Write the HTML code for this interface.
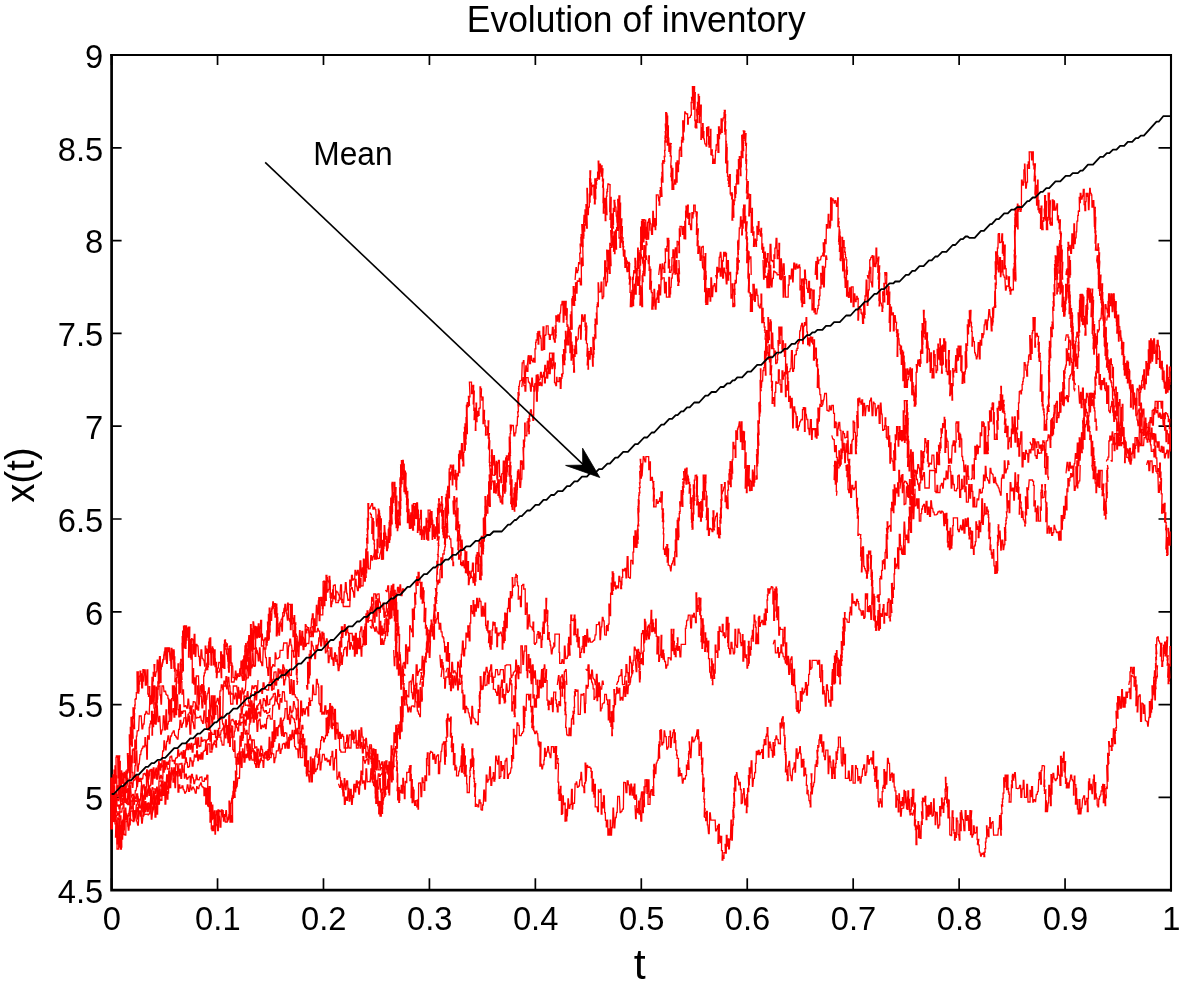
<!DOCTYPE html>
<html><head><meta charset="utf-8"><title>Evolution of inventory</title>
<style>
html,body{margin:0;padding:0;background:#fff;}
svg{display:block;}
text{font-family:"Liberation Sans",sans-serif;fill:#000;}
</style></head><body>
<svg width="1181" height="991" viewBox="0 0 1181 991">
<rect width="1181" height="991" fill="#fff"/>
<path d="M111.60 890.20V878.20M111.60 55.00V65.00M217.54 890.20V878.20M217.54 55.00V65.00M323.48 890.20V878.20M323.48 55.00V65.00M429.42 890.20V878.20M429.42 55.00V65.00M535.36 890.20V878.20M535.36 55.00V65.00M641.30 890.20V878.20M641.30 55.00V65.00M747.24 890.20V878.20M747.24 55.00V65.00M853.18 890.20V878.20M853.18 55.00V65.00M959.12 890.20V878.20M959.12 55.00V65.00M1065.06 890.20V878.20M1065.06 55.00V65.00M1171.00 890.20V878.20M1171.00 55.00V65.00M111.60 890.20H121.60M1171.00 890.20H1158.50M111.60 797.40H121.60M1171.00 797.40H1158.50M111.60 704.60H121.60M1171.00 704.60H1158.50M111.60 611.80H121.60M1171.00 611.80H1158.50M111.60 519.00H121.60M1171.00 519.00H1158.50M111.60 426.20H121.60M1171.00 426.20H1158.50M111.60 333.40H121.60M1171.00 333.40H1158.50M111.60 240.60H121.60M1171.00 240.60H1158.50M111.60 147.80H121.60M1171.00 147.80H1158.50M111.60 55.00H121.60M1171.00 55.00H1158.50" stroke="#000" stroke-width="1.7" fill="none"/>
<path d="M110.30 55.00H1172.00M1171.00 54.00V891.50" stroke="#000" stroke-width="2.1" fill="none"/>
<path d="M111.60 54.00V891.50M110.30 890.20H1172.00" stroke="#000" stroke-width="2.7" fill="none"/>
<g fill="none" stroke="#ff0000" stroke-width="1.3" stroke-linejoin="miter" stroke-miterlimit="2"><path d="M575.1 280.0L576.0 267.7L576.4 267.7L576.9 272.7L577.6 272.7L577.7 270.3L578.2 270.3L578.6 262.6L579.3 262.6L579.0 263.8L579.5 263.8L579.3 263.8L580.1 263.8L579.7 253.2L580.6 253.2L580.1 244.2L580.8 244.2L580.4 245.9L581.1 245.9L580.8 237.4L581.3 237.4L581.1 234.7L581.8 234.7L581.5 241.9L582.4 241.9L581.8 224.6L582.6 224.6L582.2 246.5L583.0 246.5L582.7 231.3L583.6 231.3L583.1 235.7L583.8 235.7L583.6 225.2L584.5 225.2L584.1 231.0L584.7 231.0L584.6 224.6L585.1 224.6L585.0 209.9L585.8 209.9L585.5 214.2L586.3 214.2L586.0 224.1L586.6 224.1L586.5 205.0L587.2 205.0L586.9 188.4L587.4 188.4L587.7 214.6L588.4 214.6L588.5 207.2L589.4 207.2L589.3 194.2L589.9 194.2L589.4 202.0L590.1 202.0L589.6 178.7L590.1 178.7L589.7 196.6L590.3 196.6L589.9 171.0L590.5 171.0L590.0 171.0L590.7 171.0L590.3 179.2L590.8 179.2L590.7 183.2L591.5 183.2L591.0 185.2L591.6 185.2L591.3 194.9L591.8 194.9L591.7 186.5L592.4 186.5L592.9 185.2L593.8 185.2L594.0 198.2L594.6 198.2L594.4 203.9L595.2 203.9L594.8 178.8L595.7 178.8L595.2 198.9L595.8 198.9L595.6 188.2L596.3 188.2L596.0 184.1L596.6 184.1L596.4 180.4L597.2 180.4L597.0 178.4L597.6 178.4L597.6 172.2L598.4 172.2L598.2 161.2L598.8 161.2L598.8 179.0L599.5 179.0L600.0 164.2L600.5 164.2L601.2 173.1L601.7 173.1L601.3 176.2L602.2 176.2L601.5 166.0L602.1 166.0L601.7 168.8L602.5 168.8L601.9 172.1L602.8 172.1L602.1 168.4L602.6 168.4L602.2 168.8L603.0 168.8L602.4 180.9L603.2 180.9L602.6 187.0L603.4 187.0L602.8 179.2L603.5 179.2L603.0 202.7L603.8 202.7L603.2 188.8L603.7 188.8L603.3 213.2L603.9 213.2L603.5 204.1L604.3 204.1L603.9 200.6L604.8 200.6L604.4 207.8L605.2 207.8L604.8 198.4L605.3 198.4L605.2 220.5L606.0 220.5L605.4 220.5L605.9 220.5L605.6 211.7L606.4 211.7L605.8 207.1L606.7 207.1L606.0 202.4L606.6 202.4L606.2 214.6L607.0 214.6L606.4 196.1L607.0 196.1L606.7 192.8L607.1 192.8L606.9 191.3L607.6 191.3L607.1 189.5L607.6 189.5L607.9 184.0L608.6 184.0L608.7 184.3L609.4 184.3L609.4 184.6L610.1 184.6L609.7 211.5L610.3 211.5L610.0 219.4L610.8 219.4L610.2 213.5L610.8 213.5L610.5 197.4L611.2 197.4L610.8 227.3L611.6 227.3L611.0 223.1L611.9 223.1L611.3 218.5L612.2 218.5L611.6 229.6L612.3 229.6L611.8 242.4L612.5 242.4L612.2 238.0L613.0 238.0L612.5 242.8L613.0 242.8L612.8 247.0L613.3 247.0L613.2 240.6L614.1 240.6L613.5 251.0L614.4 251.0L613.9 231.9L614.7 231.9L614.2 251.4L614.8 251.4L614.5 253.7L615.0 253.7L614.9 233.0L615.4 233.0L615.2 240.0L616.0 240.0L615.5 230.4L616.4 230.4L615.9 249.2L616.5 249.2L616.2 229.8L616.7 229.8L616.6 227.7L617.5 227.7L616.9 215.4L617.5 215.4L617.2 211.1L617.8 211.1L617.5 230.4L618.4 230.4L617.7 199.5L618.5 199.5L618.0 217.4L618.7 217.4L618.3 207.0L619.1 207.0L618.6 219.3L619.2 219.3L618.9 195.9L619.8 195.9L619.2 203.7L619.8 203.7L619.4 195.9L619.9 195.9L619.6 211.2L620.3 211.2L619.9 227.9L620.6 227.9L620.1 203.2L620.6 203.2L620.4 229.5L620.9 229.5L620.6 224.6L621.3 224.6L620.8 233.4L621.4 233.4L621.2 218.9L621.9 218.9L621.5 226.7L622.3 226.7L621.8 226.6L622.4 226.6L622.2 237.9L623.1 237.9L622.5 241.5L623.4 241.5L622.9 246.7L623.7 246.7L623.2 249.6L623.8 249.6L623.7 251.6L624.5 251.6L624.1 256.4L624.8 256.4L624.6 259.6L625.5 259.6L625.1 263.2L625.9 263.2L625.6 260.3L626.1 260.3L627.0 271.6L627.6 271.6L628.4 262.3L629.2 262.3L629.6 276.6L630.1 276.6L630.8 280.0"/><path d="M603.5 280.0L604.1 278.1L604.8 278.1L604.7 260.8L605.4 260.8L605.3 272.8L605.9 272.8L605.9 267.6L606.7 267.6L606.3 271.3L607.2 271.3L606.7 250.2L607.4 250.2L607.1 250.4L607.8 250.4L607.5 256.5L608.0 256.5L607.9 260.9L608.6 260.9L608.3 250.4L608.9 250.4L609.1 256.8L609.9 256.8L609.8 243.5L610.4 243.5L610.6 245.3L611.3 245.3L611.8 245.2L612.5 245.2L613.0 236.2L613.9 236.2L614.2 249.7"/><path d="M633.2 280.0L633.8 270.6L634.5 270.6L634.3 272.9L635.2 272.9L634.9 258.4L635.5 258.4L635.5 268.6L636.0 268.6L636.4 277.9L637.1 277.9L637.3 261.2L637.9 261.2L638.2 262.9L639.0 262.9L639.1 252.9L640.0 252.9L639.5 252.8L640.1 252.8L639.9 257.5L640.7 257.5L640.3 258.6L641.1 258.6L640.7 227.2L641.3 227.2L641.1 237.6L641.6 237.6L641.5 221.6L642.3 221.6L642.0 219.6L642.8 219.6L642.6 231.3L643.4 231.3L643.2 224.8L644.0 224.8L643.8 219.6L644.4 219.6L645.0 220.2L645.7 220.2L646.2 239.4L647.1 239.4L647.5 222.3L648.2 222.3L648.7 219.6L649.2 219.6L650.0 230.7"/><path d="M635.0 266.0L635.9 270.0L636.6 270.0L636.8 270.0L637.5 270.0L637.7 248.2L638.2 248.2L638.6 268.4L639.1 268.4L639.0 260.2L639.8 260.2L639.5 256.4L640.0 256.4L640.0 250.6L640.7 250.6L640.5 242.3L641.0 242.3L640.9 228.2L641.7 228.2L641.5 249.3L642.4 249.3L642.1 221.8L642.9 221.8L642.7 230.5L643.4 230.5L643.3 241.9L643.9 241.9L644.1 222.2L645.0 222.2L644.9 238.0L645.7 238.0L645.7 227.5L646.6 227.5L646.9 232.0L647.4 232.0L648.0 239.2L648.6 239.2L649.2 218.6L649.8 218.6L650.4 223.8L651.0 223.8L651.6 234.4L652.5 234.4L652.8 211.3L653.3 211.3L654.0 226.5L654.5 226.5L654.6 218.6L655.1 218.6L655.2 229.7L655.7 229.7L655.7 225.0L656.4 225.0L656.3 194.9L657.1 194.9L657.5 194.9L658.1 194.9L658.7 200.8L659.4 200.8L659.1 205.0L659.8 205.0L659.5 197.2L660.2 197.2L659.9 190.7L660.6 190.7L660.3 187.6L660.8 187.6L660.7 191.7L661.2 191.7L661.1 196.4L662.0 196.4L661.3 179.0L661.9 179.0L661.6 177.2L662.1 177.2L661.9 172.4L662.5 172.4L662.2 163.3L662.7 163.3L662.4 182.1L663.0 182.1L662.7 161.5L663.3 161.5L663.0 160.6L663.6 160.6L663.4 163.0L664.1 163.0L663.8 161.4L664.7 161.4L664.2 156.5L665.0 156.5L664.6 150.4L665.1 150.4L664.8 141.0L665.6 141.0L664.9 138.1L665.5 138.1L665.0 136.1L665.6 136.1L665.2 131.7L665.7 131.7L665.3 124.1L665.9 124.1L665.4 142.1L666.1 142.1L665.6 137.3L666.1 137.3L665.7 112.6L666.5 112.6L665.8 117.7L666.6 117.7L666.2 130.2L667.0 130.2L666.6 113.8L667.1 113.8L667.0 116.1L667.7 116.1L667.3 145.1L668.3 145.1L667.7 125.9L668.4 125.9L668.3 138.1L668.8 138.1L668.9 151.3L669.7 151.3L669.5 143.5L670.3 143.5L670.1 153.4L670.8 153.4L670.2 155.8L670.8 155.8L670.3 143.7L671.2 143.7L670.4 145.8L671.3 145.8L670.5 146.3L671.0 146.3L670.6 156.1L671.3 156.1L670.7 167.0L671.6 167.0L670.8 176.7L671.3 176.7L670.9 173.8L671.5 173.8L671.0 165.8L671.6 165.8L671.5 180.6L672.0 180.6L672.0 189.3L672.6 189.3L672.5 168.3L672.9 168.3L672.9 189.4L673.8 189.4L673.7 184.2L674.4 184.2L674.5 179.8L675.0 179.8L675.3 184.0L675.8 184.0L675.9 163.0L676.4 163.0L676.5 182.0L677.1 182.0L677.1 160.8L677.8 160.8L677.7 171.6L678.5 171.6L678.5 163.8L679.1 163.8L679.3 150.1L679.8 150.1L680.0 147.3L680.9 147.3L680.5 147.2L681.0 147.2L681.0 156.3L681.7 156.3L681.5 140.4L682.1 140.4L681.9 137.5L682.6 137.5L682.4 142.2L683.0 142.2L682.7 120.8L683.3 120.8L682.9 139.7L683.7 139.7L683.1 131.9L683.9 131.9L683.4 127.6L684.1 127.6L683.6 130.8L684.2 130.8L684.8 112.0L685.3 112.0L686.0 113.6L686.7 113.6L686.8 114.0L687.6 114.0L687.6 124.0L688.3 124.0L688.3 118.0L688.9 118.0L689.5 117.3L690.2 117.3L690.7 115.1L691.4 115.1L691.1 102.5L692.0 102.5L691.5 97.3L692.0 97.3L692.0 100.1L692.6 100.1L692.4 86.6L692.9 86.6L692.8 92.8L693.6 92.8L693.3 109.0L694.1 109.0L693.8 86.6L694.6 86.6L694.3 101.2L695.2 101.2L694.5 92.6L695.3 92.6L694.8 120.5L695.4 120.5L695.1 127.0L695.8 127.0L695.4 122.0L695.9 122.0L695.6 126.9L696.2 126.9L695.9 127.8L696.8 127.8L696.2 127.8L696.9 127.8L696.4 119.9L697.2 119.9L696.6 109.4L697.3 109.4L696.8 114.9L697.4 114.9L697.0 122.3L697.6 122.3L697.2 107.2L697.7 107.2L697.4 102.4L698.2 102.4L697.6 114.4L698.4 114.4L697.8 109.7L698.5 109.7L698.2 94.5L698.7 94.5L698.5 102.4L699.0 102.4L698.8 96.6L699.5 96.6L699.2 122.7L699.7 122.7L699.5 114.2L700.0 114.2L700.0 116.2L700.5 116.2L700.4 105.2L701.3 105.2L700.9 139.3L701.4 139.3L701.4 127.7L702.1 127.7L702.0 137.5L702.9 137.5L702.6 123.6L703.1 123.6L703.2 131.7L703.9 131.7L703.8 138.9L704.3 138.9L704.9 143.9L705.7 143.9L706.1 146.2L706.7 146.2L706.6 127.7L707.4 127.7L707.1 131.5L707.7 131.5L707.5 135.8L708.3 135.8L708.0 126.9L708.8 126.9L708.5 144.0L709.1 144.0L709.0 147.1L709.9 147.1L709.4 136.7L710.3 136.7L709.9 139.2L710.6 139.2L710.4 129.5L710.9 129.5L710.9 154.6L711.5 154.6L711.5 149.9L712.3 149.9L712.1 155.3L712.9 155.3L712.6 163.3L713.4 163.3L713.2 159.1L714.0 159.1L714.4 163.3L715.1 163.3L715.6 150.3L716.1 150.3L716.2 145.0L716.7 145.0L716.8 144.5L717.5 144.5L717.4 134.6L717.9 134.6L718.0 152.3L718.9 152.3L718.5 127.0L719.3 127.0L718.9 138.7L719.5 138.7L719.4 130.9L720.3 130.9L719.9 133.8L720.7 133.8L720.5 129.4L721.0 129.4L721.1 119.0L721.7 119.0L721.7 132.3L722.2 132.3L722.2 120.9L722.9 120.9L723.2 117.8L724.0 117.8L724.1 112.4L724.8 112.4L724.3 110.3L725.1 110.3L724.4 110.3L725.3 110.3L724.6 131.1L725.0 131.1L724.7 122.5L725.4 122.5L724.9 114.7L725.6 114.7L725.0 134.2L725.7 134.2L725.1 121.7L725.7 121.7L725.3 130.2L726.2 130.2L725.4 131.9L726.0 131.9L725.6 162.7L726.4 162.7L725.8 141.3L726.4 141.3L726.0 144.2L726.8 144.2L726.2 163.0L726.9 163.0L726.4 160.1L726.9 160.1L726.6 147.7L727.2 147.7L726.8 172.7L727.4 172.7L727.0 169.1L727.5 169.1L727.3 161.1L727.8 161.1L727.5 176.4L728.3 176.4L727.8 180.2L728.6 180.2L728.1 180.8L728.7 180.8L728.4 183.6L729.3 183.6L728.6 186.4L729.4 186.4L729.4 174.6L730.3 174.6L730.2 193.8L730.8 193.8L731.0 195.7L731.6 195.7L731.2 195.3L732.1 195.3L731.4 192.8L732.2 192.8L731.6 198.8L732.4 198.8L731.8 194.5L732.5 194.5L732.0 220.2L732.8 220.2L732.2 217.7L733.0 217.7L732.7 199.9L733.4 199.9L733.2 217.1L733.9 217.1L733.6 204.5L734.3 204.5L734.1 200.6L734.9 200.6L734.6 186.7L735.2 186.7L735.0 197.4L735.6 197.4L735.5 193.6L736.2 193.6L736.0 184.0L736.7 184.0L736.5 175.2L737.0 175.2L736.9 169.8L737.6 169.8L737.4 181.0L738.1 181.0L737.9 183.8L738.7 183.8L738.4 159.7L739.1 159.7L738.8 168.8L739.5 168.8L739.3 156.6L740.0 156.6L739.8 162.5L740.4 162.5L740.3 175.6L741.0 175.6L740.7 166.8L741.3 166.8L741.2 151.4L742.0 151.4L741.7 135.5L742.2 135.5L742.0 148.1L742.8 148.1L742.2 157.5L743.0 157.5L742.5 140.6L743.3 140.6L742.8 150.5L743.7 150.5L743.0 134.5L743.9 134.5L743.3 131.0L744.1 131.0L743.6 138.4L744.3 138.4L744.0 131.5L744.9 131.5L744.4 133.9L745.3 133.9L744.8 140.3L745.4 140.3L745.2 143.2L745.7 143.2L745.3 133.6L745.9 133.6L745.4 134.6L746.0 134.6L745.5 145.4L746.2 145.4L745.6 143.5L746.5 143.5L745.7 160.9L746.3 160.9L745.8 163.0L746.6 163.0L745.9 154.9L746.5 154.9L746.0 159.2L746.7 159.2L746.1 159.9L746.7 159.9L746.2 169.5L746.8 169.5L746.3 179.7L746.9 179.7L746.4 192.8L747.3 192.8L746.8 198.5L747.3 198.5L747.2 190.1L748.1 190.1L747.6 181.7L748.3 181.7L748.0 193.8L748.8 193.8L748.4 198.2L749.3 198.2L748.8 215.9L749.5 215.9L749.4 204.7L750.0 204.7L750.0 194.6L750.6 194.6L750.6 212.3L751.3 212.3L751.2 232.4L751.9 232.4L751.6 218.7L752.2 218.7L752.0 208.5L752.4 208.5L752.4 227.2L753.1 227.2L752.7 235.1L753.2 235.1L753.1 231.9L754.0 231.9L753.5 246.3L754.3 246.3L754.7 239.1L755.5 239.1L755.9 246.3L756.5 246.3L756.4 240.4L757.0 240.4L756.9 226.4L757.7 226.4L757.3 232.6L757.9 232.6L757.8 234.4L758.3 234.4L758.3 221.7L759.0 221.7L758.9 229.7L759.5 229.7L759.5 231.2L760.0 231.2L760.1 235.0L761.0 235.0L760.7 236.2L761.5 236.2L761.0 228.3L761.6 228.3L761.4 234.0L761.9 234.0L761.8 249.0L762.7 249.0L762.2 243.8L762.7 243.8L762.6 252.3L763.4 252.3L763.0 247.3L763.8 247.3L763.6 258.1L764.4 258.1L764.2 272.4L765.1 272.4L764.8 252.2L765.3 252.2L765.4 258.9L766.0 258.9L765.9 266.9L766.7 266.9L766.3 261.0L767.2 261.0L766.8 258.3L767.4 258.3L767.3 253.6L768.2 253.6L767.8 262.2L768.6 262.2L768.9 268.2L769.7 268.2L770.1 244.4L770.9 244.4L771.3 260.5L772.2 260.5L772.5 261.7L773.0 261.7L773.0 260.6L773.9 260.6L773.5 267.6L774.2 267.6L773.9 254.9L774.5 254.9L774.4 258.4L774.9 258.4L774.9 248.1L775.7 248.1L776.1 238.3L776.9 238.3L777.2 258.5L778.1 258.5L777.6 254.3L778.1 254.3L777.9 255.7L778.7 255.7L778.3 250.4L779.0 250.4L778.6 254.3L779.2 254.3L778.9 243.4L779.6 243.4L779.3 272.4L779.8 272.4L779.6 278.8L780.3 278.8L780.8 258.9L781.4 258.9L782.0 277.5L782.7 277.5L783.2 263.9L784.1 263.9L784.4 275.0"/><path d="M658.7 275.0L659.9 264.4L660.6 264.4L661.1 279.0L661.7 279.0L662.3 264.0L662.8 264.0L663.4 268.6L664.2 268.6L664.0 272.4L664.9 272.4L664.6 262.5L665.5 262.5L665.2 248.8L666.1 248.8L665.8 248.6L666.5 248.6L666.3 251.0L667.2 251.0L666.8 246.5L667.5 246.5L667.2 238.3L667.7 238.3L667.7 238.3L668.6 238.3L667.9 245.1L668.6 245.1L668.1 238.3L668.7 238.3L668.3 267.9L668.8 267.9L668.5 240.7L669.0 240.7L668.8 259.4L669.5 259.4L669.0 260.1L669.5 260.1L669.2 266.9L669.9 266.9L669.4 272.4L669.9 272.4L670.3 272.4L670.9 272.4L671.2 270.1L671.7 270.1L672.0 257.6L672.8 257.6L672.9 249.8L673.8 249.8L674.1 272.4L674.6 272.4L675.3 248.0L675.9 248.0L675.9 250.5L676.5 250.5L676.5 257.6L677.2 257.6L677.1 241.3L677.6 241.3L677.7 241.8L678.2 241.8L678.1 241.9L678.7 241.9L678.5 244.8L679.0 244.8L678.9 252.5L679.5 252.5L679.3 228.8L680.1 228.8L679.6 236.2L680.5 236.2L680.0 226.4L680.7 226.4L681.2 226.4L681.7 226.4L682.4 234.3L683.2 234.3L683.2 226.7L683.9 226.7L684.0 238.6L684.8 238.6L684.8 221.3L685.3 221.3L685.2 238.9L685.7 238.9L685.6 211.2L686.1 211.2L686.0 206.1L686.8 206.1L686.4 217.0L686.9 217.0L686.8 215.7L687.4 215.7L687.2 206.4L688.0 206.4L687.6 205.1L688.3 205.1L688.0 218.4L688.7 218.4L688.4 214.3L689.2 214.3L688.8 224.4L689.6 224.4L689.1 213.3L690.0 213.3L689.5 224.0L690.2 224.0L690.7 229.7L691.6 229.7L691.9 212.6L692.4 212.6L692.5 217.8L693.0 217.8L693.1 213.6L693.7 213.6L693.7 205.2L694.3 205.2L694.3 205.1L695.2 205.1L695.2 211.7L696.1 211.7L696.2 216.1L696.7 216.1L696.4 234.4L697.1 234.4L696.5 212.2L697.3 212.2L696.7 224.2L697.2 224.2L696.9 229.0L697.5 229.0L697.1 245.6L697.6 245.6L697.3 236.9L697.9 236.9L697.5 228.8L698.4 228.8L697.6 240.9L698.2 240.9L697.8 253.4L698.5 253.4L699.0 246.3L699.7 246.3L700.2 260.3L701.1 260.3L701.4 247.2L702.0 247.2L702.6 246.5L703.3 246.5L703.1 257.5L703.9 257.5L703.7 269.5L704.5 269.5L704.2 257.0L705.1 257.0L704.5 261.1L705.0 261.1L704.9 261.8L705.6 261.8L705.2 253.6L705.8 253.6L705.5 276.5L706.0 276.5L705.8 279.0L706.3 279.0L706.1 275.0"/><path d="M715.6 275.0L716.5 278.1L717.2 278.1L717.4 269.1L718.1 269.1L718.3 268.1L719.0 268.1L719.2 257.3L719.8 257.3L720.3 252.5L720.9 252.5L721.5 261.9L722.2 261.9L722.7 261.1L723.3 261.1L723.7 252.5L724.4 252.5L724.6 256.1L725.5 256.1L725.0 252.5L725.6 252.5L725.4 254.1L726.3 254.1L725.9 253.5L726.5 253.5L726.3 268.4L727.1 268.4L727.5 260.7L728.4 260.7L728.6 275.0"/><path d="M736.9 275.0L737.0 273.4L737.7 273.4L737.1 266.9L737.7 266.9L737.2 264.2L738.1 264.2L737.3 269.8L738.1 269.8L737.4 259.2L738.1 259.2L737.5 268.9L738.3 268.9L737.6 242.0L738.5 242.0L737.7 248.9L738.4 248.9L737.8 253.4L738.5 253.4L737.9 254.3L738.4 254.3L738.0 240.4L738.7 240.4L738.1 249.4L738.8 249.4L739.3 228.0L740.2 228.0L740.5 216.8L741.1 216.8L740.9 224.6L741.5 224.6L741.3 226.1L742.0 226.1L741.7 234.8L742.4 234.8L742.2 220.5L742.8 220.5L742.6 228.2L743.1 228.2L743.1 208.9L743.7 208.9L743.6 205.1L744.5 205.1L744.1 222.9L744.9 222.9L744.5 205.1L745.1 205.1L745.0 216.3L745.7 216.3L745.5 230.9L746.3 230.9L746.0 222.5L746.6 222.5L746.0 238.7L746.6 238.7L746.1 227.2L746.6 227.2L746.2 221.9L747.2 221.9L746.3 232.4L747.0 232.4L746.4 236.8L747.2 236.8L746.5 250.4L747.0 250.4L746.6 237.0L747.3 237.0L746.7 262.5L747.6 262.5L746.8 239.2L747.5 239.2L746.9 243.2L747.6 243.2L747.4 250.8L748.1 250.8L747.8 261.7L748.7 261.7L748.3 252.0L749.1 252.0L748.8 259.3L749.3 259.3L750.0 256.8L750.9 256.8L751.2 275.0"/><path d="M815.2 275.0L815.9 261.6L816.5 261.6L816.6 279.0L817.5 279.0L817.3 257.5L817.8 257.5L818.0 263.5L818.6 263.5L818.7 260.1L819.3 260.1L819.9 259.9L820.6 259.9L821.1 256.3L821.7 256.3L822.3 255.4L822.9 255.4L822.8 253.1L823.6 253.1L823.2 243.0L823.9 243.0L823.7 256.1L824.3 256.1L824.2 252.1L824.9 252.1L824.7 239.6L825.5 239.6L825.6 243.5L826.1 243.5L826.4 224.6L826.9 224.6L827.3 228.2L827.9 228.2L828.2 214.3L828.9 214.3L828.8 221.1L829.4 221.1L829.4 227.9L830.3 227.9L830.0 225.8L830.6 225.8L830.6 198.0L831.5 198.0L831.4 220.0L832.0 220.0L832.2 198.8L833.0 198.8L833.0 200.4L833.8 200.4L834.1 203.0L834.6 203.0L835.3 200.6L835.8 200.6L836.5 206.3L837.3 206.3L837.7 198.0L838.2 198.0L837.9 226.6L838.7 226.6L838.0 221.5L838.6 221.5L838.2 218.4L838.8 218.4L838.3 221.9L839.1 221.9L838.5 226.7L839.3 226.7L838.6 241.3L839.4 241.3L838.8 237.0L839.5 237.0L838.9 244.0L839.7 244.0L839.1 230.1L839.8 230.1L839.2 231.8L840.0 231.8L839.4 251.4L840.2 251.4L839.8 236.2L840.4 236.2L840.3 260.5L841.1 260.5L840.8 247.3L841.6 247.3L841.3 258.1L842.1 258.1L841.9 237.4L842.6 237.4L842.4 258.0L843.3 258.0L843.0 246.0L843.8 246.0L843.6 240.7L844.1 240.7L844.1 247.7L845.0 247.7L844.6 252.2L845.4 252.2L845.1 254.4L845.5 254.4L845.5 257.7L846.2 257.7L846.0 259.8L846.8 259.8L846.3 271.7L846.8 271.7L846.6 267.1L847.2 267.1L846.9 270.3L847.5 270.3L847.2 275.0"/><path d="M867.3 275.0L867.9 278.1L868.7 278.1L868.5 275.8L869.1 275.8L869.1 271.2L869.9 271.2L869.7 259.8L870.5 259.8L870.9 257.3L871.7 257.3L872.1 255.6L872.6 255.6L873.3 266.2L873.9 266.2L874.4 266.4L875.1 266.4L875.2 266.6L875.8 266.6L876.0 248.1L876.7 248.1L876.8 258.7L877.3 258.7L877.2 261.0L877.9 261.0L877.5 258.7L878.0 258.7L877.8 272.3L878.7 272.3L878.2 279.0L878.9 279.0L878.5 270.1L879.3 270.1L878.9 265.8L879.7 265.8L879.2 275.0"/><path d="M994.8 275.0L995.0 279.0L995.6 279.0L995.2 261.9L996.0 261.9L995.4 273.9L996.2 273.9L995.6 251.9L996.3 251.9L995.8 265.3L996.3 265.3L996.0 269.6L996.9 269.6L996.7 264.2L997.6 264.2L997.4 248.0L998.0 248.0L998.2 234.1L999.1 234.1L998.9 233.6L999.5 233.6L999.6 242.5L1000.4 242.5L1000.8 242.2L1001.4 242.2L1001.9 233.8L1002.6 233.8L1002.4 253.0L1003.3 253.0L1002.9 242.0L1003.4 242.0L1003.4 255.3L1004.1 255.3L1003.8 268.9L1004.5 268.9L1004.3 245.1L1005.2 245.1L1004.9 265.9L1005.4 265.9L1005.5 268.6L1006.1 268.6L1006.1 279.0L1006.9 279.0L1006.7 275.0"/><path d="M1013.8 275.0L1013.9 279.0L1014.6 279.0L1013.9 267.2L1014.7 267.2L1014.0 263.5L1014.7 263.5L1014.1 270.6L1014.7 270.6L1014.2 264.4L1014.7 264.4L1014.2 254.9L1014.8 254.9L1014.3 250.4L1014.8 250.4L1014.4 261.1L1015.0 261.1L1014.5 231.2L1015.3 231.2L1014.5 254.0L1015.4 254.0L1014.6 225.7L1015.5 225.7L1014.7 249.0L1015.3 249.0L1014.8 219.6L1015.6 219.6L1014.8 218.1L1015.3 218.1L1014.9 214.1L1015.4 214.1L1015.0 208.8L1015.8 208.8L1016.2 226.7L1017.0 226.7L1017.4 204.1L1017.9 204.1L1017.7 228.9L1018.1 228.9L1017.9 211.1L1018.7 211.1L1018.2 208.2L1019.1 208.2L1018.5 205.8L1019.1 205.8L1019.1 209.4L1019.6 209.4L1019.7 206.7L1020.4 206.7L1020.3 211.3L1021.0 211.3L1020.9 209.6L1021.4 209.6L1021.5 180.2L1022.2 180.2L1022.1 182.0L1022.8 182.0L1022.7 185.2L1023.5 185.2L1023.3 182.6L1023.9 182.6L1023.9 169.8L1024.6 169.8L1024.5 164.2L1024.9 164.2L1025.7 188.1L1026.3 188.1L1026.8 182.1L1027.5 182.1L1027.3 164.8L1028.0 164.8L1027.8 164.6L1028.3 164.6L1028.3 162.0L1028.8 162.0L1028.7 168.4L1029.5 168.4L1029.2 151.8L1029.7 151.8L1030.4 151.8L1031.2 151.8L1031.6 159.8L1032.2 159.8L1032.4 151.8L1033.3 151.8L1033.2 164.9L1034.0 164.9L1033.9 168.8L1034.7 168.8L1034.1 180.8L1034.9 180.8L1034.3 176.6L1035.1 176.6L1034.5 164.0L1035.4 164.0L1034.7 176.4L1035.5 176.4L1034.9 194.1L1035.7 194.1L1035.1 188.1L1035.6 188.1L1035.2 189.9L1036.0 189.9L1035.4 195.9L1035.9 195.9L1035.6 185.5L1036.2 185.5L1036.6 205.1L1037.4 205.1L1037.5 180.2L1038.1 180.2L1038.0 209.5L1038.8 209.5L1038.5 200.5L1038.9 200.5L1038.9 212.1L1039.7 212.1L1039.4 208.7L1040.0 208.7L1039.9 213.3L1040.6 213.3L1040.5 228.3L1040.9 228.3L1041.1 206.2L1041.9 206.2L1041.7 229.7L1042.1 229.7L1042.2 229.7L1043.1 229.7L1042.6 220.9L1043.4 220.9L1043.0 221.3L1043.7 221.3L1043.4 217.7L1043.9 217.7L1043.8 218.6L1044.6 218.6L1044.2 209.2L1044.7 209.2L1044.6 195.7L1045.5 195.7L1045.2 220.1L1045.9 220.1L1045.8 201.3L1046.5 201.3L1046.4 229.7L1047.1 229.7L1047.0 229.7L1047.7 229.7L1047.3 217.8L1047.9 217.8L1047.5 220.7L1048.0 220.7L1047.8 217.5L1048.6 217.5L1048.1 193.2L1048.8 193.2L1048.3 193.2L1048.9 193.2L1048.6 200.1L1049.1 200.1L1048.9 193.2L1049.5 193.2L1049.1 200.4L1050.0 200.4L1049.4 219.4L1050.0 219.4L1049.6 201.2L1050.4 201.2L1049.8 223.5L1050.5 223.5L1050.1 223.9L1051.0 223.9L1050.3 218.1L1050.9 218.1L1050.5 225.0L1051.1 225.0L1051.0 225.0L1051.7 225.0L1051.4 222.3L1052.1 222.3L1051.9 225.0L1052.4 225.0L1052.3 200.0L1053.0 200.0L1052.7 204.4L1053.5 204.4L1053.2 210.1L1053.7 210.1L1053.6 201.0L1054.4 201.0L1055.0 210.2L1055.9 210.2L1056.5 205.9L1056.9 205.9L1056.9 203.8L1057.5 203.8L1057.4 219.9L1058.0 219.9L1057.9 215.8L1058.5 215.8L1058.4 221.8L1059.2 221.8L1058.8 222.7L1059.4 222.7L1059.2 228.8L1059.7 228.8L1059.6 220.0L1060.4 220.0L1060.0 233.4L1060.9 233.4L1060.2 231.9L1060.9 231.9L1060.4 246.3L1060.9 246.3L1060.5 233.3L1061.4 233.3L1060.7 245.7L1061.6 245.7L1060.9 252.3L1061.4 252.3L1061.0 248.3L1061.6 248.3L1061.2 255.3L1061.7 255.3L1061.4 261.4L1062.0 261.4L1061.6 250.2L1062.3 250.2L1061.8 279.0L1062.7 279.0L1062.0 268.4L1062.6 268.4L1062.2 262.5L1062.8 262.5L1062.4 275.0"/><path d="M1056.5 275.0L1056.6 256.4L1057.4 256.4L1056.8 279.0L1057.6 279.0L1057.0 266.3L1057.7 266.3L1057.1 246.3L1057.6 246.3L1057.3 257.7L1058.1 257.7L1057.5 265.3L1058.2 265.3L1057.7 262.6L1058.4 262.6L1058.5 247.2L1059.2 247.2L1059.3 244.2L1060.1 244.2L1059.5 260.1L1060.3 260.1L1059.7 240.7L1060.5 240.7L1059.9 269.7L1060.5 269.7L1060.1 241.7L1060.6 241.7L1060.3 261.1L1060.9 261.1L1060.5 272.7L1061.1 272.7L1060.7 268.4"/><path d="M1066.0 275.0L1066.3 271.7L1067.0 271.7L1066.5 270.2L1067.4 270.2L1066.8 274.5L1067.7 274.5L1067.1 268.9L1067.7 268.9L1067.4 271.6L1068.1 271.6L1067.7 247.7L1068.3 247.7L1068.0 242.5L1068.7 242.5L1068.3 250.4L1068.9 250.4L1069.5 245.3L1070.2 245.3L1070.7 253.3L1071.5 253.3L1071.9 233.8L1072.5 233.8L1073.1 248.4L1073.7 248.4L1073.9 224.0L1074.5 224.0L1074.6 243.7L1075.2 243.7L1075.4 237.8L1076.1 237.8L1076.2 231.8L1076.7 231.8L1077.0 221.2L1077.7 221.2L1077.8 215.3L1078.4 215.3L1078.3 211.4L1079.0 211.4L1078.8 211.0L1079.5 211.0L1079.2 197.5L1079.7 197.5L1079.7 202.5L1080.4 202.5L1080.2 193.4L1080.9 193.4L1081.4 199.2L1082.0 199.2L1082.6 196.0L1083.0 196.0L1083.3 189.5L1084.2 189.5L1084.1 204.5L1084.8 204.5L1084.9 210.7L1085.7 210.7L1085.5 201.7L1086.1 201.7L1086.1 193.5L1086.6 193.5L1086.7 196.3L1087.2 196.3L1087.3 193.3L1088.0 193.3L1088.5 209.6L1089.0 209.6L1089.7 188.5L1090.2 188.5L1090.5 193.3L1091.2 193.3L1091.2 195.0L1091.8 195.0L1092.0 207.0L1092.7 207.0L1093.2 200.6L1093.8 200.6L1094.4 226.3L1095.0 226.3L1094.5 207.3L1095.3 207.3L1094.6 218.4L1095.4 218.4L1094.7 228.2L1095.6 228.2L1094.8 210.7L1095.3 210.7L1094.9 232.6L1095.5 232.6L1095.0 217.3L1095.8 217.3L1095.1 243.2L1095.9 243.2L1095.2 231.1L1095.9 231.1L1095.3 238.1L1096.2 238.1L1095.4 250.1L1096.3 250.1L1095.5 235.5L1096.3 235.5L1095.6 248.6L1096.1 248.6L1096.8 250.4L1097.7 250.4L1098.0 243.8L1098.5 243.8L1098.2 247.9L1098.9 247.9L1098.4 274.0L1098.9 274.0L1098.6 259.1L1099.4 259.1L1098.8 253.0L1099.6 253.0L1098.9 272.4L1099.6 272.4L1099.1 275.0"/><path d="M635.0 288.4L635.9 278.2L636.7 278.2L636.8 280.9L637.3 280.9L637.7 285.3L638.4 285.3L638.6 280.9L639.1 280.9L638.8 283.7L639.7 283.7L639.1 270.2L640.0 270.2L639.3 294.3L639.8 294.3L639.6 288.4L640.5 288.4L639.9 305.0L640.6 305.0L640.1 285.9L640.8 285.9L640.4 297.4L641.3 297.4L640.7 304.8L641.4 304.8L640.9 302.1L641.8 302.1L641.2 297.7L641.8 297.7L641.5 287.6L642.1 287.6L641.8 306.7L642.6 306.7L642.1 276.0L642.8 276.0L642.4 281.5L643.1 281.5L642.7 274.0L643.6 274.0L643.0 271.4L643.8 271.4L643.3 262.7L644.2 262.7L643.6 266.3L644.1 266.3L643.9 260.4L644.6 260.4L644.2 275.7L644.9 275.7L644.5 273.9L645.0 273.9L645.7 256.0L646.5 256.0L646.9 260.0"/><path d="M648.0 260.0L648.4 263.5L648.9 263.5L648.7 256.0L649.4 256.0L649.1 270.4L649.8 270.4L649.4 266.8L650.0 266.8L649.7 289.1L650.2 289.1L650.1 274.4L650.8 274.4L650.4 269.3L650.9 269.3L650.7 281.3L651.5 281.3L651.1 291.1L651.7 291.1L651.4 292.7L652.3 292.7L651.8 309.0L652.2 309.0L652.1 297.6L652.8 297.6L652.4 309.0L653.0 309.0L652.8 305.8L653.6 305.8L654.0 289.4L654.6 289.4L655.2 309.0L656.0 309.0L656.3 299.1L657.1 299.1L656.8 298.1L657.3 298.1L657.3 293.1L657.8 293.1L657.8 291.0L658.6 291.0L658.2 302.4L659.0 302.4L658.7 284.9L659.4 284.9L659.9 294.9L660.6 294.9L661.1 279.5L661.6 279.5L662.3 277.8L663.1 277.8L663.4 277.9L664.2 277.9L664.6 292.9L665.5 292.9L665.5 282.5L666.3 282.5L666.4 297.2L667.1 297.2L667.3 297.2L668.2 297.2L668.2 297.2L668.9 297.2L668.8 277.3L669.5 277.3L669.4 297.2L670.0 297.2L670.0 293.8L670.6 293.8L670.6 287.3L671.1 287.3L671.5 278.1L672.2 278.1L672.3 273.9L673.1 273.9L673.2 265.5L673.8 265.5L674.1 261.9L675.0 261.9L675.0 274.0L675.6 274.0L675.9 260.6L676.8 260.6L676.8 273.4L677.3 273.4L677.7 281.2L678.5 281.2L677.8 285.3L678.8 285.3L678.0 276.2L678.8 276.2L678.2 284.8L678.7 284.8L678.4 268.9L679.3 268.9L678.5 281.9L679.4 281.9L678.7 273.7L679.5 273.7L678.9 260.0"/><path d="M700.2 260.0L701.4 256.0L702.0 256.0L702.6 267.9L703.4 267.9L703.8 267.6L704.4 267.6L704.0 279.4L704.8 279.4L704.3 259.5L704.9 259.5L704.6 291.5L705.2 291.5L704.9 280.6L705.7 280.6L705.2 271.5L706.0 271.5L705.5 302.0L706.1 302.0L705.8 304.3L706.7 304.3L706.1 288.3L707.0 288.3L707.3 304.3L707.8 304.3L708.5 288.6L709.4 288.6L709.3 296.6L710.1 296.6L710.1 301.2L710.7 301.2L710.9 278.0L711.5 278.0L712.1 296.5L712.6 296.5L713.2 285.9L714.1 285.9L714.4 283.6L715.0 283.6L715.6 291.6L716.5 291.6L716.8 267.3L717.4 267.3L718.0 272.0L718.6 272.0L719.2 268.5L720.0 268.5L720.3 276.1L721.2 276.1L721.5 260.7L722.4 260.7L722.7 278.2L723.5 278.2L723.9 268.2L724.4 268.2L725.1 272.8L725.6 272.8L726.3 283.8L727.0 283.8L727.1 265.5L727.6 265.5L727.9 280.2L728.7 280.2L728.6 274.8L729.1 274.8L729.8 272.5L730.6 272.5L731.0 298.2L731.8 298.2L731.6 294.5L732.5 294.5L732.2 284.0L733.0 284.0L732.8 306.7L733.6 306.7L733.4 303.3L734.3 303.3L733.6 306.7L734.2 306.7L733.8 306.7L734.7 306.7L734.0 305.9L734.9 305.9L734.2 289.5L735.0 289.5L734.4 294.3L735.0 294.3L734.6 283.5L735.3 283.5L735.2 280.5L735.9 280.5L735.8 282.8L736.3 282.8L736.4 272.4L737.0 272.4L736.9 258.1L737.8 258.1L737.7 258.8L738.3 258.8L738.5 262.2L739.2 262.2L739.3 260.0"/><path d="M747.6 260.0L747.7 262.3L748.2 262.3L747.9 277.2L748.6 277.2L748.0 256.0L748.9 256.0L748.1 278.4L748.8 278.4L748.3 291.9L749.1 291.9L748.4 277.7L749.1 277.7L748.5 273.9L749.1 273.9L748.7 285.4L749.3 285.4L748.8 274.6L749.4 274.6L749.2 292.9L749.8 292.9L749.6 292.9L750.4 292.9L750.0 296.0L750.6 296.0L750.4 311.4L751.1 311.4L750.8 311.4L751.4 311.4L751.2 294.5L751.8 294.5L751.8 311.4L752.4 311.4L752.4 299.8L753.2 299.8L752.9 284.4L753.8 284.4L753.5 284.4L754.2 284.4L754.7 301.3L755.3 301.3L755.9 289.2L756.8 289.2L757.1 295.3L757.9 295.3L758.3 305.6L758.7 305.6L759.5 307.9L760.3 307.9L760.3 304.2L761.1 304.2L761.0 294.1L761.7 294.1L761.8 322.7L762.6 322.7L762.4 308.4L763.1 308.4L763.0 317.7L763.9 317.7L763.6 322.6L764.3 322.6L764.2 327.1L765.1 327.1L764.5 330.2L765.3 330.2L764.8 332.2L765.6 332.2L765.1 339.0L765.9 339.0L765.4 352.6L765.9 352.6L766.0 349.8L766.6 349.8L766.6 346.6L767.2 346.6L767.2 352.6L767.9 352.6L767.8 353.0L768.3 353.0L768.4 359.0L768.8 359.0L768.9 344.9L769.9 344.9L769.5 361.9L770.3 361.9L770.1 374.7L770.7 374.7L770.4 356.3L771.2 356.3L770.6 359.1L771.1 359.1L770.8 365.8L771.7 365.8L771.1 374.2L771.6 374.2L771.3 381.6L772.0 381.6L771.5 387.6L772.2 387.6L771.7 390.2L772.5 390.2L771.9 381.3L772.5 381.3L772.1 403.3L772.9 403.3L772.3 399.8L773.2 399.8L772.5 400.6L773.2 400.6L773.1 397.7L773.7 397.7L773.7 398.2L774.2 398.2L774.3 406.2L774.8 406.2L774.9 392.3L775.7 392.3L775.8 382.0L776.5 382.0L776.7 383.3L777.3 383.3L777.5 383.2L778.3 383.2L778.4 369.8L779.3 369.8L779.2 379.8L780.0 379.8L780.0 384.6L780.9 384.6L780.8 392.0L781.6 392.0L781.4 392.0L781.9 392.0L782.0 370.8L782.9 370.8L782.6 379.1L783.4 379.1L783.2 375.8L784.0 375.8L784.4 372.3L785.1 372.3L785.5 396.5L786.2 396.5L786.0 385.3L786.9 385.3L786.5 387.7L787.0 387.7L787.0 390.1L787.7 390.1L787.4 378.1L788.0 378.1L787.9 381.7L788.6 381.7L788.7 401.4L789.6 401.4L789.5 396.4L790.3 396.4L790.3 407.8L790.9 407.8L791.5 398.5L792.2 398.5L792.7 427.8L793.2 427.8L793.8 406.9L794.7 406.9L795.0 412.2L795.8 412.2L795.6 413.9L796.1 413.9L796.2 427.3L796.7 427.3L796.8 416.6L797.3 416.6L797.4 430.0L798.1 430.0L798.6 426.0L799.3 426.0L799.8 421.8L800.4 421.8L801.0 419.9L801.9 419.9L801.7 419.5L802.4 419.5L802.5 409.6L803.4 409.6L803.3 407.7L804.1 407.7L803.9 407.7L804.4 407.7L804.5 431.4L805.1 431.4L805.1 407.8L805.6 407.8L805.7 414.4L806.3 414.4L806.9 419.5L807.8 419.5L808.1 428.5L808.8 428.5L809.3 434.7L809.8 434.7L810.4 419.6L811.3 419.6L811.6 439.3L812.1 439.3L812.5 428.7L813.3 428.7L813.4 429.7L814.3 429.7L814.3 428.7L815.1 428.7L815.2 436.8L815.7 436.8L815.8 428.6L816.5 428.6L816.4 438.2L817.0 438.2L817.0 419.1L817.4 419.1L817.6 435.1L818.2 435.1L817.7 423.0L818.2 423.0L817.9 408.2L818.8 408.2L818.1 417.9L818.7 417.9L818.3 413.4L818.9 413.4L818.5 417.6L819.0 417.6L818.7 421.0L819.3 421.0L819.9 404.3L820.4 404.3L821.1 406.4L821.9 406.4L822.3 404.5L822.8 404.5L823.5 399.9L823.9 399.9L824.7 393.5L825.2 393.5L825.8 393.5L826.4 393.5L827.0 410.3L827.8 410.3L828.2 411.2L829.1 411.2L829.4 405.8L830.1 405.8L830.6 409.9L831.4 409.9L831.8 405.4L832.4 405.4L832.7 405.4L833.3 405.4L833.6 413.4L834.5 413.4L834.4 427.5L835.3 427.5L835.3 421.9L835.9 421.9L836.1 423.2L836.8 423.2L836.9 435.6L837.8 435.6L837.7 428.8L838.2 428.8L838.9 422.3L839.7 422.3L840.1 430.3L840.9 430.3L841.3 440.1L842.0 440.1L842.4 450.3L843.0 450.3L843.6 443.5L844.2 443.5L844.8 462.5L845.3 462.5L846.0 443.8L846.8 443.8L846.6 452.2L847.3 452.2L847.2 440.9L847.8 440.9L847.8 460.0L848.3 460.0L848.4 462.3L848.8 462.3L848.6 480.8L849.1 480.8L848.8 459.3L849.7 459.3L849.1 474.2L849.8 474.2L849.3 466.1L850.0 466.1L849.6 480.0"/><path d="M755.9 480.0L756.1 476.0L756.8 476.0L756.3 478.9L757.2 478.9L756.5 454.7L757.4 454.7L756.7 465.8L757.6 465.8L756.9 449.6L757.4 449.6L757.1 458.0L757.7 458.0L757.2 455.6L757.8 455.6L757.3 454.3L758.2 454.3L757.5 463.2L758.0 463.2L757.6 434.7L758.2 434.7L757.7 433.3L758.5 433.3L757.8 453.0L758.3 453.0L757.9 420.8L758.4 420.8L758.0 444.7L758.8 444.7L758.2 445.1L758.9 445.1L758.3 434.5L759.1 434.5L758.6 423.1L759.4 423.1L758.9 402.8L759.7 402.8L759.2 415.8L759.9 415.8L759.5 413.6L760.0 413.6L759.6 407.6L760.2 407.6L759.7 405.5L760.6 405.5L759.8 402.1L760.4 402.1L759.9 411.8L760.5 411.8L760.1 380.5L760.6 380.5L760.2 384.2L760.8 384.2L760.3 390.4L760.8 390.4L760.4 369.0L760.9 369.0L760.5 390.5L761.2 390.5L760.7 387.3L761.5 387.3L761.8 381.0L762.6 381.0L763.0 370.5L763.8 370.5L763.8 367.6L764.5 367.6L764.6 351.5L765.4 351.5L765.4 375.2L766.0 375.2L765.6 359.8L766.1 359.8L765.9 341.2L766.5 341.2L766.1 339.8L766.9 339.8L766.3 355.2L766.9 355.2L766.6 330.7L767.2 330.7L766.9 342.0L767.6 342.0L767.3 333.3L768.0 333.3L767.6 342.6L768.4 342.6L767.9 317.6L768.5 317.6L768.3 334.9L768.8 334.9L768.6 339.5L769.4 339.5L768.9 322.8L769.6 322.8L769.5 330.8L770.3 330.8L770.1 320.0L770.7 320.0L770.7 322.0L771.3 322.0L771.3 348.7L772.0 348.7L772.2 333.2L772.7 333.2L773.1 348.7L773.9 348.7L774.0 355.2L774.7 355.2L774.9 351.2L775.5 351.2L775.7 363.6L776.2 363.6L776.5 362.9L777.3 362.9L777.2 359.8L777.7 359.8L777.5 354.6L778.3 354.6L777.8 353.9L778.4 353.9L778.0 340.6L778.5 340.6L778.3 345.2L778.9 345.2L778.6 342.3L779.1 342.3L778.8 327.1L779.6 327.1L779.1 330.5L779.9 330.5L779.4 343.4L780.2 343.4L779.6 327.1L780.5 327.1L780.2 335.0L780.8 335.0L780.8 327.1L781.4 327.1L781.4 327.1L781.9 327.1L782.0 349.2L782.8 349.2L782.6 340.9L783.3 340.9L783.2 350.1L784.1 350.1L783.8 351.7L784.6 351.7L784.4 356.3L785.1 356.3L785.0 343.9L785.7 343.9L785.5 373.9L786.4 373.9L786.1 364.2L787.0 364.2L786.7 366.9L787.4 366.9L787.3 377.8L787.9 377.8L787.9 371.9L788.7 371.9L789.1 371.7L789.8 371.7L790.3 368.7L791.0 368.7L791.5 350.6L792.3 350.6L792.7 371.3L793.5 371.3L793.8 368.3L794.3 368.3L794.6 355.1L795.2 355.1L795.4 354.7L796.3 354.7L796.2 350.3L797.1 350.3L797.0 348.3L797.9 348.3L797.8 343.7L798.5 343.7L798.6 341.9L799.4 341.9L799.8 330.9L800.4 330.9L801.0 325.9L801.4 325.9L801.8 323.3L802.5 323.3L802.7 343.5L803.3 343.5L803.6 326.2L804.3 326.2L804.5 322.6L805.1 322.6L805.3 325.1L805.8 325.1L806.1 317.6L806.7 317.6L806.9 331.8L807.4 331.8L807.7 344.6L808.4 344.6L808.5 338.1L809.2 338.1L809.3 345.8L809.8 345.8L810.4 337.0L811.0 337.0L811.6 342.0L812.4 342.0L812.1 337.4L812.7 337.4L812.6 343.4L813.1 343.4L813.0 344.1L813.7 344.1L813.5 360.0L814.4 360.0L814.0 339.8L814.5 339.8L814.6 358.0L815.3 358.0L815.2 358.3L816.1 358.3L815.8 348.1L816.4 348.1L816.4 365.5L816.8 365.5L816.6 359.2L817.5 359.2L816.8 366.6L817.5 366.6L817.1 364.7L817.7 364.7L817.3 387.4L818.1 387.4L817.6 369.1L818.4 369.1L818.3 375.3L818.9 375.3L819.1 388.5L819.7 388.5L819.9 394.6L820.7 394.6L821.1 403.9L821.9 403.9L822.3 399.9"/><path d="M763.0 260.0L763.6 279.2L764.1 279.2L764.2 266.9L764.7 266.9L764.8 277.3L765.5 277.3L765.4 276.2L766.0 276.2L766.2 276.4L766.7 276.4L767.0 287.7L767.6 287.7L767.8 273.6L768.3 273.6L768.4 270.0L768.9 270.0L768.9 287.7L769.7 287.7L769.5 285.2L770.1 285.2L770.1 265.5L770.7 265.5L771.3 286.8L772.0 286.8L772.5 278.3L773.3 278.3L773.7 271.2L774.4 271.2L774.9 272.0L775.4 272.0L776.1 272.9L776.8 272.9L777.2 274.9L778.1 274.9L778.4 274.4L779.2 274.4L779.6 275.4L780.4 275.4L780.8 279.7L781.4 279.7L782.0 273.6L782.9 273.6L783.2 297.2L783.8 297.2L784.4 276.4L785.2 276.4L785.5 297.2L786.4 297.2L786.7 297.2L787.4 297.2L787.5 297.2L788.2 297.2L788.3 285.0L789.1 285.0L789.1 275.6L789.7 275.6L790.3 278.8L791.1 278.8L791.5 269.2L792.3 269.2L792.7 281.8L793.1 281.8L793.8 263.1L794.6 263.1L795.0 269.0L795.9 269.0L796.2 264.1L796.9 264.1L797.4 268.0L798.1 268.0L798.6 265.8L799.1 265.8L799.1 264.8L799.6 264.8L799.5 267.5L800.1 267.5L800.0 289.8L800.9 289.8L800.5 289.1L801.1 289.1L801.0 299.9L801.9 299.9L801.2 285.6L801.7 285.6L801.4 302.2L802.1 302.2L801.5 279.2L802.3 279.2L801.7 294.4L802.4 294.4L801.9 306.7L802.6 306.7L802.1 287.2L802.9 287.2L802.5 286.7L803.0 286.7L802.8 296.6L803.7 296.6L803.2 295.3L804.0 295.3L803.5 278.9L804.3 278.9L803.8 303.4L804.7 303.4L804.2 283.7L804.8 283.7L804.5 270.2L805.3 270.2L805.7 279.7L806.5 279.7L806.9 288.4L807.5 288.4L807.8 292.4L808.6 292.4L808.7 281.3L809.5 281.3L809.5 298.6L810.3 298.6L810.4 288.8L811.1 288.8L811.2 290.0L812.0 290.0L812.0 309.8L812.8 309.8L812.8 303.8L813.5 303.8L813.4 290.2L814.2 290.2L814.0 312.0L814.6 312.0L814.6 308.6L815.5 308.6L815.2 313.8L816.0 313.8L816.4 313.8L816.8 313.8L817.6 308.6L818.1 308.6L818.1 305.3L818.9 305.3L818.7 299.7L819.6 299.7L819.3 295.8L820.0 295.8L819.9 287.2L820.8 287.2L820.3 288.2L821.0 288.2L820.7 273.5L821.3 273.5L821.1 282.5L821.6 282.5L821.5 279.0L822.0 279.0L821.9 284.2L822.8 284.2L822.3 266.4L823.2 266.4L823.5 286.8L824.3 286.8L824.7 267.2L825.5 267.2L825.8 256.0L826.5 256.0L827.0 260.0"/><path d="M840.1 260.0L841.0 256.0L841.5 256.0L841.9 256.0L842.4 256.0L842.7 270.9L843.4 270.9L843.6 258.9L844.3 258.9L844.4 277.6L844.9 277.6L845.2 287.4L846.1 287.4L846.0 270.2L846.5 270.2L846.6 296.1L847.3 296.1L847.2 281.0L847.9 281.0L847.8 292.4L848.4 292.4L848.4 297.3L849.2 297.3L849.6 287.9L850.4 287.9L850.7 302.1L851.5 302.1L851.3 286.8L852.1 286.8L851.9 286.8L852.5 286.8L852.5 286.8L853.1 286.8L853.1 306.5L854.0 306.5L854.3 294.0L854.8 294.0L855.5 301.5L856.1 301.5L856.1 299.3L856.8 299.3L856.7 296.4L857.2 296.4L857.3 298.3L858.2 298.3L857.9 320.2L858.5 320.2L859.0 306.7L859.8 306.7L860.2 309.5L861.1 309.5L861.0 313.0L861.7 313.0L861.8 314.2L862.3 314.2L862.6 323.3L863.4 323.3L862.9 323.3L863.6 323.3L863.3 312.2L863.8 312.2L863.6 303.9L864.4 303.9L864.0 317.8L864.7 317.8L864.3 314.3L865.1 314.3L864.6 299.9L865.2 299.9L865.0 296.0L865.8 296.0L866.2 280.2L866.9 280.2L867.3 305.4L867.9 305.4L868.5 289.8L869.2 289.8L869.1 273.0L869.7 273.0L869.7 267.4L870.5 267.4L870.3 267.9L870.9 267.9L870.9 282.0L871.4 282.0L872.1 286.8L872.6 286.8L873.3 256.2L874.0 256.2L874.4 265.7L875.3 265.7L875.6 263.5L876.2 263.5L876.8 260.0"/><path d="M878.0 260.0L878.1 257.1L878.9 257.1L878.2 266.6L878.7 266.6L878.3 269.6L879.0 269.6L878.4 278.1L878.9 278.1L878.5 266.8L879.2 266.8L878.6 288.5L879.1 288.5L878.6 281.9L879.3 281.9L878.7 286.0L879.3 286.0L878.8 273.2L879.7 273.2L878.9 300.7L879.4 300.7L879.0 296.4L879.7 296.4L879.1 305.8L879.6 305.8L879.2 289.7L879.9 289.7L880.4 303.2L881.2 303.2L881.6 305.9L882.2 305.9L882.0 311.4L882.7 311.4L882.4 307.9L883.0 307.9L882.7 291.9L883.5 291.9L883.1 295.3L883.7 295.3L883.5 292.5L884.1 292.5L883.9 283.5L884.4 283.5L884.2 301.9L884.8 301.9L884.5 283.7L885.4 283.7L884.8 272.6L885.4 272.6L885.1 275.1L885.7 275.1L885.6 272.6L886.4 272.6L886.1 273.4L886.8 273.4L886.5 294.7L887.4 294.7L887.0 291.0L887.7 291.0L887.5 304.4L888.1 304.4L887.8 294.7L888.4 294.7L888.2 286.6L889.0 286.6L888.5 303.2L889.0 303.2L888.8 292.2L889.8 292.2L889.2 322.4L890.0 322.4L889.5 304.6L890.2 304.6L889.9 331.1L890.4 331.1L890.7 307.2L891.5 307.2L891.6 314.8L892.2 314.8L892.5 312.9L893.4 312.9L893.4 330.9L894.1 330.9L894.6 315.6L895.2 315.6L895.8 322.4L896.6 322.4L896.1 329.5L896.7 329.5L896.5 332.7L897.0 332.7L896.8 336.3L897.4 336.3L897.1 356.3L897.8 356.3L897.5 329.9L898.0 329.9L897.8 333.9L898.6 333.9L898.2 338.4L898.9 338.4L899.3 345.2L900.2 345.2L900.5 353.8L901.3 353.8L901.3 364.3L902.0 364.3L902.1 350.3L902.6 350.3L902.9 380.7L903.8 380.7L903.3 361.2L904.2 361.2L903.7 378.4L904.4 378.4L904.1 362.8L904.8 362.8L904.5 387.3L905.2 387.3L904.9 378.4L905.5 378.4L905.3 369.3L906.1 369.3L906.5 387.3L907.4 387.3L907.6 379.6L908.4 379.6L908.4 376.9L909.0 376.9L909.2 373.0L909.7 373.0L910.0 367.8L910.5 367.8L910.6 380.9L911.4 380.9L911.2 370.1L911.9 370.1L911.8 394.6L912.3 394.6L912.4 382.7L913.0 382.7L913.3 386.7L913.8 386.7L914.1 396.8L914.7 396.8L915.0 392.8"/><path d="M831.8 435.4L832.7 438.8L833.2 438.8L833.7 439.6L834.2 439.6L834.6 451.5L835.1 451.5L835.6 445.6L836.3 445.6L836.5 457.3L837.3 457.3L837.1 467.6L837.6 467.6L837.7 467.9L838.5 467.9L838.3 467.9L839.0 467.9L838.9 450.9L839.5 450.9L839.3 459.3L840.0 459.3L839.7 465.9L840.4 465.9L840.1 455.3L840.6 455.3L840.5 464.0L841.2 464.0L840.9 449.2L841.6 449.2L841.3 458.5L841.9 458.5L842.0 452.4L842.8 452.4L842.8 431.4L843.3 431.4L843.6 433.6L844.5 433.6L844.8 437.9L845.4 437.9L846.0 437.3L846.8 437.3L847.2 431.4L847.8 431.4L848.4 453.7L849.2 453.7L849.6 453.7L850.1 453.7L850.7 444.5L851.5 444.5L851.3 453.7L851.9 453.7L851.9 440.9L852.5 440.9L852.5 439.4L853.4 439.4L853.1 421.1L853.9 421.1L853.9 422.7L854.7 422.7L854.7 432.4L855.4 432.4L855.5 453.7L856.4 453.7L855.7 453.7L856.5 453.7L855.9 448.1L856.4 448.1L856.1 445.7L856.7 445.7L856.3 441.9L856.8 441.9L856.5 435.9L857.3 435.9L856.7 415.6L857.4 415.6L856.9 421.6L857.7 421.6L857.1 411.6L857.7 411.6L857.3 425.8L858.0 425.8L857.5 427.6L858.3 427.6L857.7 398.8L858.4 398.8L857.9 405.5L858.7 405.5L859.0 398.2L859.8 398.2L860.2 402.0L861.0 402.0L861.0 404.2L861.5 404.2L861.8 399.9L862.6 399.9L862.6 415.7L863.1 415.7L863.8 403.3L864.5 403.3L865.0 415.7L865.4 415.7L866.2 405.8L866.6 405.8L867.3 405.7L868.0 405.7L868.5 411.0L869.3 411.0L869.7 400.9L870.3 400.9L870.9 398.2L871.4 398.2L872.1 415.7L872.9 415.7L873.3 402.1L873.8 402.1L874.4 403.7L875.0 403.7L875.6 415.7L876.2 415.7L876.8 408.2L877.6 408.2L878.0 405.5L878.8 405.5L879.2 423.3L880.1 423.3L880.4 403.2L881.0 403.2L881.6 414.2L882.1 414.2L882.7 430.4L883.5 430.4L883.9 429.3L884.8 429.3L884.5 426.0L885.1 426.0L885.1 418.0L885.8 418.0L885.7 426.0L886.3 426.0L886.3 437.3L886.8 437.3L887.1 439.1L887.9 439.1L887.9 426.7L888.5 426.7L888.7 446.6L889.2 446.6L889.3 435.9L889.7 435.9L889.9 463.0L890.4 463.0L890.5 442.9L891.0 442.9L891.0 458.4L891.8 458.4L892.2 461.2L893.0 461.2L893.4 470.3L894.2 470.3L893.7 450.9L894.5 450.9L894.0 461.3L894.5 461.3L894.3 470.3L894.9 470.3L894.6 443.9L895.2 443.9L894.9 459.5L895.7 459.5L895.2 435.0L896.0 435.0L895.5 436.7L896.1 436.7L895.8 439.6L896.5 439.6L896.6 426.7L897.5 426.7L897.4 426.7L897.8 426.7L898.2 446.2L898.8 446.2L898.8 432.7L899.6 432.7L899.3 426.7L900.0 426.7L899.9 439.7L900.4 439.7L900.5 430.6L901.2 430.6L901.7 440.9L902.3 440.9L902.9 439.9L903.6 439.9L903.7 425.6L904.6 425.6L904.5 442.3L905.0 442.3L905.3 436.4L906.0 436.4L905.4 440.1L906.0 440.1L905.6 415.7L906.3 415.7L905.8 432.9L906.5 432.9L905.9 426.0L906.6 426.0L906.1 427.0L906.7 427.0L906.3 422.2L907.0 422.2L906.5 422.8L907.0 422.8L906.5 410.8L907.1 410.8L906.6 414.3L907.5 414.3L906.7 409.2L907.5 409.2L906.8 411.0L907.3 411.0L906.9 423.1L907.7 423.1L907.0 432.8L907.5 432.8L907.0 430.3L907.7 430.3L907.1 443.7L907.9 443.7L907.2 428.0L907.7 428.0L907.3 457.3L908.0 457.3L907.4 443.2L908.2 443.2L907.5 449.4L908.3 449.4L907.6 450.1L908.4 450.1L907.6 466.3L908.6 466.3L908.8 456.7L909.5 456.7L910.0 454.8L910.7 454.8L911.2 477.4L911.9 477.4L912.4 452.4L913.2 452.4L913.7 470.2L914.2 470.2L915.0 473.4"/><path d="M834.1 480.0L834.7 461.3L835.3 461.3L835.3 484.0L836.0 484.0L835.9 461.9L836.5 461.9L836.5 481.8L837.2 481.8L837.7 459.9L838.3 459.9L838.9 463.9"/><path d="M729.8 480.0L730.1 461.6L730.6 461.6L730.4 471.7L731.2 471.7L730.7 471.2L731.4 471.2L731.0 465.8L731.7 465.8L731.3 470.8L731.8 470.8L731.6 461.9L732.4 461.9L731.9 473.2L732.7 473.2L732.2 459.9L732.9 459.9L733.0 442.4L733.8 442.4L733.8 448.7L734.5 448.7L734.6 446.0L735.2 446.0L735.2 457.3L735.9 457.3L735.8 430.8L736.5 430.8L736.4 434.0L736.9 434.0L736.9 439.4L737.6 439.4L737.5 429.0L738.0 429.0L738.1 427.2L738.6 427.2L739.3 422.0L739.8 422.0L740.5 441.5L741.0 441.5L741.3 422.0L742.0 422.0L742.1 449.3L742.7 449.3L742.9 431.5L743.6 431.5L743.3 442.2L743.9 442.2L743.7 431.8L744.5 431.8L744.1 449.6L744.7 449.6L744.5 441.1L745.2 441.1L744.8 468.2L745.5 468.2L745.2 459.1L745.9 459.1L745.6 453.0L746.1 453.0L746.0 467.3L746.8 467.3L746.4 484.0L747.3 484.0L746.8 471.3L747.7 471.3L747.2 475.6L748.1 475.6L747.6 480.0"/><path d="M682.4 480.0L683.2 478.6L683.8 478.6L684.0 480.1L684.7 480.1L684.8 469.2L685.4 469.2L686.0 484.0L686.7 484.0L687.2 475.1L687.8 475.1L688.3 480.0"/><path d="M900.0 350.1L900.8 346.1L901.5 346.1L901.6 356.5L902.4 356.5L902.4 357.6L903.0 357.6L902.7 361.2L903.5 361.2L903.0 352.2L903.6 352.2L903.4 356.2L904.2 356.2L903.7 374.2L904.5 374.2L904.1 368.7L904.8 368.7L904.4 386.6L905.1 386.6L904.7 385.1L905.3 385.1L905.9 387.3L906.4 387.3L907.1 369.0L907.8 369.0L908.3 374.4L908.9 374.4L909.5 369.8L910.2 369.8L910.3 369.8L910.9 369.8L911.1 380.1L911.9 380.1L911.9 369.0L912.4 369.0L912.2 392.5L913.1 392.5L912.6 390.1L913.5 390.1L913.0 392.1L913.9 392.1L913.4 395.2L914.2 395.2L913.8 400.5L914.6 400.5L914.2 406.2L914.8 406.2L914.5 398.3L915.0 398.3L914.8 393.5L915.6 393.5L915.0 405.8L915.6 405.8L915.3 404.1L916.1 404.1L915.5 385.3L916.2 385.3L915.8 396.8L916.3 396.8L916.1 372.3L916.8 372.3L916.3 364.7L916.8 364.7L916.6 371.9L917.1 371.9L917.8 360.1L918.6 360.1L919.0 365.4L919.7 365.4L919.4 359.7L920.0 359.7L919.8 366.3L920.3 366.3L920.2 363.0L921.0 363.0L920.5 351.6L921.2 351.6L920.9 350.2L921.6 350.2L921.3 353.3L921.9 353.3L921.6 331.1L922.1 331.1L921.9 353.1L922.8 353.1L922.1 323.7L922.9 323.7L922.4 344.2L923.0 344.2L922.7 336.9L923.5 336.9L922.9 336.8L923.7 336.8L923.2 333.7L924.0 333.7L923.4 310.5L924.2 310.5L923.7 310.5L924.2 310.5L924.0 318.5L924.8 318.5L924.4 319.0L925.1 319.0L924.7 322.9L925.3 322.9L925.1 339.0L925.7 339.0L925.4 321.3L925.9 321.3L925.7 333.8L926.6 333.8L926.1 336.1L926.8 336.1L926.3 347.8L926.9 347.8L926.5 343.1L927.0 343.1L926.7 332.8L927.5 332.8L926.9 362.5L927.7 362.5L927.1 361.7L927.8 361.7L927.3 341.4L927.8 341.4L928.4 349.0L929.3 349.0L929.6 361.2L930.1 361.2L930.2 372.4L930.7 372.4L930.8 353.0L931.5 353.0L931.4 370.3L932.3 370.3L932.0 377.8L932.8 377.8L932.4 377.8L932.9 377.8L932.8 368.7L933.6 368.7L933.2 377.8L934.0 377.8L933.6 350.8L934.2 350.8L934.0 357.3L934.4 357.3L934.4 354.6L935.1 354.6L935.2 365.6L936.0 365.6L936.0 372.6L936.6 372.6L936.7 370.2L937.6 370.2L937.1 349.4L937.9 349.4L937.5 358.6L938.2 358.6L937.9 344.2L938.4 344.2L938.3 350.6L939.0 350.6L938.7 356.8L939.5 356.8L939.1 359.6L939.9 359.6L939.5 347.9L940.1 347.9L939.8 339.0L940.4 339.0L940.1 364.5L940.9 364.5L940.5 349.2L941.1 349.2L940.8 346.2L941.4 346.2L941.2 365.3L941.9 365.3L941.5 373.1L942.3 373.1L941.8 365.2L942.5 365.2L942.1 363.4L942.6 363.4L942.4 345.1L943.0 345.1L942.7 364.2L943.4 364.2L943.0 351.3L943.6 351.3L943.3 348.9L944.0 348.9L943.6 339.0L944.2 339.0L943.9 339.0L944.7 339.0L944.2 346.3L944.9 346.3L944.5 341.3L945.1 341.3L944.9 351.1L945.4 351.1L945.2 342.1L945.8 342.1L945.6 367.2L946.2 367.2L945.9 360.0L946.6 360.0L946.2 371.4L947.0 371.4L947.4 374.5L948.1 374.5L948.6 350.7L949.4 350.7L948.9 360.3L949.4 360.3L949.1 383.9L950.0 383.9L949.4 384.3L950.2 384.3L949.7 395.6L950.2 395.6L949.9 370.9L950.6 370.9L950.2 386.1L951.0 386.1L950.4 384.5L951.3 384.5L950.7 393.4L951.5 393.4L951.0 389.1L951.7 389.1L951.3 394.0L951.9 394.0L951.6 383.6L952.2 383.6L952.0 400.1L952.6 400.1L952.3 385.7L953.2 385.7L952.7 368.6L953.1 368.6L953.0 376.9L953.7 376.9L953.3 372.9L953.8 372.9L954.5 370.5L955.0 370.5L955.7 355.6L956.3 355.6L956.1 372.4L956.8 372.4L956.5 360.8L957.2 360.8L956.9 348.9L957.6 348.9L957.3 357.9L957.9 357.9L957.7 360.2L958.5 360.2L958.1 346.1L959.0 346.1L958.9 346.1L959.5 346.1L959.7 356.7L960.5 356.7L960.5 346.1L961.0 346.1L960.8 370.6L961.4 370.6L961.1 361.0L962.0 361.0L961.5 356.0L962.1 356.0L961.8 372.0L962.5 372.0L962.1 383.4L962.8 383.4L962.5 381.1L963.4 381.1L962.8 373.2L963.3 373.2L963.2 379.6L963.9 379.6L963.5 377.5L964.0 377.5L963.8 372.3L964.4 372.3L964.2 382.7L964.7 382.7L964.5 373.8L965.1 373.8L964.9 371.6L965.4 371.6L965.2 351.9L965.8 351.9L965.5 368.8L966.2 368.8L965.8 343.9L966.3 343.9L966.1 367.2L966.9 367.2L966.4 350.5L967.0 350.5L966.7 345.4L967.5 345.4L967.0 344.0L967.6 344.0L967.3 325.0L968.1 325.0L967.6 334.3L968.3 334.3L967.9 333.7L968.6 333.7L968.2 319.9L968.8 319.9L968.6 326.5L969.3 326.5L968.9 325.4L969.7 325.4L969.3 310.8L969.8 310.8L969.6 318.5L970.1 318.5L969.9 322.0L970.8 322.0L970.3 310.5L971.0 310.5L970.6 322.2L971.1 322.2L971.0 322.8L971.5 322.8L971.3 326.8L972.0 326.8L971.6 331.3L972.2 331.3L972.0 346.0L972.5 346.0L972.3 337.3L973.2 337.3L973.5 341.6L974.3 341.6L974.7 352.8L975.4 352.8L975.5 355.0L976.0 355.0L976.3 358.8L976.9 358.8L977.1 356.7L977.6 356.7L978.2 342.6L979.1 342.6L979.4 358.8L980.1 358.8L980.2 340.5L981.1 340.5L981.0 345.0L981.7 345.0L981.8 333.6L982.4 333.6L982.6 337.6L983.0 337.6L983.4 334.0L983.9 334.0L984.2 324.9L984.8 324.9L985.3 320.0L986.2 320.0L986.5 329.5L987.3 329.5L987.7 320.0L988.2 320.0L988.9 309.6L989.6 309.6L990.1 317.0L990.8 317.0L991.3 330.9L992.1 330.9L991.5 318.5L992.3 318.5L991.7 325.2L992.5 325.2L992.0 323.8L992.8 323.8L992.2 319.8L992.8 319.8L992.5 308.2L993.3 308.2L992.7 321.8L993.2 321.8L992.9 317.6L993.5 317.6L993.9 306.9L994.6 306.9L994.8 291.3L995.3 291.3L994.9 305.9L995.8 305.9L995.0 303.0L995.6 303.0L995.1 307.4L995.6 307.4L995.2 283.1L995.8 283.1L995.3 287.0L995.8 287.0L995.4 284.1L996.0 284.1L995.5 288.3L996.0 288.3L995.6 283.4L996.2 283.4L995.7 284.5L996.3 284.5L995.7 268.2L996.4 268.2L995.8 268.0L996.7 268.0L995.9 263.4L996.7 263.4L996.0 260.0"/><path d="M996.0 260.0L997.2 256.0L997.9 256.0L998.4 271.8L999.0 271.8L999.6 257.7L1000.5 257.7L1000.4 276.5L1000.9 276.5L1001.2 271.8L1001.8 271.8L1001.9 260.7L1002.6 260.7L1003.1 274.8L1003.7 274.8L1004.3 277.4L1004.9 277.4L1005.5 290.2L1006.1 290.2L1006.7 285.9L1007.2 285.9L1007.9 286.4L1008.7 286.4L1008.2 277.0L1008.7 277.0L1008.5 279.5L1009.4 279.5L1008.9 276.9L1009.5 276.9L1009.2 288.2L1009.9 288.2L1009.6 290.8L1010.0 290.8L1009.9 287.4L1010.5 287.4L1010.2 294.2L1010.9 294.2L1010.8 290.6L1011.5 290.6L1011.4 289.4L1012.1 289.4L1012.0 289.9L1012.9 289.9L1012.6 289.8L1013.4 289.8L1013.2 269.2L1014.1 269.2L1013.8 275.2L1014.5 275.2L1014.4 272.6L1015.3 272.6L1015.0 280.8L1015.7 280.8L1015.1 279.5L1016.0 279.5L1015.3 256.0L1015.8 256.0L1015.5 260.0"/><path d="M1013.8 426.0L1014.6 416.8L1015.2 416.8L1015.4 430.0L1016.0 430.0L1016.2 428.1L1016.9 428.1L1016.8 429.1L1017.7 429.1L1017.4 410.7L1017.8 410.7L1017.9 419.0L1018.7 419.0L1018.5 402.9L1019.1 402.9L1019.3 391.6L1019.8 391.6L1020.1 390.8L1020.8 390.8L1020.9 393.9L1021.5 393.9L1021.5 390.2L1022.2 390.2L1022.1 384.3L1022.8 384.3L1022.7 381.7L1023.2 381.7L1023.3 377.8L1024.0 377.8L1024.2 362.7L1025.0 362.7L1025.1 365.0L1025.7 365.0L1025.9 370.1L1026.6 370.1L1026.8 376.1L1027.6 376.1L1027.4 365.2L1028.0 365.2L1028.0 362.0L1028.5 362.0L1028.6 355.9L1029.5 355.9L1029.2 354.7L1030.1 354.7L1029.7 335.7L1030.2 335.7L1030.2 359.3L1031.1 359.3L1030.6 339.1L1031.3 339.1L1031.1 342.1L1031.6 342.1L1031.6 353.3L1032.2 353.3L1032.1 333.0L1032.7 333.0L1032.5 330.6L1033.2 330.6L1033.0 317.6L1033.7 317.6L1033.5 330.7L1034.3 330.7L1033.9 317.6L1034.8 317.6L1034.2 326.6L1034.9 326.6L1034.5 317.6L1035.2 317.6L1034.8 347.0L1035.6 347.0L1035.1 337.2L1035.8 337.2L1036.3 333.5L1037.2 333.5L1037.5 336.3L1038.4 336.3L1037.8 336.5L1038.6 336.5L1038.0 344.3L1038.5 344.3L1038.3 351.0L1038.9 351.0L1038.6 357.1L1039.4 357.1L1038.8 342.5L1039.3 342.5L1039.1 361.2L1039.6 361.2L1039.3 353.4L1040.3 353.4L1039.6 355.9L1040.2 355.9L1039.9 361.4L1040.8 361.4L1040.2 391.1L1041.1 391.1L1040.5 377.8L1041.0 377.8L1040.8 388.3L1041.3 388.3L1041.1 384.3L1041.9 384.3L1041.4 375.0L1042.0 375.0L1041.7 401.4L1042.3 401.4L1042.0 394.7L1042.6 394.7L1042.2 405.8L1042.8 405.8L1042.5 391.9L1043.1 391.9L1042.8 404.8L1043.3 404.8L1043.0 409.0L1043.7 409.0L1043.3 409.9L1044.1 409.9L1043.6 412.1L1044.2 412.1L1043.8 414.8L1044.4 414.8L1044.1 430.0L1045.0 430.0L1044.4 420.8L1044.8 420.8L1044.6 430.0L1045.5 430.0L1045.8 424.5L1046.6 424.5L1046.1 430.0L1046.8 430.0L1046.5 419.3L1047.1 419.3L1046.8 413.8L1047.4 413.8L1047.2 407.0L1047.8 407.0L1047.5 410.2L1048.0 410.2L1047.8 405.2L1048.5 405.2L1048.2 411.3L1049.0 411.3L1048.2 405.6L1048.7 405.6L1048.3 396.4L1049.1 396.4L1048.4 406.3L1049.3 406.3L1048.5 398.1L1049.1 398.1L1048.5 370.6L1049.4 370.6L1048.6 397.5L1049.4 397.5L1048.7 365.3L1049.2 365.3L1048.8 361.1L1049.5 361.1L1048.8 374.7L1049.5 374.7L1048.9 381.6L1049.7 381.6L1049.0 350.0L1049.8 350.0L1049.1 365.0L1049.6 365.0L1049.1 358.8L1049.7 358.8L1049.2 347.7L1050.0 347.7L1049.3 360.6L1049.9 360.6L1049.4 341.3L1050.0 341.3L1049.7 347.8L1050.6 347.8L1050.0 357.5L1050.8 357.5L1050.4 346.8L1050.9 346.8L1050.7 327.3L1051.6 327.3L1051.1 327.5L1051.8 327.5L1051.4 332.3L1052.0 332.3L1051.7 336.5L1052.3 336.5L1051.9 325.0L1052.6 325.0L1052.1 322.2L1053.0 322.2L1052.3 326.7L1052.9 326.7L1052.5 328.6L1053.3 328.6L1052.7 307.1L1053.6 307.1L1052.9 310.3L1053.8 310.3L1053.1 301.6L1053.7 301.6L1053.3 292.9L1054.1 292.9L1053.5 301.7L1054.0 301.7L1053.7 305.8L1054.2 305.8L1053.9 294.9L1054.6 294.9L1054.1 284.9L1054.8 284.9L1054.2 288.7L1054.9 288.7L1054.4 295.4L1054.9 295.4L1054.5 268.3L1055.2 268.3L1054.6 264.6L1055.2 264.6L1054.8 279.5L1055.6 279.5L1054.9 276.6L1055.6 276.6L1055.0 268.6L1055.9 268.6L1055.2 256.0L1055.9 256.0L1055.3 260.0"/><path d="M1056.5 260.0L1057.1 262.5L1057.7 262.5L1057.7 260.3L1058.5 260.3L1058.3 259.7L1059.1 259.7L1058.8 273.1L1059.5 273.1L1059.4 270.7L1060.1 270.7L1060.0 293.9L1060.5 293.9L1060.6 279.6L1061.1 279.6L1061.2 282.3L1061.8 282.3L1061.6 291.5L1062.5 291.5L1061.9 306.7L1062.6 306.7L1062.2 299.4L1062.8 299.4L1062.6 303.6L1063.4 303.6L1062.9 303.6L1063.5 303.6L1063.2 297.3L1063.9 297.3L1063.6 316.2L1064.4 316.2L1063.9 316.2L1064.5 316.2L1064.3 316.2L1064.8 316.2L1064.6 302.0L1065.5 302.0L1064.9 309.3L1065.7 309.3L1065.3 303.6L1066.0 303.6L1065.6 284.4L1066.5 284.4L1066.0 299.5L1066.6 299.5L1066.7 284.4L1067.2 284.4L1067.5 285.8L1068.1 285.8L1068.3 297.9L1069.2 297.9L1068.7 285.0L1069.6 285.0L1069.1 313.7L1070.0 313.7L1069.5 295.1L1070.2 295.1L1069.9 309.9L1070.4 309.9L1070.3 313.9L1071.0 313.9L1070.7 326.2L1071.5 326.2L1071.0 327.3L1071.7 327.3L1071.2 331.3L1071.9 331.3L1071.5 324.9L1072.0 324.9L1071.8 327.9L1072.4 327.9L1072.0 333.5L1072.8 333.5L1072.3 326.8L1073.1 326.8L1072.5 348.2L1073.4 348.2L1072.8 340.7L1073.6 340.7L1073.1 344.2L1073.8 344.2L1073.5 347.4L1074.0 347.4L1073.9 359.7L1074.7 359.7L1074.3 354.9L1075.0 354.9L1074.6 359.8L1075.4 359.8L1075.0 345.7L1075.8 345.7L1075.4 366.0L1076.3 366.0L1076.0 354.2L1076.8 354.2L1076.6 365.4L1077.5 365.4L1077.2 368.3L1077.7 368.3L1077.8 356.8L1078.6 356.8L1078.0 345.3L1078.6 345.3L1078.2 342.4L1079.0 342.4L1078.4 350.5L1079.1 350.5L1078.5 335.7L1079.1 335.7L1078.7 331.7L1079.5 331.7L1078.9 320.6L1079.8 320.6L1079.1 319.5L1079.6 319.5L1079.3 310.0L1080.2 310.0L1079.5 307.3L1079.9 307.3L1079.6 306.8L1080.4 306.8L1079.8 312.4L1080.4 312.4L1080.0 316.9L1080.5 316.9L1080.2 298.7L1081.0 298.7L1081.4 321.0L1081.9 321.0L1082.6 295.2L1083.1 295.2L1082.8 306.3L1083.7 306.3L1083.1 303.2L1083.6 303.2L1083.3 297.2L1083.9 297.2L1083.6 316.9L1084.3 316.9L1083.9 316.5L1084.6 316.5L1084.1 322.7L1084.8 322.7L1084.4 317.8L1084.9 317.8L1084.7 327.1L1085.5 327.1L1084.9 335.1L1085.8 335.1L1085.2 322.0L1085.8 322.0L1085.4 334.8L1086.0 334.8L1085.6 320.9L1086.1 320.9L1085.9 318.2L1086.3 318.2L1086.1 323.1L1086.8 323.1L1086.3 311.1L1087.1 311.1L1086.6 314.4L1087.1 314.4L1086.8 304.1L1087.7 304.1L1087.1 309.1L1087.9 309.1L1087.3 299.7L1087.9 299.7L1088.5 290.3L1089.3 290.3L1089.7 301.2L1090.3 301.2L1090.0 289.2L1090.8 289.2L1090.3 293.0L1091.0 293.0L1090.7 301.6L1091.4 301.6L1091.0 316.7L1091.9 316.7L1091.4 316.6L1092.0 316.6L1091.7 311.4L1092.2 311.4L1092.0 308.6L1092.5 308.6L1092.2 333.3L1093.0 333.3L1092.3 311.6L1092.9 311.6L1092.4 318.6L1093.1 318.6L1092.6 327.6L1093.0 327.6L1092.7 319.1L1093.2 319.1L1092.8 335.2L1093.7 335.2L1093.0 337.9L1093.5 337.9L1093.1 348.7L1093.6 348.7L1093.2 343.8L1093.7 343.8L1093.8 354.1L1094.3 354.1L1094.4 350.1"/><path d="M1096.8 260.0L1097.2 256.0L1098.1 256.0L1097.6 267.2L1098.4 267.2L1098.0 268.4L1098.5 268.4L1098.4 288.4L1099.0 288.4L1098.8 261.8L1099.6 261.8L1099.1 277.6L1099.9 277.6L1099.6 295.4L1100.3 295.4L1100.1 294.1L1100.8 294.1L1100.6 299.5L1101.3 299.5L1101.0 302.7L1101.5 302.7L1101.5 296.1L1102.0 296.1L1101.7 283.8L1102.6 283.8L1101.9 312.5L1102.7 312.5L1102.2 299.5L1102.8 299.5L1102.4 307.7L1102.9 307.7L1102.6 313.1L1103.3 313.1L1102.8 302.2L1103.4 302.2L1103.0 305.7L1103.6 305.7L1103.2 320.6L1104.1 320.6L1103.5 325.1L1104.3 325.1L1103.7 320.0L1104.3 320.0L1103.9 317.4L1104.6 317.4L1104.3 345.5L1105.1 345.5L1104.7 343.2L1105.2 343.2L1105.1 355.3L1105.9 355.3L1105.5 328.0L1106.3 328.0L1105.9 346.0L1106.6 346.0L1106.3 358.4L1107.0 358.4L1106.5 367.0L1107.1 367.0L1106.8 343.1L1107.5 343.1L1107.0 350.1L1107.7 350.1L1107.3 362.8L1108.2 362.8L1107.6 365.2L1108.0 365.2L1107.8 369.6L1108.6 369.6L1108.1 365.1L1108.9 365.1L1108.4 368.2L1109.1 368.2L1108.6 372.1L1109.5 372.1L1109.2 366.2L1110.0 366.2L1109.8 370.7L1110.3 370.7L1110.4 380.9L1111.3 380.9L1111.0 382.5L1111.8 382.5L1111.8 386.8L1112.4 386.8L1112.6 399.2L1113.3 399.2L1113.4 415.7L1114.1 415.7L1114.2 406.2L1115.1 406.2L1115.0 394.4L1115.6 394.4L1115.7 396.9L1116.5 396.9L1116.6 415.5L1117.5 415.5L1117.5 405.2L1118.2 405.2L1118.4 430.0L1119.3 430.0L1119.3 426.0"/><path d="M1094.4 350.1L1094.8 333.9L1095.6 333.9L1095.2 342.6L1095.8 342.6L1095.6 347.7L1096.5 347.7L1096.0 336.3L1096.7 336.3L1096.4 344.0L1097.2 344.0L1096.8 342.8L1097.4 342.8L1097.4 330.0L1098.0 330.0L1098.0 331.8L1098.5 331.8L1098.6 329.9L1099.4 329.9L1099.1 320.6L1099.8 320.6L1100.3 318.5L1101.1 318.5L1101.5 308.2L1102.2 308.2L1102.7 314.6L1103.4 314.6L1103.9 322.6L1104.8 322.6L1105.1 304.6L1105.9 304.6L1106.3 308.5L1106.9 308.5L1107.4 312.6L1108.3 312.6L1108.6 293.9L1109.5 293.9L1109.8 302.9L1110.7 302.9L1111.0 293.9L1111.6 293.9L1112.2 311.6L1112.8 311.6L1113.4 293.9L1114.1 293.9L1114.6 317.7L1115.3 317.7L1115.0 305.0L1115.7 305.0L1115.3 301.6L1116.1 301.6L1115.7 317.8L1116.3 317.8L1116.1 316.3L1116.9 316.3L1116.5 325.7L1117.0 325.7L1116.9 316.3L1117.4 316.3L1117.7 324.8L1118.2 324.8L1118.5 341.0L1119.0 341.0L1119.3 331.3L1119.9 331.3L1120.1 335.8L1120.6 335.8L1120.9 338.5L1121.6 338.5L1121.7 342.3L1122.2 342.3L1122.1 343.9L1122.6 343.9L1122.5 348.9L1123.2 348.9L1122.9 342.6L1123.8 342.6L1123.3 364.4L1123.8 364.4L1123.8 356.7L1124.7 356.7L1124.3 366.0L1124.8 366.0L1124.8 363.7L1125.4 363.7L1125.2 373.6L1126.0 373.6L1125.8 370.5L1126.7 370.5L1126.4 363.1L1127.3 363.1L1127.0 376.6L1127.7 376.6L1127.6 362.4L1128.5 362.4L1128.5 369.3L1129.3 369.3L1129.4 385.5L1130.0 385.5L1130.3 389.8L1131.0 389.8L1131.2 390.9L1131.6 390.9L1132.3 384.9L1132.9 384.9L1133.5 393.1L1134.2 393.1L1134.7 403.9L1135.5 403.9L1135.9 415.7L1136.6 415.7L1137.1 414.1L1137.6 414.1L1138.3 410.5L1138.9 410.5L1139.4 410.1L1140.1 410.1L1140.6 403.1L1141.4 403.1L1141.8 416.9L1142.4 416.9L1143.0 409.1L1143.9 409.1L1144.2 434.8L1145.1 434.8L1145.4 434.4L1146.2 434.4L1146.3 439.1L1147.1 439.1L1147.2 442.2L1147.9 442.2L1148.0 429.2L1148.7 429.2L1148.9 439.3L1149.5 439.3L1149.7 441.7L1150.3 441.7L1150.5 444.9L1151.0 444.9L1151.3 451.3L1151.9 451.3L1152.2 451.4L1153.1 451.4L1153.1 449.3L1153.8 449.3L1154.0 456.9L1154.7 456.9L1154.9 446.1L1155.6 446.1L1156.0 458.0L1156.8 458.0L1157.2 471.6L1158.1 471.6L1158.4 468.7L1159.3 468.7L1159.0 477.2L1159.8 477.2L1159.6 463.2L1160.4 463.2L1160.2 472.1L1161.0 472.1L1160.8 480.0"/><path d="M1137.1 388.0L1138.3 390.9L1139.1 390.9L1139.4 385.5L1139.9 385.5L1140.6 389.1L1141.4 389.1L1141.8 380.6L1142.4 380.6L1142.6 375.9L1143.4 375.9L1143.4 374.8L1144.3 374.8L1144.2 378.8L1144.9 378.8L1145.4 381.8L1146.2 381.8L1146.6 363.5L1147.4 363.5L1147.7 375.0L1148.6 375.0L1148.3 349.9L1149.2 349.9L1148.9 368.5L1149.5 368.5L1149.5 356.5L1150.3 356.5L1150.1 346.1L1150.8 346.1L1150.7 339.0L1151.2 339.0L1151.3 349.7L1152.0 349.7L1151.9 361.2L1152.5 361.2L1152.5 343.9L1153.1 343.9L1153.7 339.0L1154.5 339.0L1154.9 350.9L1155.8 350.9L1156.0 363.3L1156.8 363.3L1157.2 340.4L1158.1 340.4L1158.4 346.1L1159.3 346.1L1159.6 367.4L1160.4 367.4L1160.8 362.6L1161.7 362.6L1162.0 367.9L1162.9 367.9L1163.2 381.1L1163.9 381.1L1164.3 382.9L1164.9 382.9L1165.5 388.3L1166.2 388.3L1166.7 365.1L1167.3 365.1L1167.5 392.0L1168.0 392.0L1168.3 379.5L1169.1 379.5L1169.1 389.5L1169.7 389.5L1169.3 384.2L1170.0 384.2L1169.6 381.6L1170.2 381.6L1169.8 367.4L1170.2 367.4L1170.0 367.4L1170.2 367.4L1170.2 371.4"/><path d="M1106.3 461.5L1107.1 459.6L1107.9 459.6L1108.0 457.2L1108.8 457.2L1108.9 441.0L1109.7 441.0L1109.8 436.2L1110.6 436.2L1111.0 440.0L1111.6 440.0L1112.2 432.0L1112.7 432.0L1113.4 439.3L1114.2 439.3L1114.2 450.7L1114.9 450.7L1115.0 444.2L1115.7 444.2L1115.7 443.2L1116.6 443.2L1116.9 430.7L1117.7 430.7L1118.1 422.0L1118.7 422.0L1119.3 425.4L1120.1 425.4L1120.5 440.7L1121.4 440.7L1121.7 422.0L1122.4 422.0L1122.9 434.6L1123.4 434.6L1123.4 427.8L1123.9 427.8L1124.0 447.7L1124.9 447.7L1124.6 462.5L1125.2 462.5L1125.2 442.2L1126.1 442.2L1126.0 454.2L1126.7 454.2L1126.8 457.3L1127.5 457.3L1127.6 457.7L1128.4 457.7L1128.8 459.1L1129.5 459.1L1130.0 463.1L1130.7 463.1L1131.2 460.3L1131.6 460.3L1132.3 451.7L1133.2 451.7L1133.5 449.4L1134.0 449.4L1134.7 448.3L1135.5 448.3L1135.5 445.4L1136.2 445.4L1136.3 437.7L1137.2 437.7L1137.1 440.2L1137.8 440.2L1138.3 446.0L1139.0 446.0L1139.4 426.7L1140.2 426.7L1140.6 432.5L1141.3 432.5L1141.8 433.1L1142.3 433.1L1143.0 432.5L1143.7 432.5L1144.2 422.0L1145.0 422.0L1145.4 434.7L1146.0 434.7L1146.6 434.7L1147.1 434.7L1147.7 431.2L1148.5 431.2L1148.9 422.3L1149.8 422.3L1150.1 420.5L1150.6 420.5L1151.3 418.5L1151.9 418.5L1152.5 425.2L1153.4 425.2L1153.7 412.8L1154.3 412.8L1154.9 407.7L1155.7 407.7L1156.0 412.5L1156.8 412.5L1157.2 410.6L1157.8 410.6L1158.4 417.0L1159.3 417.0L1159.6 413.2L1160.2 413.2L1160.8 418.4L1161.7 418.4L1162.0 414.3L1162.5 414.3L1163.2 425.2L1164.0 425.2L1164.3 418.6L1165.2 418.6L1165.5 412.6L1166.1 412.6L1166.7 413.8L1167.6 413.8L1167.5 416.1L1168.4 416.1L1168.3 421.6L1169.0 421.6L1169.1 419.5L1169.9 419.5L1169.3 428.5L1170.0 428.5L1169.5 427.7L1170.2 427.7L1169.7 441.0L1170.2 441.0L1169.9 431.6L1170.2 431.6L1170.1 439.3L1170.2 439.3L1170.2 449.7"/><path d="M900.0 435.4L900.8 433.0L901.3 433.0L901.6 430.7L902.2 430.7L902.4 439.4L903.1 439.4L902.8 438.9L903.3 438.9L903.2 410.8L903.8 410.8L903.6 430.6L904.1 430.6L904.0 412.2L904.6 412.2L904.3 400.6L905.2 400.6L904.7 400.6L905.5 400.6L905.7 400.6L906.2 400.6L906.6 419.3L907.2 419.3L906.7 400.6L907.3 400.6L906.9 404.1L907.4 404.1L907.0 415.5L907.7 415.5L907.1 434.4L907.7 434.4L907.2 412.8L907.7 412.8L907.3 423.8L908.2 423.8L907.4 412.9L907.9 412.9L907.5 418.9L908.3 418.9L907.6 420.2L908.2 420.2L907.7 436.4L908.4 436.4L907.9 439.9L908.5 439.9L908.0 445.6L908.5 445.6L908.1 441.3L908.9 441.3L908.2 462.7L908.8 462.7L908.3 447.2L908.8 447.2L909.1 470.8L909.9 470.8L909.9 461.1L910.4 461.1L910.7 450.0L911.2 450.0L911.9 477.4L912.4 477.4L913.0 476.5L913.7 476.5L914.2 475.8L914.9 475.8L915.4 470.3L915.9 470.3L916.6 473.7L917.2 473.7L917.8 464.6L918.6 464.6L919.0 468.2L919.5 468.2L920.2 477.4L920.7 477.4L920.5 471.9L921.0 471.9L920.9 450.9L921.5 450.9L921.2 461.6L922.0 461.6L921.6 461.2L922.1 461.2L921.9 468.7L922.7 468.7L922.3 469.6L922.9 469.6L922.6 452.0L923.4 452.0L923.0 462.7L923.7 462.7L923.4 457.5L924.2 457.5L923.7 451.6L924.6 451.6L924.9 438.6L925.6 438.6L926.1 442.8L926.9 442.8L926.4 446.8L927.2 446.8L926.8 452.0L927.5 452.0L927.1 452.8L927.9 452.8L927.4 461.1L928.2 461.1L927.8 440.6L928.5 440.6L928.1 463.1L929.0 463.1L928.4 466.7L929.0 466.7L929.6 463.2L930.1 463.2L930.8 464.2L931.5 464.2L932.0 455.1L932.7 455.1L933.2 455.1L933.8 455.1L934.4 468.7L935.2 468.7L935.6 472.6L936.4 472.6L936.7 452.3L937.3 452.3L937.9 464.3L938.7 464.3L938.2 454.4L939.0 454.4L938.5 445.3L939.4 445.3L938.8 464.5L939.7 464.5L939.0 464.7L939.6 464.7L939.3 452.6L939.9 452.6L939.6 450.3L940.3 450.3L939.8 442.8L940.7 442.8L940.1 447.4L940.7 447.4L940.4 447.8L941.1 447.8L940.7 437.6L941.5 437.6L940.9 429.0L941.4 429.0L941.2 431.8L941.8 431.8L941.5 433.0L942.2 433.0L942.7 423.7L943.3 423.7L943.9 427.7L944.3 427.7L944.2 417.3L944.7 417.3L944.5 420.0L945.4 420.0L944.9 452.3L945.7 452.3L945.2 431.4L945.8 431.4L945.6 430.3L946.4 430.3L945.9 447.3L946.6 447.3L946.2 438.2L946.8 438.2L947.4 441.4L948.0 441.4L948.6 463.1L949.4 463.1L949.8 458.9L950.5 458.9L951.0 463.1L951.5 463.1L952.2 445.5L952.7 445.5L953.3 440.9L954.3 440.9L953.9 445.6L954.7 445.6L954.4 441.5L955.2 441.5L954.9 452.0L955.6 452.0L955.4 442.2L956.2 442.2L955.9 423.2L956.7 423.2L956.4 422.0L957.0 422.0L956.9 422.0L957.6 422.0L957.3 422.0L958.0 422.0L957.7 431.9L958.4 431.9L958.1 422.0L958.8 422.0L958.5 439.3L959.4 439.3L958.9 433.1L959.8 433.1L959.3 446.8L960.1 446.8L960.2 434.5L960.6 434.5L961.0 438.8L961.7 438.8L961.9 456.5L962.6 456.5L962.8 460.7L963.5 460.7L964.0 471.7L964.8 471.7L965.2 465.1L965.9 465.1L966.4 484.0L967.1 484.0L967.0 471.1L967.4 471.1L967.6 466.0L968.1 466.0L968.2 476.4L968.7 476.4L968.8 480.0"/><path d="M971.1 480.0L971.7 478.4L972.2 478.4L972.2 465.2L972.9 465.2L972.7 470.0L973.5 470.0L973.2 464.9L974.0 464.9L973.8 478.9L974.4 478.9L974.3 458.7L975.0 458.7L974.8 446.3L975.5 446.3L975.3 459.3L976.0 459.3L975.9 455.2L976.4 455.2L976.8 445.2L977.3 445.2L977.6 453.7L978.2 453.7L978.5 446.5L979.1 446.5L979.4 447.1L980.1 447.1L980.2 433.0L980.7 433.0L981.0 435.6L981.7 435.6L981.8 422.0L982.5 422.0L982.4 422.0L983.3 422.0L983.0 426.4L983.9 426.4L983.6 423.1L984.2 423.1L984.2 453.7L984.8 453.7L985.0 426.9L985.7 426.9L985.7 453.7L986.6 453.7L986.5 442.4L987.3 442.4L986.8 453.7L987.6 453.7L987.1 443.2L987.9 443.2L987.3 453.4L988.2 453.4L987.6 450.1L988.4 450.1L987.9 435.7L988.6 435.7L988.1 421.8L988.7 421.8L988.4 426.2L988.9 426.2L988.6 429.5L989.3 429.5L988.9 421.9L989.7 421.9L989.5 410.9L990.2 410.9L990.1 415.1L990.6 415.1L990.7 421.0L991.4 421.0L991.3 407.9L991.9 407.9L991.7 409.7L992.4 409.7L992.1 404.0L992.7 404.0L992.5 403.0L993.1 403.0L992.9 403.2L993.6 403.2L993.3 423.8L993.9 423.8L993.6 412.7L994.2 412.7L994.4 439.4L995.3 439.4L995.2 439.4L996.1 439.4L996.0 434.2L996.8 434.2L996.3 439.4L997.1 439.4L996.5 439.4L997.3 439.4L996.8 421.0L997.7 421.0L997.1 408.3L997.9 408.3L997.3 429.1L998.1 429.1L997.6 415.9L998.3 415.9L997.9 420.0L998.4 420.0L998.1 408.9L998.6 408.9L998.4 407.0L999.1 407.0L998.9 402.2L999.7 402.2L999.3 401.5L1000.1 401.5L999.8 410.4L1000.6 410.4L1000.3 394.7L1001.1 394.7L1000.8 386.4L1001.4 386.4L1001.4 409.2L1001.9 409.2L1001.9 395.1L1002.7 395.1L1002.5 412.2L1003.2 412.2L1003.1 400.3L1004.0 400.3L1003.4 405.0L1004.3 405.0L1003.7 409.0L1004.1 409.0L1003.9 411.4L1004.6 411.4L1004.2 413.4L1005.0 413.4L1004.4 424.2L1005.3 424.2L1004.7 432.3L1005.6 432.3L1005.0 430.1L1005.5 430.1L1005.2 419.2L1005.9 419.2L1005.5 424.2L1006.0 424.2L1006.1 432.5L1007.0 432.5L1006.7 436.5L1007.3 436.5L1007.3 426.4L1008.1 426.4L1007.9 448.9L1008.6 448.9L1008.7 441.7L1009.3 441.7L1009.5 437.8L1010.1 437.8L1010.2 437.3L1010.9 437.3L1010.8 447.2L1011.3 447.2L1011.4 429.2L1012.2 429.2L1012.0 417.2L1012.8 417.2L1012.6 433.6L1013.2 433.6L1013.8 424.9L1014.5 424.9L1015.0 442.0L1015.8 442.0L1015.8 428.2L1016.7 428.2L1016.6 433.2L1017.3 433.2L1017.4 446.5L1018.2 446.5L1018.1 438.7L1018.9 438.7L1018.9 456.0L1019.7 456.0L1019.7 444.0L1020.3 444.0L1020.9 431.9L1021.8 431.9L1022.1 466.8L1023.0 466.8L1023.3 452.7L1024.0 452.7L1024.5 459.4L1025.3 459.4L1025.7 450.4L1026.3 450.4L1026.8 453.7L1027.7 453.7L1028.0 462.0L1028.6 462.0L1029.2 450.0L1029.8 450.0L1030.4 452.8L1030.9 452.8L1031.0 449.3L1031.5 449.3L1031.6 447.7L1032.1 447.7L1032.2 444.5L1032.8 444.5L1032.8 438.6L1033.6 438.6L1033.9 442.6L1034.6 442.6L1035.1 455.7L1036.0 455.7L1036.3 458.4L1037.2 458.4L1037.5 449.7L1038.2 449.7L1038.7 453.3L1039.6 453.3L1039.9 453.0L1040.7 453.0L1040.7 453.1L1041.6 453.1L1041.5 448.3L1042.0 448.3L1042.2 450.3L1042.9 450.3L1042.8 440.9L1043.3 440.9L1043.4 440.9L1044.0 440.9L1044.0 442.7L1044.7 442.7L1044.6 467.4L1045.4 467.4L1045.4 474.1L1046.2 474.1L1046.2 453.6L1046.8 453.6L1047.0 468.3L1047.9 468.3L1047.4 456.7L1048.0 456.7L1047.8 477.1L1048.5 477.1L1048.2 480.0"/><path d="M1049.4 435.4L1050.2 439.4L1050.7 439.4L1050.9 420.6L1051.8 420.6L1051.7 435.7L1052.6 435.7L1052.3 422.1L1052.9 422.1L1052.9 434.1L1053.5 434.1L1053.5 428.2L1054.3 428.2L1054.1 413.0L1054.8 413.0L1054.9 407.1L1055.8 407.1L1055.7 403.8L1056.2 403.8L1056.5 401.5L1057.4 401.5L1057.3 415.7L1057.9 415.7L1058.1 415.7L1058.9 415.7L1058.8 412.7L1059.6 412.7L1059.6 403.2L1060.3 403.2L1060.4 412.2L1060.9 412.2L1061.2 392.1L1061.9 392.1L1062.0 400.8L1062.7 400.8L1062.8 388.8L1063.6 388.8L1063.6 405.6L1064.1 405.6L1064.8 397.1L1065.5 397.1L1066.0 398.7L1066.6 398.7L1066.5 395.7L1067.3 395.7L1067.1 400.1L1067.7 400.1L1067.7 401.5L1068.4 401.5L1068.3 396.6L1068.9 396.6L1069.1 378.6L1069.9 378.6L1069.9 375.8L1070.7 375.8L1070.7 373.8"/><path d="M1066.0 473.4L1067.1 462.3L1067.8 462.3L1068.3 470.5L1069.2 470.5L1069.5 462.3L1070.2 462.3L1070.7 468.2L1071.6 468.2L1071.9 466.2L1072.7 466.2L1073.1 469.4L1073.6 469.4L1074.3 463.7L1074.8 463.7L1075.4 453.6L1076.1 453.6L1076.4 458.3L1076.9 458.3L1077.3 443.1L1078.1 443.1L1078.3 465.5L1078.8 465.5L1079.2 457.9L1079.9 457.9L1080.2 439.8L1080.7 439.8L1081.4 448.9L1082.1 448.9L1082.6 448.9L1083.1 448.9L1083.1 427.4L1083.9 427.4L1083.7 418.0L1084.4 418.0L1084.3 439.3L1084.9 439.3L1084.9 426.8L1085.6 426.8L1085.7 424.6L1086.3 424.6L1086.5 420.8L1087.1 420.8L1087.3 415.7L1088.2 415.7L1087.9 420.9L1088.5 420.9L1088.5 415.8L1089.0 415.8L1089.1 393.5L1089.6 393.5L1089.7 411.8L1090.5 411.8L1090.8 393.5L1091.7 393.5L1092.0 397.7L1092.7 397.7L1092.6 393.5L1093.4 393.5L1093.2 405.9L1094.1 405.9L1093.8 407.8L1094.7 407.8L1094.4 410.9L1095.0 410.9L1095.0 421.4L1095.9 421.4L1095.6 419.2L1096.2 419.2L1096.2 430.0L1096.8 430.0L1096.8 426.0"/><path d="M1089.7 440.2L1090.2 436.2L1090.8 436.2L1090.7 436.2L1091.3 436.2L1091.2 441.7L1091.7 441.7L1091.7 451.0L1092.4 451.0L1092.2 465.8L1092.7 465.8L1092.7 450.2L1093.3 450.2L1093.2 447.8L1093.8 447.8L1093.6 463.3L1094.2 463.3L1094.0 465.9L1094.9 465.9L1094.4 461.6L1094.9 461.6L1094.8 472.1L1095.7 472.1L1095.2 467.2L1095.9 467.2L1095.6 480.0"/><path d="M900.0 550.3L901.2 548.1L901.7 548.1L902.4 554.3L903.0 554.3L903.6 545.9L904.4 545.9L904.3 554.3L905.1 554.3L905.1 539.3L905.8 539.3L905.9 537.1L906.6 537.1L907.1 539.7L907.7 539.7L908.3 529.9L909.2 529.9L908.9 517.1L909.4 517.1L909.5 522.8L910.1 522.8L910.1 521.9L910.5 521.9L910.7 532.3L911.5 532.3L911.5 505.5L912.2 505.5L912.2 498.9L912.8 498.9L913.0 518.6L913.8 518.6L914.2 505.9L914.9 505.9L915.4 505.6L915.9 505.6L916.6 498.9L917.1 498.9L917.5 508.1L918.1 508.1L918.4 498.9L919.0 498.9L919.3 521.2L920.1 521.2L920.2 521.2L920.8 521.2L920.9 513.7L921.6 513.7L921.7 509.0L922.5 509.0L922.5 506.1L923.2 506.1L923.7 504.4L924.4 504.4L924.9 512.4L925.5 512.4L926.1 501.3L927.0 501.3L927.3 514.3L928.0 514.3L928.4 507.2L929.2 507.2L929.6 516.4L930.5 516.4L930.8 500.9L931.4 500.9L932.0 508.4L932.7 508.4L933.2 512.2L934.0 512.2L934.4 514.8L935.0 514.8L935.6 514.9L936.2 514.9L936.7 514.1L937.5 514.1L937.9 512.0L938.6 512.0L939.1 511.1L939.9 511.1L940.3 513.2L941.2 513.2L941.5 511.2L942.2 511.2L942.7 512.1L943.3 512.1L943.9 525.5L944.6 525.5L944.6 514.0L945.1 514.0L945.4 523.4L946.1 523.4L946.2 513.4L946.9 513.4L946.6 529.8L947.4 529.8L947.0 519.4L947.6 519.4L947.4 542.2L948.0 542.2L947.8 546.9L948.7 546.9L948.2 541.6L949.1 541.6L948.6 531.5L949.1 531.5L949.4 549.6L950.1 549.6L950.2 528.2L950.8 528.2L951.0 548.0L951.8 548.0L951.6 545.1L952.0 545.1L952.2 535.5L952.8 535.5L952.8 525.6L953.4 525.6L953.3 517.9L954.1 517.9L954.5 517.9L955.0 517.9L955.7 517.9L956.4 517.9L956.9 517.9L957.5 517.9L957.7 529.6L958.4 529.6L958.5 531.6L959.4 531.6L959.3 529.5L959.8 529.5L960.5 525.4L961.0 525.4L961.6 529.8L962.5 529.8L962.8 520.0L963.6 520.0L964.0 533.2L964.9 533.2L965.2 519.0L966.0 519.0L966.4 526.3L967.1 526.3L967.6 518.2L968.3 518.2L968.8 535.1L969.4 535.1L969.1 538.9L969.8 538.9L969.4 532.6L970.3 532.6L969.8 527.8L970.4 527.8L970.1 530.6L970.8 530.6L970.4 534.0L971.3 534.0L970.8 548.2L971.4 548.2L971.1 542.6L972.0 542.6L971.9 531.4L972.6 531.4L972.7 548.4L973.4 548.4L973.5 554.3L974.1 554.3L974.1 546.4L974.7 546.4L974.7 545.2L975.4 545.2L975.3 541.6L976.0 541.6L975.9 521.8L976.5 521.8L976.5 524.8L977.1 524.8L977.1 529.4L977.8 529.4L977.6 526.6L978.4 526.6L978.2 537.6L979.0 537.6L979.1 520.9L979.7 520.9L980.0 531.5L980.7 531.5L980.9 522.6L981.4 522.6L981.8 499.0L982.5 499.0L982.7 524.3L983.3 524.3L983.6 515.6L984.1 515.6L984.5 503.6L984.9 503.6L985.3 514.1L986.0 514.1L985.9 513.7L986.8 513.7L986.5 507.1L987.2 507.1L987.1 510.2L988.0 510.2L987.7 511.4L988.5 511.4L988.0 514.9L988.7 514.9L988.2 517.2L988.8 517.2L988.4 530.9L989.1 530.9L988.7 524.4L989.2 524.4L988.9 538.6L989.7 538.6L989.1 531.8L989.9 531.8L989.4 523.2L989.9 523.2L989.6 537.5L990.5 537.5L989.9 549.7L990.6 549.7L990.1 545.1L990.9 545.1L990.7 549.9L991.2 549.9L991.3 554.3L991.9 554.3L991.9 558.2L992.5 558.2L992.5 552.8L993.1 552.8L993.3 549.6L993.7 549.6L994.0 565.8L994.8 565.8L994.8 573.3L995.4 573.3L995.4 573.3L996.0 573.3L996.0 561.7L996.7 561.7L996.6 572.9L997.4 572.9L997.2 570.6L997.8 570.6L997.4 542.3L998.2 542.3L997.5 535.4L998.1 535.4L997.6 545.0L998.2 545.0L997.8 540.8L998.6 540.8L997.9 538.5L998.6 538.5L998.1 526.9L998.8 526.9L998.2 525.0L998.8 525.0L998.4 539.0L998.9 539.0L999.6 531.2L1000.1 531.2L1000.8 550.1L1001.2 550.1L1001.9 540.1L1002.8 540.1L1003.1 549.6L1003.7 549.6L1004.3 544.5L1004.9 544.5L1004.5 527.6L1005.0 527.6L1004.7 538.6L1005.3 538.6L1004.8 529.1L1005.4 529.1L1005.0 532.1L1005.8 532.1L1005.2 530.0L1005.7 530.0L1005.3 540.3L1005.8 540.3L1005.5 523.9L1006.2 523.9L1005.8 520.4L1006.3 520.4L1006.1 517.8L1007.0 517.8L1006.4 511.8L1007.2 511.8L1006.7 493.7L1007.3 493.7L1007.3 507.9L1008.0 507.9L1007.9 503.3L1008.5 503.3L1008.5 500.8L1009.0 500.8L1009.1 512.7L1009.8 512.7L1010.2 482.7L1010.8 482.7L1011.4 490.8L1012.2 490.8L1012.6 488.1L1013.4 488.1L1013.8 500.2L1014.4 500.2L1015.0 472.9L1015.5 472.9L1016.2 491.4L1017.0 491.4L1017.4 482.5L1017.9 482.5L1017.6 492.2L1018.5 492.2L1017.9 474.8L1018.7 474.8L1018.1 487.5L1019.0 487.5L1018.4 498.8L1019.3 498.8L1018.7 499.3L1019.3 499.3L1018.9 495.5L1019.7 495.5L1019.2 514.2L1019.7 514.2L1019.5 502.7L1020.1 502.7L1019.7 494.5L1020.5 494.5L1020.3 502.1L1021.2 502.1L1020.9 508.0L1021.6 508.0L1021.5 517.4L1022.4 517.4L1022.1 511.4L1022.9 511.4L1023.3 519.6L1023.9 519.6L1024.5 522.2L1025.3 522.2L1024.7 525.9L1025.3 525.9L1024.9 523.2L1025.8 523.2L1025.2 512.2L1025.8 512.2L1025.4 496.8L1026.1 496.8L1025.7 497.1L1026.5 497.1L1026.0 514.9L1026.6 514.9L1026.4 498.2L1027.2 498.2L1026.8 487.8L1027.4 487.8L1027.2 508.4L1028.1 508.4L1027.6 489.7L1028.5 489.7L1028.0 487.9L1028.6 487.9L1029.2 480.0L1030.0 480.0L1030.4 480.0L1031.1 480.0L1031.6 480.0L1032.5 480.0L1032.8 481.3L1033.6 481.3L1033.4 485.4L1034.2 485.4L1033.9 505.8L1034.9 505.8L1034.5 500.8L1035.4 500.8L1035.1 511.7L1035.9 511.7L1035.7 508.4L1036.4 508.4L1036.3 521.2L1037.1 521.2L1036.9 513.1L1037.7 513.1L1037.5 506.2L1038.0 506.2L1038.7 521.2L1039.3 521.2L1039.9 521.2L1040.6 521.2L1040.2 507.2L1040.7 507.2L1040.6 510.0L1041.3 510.0L1040.9 492.7L1041.4 492.7L1041.2 490.1L1041.9 490.1L1041.6 484.9L1042.4 484.9L1041.9 490.3L1042.6 490.3L1042.2 497.9L1042.8 497.9L1043.4 497.4L1044.0 497.4L1044.6 491.7L1045.3 491.7L1044.9 484.7L1045.5 484.7L1045.2 491.2L1045.9 491.2L1045.5 501.8L1046.0 501.8L1045.8 521.7L1046.5 521.7L1046.1 502.9L1046.9 502.9L1046.4 513.4L1047.2 513.4L1046.7 508.0L1047.2 508.0L1047.0 533.0L1047.8 533.0L1047.8 528.7L1048.4 528.7L1048.6 526.1L1049.1 526.1L1049.4 533.0L1050.0 533.0L1050.5 527.8L1051.5 527.8L1051.7 535.4L1052.6 535.4L1052.9 532.6L1053.7 532.6L1054.1 525.3L1054.6 525.3L1055.3 529.3L1055.8 529.3L1056.5 532.5L1057.3 532.5L1057.7 532.0L1058.2 532.0L1058.8 540.1L1059.3 540.1L1059.6 531.5L1060.5 531.5L1060.4 540.1L1061.1 540.1L1061.2 515.6L1062.0 515.6L1061.8 529.0L1062.4 529.0L1062.4 520.6L1063.0 520.6L1063.0 515.5L1063.5 515.5L1063.6 506.5L1064.2 506.5L1064.2 518.4L1064.7 518.4L1064.8 514.5L1065.2 514.5L1065.4 496.5L1065.9 496.5L1066.0 501.0L1066.6 501.0L1066.4 509.9L1067.0 509.9L1066.9 488.9L1067.4 488.9L1067.4 491.7L1067.9 491.7L1067.9 478.6L1068.5 478.6L1068.3 485.8L1069.2 485.8L1069.1 480.8L1069.9 480.8L1069.9 477.4L1070.8 477.4L1070.7 473.6L1071.3 473.6L1071.9 476.7L1072.5 476.7L1073.1 469.1L1073.7 469.1L1074.3 490.3L1075.1 490.3L1075.4 486.1L1076.1 486.1L1075.9 466.9L1076.4 466.9L1076.4 478.9L1076.9 478.9L1076.9 461.0L1077.7 461.0L1077.3 487.9L1077.8 487.9L1077.8 483.1L1078.7 483.1L1079.0 480.9L1079.8 480.9L1080.2 465.0"/><path d="M900.0 488.7L901.2 475.3L901.8 475.3L902.4 492.7L903.0 492.7L903.6 482.9L904.3 482.9L904.7 481.1L905.2 481.1L905.7 481.9L906.5 481.9L906.6 483.3L907.4 483.3L907.6 496.6L908.2 496.6L908.5 497.4L909.3 497.4L909.5 479.7L910.2 479.7L910.3 491.1L910.9 491.1L911.1 493.7L911.9 493.7L911.9 470.5L912.6 470.5L912.6 494.8L913.5 494.8L913.4 470.5L914.1 470.5L914.2 470.5L914.8 470.5L915.4 471.9L916.1 471.9L916.6 479.5L917.4 479.5L917.8 484.0L918.5 484.0L919.0 490.3L919.8 490.3L919.9 482.9L920.7 482.9L920.9 468.1L921.7 468.1L921.8 479.8L922.6 479.8L922.8 476.0L923.4 476.0L923.7 472.7L924.4 472.7L924.9 488.0L925.5 488.0L926.1 488.0L926.7 488.0L927.3 488.0L927.9 488.0L928.4 488.0L929.2 488.0L929.6 470.5L930.1 470.5L930.8 470.5L931.5 470.5L932.0 470.5L932.7 470.5L933.2 470.5L934.1 470.5L934.1 470.5L934.8 470.5L935.1 491.3L935.9 491.3L936.0 492.7L936.7 492.7L937.0 485.5L937.6 485.5L937.9 492.7L938.5 492.7L939.1 492.7L939.9 492.7L940.3 485.8L940.9 485.8L941.5 483.4L942.2 483.4L942.7 488.1L943.2 488.1L943.9 478.3L944.4 478.3L945.0 479.5L945.8 479.5L946.2 471.2L946.8 471.2L947.4 478.7L948.0 478.7L948.4 465.7L949.0 465.7L949.3 465.7L950.0 465.7L950.3 471.7L950.8 471.7L951.2 488.0L951.8 488.0L952.2 475.5L952.8 475.5L953.3 484.5L954.2 484.5L954.5 490.5L955.2 490.5L955.7 490.9L956.5 490.9L956.9 488.4L957.7 488.4L957.8 476.0L958.8 476.0L958.8 475.2L959.3 475.2L959.7 497.4L960.7 497.4L960.7 489.6L961.3 489.6L961.6 479.3L962.1 479.3L962.4 488.9L963.0 488.9L963.2 486.2L963.9 486.2L964.0 476.1L964.9 476.1L964.8 491.5L965.7 491.5L965.6 486.8L966.1 486.8L966.4 502.2L967.0 502.2L967.6 502.2L968.3 502.2L968.8 484.7L969.6 484.7L969.9 498.2L970.6 498.2L971.1 484.7L972.0 484.7L972.1 491.4L972.8 491.4L973.0 506.9L973.7 506.9L974.0 497.3L974.6 497.3L974.9 506.9L975.7 506.9L975.9 506.9L976.6 506.9L977.1 498.9L977.6 498.9L978.2 499.9L978.7 499.9L979.4 489.4L980.3 489.4L980.6 493.2L981.1 493.2L981.6 492.5L982.2 492.5L982.5 488.1L983.3 488.1L983.5 475.2L983.9 475.2L984.4 480.5L985.1 480.5L985.3 466.5L985.9 466.5L986.5 477.6L987.3 477.6L987.7 480.2L988.4 480.2L988.9 483.2L989.7 483.2L990.1 468.4L990.8 468.4L991.3 473.1L991.8 473.1L992.5 474.4L993.0 474.4L993.6 482.7L994.5 482.7L994.8 477.3L995.4 477.3L996.0 483.5L996.6 483.5L997.2 485.5L997.8 485.5L998.4 487.8L998.9 487.8L999.6 491.9L1000.1 491.9L1000.5 495.1L1001.1 495.1L1001.5 478.4L1002.0 478.4L1002.4 474.8L1002.9 474.8L1003.4 478.1L1004.1 478.1L1004.3 461.0L1004.9 461.0L1005.5 472.9L1006.0 472.9L1006.7 468.8L1007.6 468.8L1007.9 461.0L1008.6 461.0L1009.1 465.0"/><path d="M1092.0 465.0L1092.6 470.1L1093.3 470.1L1093.2 478.6L1094.0 478.6L1093.8 466.8L1094.5 466.8L1094.4 478.3L1095.0 478.3L1095.2 483.0L1095.9 483.0L1096.0 492.7L1096.6 492.7L1096.8 474.0L1097.6 474.0L1097.6 486.2L1098.1 486.2L1098.4 470.5L1099.1 470.5L1099.1 487.4L1099.9 487.4L1100.3 470.5L1100.9 470.5L1101.5 470.5L1102.2 470.5L1101.8 489.4L1102.4 489.4L1102.1 495.7L1102.8 495.7L1102.4 490.2L1102.9 490.2L1102.7 494.5L1103.3 494.5L1103.0 484.2L1103.8 484.2L1103.3 493.8L1104.0 493.8L1103.6 510.2L1104.1 510.2L1103.9 499.1L1104.6 499.1L1104.2 515.1L1104.9 515.1L1104.5 506.1L1105.0 506.1L1104.8 510.4L1105.7 510.4L1105.1 502.5L1106.0 502.5L1105.2 512.7L1106.1 512.7L1105.4 518.8L1106.3 518.8L1105.6 518.8L1106.0 518.8L1105.8 513.4L1106.6 513.4L1105.9 501.4L1106.4 501.4L1106.1 483.4L1107.0 483.4L1106.3 494.0L1107.1 494.0L1106.4 490.8L1106.9 490.8L1106.5 492.6L1107.4 492.6L1106.7 497.6L1107.2 497.6L1106.8 470.7L1107.5 470.7L1106.9 476.1L1107.5 476.1L1107.0 481.0L1107.9 481.0L1107.2 477.6L1107.8 477.6L1107.3 468.5L1108.1 468.5L1107.4 465.0"/><path d="M1146.6 465.0L1147.7 461.0L1148.6 461.0L1148.9 470.6L1149.7 470.6L1150.1 461.0L1151.0 461.0L1151.3 461.0L1152.0 461.0L1152.5 472.5L1153.1 472.5L1153.7 465.7L1154.3 465.7L1154.9 465.7L1155.6 465.7L1156.0 471.3L1156.8 471.3L1157.2 473.4L1157.9 473.4L1158.4 492.3L1159.3 492.3L1159.6 484.9L1160.4 484.9L1159.9 482.2L1160.6 482.2L1160.3 486.4L1160.9 486.4L1160.6 489.9L1161.2 489.9L1161.0 478.6L1161.5 478.6L1161.3 493.8L1162.1 493.8L1161.6 513.0L1162.4 513.0L1162.0 509.9L1162.5 509.9L1162.8 504.4L1163.4 504.4L1163.6 512.5L1164.1 512.5L1164.3 503.5L1165.1 503.5L1164.6 521.8L1165.5 521.8L1164.9 517.7L1165.7 517.7L1165.2 512.8L1165.8 512.8L1165.5 522.4L1166.2 522.4L1165.7 529.6L1166.5 529.6L1165.8 530.5L1166.5 530.5L1165.9 548.8L1166.7 548.8L1166.1 525.6L1166.5 525.6L1166.2 542.2L1166.7 542.2L1166.3 545.2L1167.1 545.2L1166.5 538.6L1167.1 538.6L1166.6 552.3L1167.1 552.3L1166.7 555.3L1167.5 555.3L1166.9 544.8L1167.5 544.8L1167.1 548.1L1168.0 548.1L1167.3 537.7L1168.1 537.7L1167.5 554.4L1168.0 554.4L1167.7 540.1L1168.6 540.1L1167.9 528.5L1168.6 528.5L1169.1 545.2L1170.0 545.2L1170.2 531.4"/><path d="M1128.8 685.0L1129.4 681.5L1130.0 681.5L1130.0 671.8L1130.7 671.8L1130.6 667.3L1131.1 667.3L1131.2 667.3L1132.0 667.3L1132.3 673.5L1133.2 673.5L1133.5 667.3L1134.3 667.3L1134.1 686.2L1135.0 686.2L1134.7 686.2L1135.6 686.2L1135.3 680.4L1136.0 680.4L1135.9 685.0"/><path d="M900.0 812.2L900.8 801.7L901.6 801.7L901.6 805.9L902.3 805.9L902.4 797.6L902.8 797.6L903.2 804.9L903.7 804.9L904.0 790.4L904.5 790.4L904.7 794.7L905.2 794.7L905.9 802.9L906.6 802.9L907.1 809.4L907.9 809.4L907.9 790.9L908.6 790.9L908.7 805.2L909.2 805.2L909.5 811.5L910.2 811.5L910.1 811.5L910.8 811.5L910.7 809.7L911.3 809.7L911.3 797.6L912.0 797.6L911.9 806.2L912.5 806.2L912.4 789.3L913.0 789.3L913.0 789.3L913.9 789.3L913.6 803.9L914.3 803.9L914.2 807.2L914.8 807.2L914.4 825.2L914.9 825.2L914.6 803.2L915.2 803.2L914.7 805.0L915.5 805.0L914.9 819.9L915.6 819.9L915.1 825.5L915.8 825.5L915.2 826.6L915.7 826.6L915.4 829.5L916.0 829.5L916.0 844.7L916.9 844.7L916.5 826.5L917.2 826.5L917.1 826.1L917.8 826.1L917.5 828.8L918.1 828.8L918.0 821.6L918.6 821.6L918.5 837.5L919.2 837.5L919.0 825.5L919.5 825.5L920.2 838.3L921.0 838.3L921.3 821.9L922.2 821.9L921.5 812.0L922.4 812.0L921.7 824.4L922.3 824.4L921.9 812.5L922.6 812.5L922.1 801.7L922.7 801.7L922.3 818.4L923.0 818.4L922.5 798.2L923.3 798.2L923.7 801.7L924.5 801.7L924.9 796.4L925.8 796.4L925.5 805.0L926.1 805.0L926.1 819.6L926.9 819.6L926.7 816.2L927.5 816.2L927.3 805.9L927.9 805.9L928.1 816.2L928.9 816.2L928.8 805.3L929.4 805.3L929.6 814.1L930.5 814.1L930.8 802.7L931.3 802.7L932.0 816.1L932.6 816.1L932.8 815.3L933.3 815.3L933.6 798.8L934.1 798.8L934.4 811.6L935.0 811.6L935.2 824.5L935.7 824.5L936.0 812.6L936.7 812.6L936.7 812.5L937.2 812.5L937.9 828.1L938.6 828.1L939.1 824.8L939.8 824.8L939.7 806.7L940.4 806.7L940.3 815.9L940.9 815.9L940.9 806.3L941.8 806.3L941.5 798.1L942.2 798.1L942.1 808.6L942.8 808.6L942.7 803.0L943.5 803.0L943.3 812.4L943.8 812.4L943.9 804.8L944.5 804.8L944.2 799.3L945.0 799.3L944.6 798.0L945.4 798.0L945.0 789.1L945.7 789.1L945.4 777.4L945.9 777.4L945.8 789.4L946.3 789.4L946.0 783.6L946.7 783.6L946.2 787.9L947.0 787.9L946.4 791.0L946.9 791.0L946.6 802.8L947.2 802.8L946.8 786.9L947.4 786.9L947.0 787.6L947.6 787.6L947.2 799.4L948.0 799.4L947.4 806.7L947.9 806.7L948.0 817.9L948.5 817.9L948.6 800.1L949.2 800.1L949.2 817.4L949.7 817.4L949.8 834.9L950.4 834.9L951.0 835.7L951.6 835.7L952.2 810.8L953.0 810.8L952.8 817.7L953.5 817.7L953.3 830.0L954.0 830.0L953.9 833.1L954.6 833.1L954.5 840.0L955.2 840.0L955.1 832.6L956.0 832.6L955.7 837.3L956.3 837.3L956.3 818.1L957.1 818.1L956.9 820.9L957.8 820.9L958.1 834.7L958.8 834.7L959.3 840.0L959.9 840.0L959.7 824.2L960.4 824.2L960.2 812.9L961.1 812.9L960.7 830.5L961.2 830.5L961.2 810.6L961.6 810.6L962.6 819.7L963.3 819.7L964.0 830.5L964.9 830.5L965.2 810.6L966.0 810.6L966.4 820.4L967.0 820.4L967.6 815.6L968.2 815.6L968.8 830.3L969.5 830.3L969.9 810.6L970.4 810.6L970.2 817.9L971.1 817.9L970.5 834.6L971.2 834.6L970.8 810.8L971.7 810.8L971.1 819.8L971.6 819.8L971.9 837.2L972.5 837.2L972.7 834.5L973.5 834.5L973.5 826.0L974.1 826.0L974.7 833.0L975.6 833.0L975.9 832.6L976.6 832.6L976.3 827.2L976.7 827.2L976.7 827.2L977.2 827.2L977.1 839.5L977.9 839.5L977.4 844.1L978.0 844.1L977.8 839.4L978.8 839.4L978.2 844.8L979.1 844.8L979.4 852.2L980.0 852.2L980.6 856.1L981.3 856.1L981.8 853.4L982.4 853.4L983.0 854.4L983.8 854.4L983.5 852.8L984.1 852.8L983.9 856.6L984.7 856.6L984.4 852.1L985.2 852.1L984.9 848.7L985.7 848.7L985.4 842.1L986.0 842.1L986.0 838.2L986.8 838.2L986.5 825.8L987.0 825.8L987.1 829.4L987.6 829.4L987.7 835.2L988.3 835.2L988.3 836.5L989.0 836.5L988.9 827.3L989.8 827.3L989.7 817.6L990.2 817.6L990.5 828.0L991.2 828.0L991.3 823.0L991.9 823.0L992.5 821.7L993.0 821.7L993.6 835.2L994.4 835.2L994.8 835.2L995.6 835.2L996.0 835.2L996.6 835.2L997.2 835.0L997.9 835.0L998.4 828.5L999.2 828.5L999.6 815.6L1000.3 815.6L1000.8 835.2L1001.3 835.2L1001.0 829.7L1001.5 829.7L1001.2 813.5L1002.1 813.5L1001.5 804.8L1002.2 804.8L1001.7 806.4L1002.4 806.4L1001.9 806.2L1002.7 806.2L1002.2 802.0L1002.7 802.0L1002.4 798.9L1003.1 798.9L1003.1 793.2L1003.9 793.2L1003.7 777.9L1004.2 777.9L1004.3 787.1L1005.0 787.1L1005.1 775.1L1006.0 775.1L1005.9 781.4L1006.6 781.4L1006.7 789.6L1007.4 789.6L1007.1 775.1L1007.6 775.1L1007.5 775.1L1008.0 775.1L1007.9 788.4L1008.6 788.4L1008.3 792.1L1009.1 792.1L1008.7 794.2L1009.5 794.2L1009.1 802.0L1009.8 802.0L1010.2 802.0L1011.0 802.0L1011.4 785.0L1012.1 785.0L1011.7 780.9L1012.2 780.9L1012.0 787.5L1012.5 787.5L1012.2 775.9L1012.8 775.9L1012.5 774.3L1013.1 774.3L1012.8 778.0L1013.4 778.0L1013.1 780.1L1013.7 780.1L1013.3 778.2L1014.0 778.2L1014.7 772.6L1015.3 772.6L1016.2 788.4L1016.8 788.4L1017.4 788.6L1018.1 788.6L1018.5 788.3L1019.1 788.3L1019.7 785.3L1020.6 785.3L1020.9 797.3L1021.7 797.3L1022.1 788.9L1023.0 788.9L1023.3 780.4L1023.9 780.4L1024.5 797.3L1025.3 797.3L1025.7 797.3L1026.4 797.3L1026.8 784.5L1027.5 784.5L1028.0 802.0L1028.6 802.0L1029.2 802.0L1030.1 802.0L1030.0 790.3L1030.6 790.3L1030.8 796.6L1031.5 796.6L1031.6 786.7L1032.5 786.7L1032.8 802.0L1033.3 802.0L1033.9 799.6L1034.6 799.6L1035.1 801.6L1035.6 801.6L1036.3 794.4L1037.2 794.4L1037.5 791.6L1038.2 791.6L1038.7 779.6L1039.3 779.6L1039.1 773.4L1039.9 773.4L1039.5 772.4L1040.1 772.4L1039.9 778.8L1040.4 778.8L1040.3 775.1L1040.9 775.1L1040.7 784.1L1041.4 784.1L1041.1 770.6L1041.8 770.6L1042.2 765.6L1043.0 765.6L1043.4 765.6L1044.1 765.6L1043.6 766.1L1044.5 766.1L1043.9 786.3L1044.8 786.3L1044.1 780.2L1044.7 780.2L1044.3 790.7L1044.9 790.7L1044.5 793.3L1045.4 793.3L1044.7 790.5L1045.6 790.5L1044.9 789.8L1045.8 789.8L1045.2 790.9L1045.8 790.9L1045.4 811.5L1046.2 811.5L1045.6 811.5L1046.3 811.5L1045.8 801.0L1046.5 801.0L1047.0 811.5L1047.5 811.5L1048.2 802.8L1048.7 802.8L1048.8 785.5L1049.6 785.5L1049.4 796.1L1050.1 796.1L1050.0 789.0L1050.5 789.0L1050.5 805.7L1051.2 805.7L1051.0 774.6L1051.5 774.6L1051.5 794.2L1052.0 794.2L1052.0 782.0L1052.7 782.0L1052.4 777.3L1053.0 777.3L1052.9 773.3L1053.7 773.3L1054.1 778.8L1054.9 778.8L1055.3 780.6L1056.0 780.6L1056.5 778.5L1057.3 778.5L1057.7 765.8L1058.2 765.8L1058.8 775.1L1059.7 775.1L1060.0 785.4L1060.9 785.4L1060.5 756.5L1061.3 756.5L1061.0 765.9L1061.6 765.9L1061.5 776.1L1062.2 776.1L1061.9 758.6L1062.6 758.6L1062.4 762.4L1063.1 762.4L1063.6 752.2L1064.2 752.2L1064.0 770.4L1064.5 770.4L1064.3 771.9L1065.0 771.9L1064.7 761.7L1065.6 761.7L1065.1 777.2L1065.6 777.2L1065.5 783.4L1066.2 783.4L1065.9 778.9L1066.7 778.9L1066.3 787.8L1066.8 787.8L1066.7 787.8L1067.3 787.8L1067.1 782.8L1068.0 782.8L1068.3 787.8L1069.1 787.8L1069.5 781.1L1070.0 781.1L1070.7 775.1L1071.6 775.1L1071.9 779.6L1072.5 779.6L1072.7 780.9L1073.5 780.9L1073.5 795.1L1074.0 795.1L1074.3 776.1L1074.9 776.1L1074.8 784.6L1075.8 784.6L1075.4 804.1L1076.3 804.1L1076.0 788.4L1076.6 788.4L1076.6 799.3L1077.3 799.3L1077.4 809.1L1078.3 809.1L1078.2 813.9L1078.9 813.9L1079.0 799.7L1079.9 799.7L1080.2 813.9L1080.9 813.9L1081.4 808.2L1081.9 808.2L1082.6 798.8L1083.0 798.8L1083.7 795.8L1084.6 795.8L1084.9 804.5L1085.7 804.5L1086.1 801.2L1087.0 801.2L1086.7 798.3L1087.6 798.3L1087.3 811.5L1088.2 811.5L1087.9 798.7L1088.4 798.7L1088.5 782.0L1089.1 782.0L1089.1 779.0L1089.7 779.0L1089.7 789.7L1090.3 789.7L1090.3 787.1L1090.9 787.1L1090.8 784.4L1091.3 784.4L1092.0 793.6L1092.5 793.6L1093.2 779.5L1094.0 779.5L1093.8 775.1L1094.4 775.1L1094.4 799.2L1095.0 799.2L1095.0 782.7L1095.8 782.7L1095.6 793.9L1096.2 793.9L1096.4 798.2L1097.1 798.2L1097.2 805.1L1097.9 805.1L1098.0 806.8L1098.6 806.8L1098.8 799.0L1099.5 799.0L1099.5 796.6L1100.0 796.6L1100.3 794.9L1100.9 794.9L1101.1 791.0L1102.0 791.0L1101.9 786.7L1102.5 786.7L1102.7 784.3L1103.2 784.3L1103.0 794.6L1103.5 794.6L1103.3 802.7L1103.9 802.7L1103.5 793.5L1104.3 793.5L1103.8 795.8L1104.4 795.8L1104.1 784.7L1104.6 784.7L1104.4 802.9L1105.0 802.9L1104.7 794.9L1105.3 794.9L1105.1 805.7L1105.7 805.7L1105.5 797.9L1106.4 797.9L1105.9 788.6L1106.7 788.6L1106.3 787.1L1106.9 787.1L1106.5 788.0L1107.3 788.0L1106.7 765.3L1107.5 765.3L1107.0 766.9L1107.6 766.9L1107.2 781.1L1107.9 781.1L1107.4 779.8L1108.1 779.8L1107.6 753.5L1108.5 753.5L1107.8 764.7L1108.4 764.7L1108.0 759.5L1108.6 759.5L1108.2 763.4L1108.9 763.4L1108.4 755.3L1109.3 755.3L1108.6 741.6L1109.2 741.6L1109.8 746.6L1110.3 746.6L1111.0 745.9L1111.6 745.9L1111.3 750.4L1112.1 750.4L1111.6 738.7L1112.1 738.7L1111.9 744.4L1112.6 744.4L1112.2 746.2L1112.9 746.2L1113.4 729.0L1114.2 729.0L1114.6 743.5L1115.5 743.5L1115.0 733.1L1115.5 733.1L1115.3 730.3L1116.3 730.3L1115.7 727.8L1116.5 727.8L1116.0 711.3L1116.5 711.3L1116.3 711.5L1117.0 711.5L1116.6 715.7L1117.3 715.7L1116.9 703.1L1117.5 703.1L1117.2 709.7L1117.7 709.7L1117.4 718.0L1118.0 718.0L1117.6 696.6L1118.5 696.6L1117.9 700.4L1118.4 700.4L1118.1 709.1L1118.9 709.1L1119.3 697.0L1119.9 697.0L1120.5 708.1L1121.3 708.1L1121.7 689.7L1122.4 689.7L1122.9 707.2L1123.6 707.2L1123.6 697.4L1124.6 697.4L1124.4 707.2L1125.1 707.2L1125.2 703.2L1125.8 703.2L1126.0 692.1L1126.6 692.1L1126.8 697.3L1127.4 697.3L1127.6 692.2L1128.1 692.2L1128.4 692.1L1129.3 692.1L1129.2 688.3L1129.9 688.3L1130.0 698.6L1130.9 698.6L1131.2 675.3L1131.9 675.3L1132.3 676.2L1132.8 676.2L1133.5 677.2L1134.1 677.2L1134.7 678.6L1135.5 678.6L1135.0 676.9L1135.9 676.9L1135.3 686.6L1135.8 686.6L1135.6 689.8L1136.2 689.8L1135.9 705.7L1136.4 705.7L1136.2 705.7L1137.0 705.7L1136.5 685.1L1137.0 685.1L1136.8 704.1L1137.5 704.1L1137.1 711.9L1137.8 711.9L1138.3 696.5L1138.8 696.5L1139.4 694.8L1140.2 694.8L1140.6 721.4L1141.5 721.4L1141.8 703.2L1142.3 703.2L1142.6 703.9L1143.3 703.9L1143.4 713.3L1144.1 713.3L1144.2 705.2L1144.7 705.2L1145.4 720.6L1145.9 720.6L1146.6 721.4L1147.2 721.4L1147.7 726.2L1148.2 726.2L1148.9 717.5L1149.4 717.5L1149.4 701.7L1150.0 701.7L1149.9 717.0L1150.5 717.0L1150.4 707.9L1150.9 707.9L1150.8 703.2L1151.3 703.2L1151.3 699.4L1151.8 699.4L1152.1 699.3L1152.6 699.3L1152.9 693.2L1153.4 693.2L1153.7 680.7L1154.4 680.7L1154.3 694.5L1154.7 694.5L1154.9 699.9L1155.4 699.9L1155.5 680.8L1156.1 680.8L1156.0 677.9L1156.9 677.9L1156.4 676.5L1157.4 676.5L1156.8 666.0L1157.5 666.0L1157.2 670.0"/><path d="M635.0 805.1L635.6 818.7L636.2 818.7L636.2 809.5L636.9 809.5L636.8 809.3L637.5 809.3L637.4 811.8L638.3 811.8L638.6 801.1L639.3 801.1L639.7 810.7L640.3 810.7L640.9 821.0L641.7 821.0L642.1 792.2L642.7 792.2L642.5 811.6L643.0 811.6L642.9 812.6L643.4 812.6L643.3 799.8L644.0 799.8L643.6 806.5L644.5 806.5L644.0 786.8L644.8 786.8L645.2 786.4L645.9 786.4L646.4 779.8L647.3 779.8L646.9 793.4L647.6 793.4L647.5 782.5L648.1 782.5L648.0 804.4L648.6 804.4L649.2 804.4L650.0 804.4L650.4 791.2L650.9 791.2L651.2 789.6L651.8 789.6L652.0 794.8L652.6 794.8L652.8 789.3L653.3 789.3L652.9 787.0L653.6 787.0L653.1 795.4L654.0 795.4L653.2 793.2L653.8 793.2L653.4 770.2L654.0 770.2L653.5 774.1L654.4 774.1L653.7 765.5L654.2 765.5L653.8 777.7L654.5 777.7L654.0 764.4L654.6 764.4L655.2 773.7L655.9 773.7L656.3 763.1L656.8 763.1L657.5 760.2L658.2 760.2L658.7 744.6L659.6 744.6L659.0 758.0L659.7 758.0L659.2 742.0L659.9 742.0L659.5 746.1L660.1 746.1L659.8 730.7L660.7 730.7L660.1 739.0L660.8 739.0L660.3 737.2L661.1 737.2L660.6 730.0L661.5 730.0L661.8 744.9L662.6 744.9L663.0 742.5L663.7 742.5L664.2 730.8L664.6 730.8L665.3 736.6L666.2 736.6L666.8 749.1L667.5 749.1L668.2 746.8L668.7 746.8L668.8 736.7L669.7 736.7L669.4 736.5L670.2 736.5L670.0 731.1L670.5 731.1L670.6 747.3L671.1 747.3L671.7 737.6L672.3 737.6L672.9 732.6L673.5 732.6L673.5 730.0L674.4 730.0L674.1 742.6L674.7 742.6L674.7 733.0L675.3 733.0L675.3 740.6L675.8 740.6L675.9 750.1L676.8 750.1L676.5 755.2L677.3 755.2L677.1 758.3L677.7 758.3L677.7 758.3L678.5 758.3L678.3 776.1L678.7 776.1L678.9 768.1L679.7 768.1L679.5 770.7L680.1 770.7L680.0 775.7L680.5 775.7L681.2 773.7L681.7 773.7L682.4 783.1L683.0 783.1L683.6 778.3L684.2 778.3L684.8 779.2L685.3 779.2L685.6 775.7L686.5 775.7L686.4 765.2L686.8 765.2L687.2 769.1L688.0 769.1L687.4 766.3L688.2 766.3L687.7 762.9L688.2 762.9L688.0 760.7L688.5 760.7L688.2 769.4L689.1 769.4L688.5 753.8L689.0 753.8L688.8 751.5L689.7 751.5L689.1 741.9L689.6 741.9L690.5 757.6L691.0 757.6L691.9 737.1L692.7 737.1L693.1 741.8L693.9 741.8L694.3 740.3L694.7 740.3L695.7 736.3L696.3 736.3L697.1 730.0L698.0 730.0L697.6 738.8L698.3 738.8L698.1 730.0L698.5 730.0L698.5 736.8L699.0 736.8L699.0 755.3L699.7 755.3L699.6 749.5L700.4 749.5L700.2 744.6L700.7 744.6L700.8 742.5L701.5 742.5L701.4 759.1L701.9 759.1L701.6 764.0L702.1 764.0L701.8 771.5L702.4 771.5L702.0 758.6L702.9 758.6L702.2 758.2L702.9 758.2L702.4 774.3L703.0 774.3L702.6 791.3L703.4 791.3L702.9 780.5L703.5 780.5L703.1 780.6L703.7 780.6L703.3 789.4L703.9 789.4L703.5 778.1L704.0 778.1L703.6 788.2L704.5 788.2L703.8 799.1L704.7 799.1L704.0 801.8L704.6 801.8L704.2 816.6L704.7 816.6L704.4 808.9L705.2 808.9L704.6 812.4L705.3 812.4L704.8 812.7L705.3 812.7L704.9 817.4L705.7 817.4L705.7 820.7L706.6 820.7L706.5 811.4L707.3 811.4L707.3 824.8L707.8 824.8L708.5 833.5L709.2 833.5L709.7 813.0L710.3 813.0L710.9 820.1L711.8 820.1L712.1 820.1L712.7 820.1L713.2 820.1L713.8 820.1L714.4 820.1L715.2 820.1L715.6 830.9L716.2 830.9L716.8 828.8L717.5 828.8L717.4 826.0L718.2 826.0L718.0 843.3L718.7 843.3L718.6 824.5L719.4 824.5L719.2 835.8L719.7 835.8L719.8 841.1L720.3 841.1L720.3 842.6L721.0 842.6L720.9 836.5L721.7 836.5L721.5 850.6L722.4 850.6L722.1 860.0L722.9 860.0L722.7 855.9L723.3 855.9L723.3 858.4L724.0 858.4L723.9 852.6L724.6 852.6L724.5 852.9L725.4 852.9L725.1 844.4L725.6 844.4L725.7 853.2L726.3 853.2L726.3 835.4L727.1 835.4L726.9 846.2L727.6 846.2L727.5 844.1L728.3 844.1L728.1 838.9L728.9 838.9L728.6 848.8L729.4 848.8L729.8 839.6L730.4 839.6L731.0 820.1L731.6 820.1L731.8 840.0L732.3 840.0L732.7 825.0L733.3 825.0L732.8 810.2L733.7 810.2L732.9 816.3L733.6 816.3L733.1 819.2L733.6 819.2L733.2 817.7L734.1 817.7L733.3 807.5L734.2 807.5L733.5 805.5L734.1 805.5L733.6 802.4L734.2 802.4L733.7 793.7L734.4 793.7L733.8 806.0L734.4 806.0L734.0 805.9L734.7 805.9L734.1 788.1L734.9 788.1L734.7 776.4L735.4 776.4L735.3 790.9L735.8 790.9L735.9 774.8L736.6 774.8L736.5 772.7L736.9 772.7L737.7 779.2L738.5 779.2L738.8 784.8L739.6 784.8L739.6 782.4L740.3 782.4L740.4 789.5L741.2 789.5L741.2 803.5L741.7 803.5L742.0 802.8L742.5 802.8L742.8 793.9L743.5 793.9L743.6 788.7L744.1 788.7L744.8 804.8L745.4 804.8L746.0 798.9L746.8 798.9L746.3 812.5L747.0 812.5L746.6 797.3L747.2 797.3L746.9 794.8L747.5 794.8L747.3 806.6L747.8 806.6L747.6 788.3L748.1 788.3L748.0 791.5L748.8 791.5L748.4 775.7L749.0 775.7L748.8 784.8L749.4 784.8L749.2 767.9L750.1 767.9L749.6 777.9L750.2 777.9L750.0 773.0L750.7 773.0L751.2 760.8L751.9 760.8L752.4 786.4L752.9 786.4L753.5 778.3L754.4 778.3L754.7 772.5L755.6 772.5L755.5 763.3L756.1 763.3L756.3 751.3L757.2 751.3L757.1 754.5L758.0 754.5L758.3 750.4L759.1 750.4L759.5 754.6L760.1 754.6L760.7 752.3L761.5 752.3L761.8 749.6L762.5 749.6L762.6 758.4L763.4 758.4L763.4 745.2L764.1 745.2L764.2 739.6L765.0 739.6L764.8 739.7L765.2 739.7L765.3 744.5L766.0 744.5L765.9 736.4L766.5 736.4L766.5 734.1L767.2 734.1L767.1 727.6L767.9 727.6L767.8 736.2L768.2 736.2L768.4 757.0L768.9 757.0L768.9 747.6L769.8 747.6L769.5 742.1L770.2 742.1L770.1 744.4L770.6 744.4L771.3 750.3L772.2 750.3L772.5 757.0L773.1 757.0L773.0 742.6L773.6 742.6L773.5 752.0L774.3 752.0L773.9 755.1L774.6 755.1L774.4 745.7L775.2 745.7L774.9 739.6L775.6 739.6L776.1 736.0L776.6 736.0L777.2 739.6L778.1 739.6L778.4 743.5L779.3 743.5L779.6 743.1L780.3 743.1L779.8 743.8L780.5 743.8L780.0 723.5L780.6 723.5L780.2 725.7L780.7 725.7L780.4 723.1L781.1 723.1L780.6 727.8L781.1 727.8L780.8 726.9L781.6 726.9L781.6 719.1L782.2 719.1L782.5 716.9L783.3 716.9L782.8 725.8L783.5 725.8L783.2 728.2L783.7 728.2L783.6 722.8L784.2 722.8L784.0 735.5L784.9 735.5L784.4 749.6L784.8 749.6L784.5 746.6L785.1 746.6L784.7 737.9L785.2 737.9L784.9 748.6L785.4 748.6L785.0 752.3L785.9 752.3L785.2 754.2L786.0 754.2L785.4 771.8L786.2 771.8L785.5 755.5L786.2 755.5L786.1 769.9L787.0 769.9L786.7 774.5L787.6 774.5L787.3 780.7L788.2 780.7L787.9 766.4L788.4 766.4L789.1 761.3L789.6 761.3L790.3 775.3L790.8 775.3L791.5 780.7L792.1 780.7L792.7 769.2L793.4 769.2L793.4 767.9L794.0 767.9L794.2 762.8L795.1 762.8L795.0 772.1L795.5 772.1L796.2 748.8L797.0 748.8L797.4 758.3L797.9 758.3L798.6 752.9L799.3 752.9L799.8 746.6L800.3 746.6L800.6 753.8L801.1 753.8L801.4 767.1L802.0 767.1L802.1 759.7L802.9 759.7L802.5 762.4L803.2 762.4L802.8 766.6L803.5 766.6L803.1 759.3L803.9 759.3L803.5 761.7L804.0 761.7L803.8 775.9L804.4 775.9L804.7 768.1L805.6 768.1L805.7 774.8L806.6 774.8L806.3 785.3L807.2 785.3L806.9 793.5L807.7 793.5L807.5 790.4L808.1 790.4L808.1 794.8L808.7 794.8L809.0 800.7L809.7 800.7L810.0 803.8L810.6 803.8L810.2 806.8L811.0 806.8L810.4 806.8L810.9 806.8L810.7 792.1L811.5 792.1L810.9 783.7L811.8 783.7L811.1 773.9L811.9 773.9L811.4 783.5L811.9 783.5L811.6 793.8L812.3 793.8L812.8 786.6L813.4 786.6L814.0 782.4L814.5 782.4L815.2 764.9L816.1 764.9L816.4 760.3L817.2 760.3L816.5 766.3L817.2 766.3L816.7 763.8L817.7 763.8L816.9 750.5L817.8 750.5L817.1 757.2L818.0 757.2L817.3 762.6L817.8 762.6L817.5 750.9L818.1 750.9L817.7 747.3L818.4 747.3L817.8 745.7L818.5 745.7L818.0 746.6L818.9 746.6L819.0 739.9L819.5 739.9L819.9 734.8L820.6 734.8L820.5 743.0L821.0 743.0L821.1 734.8L821.7 734.8L821.7 746.0L822.5 746.0L822.3 751.8L823.0 751.8L823.1 742.0L823.8 742.0L823.9 756.0L824.8 756.0L824.7 759.7L825.4 759.7L825.8 750.1L826.5 750.1L827.0 750.1L827.9 750.1L828.2 773.6L828.7 773.6L829.4 756.1L830.1 756.1L830.2 761.8L830.8 761.8L831.0 767.5L831.5 767.5L831.8 778.3L832.7 778.3L833.0 760.1L833.6 760.1L834.1 773.5L834.8 773.5L834.6 778.3L835.2 778.3L835.1 767.5L835.8 767.5L835.6 763.4L836.2 763.4L836.0 751.8L836.7 751.8L836.5 759.4L837.3 759.4L837.0 752.9L837.7 752.9L837.5 750.0L838.0 750.0L837.9 747.3L838.5 747.3L838.4 737.1L839.0 737.1L838.9 737.1L839.5 737.1L839.7 737.1L840.3 737.1L840.5 747.4L841.0 747.4L841.3 763.0L841.8 763.0L842.0 765.8L842.7 765.8L842.8 748.0L843.6 748.0L843.6 759.0L844.1 759.0L844.2 763.8L844.9 763.8L844.8 754.3L845.5 754.3L845.4 778.3L846.3 778.3L846.0 778.3L846.6 778.3L847.2 778.3L848.1 778.3L848.4 771.1L849.2 771.1L849.6 780.7L850.3 780.7L850.7 780.4L851.3 780.4L851.9 765.6L852.8 765.6L853.1 783.1L853.7 783.1L854.3 783.1L855.2 783.1L855.5 765.6L856.1 765.6L856.7 768.6L857.5 768.6L857.9 780.7L858.3 780.7L859.0 776.7L859.6 776.7L860.2 783.1L860.9 783.1L861.4 776.4L862.1 776.4L862.6 769.0L863.4 769.0L863.8 764.8L864.7 764.8L865.0 775.4L865.8 775.4L866.2 772.2L866.7 772.2L867.3 755.6L868.1 755.6L868.5 764.1L869.3 764.1L869.7 759.6L870.6 759.6L870.9 757.8L871.6 757.8L872.1 763.9L872.9 763.9L872.9 751.3L873.6 751.3L873.7 768.6L874.6 768.6L874.4 775.0L875.0 775.0L874.8 781.4L875.3 781.4L875.1 770.9L876.0 770.9L875.5 766.9L876.1 766.9L875.8 777.7L876.3 777.7L876.1 767.0L877.0 767.0L876.5 786.1L877.0 786.1L876.8 788.1L877.5 788.1L877.4 780.4L878.2 780.4L878.0 801.6L878.6 801.6L878.6 806.8L879.2 806.8L879.2 803.0L880.1 803.0L880.0 799.0L880.6 799.0L880.8 801.9L881.5 801.9L881.6 806.8L882.2 806.8L882.2 791.7L883.0 791.7L882.7 787.3L883.3 787.3L883.3 785.5L884.1 785.5L883.9 769.7L884.5 769.7L884.5 788.3L885.1 788.3L885.1 784.8L885.6 784.8L885.7 772.2L886.3 772.2L886.3 784.0L886.8 784.0L887.5 758.5L888.2 758.5L888.7 763.3L889.5 763.3L889.9 780.3L890.6 780.3L891.0 774.3L891.9 774.3L891.6 773.1L892.4 773.1L892.2 777.2L892.9 777.2L892.8 781.9L893.3 781.9L893.4 774.1L894.0 774.1L894.2 787.1L895.0 787.1L895.0 790.8L895.9 790.8L895.8 807.1L896.5 807.1L896.6 795.6L897.1 795.6L897.4 799.8L898.3 799.8L898.2 811.8L898.8 811.8L898.9 793.8L899.4 793.8L899.7 803.2L900.4 803.2L900.5 816.2L901.2 816.2L901.7 808.4L902.3 808.4L902.9 808.2L903.7 808.2L904.1 802.2L904.9 802.2L905.3 791.7L905.8 791.7L906.5 808.3L907.2 808.3L907.6 797.1L908.1 797.1L908.8 799.4L909.5 799.4L910.0 814.8L910.6 814.8L911.2 813.1L911.8 813.1L912.4 815.0L913.0 815.0L913.7 810.2L914.2 810.2L915.0 812.2"/><path d="M631.9 559.8L632.5 563.8L633.1 563.8L633.0 552.2L633.7 552.2L633.6 536.3L634.2 536.3L634.3 547.0L635.0 547.0L635.0 530.8L635.9 530.8L636.2 547.4L637.0 547.4L637.4 529.3L638.2 529.3L637.5 543.0L638.0 543.0L637.6 539.2L638.3 539.2L637.7 525.4L638.5 525.4L637.8 508.6L638.3 508.6L637.9 512.6L638.5 512.6L638.0 506.4L638.8 506.4L638.1 525.9L638.8 525.9L638.2 521.1L638.7 521.1L638.3 499.6L638.8 499.6L638.4 502.8L639.1 502.8L638.5 500.9L639.2 500.9L638.6 511.8L639.0 511.8L638.8 495.2L639.4 495.2L639.0 492.8L639.9 492.8L639.3 487.7L640.2 487.7L639.5 483.0L640.1 483.0L639.7 471.5L640.7 471.5L640.0 466.2L640.8 466.2L640.2 459.4L640.7 459.4L640.6 469.4L641.3 469.4L640.9 478.0L641.4 478.0L641.3 463.9L642.2 463.9L641.6 475.9L642.1 475.9L643.3 456.7L643.9 456.7L645.0 461.8L645.7 461.8L645.9 456.7L646.5 456.7L646.9 456.7L647.8 456.7L647.8 456.7L648.7 456.7L648.8 469.6L649.3 469.6L649.3 468.6L649.8 468.6L649.9 461.9L650.4 461.9L650.4 480.3L651.2 480.3L651.6 477.3L652.4 477.3L652.8 482.7L653.3 482.7L652.9 488.7L653.5 488.7L653.0 481.7L653.8 481.7L653.2 484.0L653.8 484.0L653.3 500.9L653.8 500.9L653.4 488.4L654.3 488.4L653.6 506.9L654.1 506.9L653.7 495.1L654.4 495.1L653.8 506.9L654.7 506.9L654.0 506.9L654.8 506.9L655.2 506.9L656.0 506.9L656.3 499.6L656.9 499.6L657.5 503.4L658.1 503.4L658.7 501.3L659.3 501.3L659.7 497.8L660.5 497.8L660.6 502.2L661.3 502.2L660.9 492.5L661.6 492.5L661.3 491.8L662.0 491.8L661.6 491.9L662.4 491.9L661.9 509.1L662.4 509.1L662.3 517.8L663.0 517.8L662.4 521.0L663.2 521.0L662.6 508.8L663.3 508.8L662.8 521.7L663.7 521.7L662.9 513.4L663.6 513.4L663.1 528.2L663.7 528.2L663.3 533.9L663.8 533.9L663.4 549.0L664.3 549.0L664.6 554.3L665.2 554.3L665.8 547.2L666.5 547.2L666.2 556.2L666.9 556.2L666.5 547.0L667.3 547.0L666.8 544.7L667.7 544.7L667.2 562.1L668.0 562.1L667.5 557.4L668.3 557.4L667.9 549.0L668.6 549.0L668.2 565.2L668.9 565.2L669.4 565.6L669.9 565.6L670.6 570.9L671.0 570.9L671.7 563.8L672.3 563.8L672.9 561.0L673.5 561.0L673.5 557.9L674.4 557.9L674.1 565.2L674.9 565.2L674.7 551.8L675.3 551.8L675.3 540.2L675.9 540.2L675.8 529.0L676.6 529.0L676.3 556.5L676.9 556.5L676.7 539.0L677.5 539.0L677.2 520.4L677.7 520.4L677.7 539.6L678.5 539.6L678.0 518.2L678.5 518.2L678.3 536.8L679.0 536.8L678.6 520.6L679.2 520.6L678.9 519.1L679.4 519.1L679.2 513.3L679.9 513.3L679.5 511.6L680.2 511.6L679.7 501.8L680.2 501.8L680.0 506.2L680.9 506.2L681.2 490.7L681.7 490.7L682.4 506.4L682.9 506.4L682.5 486.6L683.3 486.6L682.7 494.2L683.2 494.2L682.8 492.0L683.5 492.0L682.9 482.5L683.7 482.5L683.1 483.7L683.8 483.7L683.2 481.8L683.8 481.8L683.3 487.2L684.0 487.2L683.5 482.9L684.2 482.9L683.6 471.7L684.5 471.7L684.8 471.1L685.7 471.1L686.0 473.8L686.6 473.8L686.4 468.1L687.1 468.1L686.9 480.2L687.6 480.2L687.4 476.6L688.2 476.6L687.9 483.5L688.5 483.5L688.3 479.2L688.8 479.2L688.7 482.4L689.6 482.4L689.1 493.1L689.8 493.1L689.5 484.9L690.3 484.9L689.9 488.8L690.6 488.8L690.3 503.4L690.8 503.4L690.7 508.4L691.6 508.4L690.9 501.4L691.6 501.4L691.1 497.9L691.6 497.9L691.3 519.1L691.8 519.1L691.5 522.0L692.0 522.0L691.7 514.3L692.2 514.3L691.9 527.2L692.7 527.2L692.1 529.0L692.9 529.0L692.2 520.2L692.9 520.2L692.4 528.0L693.0 528.0L692.6 513.2L693.1 513.2L692.7 520.4L693.4 520.4L692.9 495.6L693.6 495.6L693.1 513.9L693.9 513.9L693.3 484.9L693.8 484.9L693.4 485.4L694.1 485.4L693.6 504.8L694.2 504.8L693.8 489.4L694.2 489.4L693.9 500.3L694.8 500.3L694.1 488.0L694.6 488.0L694.3 480.1L695.0 480.1L695.2 475.5L695.9 475.5L696.2 475.2L696.7 475.2L696.4 496.4L697.1 496.4L696.7 504.8L697.5 504.8L697.0 477.0L697.5 477.0L697.3 496.1L697.9 496.1L697.5 499.4L698.1 499.4L697.8 501.7L698.3 501.7L698.4 516.5L699.3 516.5L699.0 502.6L699.8 502.6L699.6 513.0L700.2 513.0L700.2 517.6L700.8 517.6L700.5 521.2L701.4 521.2L700.8 501.7L701.3 501.7L701.1 508.1L701.8 508.1L701.4 503.6L702.1 503.6L701.7 517.2L702.4 517.2L702.0 499.3L702.8 499.3L702.3 510.7L702.9 510.7L702.6 491.8L703.3 491.8L703.2 475.2L704.0 475.2L703.8 499.6L704.6 499.6L704.3 483.7L705.0 483.7L704.9 477.6L705.5 477.6L705.1 482.7L706.0 482.7L705.3 475.2L706.0 475.2L705.5 491.0L706.1 491.0L705.7 491.3L706.3 491.3L705.9 506.2L706.5 506.2L706.0 506.0L706.9 506.0L706.2 517.3L706.9 517.3L706.4 519.6L707.1 519.6L706.6 496.2L707.1 496.2L706.8 512.3L707.5 512.3L706.9 515.5L707.7 515.5L707.1 529.5L707.9 529.5L707.3 508.3L708.2 508.3L708.5 535.4L709.3 535.4L709.7 528.5L710.5 528.5L710.9 529.1L711.6 529.1L712.1 531.6L712.9 531.6L712.5 517.9L713.2 517.9L713.0 510.8L713.9 510.8L713.5 529.9L714.4 529.9L713.9 526.8L714.7 526.8L714.4 521.0L714.9 521.0L715.6 516.4L716.3 516.4L716.8 513.2L717.3 513.2L717.4 533.8L718.0 533.8L718.0 527.7L718.5 527.7L718.6 537.5L719.4 537.5L719.2 537.8L719.9 537.8L719.3 529.8L720.0 529.8L719.5 528.0L720.1 528.0L719.7 534.4L720.5 534.4L719.8 520.3L720.4 520.3L720.0 517.4L720.6 517.4L720.2 514.3L721.1 514.3L720.3 523.0L720.9 523.0L720.5 508.1L721.4 508.1L720.7 517.9L721.4 517.9L720.9 499.7L721.6 499.7L721.0 507.7L721.6 507.7L721.2 484.7L722.0 484.7L721.4 500.0L722.1 500.0L721.5 493.8L722.2 493.8L722.7 490.9L723.3 490.9L723.9 487.2L724.7 487.2L724.5 482.6L725.2 482.6L725.1 501.7L725.9 501.7L725.7 495.9L726.3 495.9L726.3 507.5L727.1 507.5L726.6 504.2L727.2 504.2L726.8 499.7L727.5 499.7L727.1 497.5L727.7 497.5L727.4 508.7L728.2 508.7L727.7 490.2L728.5 490.2L727.9 481.2L728.8 481.2L728.4 484.2L729.3 484.2L728.9 474.0L729.5 474.0L729.4 469.6L730.1 469.6L729.8 474.0L730.7 474.0L730.5 486.5L731.2 486.5L731.1 478.9L732.0 478.9L731.7 465.0"/><path d="M745.2 488.7L745.6 469.5L746.1 469.5L746.0 480.7L746.7 480.7L746.4 492.7L747.1 492.7L746.8 465.7L747.3 465.7L747.2 474.7L747.9 474.7L747.6 465.7L748.5 465.7L748.1 485.9L748.9 485.9L748.6 465.7L749.4 465.7L749.0 479.2L749.8 479.2L749.5 490.6L750.3 490.6L750.0 480.6L750.5 480.6L750.8 481.4L751.5 481.4L751.6 490.3L752.1 490.3L752.4 470.1L753.0 470.1L752.9 472.1L753.6 472.1L753.5 486.2L754.1 486.2L754.1 482.1L754.7 482.1L754.7 465.0"/><path d="M635.0 654.7L636.2 671.5L636.8 671.5L637.4 650.7L637.9 650.7L637.8 660.8L638.4 660.8L638.3 654.2L638.8 654.2L638.8 667.3L639.7 667.3L639.3 669.7L640.1 669.7L639.7 661.4L640.6 661.4L640.1 659.2L640.9 659.2L640.5 661.3L641.3 661.3L640.9 663.7L641.6 663.7L641.3 661.2L642.2 661.2L641.7 658.6L642.3 658.6L642.1 662.2L642.9 662.2L642.5 652.9L643.0 652.9L642.9 664.5L643.4 664.5L643.3 651.1L644.1 651.1L643.7 642.8L644.3 642.8L644.1 638.3L644.6 638.3L644.5 619.4L645.1 619.4L645.7 631.5L646.5 631.5L646.9 630.7L647.5 630.7L647.6 627.0L648.2 627.0L648.4 625.2L649.1 625.2L649.2 635.0L649.8 635.0L650.2 623.3L650.7 623.3L651.1 610.4L651.7 610.4L651.7 631.5L652.4 631.5L652.3 619.8L653.0 619.8L652.9 623.1L653.6 623.1L653.5 631.2L654.4 631.2L654.2 628.0L654.9 628.0L654.9 633.2L655.7 633.2L655.6 619.1L656.2 619.1L656.3 636.4L657.2 636.4L656.9 653.9L657.7 653.9L657.5 642.6L658.2 642.6L658.1 637.0L659.0 637.0L658.7 661.3L659.4 661.3L659.9 655.1L660.7 655.1L661.1 635.4L661.8 635.4L661.5 657.3L662.1 657.3L661.9 652.4L662.6 652.4L662.3 654.5L663.0 654.5L662.7 650.1L663.6 650.1L663.1 659.2L663.6 659.2L663.4 653.7L664.0 653.7L664.6 661.5L665.5 661.5L665.8 668.1L666.5 668.1L667.0 665.0L667.9 665.0L668.2 657.7L668.9 657.7L669.4 657.8L670.0 657.8L670.6 659.9L671.2 659.9L671.2 629.3L671.7 629.3L671.7 640.3L672.6 640.3L672.3 650.7L673.1 650.7L672.9 634.3L673.6 634.3L673.3 629.3L673.9 629.3L673.6 641.3L674.4 641.3L673.9 653.0L674.8 653.0L674.3 654.4L674.8 654.4L674.6 649.0L675.2 649.0L675.0 648.5L675.5 648.5L675.3 656.5L676.1 656.5L675.6 655.4L676.1 655.4L676.0 645.9L676.7 645.9L676.3 649.3L677.2 649.3L676.7 646.4L677.2 646.4L677.0 643.7L677.8 643.7L677.3 637.8L678.0 637.8L677.7 650.4L678.2 650.4L678.9 646.7L679.4 646.7L680.0 656.8L680.8 656.8L681.2 644.4L681.9 644.4L682.4 644.4L683.0 644.4L683.6 644.4L684.2 644.4L684.8 644.4L685.5 644.4L685.4 628.4L686.0 628.4L686.0 625.9L686.5 625.9L686.6 620.8L687.0 620.8L687.2 620.2L687.9 620.2L688.3 615.1L688.9 615.1L689.5 615.1L690.1 615.1L690.7 627.8L691.5 627.8L691.9 615.2L692.6 615.2L692.8 617.0L693.6 617.0L693.7 613.3L694.3 613.3L694.6 617.2L695.3 617.2L695.5 622.5L696.3 622.5L696.0 593.0L696.7 593.0L696.6 598.3L697.2 598.3L697.2 611.4L698.0 611.4L697.8 606.9L698.4 606.9L698.3 605.7L699.1 605.7L698.8 597.9L699.5 597.9L699.2 608.9L699.7 608.9L699.7 614.7L700.5 614.7L700.2 610.2L701.0 610.2L700.3 598.5L700.9 598.5L700.5 615.9L701.4 615.9L700.6 618.6L701.4 618.6L700.7 635.0L701.3 635.0L700.9 616.1L701.3 616.1L701.0 628.6L701.9 628.6L701.1 641.5L701.9 641.5L701.3 638.0L702.1 638.0L701.4 638.9L701.9 638.9L702.0 648.3L702.6 648.3L702.6 619.0L703.1 619.0L703.2 625.4L703.8 625.4L703.8 642.8L704.3 642.8L704.2 641.3L705.0 641.3L704.7 651.4L705.6 651.4L705.2 632.9L705.7 632.9L705.6 643.8L706.4 643.8L706.1 638.3L706.7 638.3L706.7 646.8L707.4 646.8L707.3 651.9L708.1 651.9L707.9 641.2L708.8 641.2L708.5 658.6L709.4 658.6L709.7 672.1L710.4 672.1L710.9 678.2L711.5 678.2L711.1 667.0L711.9 667.0L711.3 659.0L711.9 659.0L711.6 661.2L712.3 661.2L711.8 678.1L712.6 678.1L712.1 680.0L712.7 680.0L712.4 684.7L712.9 684.7L712.7 675.8L713.6 675.8L713.1 664.2L713.6 664.2L713.4 669.9L714.3 669.9L713.7 671.5L714.6 671.5L714.1 678.3L714.6 678.3L714.4 673.2L715.2 673.2L715.2 645.2L715.9 645.2L716.0 652.3L716.7 652.3L716.8 651.0L717.6 651.0L717.4 657.4L717.9 657.4L718.0 631.7L718.7 631.7L718.6 649.9L719.3 649.9L719.2 627.0L720.0 627.0L720.3 631.3L721.2 631.3L721.5 631.8L722.2 631.8L722.3 624.5L723.1 624.5L723.1 635.5L723.8 635.5L723.9 632.8L724.5 632.8L724.7 637.6L725.4 637.6L725.5 636.4L726.0 636.4L726.3 617.5L726.8 617.5L726.6 629.7L727.4 629.7L727.0 626.3L727.5 626.3L727.3 617.5L728.1 617.5L727.6 642.7L728.4 642.7L728.0 646.1L728.8 646.1L728.3 623.3L729.1 623.3L728.6 648.4L729.4 648.4L729.8 653.9L730.7 653.9L731.0 642.4L731.9 642.4L732.2 648.4L732.9 648.4L733.4 653.9L734.2 653.9L734.2 652.5L734.7 652.5L735.0 629.3L735.7 629.3L735.8 645.1L736.3 645.1L736.9 647.3L737.5 647.3L738.1 629.2L739.0 629.2L739.3 633.1L740.2 633.1L740.5 642.7L741.0 642.7L741.1 645.7L741.6 645.7L741.7 644.1L742.2 644.1L742.3 634.7L743.0 634.7L742.9 661.1L743.7 661.1L744.1 640.8L744.9 640.8L745.2 657.4L746.1 657.4L745.8 654.8L746.7 654.8L746.4 658.3L746.9 658.3L747.0 668.1L747.6 668.1L747.6 665.3L748.5 665.3L748.0 646.4L748.7 646.4L748.4 641.5L749.1 641.5L748.8 663.2L749.3 663.2L749.2 651.3L750.1 651.3L749.6 647.0L750.1 647.0L750.0 655.2L750.7 655.2L750.6 649.3L751.3 649.3L751.2 638.3L751.9 638.3L751.8 636.1L752.4 636.1L752.4 630.3L753.2 630.3L752.9 641.2L753.5 641.2L753.5 625.0L754.0 625.0L754.1 615.1L754.7 615.1L754.7 620.3L755.2 620.3L755.1 621.8L756.0 621.8L755.4 627.1L756.2 627.1L755.7 643.6L756.7 643.6L756.1 633.1L756.9 633.1L756.4 634.8L757.1 634.8L756.8 638.7L757.5 638.7L757.1 634.3L757.7 634.3L757.7 643.7L758.6 643.7L758.3 618.0L758.8 618.0L758.9 616.4L759.8 616.4L759.5 626.3L760.2 626.3L760.7 622.6L761.3 622.6L761.8 620.3L762.6 620.3L763.0 624.7L763.9 624.7L764.2 614.0L765.1 614.0L764.7 624.6L765.6 624.6L765.2 609.2L766.0 609.2L765.6 620.1L766.4 620.1L766.1 609.9L766.8 609.9L766.6 612.3L767.4 612.3L767.0 600.0L767.6 600.0L767.4 595.0L768.1 595.0L767.8 589.0L768.5 589.0L768.2 589.4L768.8 589.4L768.6 589.0L769.3 589.0L768.9 593.1L769.7 593.1L770.1 589.0L770.8 589.0L771.3 586.7L772.0 586.7L772.1 587.5L772.9 587.5L772.9 603.9L773.8 603.9L773.7 620.3L774.5 620.3L774.0 592.2L774.6 592.2L774.4 591.5L775.0 591.5L774.7 589.1L775.2 589.1L775.0 599.5L775.8 599.5L775.4 590.1L776.2 590.1L775.6 593.3L776.3 593.3L775.8 610.8L776.2 610.8L776.0 587.2L776.5 587.2L776.2 588.8L777.0 588.8L776.4 617.2L777.0 617.2L776.6 594.2L777.3 594.2L776.8 611.4L777.6 611.4L777.0 615.1L777.8 615.1L777.2 619.5L778.1 619.5L778.0 607.0L778.6 607.0L778.8 635.0L779.5 635.0L779.6 627.3L780.2 627.3L780.8 629.4L781.4 629.4L782.0 629.4L782.9 629.4L782.8 645.9L783.6 645.9L783.6 637.9L784.4 637.9L784.4 627.5L785.1 627.5L785.0 643.2L785.5 643.2L785.5 658.2L786.0 658.2L786.1 642.9L786.7 642.9L786.7 664.5L787.3 664.5L787.9 656.5L788.5 656.5L789.1 672.2L789.9 672.2L790.3 659.5L790.8 659.5L791.5 656.8L792.0 656.8L792.7 677.6L793.3 677.6L793.8 673.6"/><path d="M831.8 685.0L832.4 669.7L832.9 669.7L833.0 678.7L833.4 678.7L833.6 663.7L834.5 663.7L834.1 672.5L834.7 672.5L834.7 682.9L835.5 682.9L835.3 660.2L836.0 660.2L835.9 662.7L836.4 662.7L836.5 650.7L837.0 650.7L837.3 675.3L838.1 675.3L838.1 665.0L838.7 665.0L838.9 675.3L839.4 675.3L839.5 660.1L840.3 660.1L840.1 660.8L840.7 660.8L840.7 658.6L841.4 658.6L841.3 641.7L842.1 641.7L841.6 644.9L842.5 644.9L841.9 641.8L842.8 641.8L842.3 643.2L843.1 643.2L842.6 641.2L843.4 641.2L843.0 638.0L843.8 638.0L843.3 618.3L844.0 618.3L843.6 644.8L844.4 644.8L843.9 628.3L844.5 628.3L844.2 630.8L845.0 630.8L844.5 612.7L845.1 612.7L844.8 618.2L845.5 618.2L846.0 619.2L846.9 619.2L847.2 622.2L848.0 622.2L848.4 622.4L849.2 622.4L849.6 612.4L850.2 612.4L850.3 607.1L851.1 607.1L851.1 614.8L851.7 614.8L851.9 593.8L852.6 593.8L853.1 603.0L853.9 603.0L854.3 601.6L854.8 601.6L855.5 605.5L856.1 605.5L856.7 599.5L857.5 599.5L857.5 601.7L858.4 601.7L858.2 603.7L858.8 603.7L859.0 609.1L859.9 609.1L860.2 610.6L861.0 610.6L861.4 615.2L862.3 615.2L862.6 611.0L863.5 611.0L863.8 618.4L864.5 618.4L864.6 617.0L865.1 617.0L865.4 593.8L865.9 593.8L866.2 598.8L866.7 598.8L866.7 593.8L867.6 593.8L867.3 611.3L867.8 611.3L867.9 606.7L868.6 606.7L868.5 611.5L869.3 611.5L869.7 605.6L870.3 605.6L870.9 619.4L871.6 619.4L872.1 602.3L872.8 602.3L873.3 596.1L874.0 596.1L873.7 619.6L874.6 619.6L874.2 596.6L874.8 596.6L874.7 616.2L875.5 616.2L875.2 627.0L876.1 627.0L875.6 630.2L876.4 630.2L876.4 621.5L877.0 621.5L877.2 621.9L877.8 621.9L878.0 610.7L878.6 610.7L878.6 630.2L879.4 630.2L879.2 604.5L879.9 604.5L879.8 628.3L880.4 628.3L880.4 613.6L881.0 613.6L881.6 616.3L882.3 616.3L882.7 608.9L883.3 608.9L883.3 604.6L884.0 604.6L883.9 623.1L884.6 623.1L884.5 614.8L885.3 614.8L885.1 613.2L885.9 613.2L886.3 615.4L887.2 615.4L887.5 602.4L888.3 602.4L888.3 598.9L889.2 598.9L889.1 617.6L890.0 617.6L889.9 620.9L890.5 620.9L890.1 616.3L891.0 616.3L890.3 615.8L890.8 615.8L890.6 600.5L891.4 600.5L890.8 610.1L891.4 610.1L891.0 612.3L891.9 612.3L891.3 603.4L891.9 603.4L891.5 583.6L892.1 583.6L891.8 583.3L892.5 583.3L892.0 603.3L892.6 603.3L892.2 588.1L892.7 588.1L892.7 597.4L893.4 597.4L893.2 587.7L894.0 587.7L893.7 589.2L894.3 589.2L894.1 574.0L894.6 574.0L894.6 558.3L895.3 558.3L895.2 568.4L895.9 568.4L895.8 566.9L896.7 566.9L896.4 564.1L896.9 564.1L897.0 565.5L897.6 565.5L897.6 547.8L898.4 547.8L898.2 568.7L898.8 568.7L898.8 549.6L899.3 549.6L899.3 534.5L900.2 534.5L900.5 545.6L901.0 545.6L901.7 553.5L902.2 553.5L902.9 549.6L903.4 549.6L904.1 522.1L904.6 522.1L905.3 537.6L906.1 537.6L906.5 535.1L907.1 535.1L907.2 536.0L907.8 536.0L908.0 542.5L908.9 542.5L908.8 517.3L909.6 517.3L909.3 507.5L910.0 507.5L909.8 507.1L910.3 507.1L910.2 508.3L910.7 508.3L910.7 520.1L911.5 520.1L911.2 496.6L912.1 496.6L911.8 512.7L912.3 512.7L912.4 511.7L913.0 511.7L913.0 497.0L913.7 497.0L913.6 494.3L914.1 494.3L914.3 505.5L915.1 505.5L915.0 488.7"/><path d="M834.1 465.0L834.4 466.7L835.2 466.7L834.7 474.0L835.6 474.0L835.0 476.2L835.8 476.2L835.3 480.4L836.0 480.4L835.6 474.8L836.5 474.8L835.8 470.9L836.6 470.9L836.0 473.6L836.5 473.6L836.3 491.3L836.9 491.3L836.5 495.8"/><path d="M846.0 465.0L846.3 470.4L846.8 470.4L846.6 466.8L847.3 466.8L846.9 476.6L847.5 476.6L847.2 464.8L847.8 464.8L848.0 489.5L848.6 489.5L848.8 492.7L849.6 492.7L849.6 475.0L850.2 475.0L850.7 497.4L851.5 497.4L851.9 485.4L852.8 485.4L852.7 488.4L853.3 488.4L853.5 489.7L854.3 489.7L854.3 487.9L855.2 487.9L855.5 481.5L856.1 481.5L856.7 506.5L857.6 506.5L856.8 498.5L857.5 498.5L856.9 508.0L857.7 508.0L857.1 510.7L857.7 510.7L857.2 512.8L857.7 512.8L857.3 518.1L858.0 518.1L857.5 508.3L858.1 508.3L857.6 508.1L858.5 508.1L857.7 516.1L858.4 516.1L857.9 535.4L858.5 535.4L859.0 534.2L859.5 534.2L860.2 534.7L860.8 534.7L860.4 538.3L861.0 538.3L860.6 556.2L861.3 556.2L860.7 547.8L861.3 547.8L860.9 551.5L861.7 551.5L861.1 560.0L861.6 560.0L861.2 550.7L862.1 550.7L861.4 571.9L862.0 571.9L862.6 547.0L863.5 547.0L863.8 566.4L864.4 566.4L864.6 568.7L865.2 568.7L865.4 570.9L866.2 570.9L866.2 573.0L866.8 573.0L866.5 578.1L867.4 578.1L866.9 554.9L867.5 554.9L867.3 573.0L867.9 573.0L867.7 570.9L868.6 570.9L868.1 557.8L868.7 557.8L868.5 551.1L869.0 551.1L869.0 551.1L869.6 551.1L869.5 554.0L870.2 554.0L869.9 551.1L870.7 551.1L870.4 568.5L870.9 568.5L870.9 555.6L871.5 555.6L871.0 576.6L871.6 576.6L871.2 579.3L872.0 579.3L871.3 570.2L872.0 570.2L871.5 585.5L872.0 585.5L871.6 572.4L872.4 572.4L871.8 604.0L872.7 604.0L871.9 580.6L872.7 580.6L872.1 602.8L872.8 602.8L872.5 587.6L872.9 587.6L872.9 595.0L873.7 595.0L873.3 594.5L874.1 594.5L873.7 609.3L874.5 609.3L874.1 620.2L874.6 620.2L874.4 618.4L874.9 618.4L875.2 621.4L875.9 621.4L876.0 630.2L876.7 630.2L876.8 625.2L877.4 625.2L878.0 616.6L878.6 616.6L879.2 619.1"/><path d="M876.8 597.8L877.4 595.2L878.2 595.2L878.0 601.2L878.5 601.2L878.6 601.8L879.3 601.8L879.2 594.7L880.1 594.7L879.8 578.6L880.6 578.6L880.4 576.5L881.1 576.5L881.0 578.8L881.7 578.8L881.6 570.4L882.4 570.4L882.4 561.0L882.9 561.0L883.1 563.6L883.8 563.6L883.9 559.6L884.5 559.6L884.5 568.8L885.1 568.8L885.1 552.5L885.8 552.5L885.7 550.0L886.2 550.0L886.3 534.6L887.1 534.6L886.5 528.5L887.1 528.5L886.7 558.1L887.4 558.1L886.9 538.9L887.7 538.9L887.1 522.0L887.9 522.0L887.3 532.0L887.9 532.0L887.5 529.0L888.1 529.0L888.7 526.4L889.5 526.4L889.9 525.4L890.4 525.4L890.5 531.1L891.1 531.1L891.0 508.5L891.8 508.5L891.6 502.5L892.4 502.5L892.2 510.7L892.8 510.7L892.6 508.8L893.2 508.8L893.0 490.0L893.7 490.0L893.4 512.5L893.9 512.5L893.8 501.5L894.7 501.5L894.2 485.0L894.8 485.0L894.6 504.9L895.2 504.9L895.8 488.2L896.3 488.2L897.0 492.9L897.8 492.9L897.6 483.0L898.3 483.0L898.2 496.2L898.9 496.2L898.8 470.5L899.5 470.5L899.3 482.2L900.1 482.2L900.5 478.2L901.2 478.2L901.7 481.5L902.4 481.5L902.3 474.6L902.9 474.6L902.9 487.3L903.5 487.3L903.5 485.1L904.1 485.1L904.1 504.6L904.6 504.6L905.3 503.9L905.8 503.9L906.5 487.0L907.1 487.0L907.0 492.3L907.6 492.3L907.6 485.3L908.5 485.3L908.2 496.2L909.0 496.2L908.8 485.5L909.4 485.5L910.0 504.6L910.7 504.6L911.2 479.7L912.1 479.7L911.8 483.9L912.6 483.9L912.4 492.1L912.9 492.1L913.0 474.0L913.7 474.0L913.6 478.7L914.1 478.7L914.3 485.5L915.1 485.5L915.0 474.5"/><path d="M370.0 512.4L370.6 514.3L371.4 514.3L371.2 517.4L372.0 517.4L371.8 533.4L372.7 533.4L372.4 533.4L372.9 533.4L372.6 518.7L373.3 518.7L372.9 539.1L373.7 539.1L373.2 532.8L373.7 532.8L373.4 521.9L373.9 521.9L373.7 540.1L374.5 540.1L374.0 543.9L374.5 543.9L374.2 557.9L375.0 557.9L374.5 559.1L375.1 559.1L374.7 554.5L375.6 554.5L375.3 553.1L376.2 553.1L375.9 559.1L376.5 559.1L376.5 558.4L377.1 558.4L377.1 539.3L377.8 539.3L377.4 552.7L378.0 552.7L377.7 546.9L378.2 546.9L378.0 515.6L378.5 515.6L378.3 517.1L378.9 517.1L378.6 523.1L379.3 523.1L378.9 510.8L379.5 510.8L379.2 516.7L379.9 516.7L379.5 523.0L380.0 523.0L379.7 516.3L380.3 516.3L379.9 521.9L380.7 521.9L380.1 529.9L380.8 529.9L380.3 528.2L381.1 528.2L380.5 524.2L381.0 524.2L380.7 518.8L381.4 518.8L380.9 546.2L381.7 546.2L381.1 550.2L381.8 550.2L381.3 544.1L381.9 544.1L381.5 558.8L382.3 558.8L381.7 559.1L382.3 559.1L381.9 554.3L382.4 554.3L382.4 540.4L383.2 540.4L383.0 548.3L383.8 548.3L383.6 533.2L384.2 533.2L384.2 525.7L384.7 525.7L385.4 539.1L386.2 539.1L386.6 550.6L387.4 550.6L387.8 540.5L388.6 540.5L389.0 528.0L389.7 528.0L389.6 539.7L390.1 539.7L390.2 535.6L390.9 535.6L390.7 519.0L391.6 519.0L391.3 503.1L392.0 503.1L391.5 523.9L392.2 523.9L391.6 509.6L392.5 509.6L391.7 513.5L392.4 513.5L391.9 503.4L392.5 503.4L392.0 511.3L392.6 511.3L392.1 482.3L392.7 482.3L392.3 493.2L392.8 493.2L392.4 495.6L393.2 495.6L392.5 497.0L393.1 497.0L393.3 499.5L393.9 499.5L394.1 482.3L394.9 482.3L394.9 497.1L395.5 497.1L395.2 487.7L395.7 487.7L395.4 519.1L396.1 519.1L395.7 520.1L396.3 520.1L395.9 501.1L396.8 501.1L396.2 519.6L396.8 519.6L396.5 515.8L397.1 515.8L396.7 518.4L397.3 518.4L397.0 522.2L397.7 522.2L397.3 530.6L397.7 530.6L397.9 524.8L398.5 524.8L398.4 518.8L399.3 518.8L399.0 516.8L399.7 516.8L399.6 504.8L400.3 504.8L399.7 524.8L400.3 524.8L399.8 515.1L400.6 515.1L399.9 490.3L400.5 490.3L400.0 483.1L400.8 483.1L400.1 508.4L400.8 508.4L400.1 477.8L400.6 477.8L400.2 490.1L400.7 490.1L400.3 479.7L401.0 479.7L400.4 482.2L401.0 482.2L400.5 481.9L401.1 481.9L400.6 465.0L401.2 465.0L400.7 472.6L401.2 472.6L400.7 469.5L401.4 469.5L400.8 477.5L401.7 477.5L402.0 479.3L402.7 479.3L403.2 469.5L404.1 469.5L403.6 464.1L404.1 464.1L404.0 491.6L404.8 491.6L404.4 480.8L405.3 480.8L404.8 471.2L405.4 471.2L405.2 493.5L405.8 493.5L405.6 487.2L406.1 487.2L405.9 492.8L406.6 492.8L406.2 496.9L406.8 496.9L406.5 504.3L407.1 504.3L406.8 511.6L407.6 511.6L407.1 504.0L407.7 504.0L407.5 499.2L408.2 499.2L407.9 518.0L408.4 518.0L408.4 515.7L409.2 515.7L408.9 522.7L409.4 522.7L409.4 528.3L410.1 528.3L409.8 523.2L410.5 523.2L410.4 528.3L411.0 528.3L411.0 523.3L411.7 523.3L411.6 515.5L412.2 515.5L412.2 527.4L413.0 527.4L413.4 503.7L414.1 503.7L414.6 503.7L415.2 503.7L415.2 512.0L415.7 512.0L415.8 514.1L416.5 514.1L416.3 503.7L416.9 503.7L416.9 518.7L417.8 518.7L417.4 532.4L417.9 532.4L417.9 510.1L418.4 510.1L418.4 530.0L419.0 530.0L418.8 521.7L419.4 521.7L419.3 526.1L420.1 526.1L420.0 534.7L420.5 534.7L420.7 529.7L421.3 529.7L421.4 533.5L422.1 533.5L422.2 531.3L422.7 531.3L423.6 526.9L424.2 526.9L425.0 530.4L425.5 530.4L426.2 533.8L426.8 533.8L427.4 528.6L427.9 528.6L427.8 540.1L428.3 540.1L428.2 540.1L428.7 540.1L428.6 520.1L429.4 520.1L429.0 531.2L429.7 531.2L429.3 513.2L430.1 513.2L429.7 527.6L430.3 527.6L430.9 518.3L431.8 518.3L432.1 520.4L432.7 520.4L432.9 536.4L433.8 536.4L433.7 529.9L434.3 529.9L434.5 538.4L435.2 538.4L435.7 527.0L436.3 527.0L436.9 536.5L437.7 536.5L437.2 540.1L438.0 540.1L437.5 528.4L438.2 528.4L437.9 532.8L438.5 532.8L438.2 524.0L438.7 524.0L438.5 533.1L439.3 533.1L438.9 507.1L439.6 507.1L439.2 510.8L439.9 510.8L439.7 508.8L440.2 508.8L440.2 505.5L440.9 505.5L440.6 504.3L441.3 504.3L441.1 502.1L441.6 502.1L441.3 505.0L442.2 505.0L441.6 496.6L442.1 496.6L441.8 515.7L442.3 515.7L442.0 504.4L442.6 504.4L442.2 528.3L443.0 528.3L442.4 527.7L442.9 527.7L442.6 531.7L443.4 531.7L442.8 527.2L443.4 527.2L443.1 529.8L443.7 529.8L443.3 534.6L444.0 534.6L443.5 534.8L444.2 534.8L444.7 539.3L445.2 539.3L445.9 533.2L446.6 533.2L446.0 530.1L446.7 530.1L446.1 523.6L446.8 523.6L446.3 532.9L446.9 532.9L446.4 531.9L447.1 531.9L446.6 537.8L447.3 537.8L446.7 524.7L447.6 524.7L446.8 507.4L447.6 507.4L447.0 532.3L447.8 532.3L447.1 515.1L447.9 515.1L447.3 494.9L447.8 494.9L447.4 509.8L447.9 509.8L447.5 504.7L448.3 504.7L447.7 487.7L448.2 487.7L447.8 513.1L448.6 513.1L448.0 495.9L448.6 495.9L448.1 492.0L448.8 492.0L448.2 488.9L448.9 488.9L448.8 497.9L449.5 497.9L449.4 472.3L450.3 472.3L450.0 479.5L450.6 479.5L450.6 475.0L451.2 475.0L451.4 471.9L451.9 471.9L452.2 469.6L452.8 469.6L453.0 465.0"/><path d="M453.0 500.6L453.5 513.8L454.1 513.8L453.9 496.6L454.5 496.6L454.4 500.4L455.2 500.4L454.9 510.8L455.5 510.8L455.3 516.1L456.1 516.1L455.7 529.7L456.3 529.7L456.1 514.5L456.8 514.5L456.5 522.7L457.4 522.7L456.8 527.2L457.3 527.2L457.1 530.8L458.0 530.8L457.3 540.8L457.8 540.8L457.6 530.1L458.5 530.1L457.9 549.6L458.3 549.6L458.1 544.4L459.0 544.4L458.4 533.4L459.0 533.4L458.6 559.1L459.1 559.1L458.9 559.1L459.4 559.1L460.1 555.0L460.9 555.0L461.3 540.1L462.1 540.1L462.5 548.7L462.9 548.7L463.6 548.7L464.5 548.7L464.2 550.4L465.0 550.4L464.8 567.8L465.6 567.8L465.4 572.7L466.2 572.7L466.0 552.0L466.8 552.0L466.6 569.7L467.5 569.7L467.2 573.0L467.7 573.0L467.8 561.7L468.5 561.7L468.4 584.7L469.0 584.7L469.6 578.0L470.5 578.0L470.8 575.9L471.4 575.9L471.9 577.3L472.7 577.3L473.1 582.7L473.8 582.7L473.6 576.0L474.5 576.0L474.1 573.9L475.0 573.9L474.6 585.2L475.3 585.2L475.0 581.0L475.9 581.0L475.5 563.3L476.4 563.3L476.3 555.2L477.1 555.2L477.1 552.6L477.9 552.6L477.9 571.3L478.4 571.3L479.1 540.7L479.6 540.7L480.2 543.3L480.8 543.3L480.8 546.5L481.3 546.5L481.4 536.4L482.1 536.4L482.0 553.1L482.7 553.1L482.6 545.6L483.5 545.6L483.0 540.9L483.5 540.9L483.3 518.4L484.0 518.4L483.6 524.3L484.5 524.3L484.0 521.6L484.5 521.6L484.3 517.5L485.1 517.5L484.6 522.3L485.3 522.3L485.0 496.6L485.8 496.6L486.2 510.5L486.9 510.5L487.4 513.1L487.9 513.1L487.6 495.2L488.4 495.2L487.8 496.8L488.7 496.8L488.1 496.2L489.0 496.2L488.3 505.6L489.2 505.6L488.5 500.5L489.4 500.5L488.7 483.4L489.5 483.4L488.9 481.8L489.5 481.8L489.0 486.3L489.7 486.3L489.2 475.1L489.7 475.1L489.4 478.9L490.0 478.9L489.6 475.4L490.4 475.4L489.7 465.0"/><path d="M489.7 474.5L490.9 485.3L491.5 485.3L492.1 480.8L492.9 480.8L492.9 481.6L493.7 481.6L493.7 492.7L494.5 492.7L494.5 480.8L495.0 480.8L495.7 493.1L496.2 493.1L496.8 483.6L497.4 483.6L497.4 487.3L498.0 487.3L498.0 495.4L498.7 495.4L498.6 480.0L499.3 480.0L499.2 497.1L499.8 497.1L500.4 502.2L501.1 502.2L501.6 502.2L502.1 502.2L502.2 496.6L503.1 496.6L502.8 490.3L503.7 490.3L503.4 472.0L504.2 472.0L503.9 483.8L504.7 483.8L504.7 479.5L505.2 479.5L505.5 475.9L506.4 475.9L506.3 476.4L506.8 476.4L507.5 466.1L508.0 466.1L508.7 465.7L509.2 465.7L509.0 474.8L509.8 474.8L509.4 476.2L509.9 476.2L509.7 465.7L510.3 465.7L510.0 484.2L510.9 484.2L510.4 495.0L511.1 495.0L510.7 503.5L511.5 503.5L511.1 479.8L512.0 479.8L511.9 506.5L512.3 506.5L512.6 501.1L513.3 501.1L513.4 504.6L514.2 504.6L513.8 500.6L514.6 500.6L514.1 488.0L514.8 488.0L514.4 506.9L515.1 506.9L514.8 489.3L515.3 489.3L515.1 484.5L516.0 484.5L515.5 482.9L516.2 482.9L515.8 492.7L516.7 492.7L516.6 489.7L517.4 489.7L517.4 478.6L517.9 478.6L518.2 470.0L518.8 470.0L519.4 479.5L520.3 479.5L520.5 461.0L521.3 461.0L521.7 465.0"/><path d="M438.8 540.9L438.6 536.9L439.4 536.9L438.4 536.9L439.2 536.9L438.2 545.2L438.9 545.2L438.1 543.3L438.7 543.3L437.9 556.0L438.4 556.0L437.7 554.7L438.2 554.7L437.6 565.7L438.4 565.7L437.4 567.4L437.9 567.4L437.2 561.5L438.0 561.5L437.0 574.1L437.5 574.1L436.8 561.5L437.3 561.5L436.6 580.9L437.3 580.9L436.4 592.7L437.1 592.7L436.2 600.7L436.7 600.7L436.0 603.1L436.7 603.1L435.8 601.3L436.3 601.3L435.6 596.0L436.5 596.0L435.4 588.7L436.1 588.7L435.2 610.9L435.9 610.9L434.8 597.6L435.4 597.6L434.4 617.9L435.3 617.9L434.0 604.9L434.5 604.9L433.5 618.1L434.4 618.1L433.1 619.7L433.5 619.7L432.6 624.5L433.2 624.5L432.1 629.3L432.6 629.3L431.6 631.6L432.2 631.6L431.0 620.1L431.6 620.1L430.5 628.3L431.1 628.3L429.9 633.2L430.5 633.2L429.3 641.4L430.2 641.4L428.7 630.1L429.2 630.1L428.1 638.5L428.9 638.5L427.5 652.0L428.2 652.0L426.9 641.4L427.5 641.4L426.3 649.4L427.1 649.4L425.7 661.8L426.3 661.8L425.1 656.7L425.7 656.7L424.5 657.8L425.0 657.8L423.7 677.1L424.2 677.1L422.9 675.9L423.8 675.9L422.2 679.3L422.9 679.3L421.0 672.6L421.7 672.6L419.8 685.0"/><path d="M370.0 612.0L370.9 607.8L371.8 607.8L371.9 612.0L372.8 612.0L372.8 604.1L373.7 604.1L373.8 593.8L374.5 593.8L374.7 593.8L375.5 593.8L375.9 598.3L376.4 598.3L377.1 594.1L377.9 594.1L378.3 593.8L379.1 593.8L379.5 602.1L380.3 602.1L380.7 606.7L381.4 606.7L381.9 605.6L382.6 605.6L383.0 609.0L383.9 609.0L384.2 616.0L385.1 616.0L385.4 612.1L386.2 612.1L386.6 603.2L387.4 603.2L387.8 603.2L388.5 603.2L389.0 607.9L389.7 607.9L389.8 604.4L390.4 604.4L390.5 591.4L391.2 591.4L391.3 588.5L392.2 588.5L392.1 595.9L392.7 595.9L392.9 589.9L393.7 589.9L393.7 601.9L394.5 601.9L394.0 604.7L394.7 604.7L394.2 595.3L395.1 595.3L394.5 603.3L395.2 603.3L394.8 599.2L395.5 599.2L395.0 604.8L395.7 604.8L395.3 608.9L395.9 608.9L395.6 596.7L396.2 596.7L395.8 615.5L396.5 615.5L396.1 602.5L396.7 602.5L396.7 621.3L397.4 621.3L397.3 610.3L397.9 610.3L397.9 635.0L398.7 635.0L398.4 631.0"/><path d="M370.0 626.2L371.2 628.1L371.8 628.1L372.4 622.2L373.0 622.2L373.6 627.8L374.3 627.8L374.7 631.0L375.5 631.0L375.9 627.0L376.5 627.0L377.1 631.9L377.8 631.9L378.3 633.6L379.1 633.6L379.5 627.4L380.2 627.4L380.7 644.4L381.6 644.4L381.9 639.0L382.5 639.0L383.0 644.4L383.9 644.4L384.2 640.6L384.7 640.6L384.8 638.3L385.3 638.3L385.4 631.7L386.0 631.7L386.0 617.8L386.7 617.8L386.6 628.0L387.1 628.0L387.0 635.5L387.6 635.5L387.4 619.4L388.2 619.4L387.8 631.7L388.3 631.7L388.2 624.2L389.0 624.2L388.6 611.1L389.1 611.1L389.0 606.2L389.5 606.2L389.8 618.6L390.3 618.6L390.5 601.4L391.0 601.4L391.3 585.8L392.1 585.8L392.1 588.7L392.7 588.7L392.9 584.3L393.8 584.3L393.7 597.1L394.6 597.1L394.0 592.1L394.9 592.1L394.3 590.4L395.2 590.4L394.6 614.5L395.3 614.5L394.9 614.0L395.6 614.0L395.2 605.8L396.0 605.8L395.6 593.4L396.3 593.4L395.9 623.4L396.8 623.4L396.2 626.2L396.8 626.2L396.6 630.6L397.4 630.6L396.9 623.5L397.5 623.5L397.3 634.7L398.2 634.7L397.5 623.5L398.0 623.5L397.8 631.3L398.7 631.3L398.1 635.0L398.9 635.0L398.3 627.0L398.9 627.0L398.6 634.7L399.5 634.7L398.8 660.1L399.6 660.1L399.1 634.6L399.6 634.6L399.4 652.9L400.0 652.9L399.6 655.0L400.3 655.0L400.8 668.1L401.4 668.1L402.0 668.1L402.8 668.1L403.2 663.3L403.7 663.3L404.0 662.5L404.6 662.5L404.8 668.1L405.5 668.1L405.6 645.0L406.4 645.0L406.4 649.7L406.9 649.7L407.1 663.6L407.7 663.6L407.9 647.1L408.7 647.1L408.8 651.0L409.7 651.0L409.7 625.9L410.4 625.9L410.6 629.0L411.2 629.0L411.5 631.8L412.2 631.8L411.9 629.3L412.6 629.3L412.3 609.1L413.2 609.1L412.7 636.7L413.3 636.7L413.1 618.7L414.0 618.7L413.5 613.8L414.2 613.8L413.9 619.3L414.5 619.3L414.3 607.6L415.0 607.6L414.6 593.1L415.3 593.1L415.0 604.0L415.8 604.0L415.4 593.5L416.3 593.5L415.8 581.4L416.5 581.4L416.2 583.4L416.8 583.4L416.7 577.0L417.5 577.0L417.2 585.4L418.0 585.4L417.7 584.4L418.2 584.4L418.1 572.4L418.7 572.4L418.6 572.4L419.1 572.4L419.2 578.9L420.0 578.9L419.8 582.6L420.6 582.6L420.4 596.8L421.0 596.8L421.0 598.8L421.6 598.8L421.4 582.4L422.0 582.4L421.8 594.4L422.6 594.4L422.2 603.1L422.7 603.1L422.6 594.2L423.1 594.2L422.9 587.8L423.4 587.8L423.3 590.9L424.1 590.9L423.7 602.4L424.4 602.4L424.0 621.7L424.9 621.7L424.4 617.9L425.1 617.9L424.7 618.9L425.6 618.9L425.0 608.3L425.9 608.3L425.4 628.0L426.2 628.0L425.7 625.3L426.4 625.3L426.3 634.8L427.0 634.8L426.9 627.8L427.4 627.8L427.5 639.9L428.4 639.9L428.1 642.8L429.0 642.8L429.3 639.8L430.2 639.8L430.5 625.9L431.4 625.9L431.2 631.4L432.1 631.4L432.0 635.8L432.7 635.8L432.8 626.3L433.3 626.3L433.6 639.1L434.5 639.1L434.4 619.1L434.9 619.1L435.2 623.1L435.8 623.1L436.4 618.8L437.2 618.8L437.6 612.7L438.4 612.7L438.4 623.1L439.2 623.1L439.1 629.1L439.9 629.1L439.9 623.4L440.7 623.4L441.1 631.9L442.0 631.9L442.3 636.6L443.1 636.6L443.1 637.9L443.8 637.9L443.9 642.0L444.4 642.0L444.7 651.9L445.2 651.9L445.5 646.7L446.2 646.7L446.3 660.9L446.9 660.9L447.1 653.0L447.7 653.0L447.6 642.6L448.4 642.6L448.2 661.3L448.9 661.3L448.8 653.6L449.6 653.6L449.4 672.8L450.3 672.8L450.6 677.6L451.2 677.6L451.8 662.5L452.5 662.5L453.0 672.9L453.5 672.9L454.2 670.9L455.0 670.9L455.3 672.8L456.0 672.8L456.5 677.6L457.3 677.6L457.7 662.1L458.3 662.1L458.9 667.1L459.5 667.1L459.5 677.2L460.4 677.2L460.1 660.3L460.9 660.3L460.7 666.9L461.4 666.9L461.3 654.5L461.9 654.5L462.5 641.2L463.2 641.2L463.6 655.8L464.6 655.8L464.8 648.5L465.7 648.5L466.0 633.2L466.6 633.2L466.6 634.5L467.2 634.5L467.2 637.0L468.0 637.0L467.8 625.9L468.7 625.9L468.4 631.4L469.1 631.4L469.2 640.8L470.0 640.8L470.0 623.2L470.7 623.2L470.8 605.6L471.5 605.6L471.5 611.2L472.1 611.2L472.3 613.6L473.1 613.6L473.1 600.7L473.7 600.7L473.9 616.2L474.7 616.2L474.7 604.9L475.2 604.9L475.5 611.0L476.3 611.0L476.7 598.5L477.3 598.5L477.9 607.5L478.5 607.5L479.1 598.5L479.6 598.5L480.2 601.4L481.0 601.4L481.4 616.0L482.3 616.0L482.6 606.3L483.2 606.3L483.8 616.0L484.4 616.0L485.0 603.2L485.6 603.2L485.6 625.4L486.2 625.4L486.2 628.0L486.9 628.0L486.8 630.0L487.3 630.0L487.4 621.2L488.3 621.2L487.7 631.0L488.7 631.0L488.1 632.5L489.0 632.5L488.5 642.6L489.4 642.6L488.9 639.6L489.8 639.6L489.3 630.9L490.2 630.9L489.7 646.5L490.4 646.5L490.3 649.2L491.2 649.2L490.9 636.6L491.8 636.6L491.5 644.0L492.0 644.0L492.1 630.0L492.6 630.0L492.9 622.2L493.6 622.2L493.7 625.2L494.4 625.2L494.5 622.6L495.1 622.6L495.3 632.9L495.9 632.9L496.0 628.0L496.9 628.0L496.8 646.7L497.5 646.7L497.6 633.1L498.5 633.1L498.4 635.7L498.9 635.7L499.2 633.3L499.9 633.3L500.4 632.2L501.1 632.2L501.6 635.8L502.2 635.8L502.2 649.2L502.9 649.2L502.8 627.7L503.3 627.7L503.4 642.7L504.2 642.7L503.9 621.5L504.4 621.5L504.3 640.4L505.2 640.4L504.7 613.1L505.2 613.1L505.1 630.8L505.7 630.8L505.5 627.2L506.4 627.2L505.9 613.5L506.6 613.5L506.3 627.6L507.2 627.6L507.5 608.3L508.4 608.3L508.7 598.5L509.6 598.5L509.5 611.6L510.2 611.6L510.3 591.7L511.0 591.7L511.1 597.9L511.8 597.9L511.7 595.7L512.5 595.7L512.2 577.7L512.7 577.7L512.8 587.1L513.4 587.1L513.4 585.4L514.2 585.4L514.2 585.6L515.0 585.6L515.0 577.3L515.9 577.3L515.8 574.4L516.3 574.4L516.4 575.7L517.3 575.7L517.0 581.9L517.5 581.9L517.6 585.9L518.5 585.9L518.2 599.0L518.8 599.0L519.0 598.8L519.7 598.8L519.8 596.5L520.3 596.5L520.5 606.5L521.3 606.5L521.7 585.6L522.3 585.6L522.9 584.3L523.8 584.3L523.7 589.0L524.5 589.0L524.5 589.0L525.2 589.0L525.3 614.3L525.8 614.3L525.8 612.5L526.4 612.5L526.2 608.1L526.9 608.1L526.7 603.1L527.3 603.1L527.2 628.8L528.0 628.8L527.7 627.1L528.2 627.1L528.8 615.0L529.5 615.0L530.0 626.1L530.6 626.1L531.2 627.1L532.1 627.1L532.4 629.8L532.9 629.8L533.0 622.2L533.7 622.2L533.6 631.3L534.1 631.3L534.2 643.4L535.1 643.4L534.8 644.3L535.3 644.3L536.0 642.6L536.6 642.6L537.1 634.3L537.9 634.3L537.9 631.6L538.8 631.6L538.7 638.2L539.6 638.2L539.5 632.9L540.4 632.9L540.3 636.1L541.0 636.1L541.1 647.3L541.8 647.3L541.9 639.6L542.5 639.6L542.5 627.8L543.0 627.8L543.1 622.2L543.8 622.2L543.7 633.4L544.3 633.4L544.3 610.0L545.2 610.0L544.7 622.6L545.2 622.6L545.1 615.4L545.8 615.4L545.5 621.2L546.2 621.2L545.9 598.5L546.7 598.5L546.1 598.5L546.7 598.5L546.3 610.4L547.0 610.4L546.5 610.1L547.2 610.1L546.8 613.3L547.6 613.3L547.0 612.9L547.6 612.9L547.2 611.0L547.9 611.0L547.4 625.7L547.9 625.7L547.6 639.0L548.3 639.0L547.8 639.3L548.5 639.3L548.4 632.7L549.3 632.7L549.0 638.3L549.5 638.3L549.6 641.1L550.2 641.1L550.2 645.1L550.7 645.1L551.4 653.9L552.0 653.9L552.6 648.2L553.2 648.2L553.1 647.1L554.0 647.1L553.7 643.2L554.6 643.2L554.3 646.1L554.8 646.1L554.9 634.1L555.8 634.1L556.1 634.1L556.7 634.1L557.3 634.1L558.2 634.1L557.9 634.1L558.8 634.1L558.5 634.1L559.4 634.1L559.1 652.4L559.6 652.4L559.7 663.4L560.2 663.4L560.8 663.4L561.5 663.4L562.0 659.6L562.7 659.6L563.2 663.4L564.1 663.4L564.4 646.2L565.0 646.2L565.6 658.5L566.5 658.5L566.8 658.4L567.2 658.4L567.4 656.2L568.0 656.2L568.0 643.9L568.5 643.9L568.6 637.3L569.1 637.3L569.1 655.1L570.1 655.1L569.5 642.6L570.3 642.6L569.8 638.0L570.3 638.0L570.2 624.7L570.9 624.7L570.5 644.6L571.0 644.6L570.8 615.1L571.8 615.1L571.2 618.1L571.7 618.1L571.5 620.4L572.1 620.4L572.5 620.5L573.4 620.5L573.4 618.9L574.3 618.9L573.8 634.8L574.4 634.8L574.2 615.1L575.0 615.1L574.7 627.1L575.2 627.1L575.1 619.4L575.5 619.4L575.7 634.6L576.5 634.6L576.3 636.6L577.0 636.6L576.9 641.7L577.5 641.7L577.4 629.1L578.0 629.1L578.0 646.8L578.8 646.8L578.6 637.4L579.3 637.4L579.2 647.3L579.8 647.3L579.8 657.4L580.7 657.4L580.4 652.6L580.9 652.6L581.0 652.4L581.6 652.4L581.6 648.9L582.2 648.9L582.2 646.3L582.9 646.3L583.0 636.7L583.6 636.7L583.8 652.7L584.4 652.7L584.6 635.7L585.4 635.7L585.7 646.0L586.5 646.0L586.9 629.3L587.5 629.3L588.1 642.1L588.8 642.1L589.3 638.2L589.9 638.2L590.5 642.1L591.4 642.1L591.7 642.1L592.2 642.1L592.9 641.1L593.4 641.1L594.0 640.0L594.6 640.0L595.2 634.9L596.0 634.9L596.4 624.6L596.9 624.6L597.6 624.6L598.5 624.6L598.8 622.2L599.6 622.2L600.0 639.7L600.5 639.7L601.2 626.9L601.8 626.9L602.3 617.5L603.0 617.5L603.5 620.9L604.1 620.9L604.7 634.8L605.2 634.8L605.9 635.0L606.4 635.0L606.3 626.7L606.9 626.7L606.7 625.7L607.4 625.7L607.1 628.5L607.6 628.5L607.7 630.6L608.2 630.6L608.3 624.2L609.1 624.2L608.9 604.1L609.7 604.1L609.4 609.0L610.0 609.0L610.0 615.7L610.6 615.7L610.6 593.2L611.4 593.2L611.2 583.2L611.9 583.2L611.8 594.3L612.6 594.3L612.0 577.8L612.5 577.8L612.2 572.0L613.1 572.0L612.4 581.7L613.1 581.7L612.6 590.4L613.3 590.4L612.8 576.0L613.4 576.0L613.0 573.7L613.7 573.7L613.8 586.1L614.7 586.1L614.6 582.2L615.2 582.2L615.4 588.9L616.2 588.9L616.6 585.8L617.3 585.8L617.7 587.9L618.5 587.9L618.9 576.5L619.7 576.5L620.1 581.5L620.9 581.5L620.7 588.7L621.6 588.7L621.3 584.8L621.9 584.8L621.9 577.3L622.7 577.3L622.5 569.3L623.2 569.3L623.7 570.9L624.2 570.9L624.9 568.4L625.6 568.4L626.0 577.9L626.6 577.9L627.2 556.7L628.0 556.7L628.4 577.3L629.2 577.3L629.6 578.1L630.4 578.1L630.8 560.3L631.6 560.3L632.0 559.8"/><path d="M393.7 649.9L394.3 665.5L394.8 665.5L394.9 656.8L395.8 656.8L395.5 646.6L396.2 646.6L396.1 655.2L396.8 655.2L396.9 668.8L397.4 668.8L397.7 659.7L398.4 659.7L398.4 675.0L399.1 675.0L399.6 664.2L400.3 664.2L400.8 689.0L401.5 689.0L402.0 669.6L402.9 669.6L402.6 669.6L403.5 669.6L403.2 685.0"/><path d="M411.5 685.0L412.7 674.7L413.2 674.7L413.9 689.0L414.3 689.0L415.0 685.5L415.7 685.5L416.2 664.9L417.1 664.9L417.4 675.3L417.9 675.3L418.6 671.5L419.2 671.5L419.8 669.5L420.4 669.5L421.0 670.2L421.7 670.2L422.2 656.3L422.8 656.3L423.3 672.9L424.2 672.9L424.1 660.3L425.0 660.3L424.9 658.7L425.6 658.7L425.7 653.1L426.4 653.1L426.5 642.8L427.2 642.8L427.3 636.4L427.9 636.4L428.1 636.4L428.5 636.4L429.3 657.3L429.9 657.3L430.5 640.4"/><path d="M439.9 654.7L440.7 667.2L441.6 667.2L441.5 659.6L442.1 659.6L442.3 662.6L442.9 662.6L443.1 668.6L443.7 668.6L443.9 678.3L444.7 678.3L444.7 688.1L445.3 688.1L445.9 676.9L446.7 676.9L447.1 677.1L447.9 677.1L448.2 669.6L448.9 669.6L449.4 685.0"/><path d="M481.4 685.0L482.6 689.0L483.1 689.0L483.8 679.6L484.5 679.6L485.0 674.4L485.5 674.4L486.2 667.4L487.0 667.4L487.4 672.1L488.0 672.1L488.5 676.9L489.2 676.9L489.7 670.9L490.2 670.9L490.9 664.9L491.6 664.9L492.1 682.4L492.9 682.4L493.3 677.6L493.9 677.6L494.5 677.2L495.1 677.2L495.7 669.6L496.6 669.6L496.8 669.6L497.4 669.6L498.0 674.9L498.7 674.9L499.2 674.5L499.7 674.5L500.4 669.6L501.1 669.6L501.6 669.6L502.2 669.6L502.8 669.6L503.3 669.6L503.9 682.4L504.7 682.4L505.1 665.6L505.9 665.6L506.3 664.9L506.8 664.9L507.5 664.9L508.0 664.9L508.7 664.9L509.3 664.9L509.9 664.9L510.5 664.9L511.1 677.6L511.8 677.6L512.2 675.1L513.1 675.1L513.4 672.4L513.9 672.4L514.6 671.1L515.4 671.1L515.8 660.1L516.3 660.1L517.0 668.2L517.7 668.2L518.2 665.7L518.7 665.7L519.4 672.9L520.1 672.9L520.2 672.9L521.0 672.9L520.9 645.9L521.4 645.9L521.7 645.9L522.3 645.9L522.9 664.4L523.5 664.4L524.1 651.2L524.9 651.2L524.9 645.9L525.4 645.9L525.7 645.9L526.5 645.9L526.5 670.3L527.1 670.3L527.3 677.6L527.7 677.6L528.1 654.6L529.0 654.6L528.8 668.1L529.6 668.1L530.0 658.9L530.5 658.9L531.2 683.7L532.1 683.7L532.4 664.9L533.1 664.9L533.6 677.9L534.3 677.9L534.8 670.8L535.3 670.8L536.0 685.0"/><path d="M540.7 685.0L541.6 669.6L542.2 669.6L542.5 686.7L543.3 686.7L543.4 668.6L544.2 668.6L544.3 664.9L544.8 664.9L545.4 678.1L546.3 678.1L546.6 668.9"/><path d="M557.3 685.0L558.5 675.7L559.0 675.7L559.7 689.0L560.4 689.0L560.8 676.9L561.6 676.9L562.0 674.9L562.6 674.9L563.2 685.4L563.9 685.4L564.4 671.3L565.1 671.3L565.6 669.6L566.2 669.6L566.8 685.0"/><path d="M585.7 668.9L586.9 670.4L587.7 670.4L588.1 664.9L589.0 664.9L589.3 675.0L590.0 675.0L590.5 678.3L591.2 678.3L591.7 670.2L592.4 670.2L592.9 678.1L593.4 678.1L594.0 679.6L594.6 679.6L595.2 684.7L596.0 684.7L596.4 674.4L597.1 674.4L597.6 687.1L598.2 687.1L598.8 682.8L599.4 682.8L600.0 689.0L600.5 689.0L601.2 689.0L601.7 689.0L602.3 681.1L603.0 681.1L603.5 685.0"/><path d="M616.6 685.0L617.7 681.7L618.3 681.7L618.9 676.3L619.4 676.3L620.1 675.5L620.9 675.5L621.3 669.6L621.8 669.6L622.5 684.7L623.3 684.7L623.7 684.7L624.5 684.7L624.9 676.4L625.8 676.4L626.0 664.7L626.8 664.7L627.2 672.6L628.0 672.6L628.4 682.4L629.2 682.4L629.6 656.4L630.2 656.4L630.8 662.9L631.5 662.9L631.6 672.9L632.4 672.9L632.4 665.2L633.0 665.2L633.2 660.4L633.9 660.4L634.3 647.1L635.0 647.1L635.5 650.0L636.3 650.0L636.7 658.7L637.3 658.7L637.9 649.3L638.6 649.3L638.7 652.3L639.5 652.3L639.5 658.7L640.0 658.7L640.3 653.7L641.1 653.7L641.5 633.7L642.3 633.7L642.6 630.7L643.3 630.7L643.8 642.0L644.7 642.0L645.0 622.2L645.8 622.2L646.2 639.7L646.8 639.7L647.5 631.2L648.1 631.2L648.7 638.9L649.3 638.9L650.0 626.2"/><path d="M370.0 745.9L370.4 748.5L371.2 748.5L370.8 753.8L371.5 753.8L371.2 761.6L371.7 761.6L371.6 763.4L372.5 763.4L372.0 774.8L372.7 774.8L372.4 765.3L372.9 765.3L372.8 762.0L373.3 762.0L373.2 770.9L373.8 770.9L373.6 775.5L374.1 775.5L374.0 776.0L374.7 776.0L374.3 775.3L375.1 775.3L374.7 785.2L375.6 785.2L375.3 797.8L376.1 797.8L375.9 783.3L376.5 783.3L376.5 795.9L377.0 795.9L377.1 797.5L377.8 797.5L377.7 803.1L378.6 803.1L378.3 805.5L379.0 805.5L378.9 813.8L379.8 813.8L379.5 807.1L380.3 807.1L380.7 803.4L381.3 803.4L381.9 813.3L382.5 813.3L382.4 804.0L383.1 804.0L383.0 800.2L383.5 800.2L383.6 797.7L384.2 797.7L384.2 787.7L384.7 787.7L384.5 791.8L385.3 791.8L384.8 772.4L385.3 772.4L385.0 794.5L385.9 794.5L385.3 789.1L385.8 789.1L385.5 772.8L386.2 772.8L385.8 760.8L386.6 760.8L386.1 764.8L386.8 764.8L386.3 760.8L387.0 760.8L386.6 765.4L387.5 765.4L387.1 768.5L387.8 768.5L387.5 766.1L388.3 766.1L388.0 765.3L388.7 765.3L388.5 792.7L389.2 792.7L389.0 794.8L389.6 794.8L390.2 772.5L390.8 772.5L391.3 761.4L391.8 761.4L391.7 771.6L392.3 771.6L392.1 775.6L392.7 775.6L392.5 779.7L393.3 779.7L392.9 767.9L393.4 767.9L393.3 764.8L393.9 764.8L393.7 755.1L394.4 755.1L394.9 749.0L395.6 749.0L396.1 751.3L396.9 751.3L396.2 756.3L396.8 756.3L396.3 760.9L397.2 760.9L396.5 770.6L397.0 770.6L396.6 768.1L397.4 768.1L396.7 763.0L397.4 763.0L396.9 768.2L397.4 768.2L397.0 781.9L397.6 781.9L397.1 790.5L397.6 790.5L397.3 773.8L397.7 773.8L397.7 799.9L398.4 799.9L398.1 791.2L398.6 791.2L398.4 787.6L399.2 787.6L398.8 802.4L399.5 802.4L399.2 800.1L399.8 800.1L399.6 790.3L400.3 790.3L400.4 792.6L401.1 792.6L401.2 785.3L401.7 785.3L402.0 793.1L402.9 793.1L402.8 778.3L403.4 778.3L403.6 786.3L404.2 786.3L404.4 798.6L405.0 798.6L405.2 781.5L405.8 781.5L406.0 782.6L406.8 782.6L406.7 772.5L407.5 772.5L407.9 772.4L408.8 772.4L409.1 768.7L410.0 768.7L409.5 766.2L410.2 766.2L409.9 780.6L410.8 780.6L410.3 765.6L411.1 765.6L410.7 774.5L411.3 774.5L411.1 797.7L411.9 797.7L411.5 779.6L412.3 779.6L412.1 802.5L412.9 802.5L412.7 787.5L413.2 787.5L413.3 790.2L414.1 790.2L413.9 801.2L414.4 801.2L414.6 805.4L415.5 805.4L415.4 800.8L416.3 800.8L416.2 800.6L417.1 800.6L416.8 806.9L417.6 806.9L417.4 800.0L418.1 800.0L418.0 809.0L418.5 809.0L418.6 783.2L419.4 783.2L419.8 783.0L420.5 783.0L421.0 796.5L421.7 796.5L422.2 777.9L422.8 777.9L423.3 782.7L424.2 782.7L424.1 790.4L424.8 790.4L424.9 776.0L425.5 776.0L425.7 780.7L426.6 780.7L426.5 758.7L427.2 758.7L427.3 753.0L428.1 753.0L428.1 765.6L428.9 765.6L428.9 774.9L429.6 774.9L429.7 753.4L430.3 753.4L430.5 751.3L431.0 751.3L431.6 752.3L432.6 752.3L432.8 759.1L433.5 759.1L434.0 754.4L434.6 754.4L435.2 763.4L435.9 763.4L436.4 756.1L437.0 756.1L437.6 754.8L438.5 754.8L438.4 773.6L439.0 773.6L439.1 773.6L439.6 773.6L439.9 761.5L440.6 761.5L441.1 751.3L441.7 751.3L442.3 744.1L443.1 744.1L443.5 741.8L444.2 741.8L444.7 764.1L445.4 764.1L444.9 761.7L445.4 761.7L445.2 750.7L446.0 750.7L445.4 741.6L446.0 741.6L445.6 756.1L446.3 756.1L445.9 741.3L446.7 741.3L446.1 737.4L447.0 737.4L446.3 720.3L446.9 720.3L446.7 719.0L447.4 719.0L447.1 736.1L447.7 736.1L447.5 714.2L448.2 714.2L447.9 719.5L448.3 719.5L448.2 718.5L449.0 718.5L449.2 721.1L449.7 721.1L450.1 718.6L450.9 718.6L450.3 736.0L450.9 736.0L450.5 717.2L451.2 717.2L450.8 733.4L451.5 733.4L451.0 737.3L451.8 737.3L451.2 747.0L452.0 747.0L451.4 742.4L452.0 742.4L451.6 736.3L452.4 736.3L451.8 751.6L452.5 751.6L452.6 743.8L453.5 743.8L453.4 764.5L454.0 764.5L454.2 753.6L455.0 753.6L454.8 769.8L455.5 769.8L455.3 765.3L455.8 765.3L455.9 767.5L456.7 767.5L456.5 775.9L457.2 775.9L457.7 775.9L458.4 775.9L458.9 771.2L459.5 771.2L460.1 766.4L460.8 766.4L461.3 755.8L462.2 755.8L461.5 772.1L462.4 772.1L461.7 746.9L462.5 746.9L462.0 768.9L462.5 768.9L462.2 744.2L463.0 744.2L462.5 744.2L463.1 744.2L462.8 765.9L463.7 765.9L463.1 765.3L463.8 765.3L463.3 748.6L464.1 748.6L463.6 749.8L464.5 749.8L463.9 773.6L464.4 773.6L464.2 757.8L464.7 757.8L464.5 756.2L465.4 756.2L464.8 776.1L465.4 776.1L465.4 765.4L466.3 765.4L466.0 775.4L466.7 775.4L466.6 783.9L467.1 783.9L467.2 792.5L468.0 792.5L468.4 792.5L469.3 792.5L469.6 776.7L470.3 776.7L469.8 770.2L470.6 770.2L470.1 768.2L470.6 768.2L470.4 759.9L471.0 759.9L470.6 767.5L471.3 767.5L470.9 765.0L471.6 765.0L471.2 759.1L471.9 759.1L471.4 758.9L471.9 758.9L471.7 766.4L472.4 766.4L471.9 749.0L472.8 749.0L472.2 765.0L472.8 765.0L472.4 756.2L473.1 756.2L472.6 760.3L473.4 760.3L472.8 757.9L473.4 757.9L473.0 764.8L473.8 764.8L473.2 759.0L473.9 759.0L473.4 773.5L474.1 773.5L473.6 770.7L474.1 770.7L473.8 778.5L474.5 778.5L474.1 781.5L474.7 781.5L474.3 786.5L475.1 786.5L474.6 796.0L475.3 796.0L474.8 783.7L475.7 783.7L475.0 796.4L475.5 796.4L475.3 806.3L476.2 806.3L475.5 804.1L476.3 804.1L476.7 804.9L477.6 804.9L477.9 806.8L478.7 806.8L479.1 800.0L480.0 800.0L480.2 803.0L481.0 803.0L481.0 809.5L481.6 809.5L481.8 810.2L482.5 810.2L482.6 805.0L483.3 805.0L483.8 790.2L484.5 790.2L485.0 801.2L485.8 801.2L486.2 775.1L486.9 775.1L487.4 782.1L487.8 782.1L488.5 779.6L489.1 779.6L489.7 766.9L490.4 766.9L490.9 785.4L491.7 785.4L492.1 778.4L492.8 778.4L492.7 777.2L493.3 777.2L493.3 772.6L493.8 772.6L493.9 781.2L494.8 781.2L494.5 779.1L495.1 779.1L495.7 756.1L496.2 756.1L496.8 760.7L497.3 760.7L497.6 764.2L498.4 764.2L498.4 756.1L499.0 756.1L499.2 778.3L499.8 778.3L500.0 776.7L500.9 776.7L500.8 761.7L501.4 761.7L501.6 770.5L502.4 770.5L502.2 768.5L502.6 768.5L502.8 765.7L503.5 765.7L503.4 769.1L504.2 769.1L503.9 778.3L504.6 778.3L505.1 761.0L505.6 761.0L506.3 758.3L506.9 758.3L507.5 778.3L508.3 778.3L508.7 774.2L509.3 774.2L509.9 773.0L510.4 773.0L511.1 767.9L511.8 767.9L511.5 755.6L512.4 755.6L511.9 758.8L512.6 758.8L512.2 761.1L512.7 761.1L512.6 747.3L513.1 747.3L513.0 758.4L513.6 758.4L513.4 729.3L514.0 729.3L514.2 736.8L515.1 736.8L515.0 735.5L515.5 735.5L515.8 744.0L516.6 744.0L517.0 722.9L517.8 722.9L518.2 725.3L519.1 725.3L519.4 735.6L520.1 735.6L520.5 735.6L521.2 735.6L521.7 733.3L522.5 733.3L522.9 731.6L523.6 731.6L523.3 706.5L524.1 706.5L523.7 727.7L524.6 727.7L524.1 724.4L524.7 724.4L524.5 716.3L525.0 716.3L524.9 708.0L525.7 708.0L525.3 710.3L526.1 710.3L526.5 694.4L527.3 694.4L527.7 694.4L528.5 694.4L528.8 699.8L529.4 699.8L530.0 694.4L530.8 694.4L530.6 706.7L531.3 706.7L531.2 711.9L532.1 711.9L531.5 722.2L532.2 722.2L531.8 727.7L532.3 727.7L532.1 706.4L533.0 706.4L532.4 724.5L533.1 724.5L532.7 715.3L533.4 715.3L533.0 729.3L533.7 729.3L533.3 726.3L533.8 726.3L533.6 730.6L534.1 730.6L534.8 733.5L535.3 733.5L536.0 731.2L536.8 731.2L537.1 733.7L537.7 733.7L538.3 744.9L539.0 744.9L538.7 742.0L539.4 742.0L539.1 746.1L539.6 746.1L539.5 746.5L540.1 746.5L539.9 766.1L540.6 766.1L540.3 742.3L541.0 742.3L540.7 764.1L541.3 764.1L541.9 768.8L542.5 768.8L543.1 764.5L543.9 764.5L543.9 760.1L544.4 760.1L544.6 748.4L545.2 748.4L545.4 756.4L546.1 756.4L546.6 752.1L547.2 752.1L547.8 746.6L548.4 746.6L549.0 752.8L549.5 752.8L550.2 757.6L550.9 757.6L551.4 746.6L552.1 746.6L552.6 746.6L553.3 746.6L553.7 752.4L554.4 752.4L554.9 746.6L555.4 746.6L555.4 768.5L556.2 768.5L555.9 746.6L556.6 746.6L556.3 755.6L557.1 755.6L556.8 759.0L557.3 759.0L557.3 758.7L558.2 758.7L557.6 763.3L558.5 763.3L558.0 782.1L558.7 782.1L558.3 793.7L558.8 793.7L558.6 791.3L559.2 791.3L559.0 800.0L559.7 800.0L559.3 789.5L560.2 789.5L559.7 800.4L560.3 800.4L560.3 786.5L561.0 786.5L560.8 794.2L561.4 794.2L561.4 814.3L562.0 814.3L562.0 813.3L562.7 813.3L562.8 795.9L563.3 795.9L563.6 804.6L564.1 804.6L564.4 803.2L565.2 803.2L565.0 821.0L565.5 821.0L565.6 809.5L566.4 809.5L566.2 820.9L566.8 820.9L566.8 815.8L567.4 815.8L568.0 798.8L568.4 798.8L569.1 808.4L569.8 808.4L570.3 804.3L571.1 804.3L571.5 789.4L572.3 789.4L572.3 809.0L572.8 809.0L573.1 803.1L573.8 803.1L573.9 803.3L574.5 803.3L575.1 784.0L575.9 784.0L576.3 781.9L576.7 781.9L577.4 787.3L578.0 787.3L578.6 786.1L579.3 786.1L579.8 779.8L580.6 779.8L581.0 772.5L581.5 772.5L582.2 785.6L582.9 785.6L583.4 787.1L583.9 787.1L584.0 792.5L584.7 792.5L584.6 783.0L585.5 783.0L585.1 763.2L585.8 763.2L585.7 780.9L586.2 780.9L586.9 765.3L587.6 765.3L588.1 767.4L589.0 767.4L589.3 766.9L589.9 766.9L590.5 768.4L591.2 768.4L590.9 771.2L591.5 771.2L591.3 777.7L592.0 777.7L591.7 771.7L592.2 771.7L592.1 791.0L592.8 791.0L592.5 784.6L593.2 784.6L592.9 779.5L593.5 779.5L593.4 793.9L594.3 793.9L594.0 797.2L594.9 797.2L594.6 784.4L595.4 784.4L595.2 806.8L595.9 806.8L596.4 806.8L597.1 806.8L597.6 811.5L598.4 811.5L598.4 789.9L598.9 789.9L599.2 791.9L599.9 791.9L600.0 792.3L600.7 792.3L600.6 789.3L601.1 789.3L601.2 814.2L602.0 814.2L601.7 802.7L602.4 802.7L602.3 807.8L603.2 807.8L603.5 795.8L604.3 795.8L604.7 812.7L605.3 812.7L605.5 820.4L606.3 820.4L606.3 826.8L606.9 826.8L607.1 820.2L607.7 820.2L607.9 835.2L608.6 835.2L608.7 828.8L609.5 828.8L609.4 835.2L610.2 835.2L610.2 820.1L610.7 820.1L611.0 835.2L611.5 835.2L611.8 827.5L612.6 827.5L613.0 808.2L613.5 808.2L614.2 827.8L614.8 827.8L615.4 817.5L616.2 817.5L616.6 812.4L617.2 812.4L617.7 796.4L618.4 796.4L618.9 796.4L619.4 796.4L620.1 812.6L620.8 812.6L621.3 811.4L621.9 811.4L622.5 809.1L623.4 809.1L623.7 782.5L624.6 782.5L624.9 782.7L625.5 782.7L626.0 792.5L626.9 792.5L627.2 780.8L628.1 780.8L628.4 784.8L629.2 784.8L629.6 794.9L630.3 794.9L630.8 784.1L631.5 784.1L632.0 795.1L632.6 795.1L633.2 787.1L633.7 787.1L633.8 797.8L634.3 797.8L634.3 784.1L634.9 784.1L634.9 799.4L635.7 799.4L635.5 795.2L636.4 795.2L636.1 797.0L636.6 797.0L636.7 808.7L637.4 808.7L637.3 812.7L637.9 812.7L637.9 810.4L638.7 810.4L639.1 814.0L639.8 814.0L640.3 799.0L640.8 799.0L641.5 792.2L642.1 792.2L642.6 798.1L643.1 798.1L643.2 792.2L644.0 792.2L643.8 794.0L644.4 794.0L644.4 792.8L645.0 792.8L645.0 779.8L645.8 779.8L646.2 779.8L646.7 779.8L647.4 791.4L648.2 791.4L648.3 779.8L649.0 779.8L649.1 797.3L649.7 797.3L650.0 793.3"/><path d="M370.0 781.4L371.2 777.0L372.0 777.0L372.4 782.0L373.1 782.0L373.6 785.4L374.2 785.4L374.7 775.1L375.4 775.1L375.9 783.5L376.5 783.5L377.1 780.5L377.8 780.5L378.3 773.9L379.2 773.9L379.5 776.3L380.2 776.3L380.7 774.7L381.2 774.7L381.9 773.3L382.5 773.3L383.0 767.9L383.9 767.9L384.2 767.9L384.7 767.9L385.4 766.8L386.3 766.8L386.6 769.3L387.4 769.3L387.8 774.2L388.5 774.2L389.0 766.8L389.9 766.8L390.2 766.5L390.7 766.5L391.3 756.5L392.0 756.5L392.1 768.8L393.0 768.8L392.9 766.5L393.4 766.5L393.7 756.8L394.2 756.8L394.3 752.9L395.1 752.9L394.9 748.6L395.5 748.6L395.5 746.7L396.2 746.7L396.1 748.6L396.6 748.6L396.7 728.6L397.1 728.6L397.3 734.6L398.0 734.6L397.9 724.8L398.8 724.8L398.4 728.8L399.2 728.8L399.0 727.9L399.5 727.9L399.6 738.6L400.4 738.6L400.0 722.1L400.7 722.1L400.4 707.0L401.0 707.0L400.8 721.8L401.4 721.8L401.2 710.8L402.1 710.8L401.6 697.0L402.2 697.0L402.0 716.5L402.9 716.5L402.6 700.5L403.4 700.5L403.2 687.3L404.0 687.3L403.8 696.0L404.4 696.0L404.4 693.0L404.9 693.0L405.6 693.2L406.0 693.2L406.7 695.3L407.3 695.3L407.9 696.8L408.8 696.8L409.1 682.1L409.6 682.1L410.3 681.2L411.1 681.2L411.5 692.4L412.1 692.4L412.7 698.9L413.4 698.9L413.9 688.3L414.7 688.3L415.0 700.4L415.6 700.4L416.2 683.5L416.9 683.5L416.8 693.1L417.6 693.1L417.4 707.2L418.0 707.2L418.0 690.1L418.6 690.1L418.6 707.2L419.3 707.2L419.4 701.7L420.0 701.7L420.2 687.6L420.6 687.6L421.0 693.0L421.6 693.0L421.3 700.0L422.0 700.0L421.6 699.4L422.3 699.4L422.0 682.1L422.7 682.1L422.3 681.8L423.1 681.8L422.6 686.2L423.3 686.2L423.6 674.2L424.3 674.2L424.5 670.0"/><path d="M402.0 670.0L402.3 666.1L403.0 666.1L402.6 676.3L403.3 676.3L402.9 681.2L403.6 681.2L403.2 683.6L404.1 683.6L403.6 688.6L404.4 688.6L404.0 698.5L404.9 698.5L404.4 705.2L405.1 705.2L404.8 696.9L405.3 696.9L405.2 699.2L405.9 699.2L405.6 690.6L406.5 690.6L406.7 704.8L407.3 704.8L407.9 711.9L408.4 711.9L409.1 707.2L409.8 707.2L410.3 711.9L411.0 711.9L411.5 706.1L412.3 706.1L412.7 705.8L413.4 705.8L413.9 706.9L414.8 706.9L415.0 701.6L415.8 701.6L416.2 701.9L416.9 701.9L417.4 711.0L418.1 711.0L418.6 714.1L419.5 714.1L419.8 716.7L420.4 716.7L420.6 694.4L421.2 694.4L421.4 701.2L422.1 701.2L422.2 698.4"/><path d="M441.1 677.1L442.3 666.0L443.2 666.0L443.5 670.0"/><path d="M445.9 672.4L447.1 668.4L447.6 668.4L448.2 668.4L448.8 668.4L449.4 679.1L450.2 679.1L450.6 690.6L451.4 690.6L451.8 675.5L452.6 675.5L453.0 687.9L453.5 687.9L454.2 676.2L454.8 676.2L455.3 684.9L455.8 684.9L456.5 675.7L457.2 675.7L457.7 689.8L458.3 689.8L458.9 679.0L459.4 679.0L459.7 684.3L460.3 684.3L460.5 683.4L461.2 683.4L461.3 675.5L462.0 675.5L461.6 681.3L462.1 681.3L461.9 692.5L462.6 692.5L462.2 690.3L462.8 690.3L462.5 692.9L463.0 692.9L463.1 709.2L463.9 709.2L463.6 700.4L464.5 700.4L464.2 695.2L464.8 695.2L464.8 712.6L465.6 712.6L466.0 706.4L466.5 706.4L467.2 708.6L467.9 708.6L468.4 712.9L469.0 712.9L469.6 717.1L470.1 717.1L470.8 723.8L471.5 723.8L471.9 706.3L472.5 706.3L473.1 717.9L473.7 717.9L474.3 718.8L474.9 718.8L475.5 722.6L476.0 722.6L476.7 722.1L477.4 722.1L477.5 724.6L478.3 724.6L478.3 709.7L479.0 709.7L479.1 712.4L479.9 712.4L479.2 695.5L480.0 695.5L479.4 706.0L480.1 706.0L479.6 692.0L480.2 692.0L479.7 693.2L480.3 693.2L479.9 698.9L480.4 698.9L480.1 693.3L480.5 693.3L480.2 676.7L480.9 676.7L481.4 689.6L482.0 689.6L482.6 686.3L483.1 686.3L483.8 672.1L484.4 672.1L485.0 685.7L485.5 685.7L486.2 685.1L486.9 685.1L487.4 675.4L488.2 675.4L488.5 683.5L489.0 683.5L489.7 670.0"/><path d="M490.9 677.1L491.5 673.1L492.1 673.1L492.1 676.5L492.9 676.5L492.7 679.5L493.6 679.5L493.3 689.2L493.8 689.2L494.5 689.3L495.3 689.3L495.7 692.2L496.5 692.2L496.8 695.3L497.6 695.3L498.0 685.4L498.8 685.4L499.2 703.7L500.1 703.7L500.4 687.3L501.0 687.3L501.6 680.2L502.4 680.2L502.1 697.1L502.8 697.1L502.5 689.3L503.3 689.3L503.0 694.4L503.7 694.4L503.5 698.0L504.1 698.0L503.9 699.9L504.5 699.9L504.2 702.8L505.0 702.8L504.5 695.2L505.4 695.2L504.8 701.6L505.6 701.6L505.1 694.6L505.8 694.6L506.3 684.0L506.8 684.0L507.5 692.3L508.3 692.3L508.7 690.8L509.3 690.8L509.9 678.4L510.4 678.4L510.4 680.4L511.3 680.4L510.8 683.9L511.6 683.9L511.3 684.7L511.9 684.7L511.8 710.8L512.5 710.8L512.2 701.9L513.1 701.9L512.7 703.5L513.4 703.5L513.2 702.2L513.7 702.2L513.7 696.0L514.3 696.0L514.1 714.2L515.0 714.2L514.3 716.7L515.2 716.7L514.5 705.6L515.1 705.6L514.7 705.0L515.5 705.0L514.9 700.8L515.6 700.8L515.1 686.6L515.7 686.6L515.3 708.2L515.7 708.2L515.4 675.6L516.2 675.6L515.6 688.6L516.4 688.6L515.8 674.8L516.3 674.8L517.0 668.0L517.5 668.0L518.2 678.6L518.8 678.6L518.8 667.3L519.3 667.3L519.4 670.0"/><path d="M528.8 670.0L529.6 672.7L530.5 672.7L530.4 666.0L531.2 666.0L531.2 680.2L531.9 680.2L531.8 678.5L532.5 678.5L532.4 676.0L533.0 676.0L533.0 697.9L533.6 697.9L533.6 694.9L534.2 694.9L534.4 707.2L535.2 707.2L535.2 698.8L535.7 698.8L536.0 707.2L536.5 707.2L536.4 695.4L537.0 695.4L536.7 698.0L537.5 698.0L537.1 680.1L537.8 680.1L537.5 690.7L538.0 690.7L537.9 686.4L538.4 686.4L538.3 697.5L539.1 697.5L539.5 680.4L540.4 680.4L540.7 687.9L541.6 687.9L541.9 677.3L542.7 677.3L543.1 673.5L543.7 673.5L543.9 678.2L544.6 678.2L544.6 682.4L545.5 682.4L545.4 679.1L546.1 679.1L546.2 680.6L547.1 680.6L547.0 700.1L547.9 700.1L547.8 705.2L548.5 705.2L548.4 709.6L549.1 709.6L549.0 701.1L549.5 701.1L549.6 704.3L550.1 704.3L550.2 704.3L550.9 704.3L551.4 697.9L552.0 697.9L552.6 711.7L553.1 711.7L553.7 692.2L554.6 692.2L554.9 692.1L555.8 692.1L555.5 699.9L556.4 699.9L556.1 703.1L556.6 703.1L556.7 706.5L557.3 706.5L557.3 711.9L558.1 711.9L558.1 704.4L559.0 704.4L558.9 701.6L559.6 701.6L559.7 705.7L560.6 705.7L560.3 682.2L560.9 682.2L560.8 686.3L561.3 686.3L561.4 688.2L562.3 688.2L562.0 696.0L562.6 696.0L562.4 682.8L562.9 682.8L562.8 688.2L563.7 688.2L563.2 687.2L564.1 687.2L563.5 679.9L564.3 679.9L563.8 681.6L564.6 681.6L564.1 685.1L565.0 685.1L564.4 698.0L564.9 698.0L564.5 681.4L565.1 681.4L564.7 702.7L565.4 702.7L564.8 710.5L565.6 710.5L564.9 702.4L565.8 702.4L565.1 714.6L565.9 714.6L565.2 708.0L565.7 708.0L565.3 712.2L565.8 712.2L565.5 714.6L566.2 714.6L565.6 727.4L566.3 727.4L566.8 734.8L567.5 734.8L568.0 735.6L568.9 735.6L569.1 728.1L570.0 728.1L570.3 735.6L571.0 735.6L571.5 718.9L572.2 718.9L572.7 715.4L573.4 715.4L573.0 711.5L573.8 711.5L573.2 724.1L573.8 724.1L573.5 713.1L574.3 713.1L573.8 711.6L574.4 711.6L574.0 707.3L574.6 707.3L574.3 696.1L574.9 696.1L574.5 692.0L575.3 692.0L574.8 695.3L575.5 695.3L575.1 689.7L576.0 689.7L576.3 691.3L577.1 691.3L577.4 690.1L578.0 690.1L578.2 714.3L578.8 714.3L579.0 714.3L579.8 714.3L579.8 714.3L580.3 714.3L581.0 694.4L581.9 694.4L582.2 695.2L583.1 695.2L583.4 693.6L584.0 693.6L584.6 712.7L585.4 712.7L585.3 703.3L585.8 703.3L586.1 685.4L587.0 685.4L586.9 688.0L587.8 688.0L587.5 686.0L588.4 686.0L588.1 670.7L588.7 670.7L588.7 678.8L589.6 678.8L589.3 674.3L589.9 674.3L590.5 678.8L591.4 678.8L591.7 682.1L592.2 682.1L592.5 684.1L592.9 684.1L593.2 688.8L594.1 688.8L594.0 699.4L594.5 699.4L595.2 697.2L596.0 697.2L596.4 685.2L597.1 685.2L597.0 700.6L597.6 700.6L597.6 693.4L598.3 693.4L598.2 686.8L598.8 686.8L598.8 696.7L599.5 696.7L599.6 686.8L600.3 686.8L600.4 710.8L601.0 710.8L601.2 708.1L602.0 708.1L602.3 703.8L602.9 703.8L603.5 702.8L604.4 702.8L604.7 694.4L605.5 694.4L605.9 694.4L606.4 694.4L606.7 699.8L607.6 699.8L607.5 704.4L608.1 704.4L608.3 719.9L608.9 719.9L609.1 700.0L609.9 700.0L609.8 722.2L610.3 722.2L610.6 717.3L611.1 717.3L610.9 726.4L611.7 726.4L611.2 712.0L611.7 712.0L611.5 716.6L612.1 716.6L611.8 735.6L612.4 735.6L612.1 728.5L612.9 728.5L612.3 711.3L613.0 711.3L612.6 721.4L613.5 721.4L612.9 718.1L613.6 718.1L613.1 705.7L614.0 705.7L613.4 721.7L613.9 721.7L613.7 706.8L614.4 706.8L613.9 689.7L614.5 689.7L614.2 699.7L614.7 699.7L615.0 704.6L615.5 704.6L615.8 693.8L616.5 693.8L616.6 687.3L617.1 687.3L617.7 693.0L618.5 693.0L618.9 688.4L619.8 688.4L620.1 700.1L620.7 700.1L621.3 697.3L622.0 697.3L622.5 700.1L623.0 700.1L623.7 686.6L624.5 686.6L624.9 696.4L625.7 696.4L626.0 681.1L626.8 681.1L627.2 693.5L627.9 693.5L628.4 685.1L629.2 685.1L629.2 684.2L630.1 684.2L630.0 682.0L630.5 682.0L630.8 677.1L631.3 677.1L632.0 673.7L632.6 673.7L633.2 670.0"/><path d="M639.1 670.0L639.5 681.9L640.0 681.9L639.9 671.4L640.4 671.4L640.3 679.5"/><path d="M380.0 554.4L381.2 550.1L381.8 550.1L382.4 541.1L383.0 541.1L383.6 541.8L384.2 541.8L384.7 533.1L385.6 533.1L385.9 536.7L386.7 536.7L387.1 547.9L388.0 547.9L388.3 529.4L389.1 529.4L388.7 542.3L389.6 542.3L389.1 522.5L389.7 522.5L389.5 520.7L390.0 520.7L389.9 506.6L390.5 506.6L390.3 525.9L390.9 525.9L390.7 498.1L391.4 498.1L390.9 507.0L391.7 507.0L391.1 511.0L392.0 511.0L391.4 508.4L391.9 508.4L391.6 505.9L392.3 505.9L391.9 496.3L392.7 496.3L392.1 484.0L392.9 484.0L392.3 498.4L392.8 498.4L393.1 502.6L393.7 502.6L393.9 492.7L394.5 492.7L394.7 490.9L395.4 490.9L395.0 487.6L395.9 487.6L395.3 505.4L395.8 505.4L395.6 523.6L396.5 523.6L395.9 496.2L396.8 496.2L396.2 527.6L397.0 527.6L396.5 515.7L397.0 515.7L396.8 520.6L397.6 520.6L397.1 512.2L397.7 512.2L397.4 527.6L398.2 527.6L397.7 510.3L398.2 510.3L398.1 516.0L398.9 516.0L398.4 510.1L399.3 510.1L398.8 501.9L399.2 501.9L399.1 504.7L399.7 504.7L399.4 503.7L400.2 503.7L399.6 487.8L400.5 487.8L399.8 505.9L400.4 505.9L400.0 500.3L400.9 500.3L400.2 479.3L401.1 479.3L400.4 486.9L401.0 486.9L400.6 467.2L401.4 467.2L400.8 467.1L401.7 467.1L401.0 478.7L401.9 478.7L401.2 481.1L401.8 481.1L401.4 460.6L402.2 460.6L401.6 483.5L402.1 483.5L401.8 474.5L402.5 474.5L402.6 460.3L403.3 460.3L403.4 464.7L403.9 464.7L404.2 473.3L404.8 473.3L404.5 486.6L405.1 486.6L404.8 480.7L405.5 480.7L405.1 477.0L405.8 477.0L405.4 473.2L406.1 473.2L405.8 488.3L406.7 488.3L406.1 493.4L406.7 493.4L406.3 494.2L406.9 494.2L406.6 500.9L407.2 500.9L406.9 504.7L407.7 504.7L407.1 491.4L407.8 491.4L407.4 522.6L408.0 522.6L407.7 513.1L408.4 513.1L407.9 522.0L408.8 522.0L408.2 514.6L408.8 514.6L408.4 509.3L409.0 509.3L409.6 526.7L410.1 526.7L410.8 512.9L411.7 512.9L411.4 523.5L412.1 523.5L412.0 505.1L412.7 505.1L412.6 530.0L413.5 530.0L413.2 515.0L413.8 515.0L413.8 525.2L414.6 525.2L414.4 506.5L415.0 506.5L415.6 518.3L416.3 518.3L416.7 503.0L417.5 503.0L417.9 514.6L418.6 514.6L418.8 523.8L419.6 523.8L419.7 518.9L420.5 518.9L420.6 510.5L421.4 510.5L421.5 539.4L422.0 539.4L422.7 530.1L423.5 530.1L423.9 539.4L424.6 539.4L425.0 526.3L425.7 526.3L425.6 530.7L426.1 530.7L426.1 518.5L426.6 518.5L426.6 539.2L427.4 539.2L427.1 522.1L428.0 522.1L427.6 521.0L428.2 521.0L428.1 510.1L428.6 510.1L428.6 510.1L429.3 510.1L429.3 510.1L430.1 510.1L430.0 520.2L430.5 520.2L430.7 524.4L431.4 524.4L431.4 511.6L432.0 511.6L432.2 539.4L432.6 539.4L433.3 525.0L434.2 525.0L434.5 535.0L435.3 535.0L435.7 528.1L436.4 528.1L436.1 530.4L436.9 530.4L436.4 517.7L437.2 517.7L436.8 517.4L437.4 517.4L437.1 532.2L438.0 532.2L437.5 508.4L438.1 508.4L437.8 514.0L438.6 514.0L438.2 504.2L439.0 504.2L438.6 498.8L439.4 498.8L438.9 503.7L439.4 503.7L439.3 512.3L440.0 512.3L440.7 509.9L441.4 509.9L442.1 516.0L442.7 516.0L442.3 511.6L443.1 511.6L442.5 520.2L443.4 520.2L442.7 524.7L443.6 524.7L442.9 510.6L443.4 510.6L443.1 534.2L443.7 534.2L443.3 526.4L443.8 526.4L443.4 537.5L444.3 537.5L443.6 528.3L444.5 528.3L443.8 528.3L444.7 528.3L444.0 527.4L444.7 527.4L444.2 535.7L444.7 535.7L444.4 532.7L444.9 532.7L444.5 544.2L445.4 544.2L444.7 542.7L445.3 542.7L444.9 508.7L445.6 508.7L445.0 521.6L445.9 521.6L445.2 527.3L445.9 527.3L445.4 507.3L446.0 507.3L445.5 497.9L446.3 497.9L445.7 507.0L446.5 507.0L445.9 517.9L446.7 517.9L446.0 505.1L446.5 505.1L446.2 494.3L446.9 494.3L446.4 507.6L446.9 507.6L447.1 491.0L447.7 491.0L447.8 486.4L448.6 486.4L448.5 491.3L449.2 491.3L449.2 469.0L450.0 469.0L450.3 465.1L451.2 465.1L451.3 467.2L452.0 467.2L452.3 484.9L452.8 484.9L453.0 465.1L453.6 465.1L453.7 475.0L454.2 475.0L454.4 479.1L455.2 479.1L455.2 470.3L455.7 470.3L455.9 486.7L456.5 486.7L456.3 489.7L456.7 489.7L456.7 479.6L457.1 479.6L457.1 473.6L457.6 473.6L457.4 473.6L458.0 473.6L457.8 475.8L458.5 475.8L458.2 472.1L458.7 472.1L458.6 454.3L459.1 454.3L459.0 472.6L459.8 472.6L459.4 450.8L460.3 450.8L460.4 458.7L461.0 458.7L461.5 443.7L462.3 443.7L462.5 460.9L463.2 460.9L462.8 465.9L463.6 465.9L463.1 465.9L463.9 465.9L463.5 452.4L464.1 452.4L463.8 432.5L464.6 432.5L464.1 432.8L464.8 432.8L464.4 427.4L464.9 427.4L464.7 450.2L465.4 450.2L465.0 423.9L465.7 423.9L465.3 444.1L466.1 444.1L465.7 438.5L466.2 438.5L466.0 417.7L466.5 417.7L466.4 405.3L467.2 405.3L466.7 433.5L467.4 433.5L467.0 403.9L467.9 403.9L467.4 402.7L468.0 402.7L467.7 406.5L468.5 406.5L468.1 405.0L468.7 405.0L468.4 396.3L469.1 396.3L468.7 405.4L469.5 405.4L469.1 396.8L470.0 396.8L469.4 382.1L470.1 382.1L469.8 382.1L470.6 382.1L470.1 382.1L470.7 382.1L470.8 382.1L471.5 382.1L471.5 393.7L472.2 393.7L472.2 386.6L472.8 386.6L472.9 385.3L473.7 385.3L473.2 403.8L474.0 403.8L473.5 391.1L474.3 391.1L473.8 410.4L474.4 410.4L474.1 419.7L474.9 419.7L474.4 416.2L475.3 416.2L474.7 419.2L475.6 419.2L475.0 408.1L475.9 408.1L475.3 430.4L475.9 430.4L475.6 413.9L476.3 413.9L476.0 403.2L476.6 403.2L476.3 421.5L477.1 421.5L476.7 412.0L477.4 412.0L477.0 416.4L477.9 416.4L477.3 411.4L478.2 411.4L477.7 413.2L478.3 413.2L478.3 415.4L479.1 415.4L478.9 408.6L479.7 408.6L479.5 407.8L480.2 407.8L480.0 386.8L480.6 386.8L480.6 389.0L481.5 389.0L481.2 396.9L481.9 396.9L481.8 400.0L482.5 400.0L482.4 397.2L483.1 397.2L483.0 423.7L483.6 423.7L483.7 410.3L484.5 410.3L484.3 420.5L485.1 420.5L484.9 426.0L485.7 426.0L485.5 435.1L486.1 435.1L486.3 434.8L487.1 434.8L487.1 426.9L487.6 426.9L487.9 429.5L488.4 429.5L488.1 420.8L488.8 420.8L488.2 438.0L489.1 438.0L488.4 448.1L489.3 448.1L488.6 433.7L489.4 433.7L488.8 437.8L489.4 437.8L489.0 449.5L489.4 449.5L489.2 441.0L489.8 441.0L489.3 462.3L489.9 462.3L489.5 465.6L490.4 465.6L490.6 465.9L491.4 465.9L491.6 449.9L492.2 449.9L492.6 475.1L493.4 475.1L493.8 475.4L494.7 475.4L495.0 470.2L495.9 470.2L496.2 470.9L496.7 470.9L496.5 462.8L497.3 462.8L496.8 464.5L497.7 464.5L497.2 479.9L498.0 479.9L497.5 483.6L498.1 483.6L497.9 485.8L498.5 485.8L498.2 490.5L499.0 490.5L498.5 491.3L499.3 491.3L500.0 495.8L500.7 495.8L501.4 500.8L501.8 500.8L502.0 503.9L502.8 503.9L502.6 484.9L503.2 484.9L503.2 490.8L503.7 490.8L503.9 485.0L504.6 485.0L504.5 493.2L505.1 493.2L504.9 467.1L505.7 467.1L505.3 491.0L505.8 491.0L505.7 481.8L506.5 481.8L506.0 461.0L506.7 461.0L506.4 456.0L507.3 456.0L506.8 462.4L507.6 462.4L507.4 458.9L507.9 458.9L508.0 458.8L508.6 458.8L508.6 453.2L509.4 453.2L509.2 437.2L509.7 437.2L509.4 448.6L510.2 448.6L509.5 442.8L510.4 442.8L509.7 455.4L510.5 455.4L509.9 453.2L510.5 453.2L510.1 433.6L510.6 433.6L510.2 425.2L511.0 425.2L510.4 430.7L511.0 430.7L511.6 425.5L512.1 425.5L512.8 425.4L513.3 425.4L513.9 435.9L514.9 435.9L515.1 432.8L515.8 432.8L516.3 425.5L517.2 425.5L517.5 416.7L518.3 416.7L517.6 411.8L518.4 411.8L517.8 398.1L518.6 398.1L517.9 404.8L518.4 404.8L518.0 392.6L518.9 392.6L518.2 406.2L518.9 406.2L518.3 395.4L518.9 395.4L518.4 394.4L519.2 394.4L518.6 388.9L519.1 388.9L518.7 386.6L519.2 386.6L519.9 380.9L520.7 380.9L521.1 380.4L521.7 380.4L522.2 362.9L523.1 362.9L523.4 360.7L523.9 360.7L524.6 383.0L525.2 383.0L525.8 366.0L526.4 366.0L527.0 371.4L527.9 371.4L528.2 356.0L528.8 356.0L529.4 360.0"/><path d="M479.6 580.0L480.0 564.5L480.6 564.5L480.4 579.6L481.2 579.6L480.8 572.1L481.5 572.1L481.2 575.2L482.0 575.2L481.5 551.4L482.1 551.4L481.9 548.1L482.4 548.1L482.2 549.2L482.9 549.2L482.5 553.9L483.4 553.9L482.8 550.9L483.5 550.9L483.1 548.6L483.6 548.6L483.4 540.2L484.1 540.2L483.7 541.0L484.3 541.0L484.0 525.2L484.6 525.2L484.3 527.6L485.0 527.6L484.5 517.8L485.0 517.8L484.7 528.6L485.5 528.6L484.8 514.6L485.5 514.6L485.0 534.3L485.7 534.3L485.2 506.3L486.1 506.3L485.3 512.1L486.0 512.1L485.5 515.6L486.3 515.6L486.3 512.5L486.9 512.5L487.1 500.4L487.9 500.4L487.9 504.2L488.6 504.2L488.3 502.2L488.8 502.2L488.7 482.3L489.6 482.3L489.1 495.6L490.0 495.6L489.5 506.3L490.3 506.3L489.8 479.8L490.4 479.8L490.0 485.0L490.8 485.0L490.2 484.3L490.7 484.3L490.5 469.1L491.1 469.1L490.7 489.1L491.3 489.1L491.0 479.0L491.8 479.0L491.2 471.6L492.0 471.6L491.4 455.6L492.2 455.6L492.6 465.1L493.2 465.1L493.8 455.6L494.4 455.6L495.0 474.3L495.5 474.3L496.2 461.5L496.8 461.5L497.0 478.0L497.7 478.0L497.7 463.2L498.6 463.2L498.5 460.5L499.3 460.5L499.7 476.3L500.4 476.3L500.9 482.5L501.8 482.5L501.7 473.8L502.2 473.8L502.5 473.6L503.0 473.6L503.3 461.2L504.1 461.2L504.1 475.2L504.7 475.2L504.9 462.8L505.3 462.8L505.7 457.8L506.3 457.8L506.5 471.7L507.2 471.7L507.4 459.1L508.2 459.1L508.3 460.0L508.9 460.0L509.2 456.2L510.1 456.2L509.5 474.5L510.4 474.5L509.9 462.3L510.7 462.3L510.2 466.0L511.0 466.0L510.6 475.9L511.4 475.9L510.9 480.7L511.4 480.7L511.2 489.2L511.9 489.2L511.6 506.4L512.1 506.4L512.2 509.4L512.9 509.4L512.8 498.1L513.6 498.1L513.4 503.2L513.9 503.2L513.9 493.5L514.6 493.5L514.3 511.0L514.8 511.0L514.6 506.3L515.4 506.3L515.0 506.3L515.8 506.3L515.3 493.7L516.0 493.7L515.6 505.9L516.4 505.9L516.0 492.9L516.8 492.9L516.3 499.8L516.8 499.8L517.5 471.3L518.0 471.3L518.7 478.6L519.4 478.6L519.9 487.3L520.6 487.3L521.1 479.0L521.8 479.0L522.2 461.2L522.9 461.2L522.4 464.5L523.0 464.5L522.6 464.0L523.4 464.0L522.8 464.7L523.7 464.7L523.0 447.6L523.7 447.6L523.2 469.2L523.9 469.2L523.4 440.2L524.1 440.2L523.8 446.9L524.5 446.9L524.3 441.2L524.8 441.2L524.7 423.2L525.2 423.2L525.1 435.6L525.9 435.6L526.1 435.9L526.8 435.9L527.1 421.9L528.0 421.9L528.2 418.7L528.7 418.7L528.4 431.0L529.3 431.0L528.6 425.4L529.5 425.4L528.8 433.7L529.3 433.7L529.0 421.1L529.9 421.1L529.2 416.2L529.9 416.2L529.4 414.4L529.9 414.4L530.5 409.8L531.4 409.8L531.7 414.9L532.5 414.9L532.9 420.3L533.6 420.3L534.1 389.9L534.8 389.9L534.9 383.8L535.6 383.8L535.7 383.3L536.4 383.3L536.5 401.0L537.3 401.0L537.3 375.0L538.1 375.0L538.1 377.0L538.5 377.0L538.8 385.3L539.7 385.3L540.0 382.3L540.7 382.3L541.2 385.7L542.1 385.7L542.4 375.8L543.0 375.8L543.6 374.1L544.4 374.1L544.8 365.5L545.6 365.5L546.0 371.3L546.6 371.3L547.1 378.2L547.7 378.2L548.3 367.3L549.2 367.3L549.5 373.5L550.2 373.5L550.7 358.4L551.2 358.4L551.9 368.7L552.4 368.7L553.1 361.8L553.8 361.8L554.3 368.7L555.0 368.7L555.4 362.4"/><path d="M436.9 580.0L437.7 584.0L438.2 584.0L438.5 580.1L439.0 580.1L439.3 582.7L439.8 582.7L440.1 569.3L440.7 569.3L440.9 557.8L441.7 557.8L441.6 577.7L442.3 577.7L442.2 560.4L442.9 560.4L442.8 553.9L443.5 553.9L443.4 554.0L444.2 554.0L444.0 550.3L444.6 550.3L444.8 546.8L445.3 546.8L445.6 536.2L446.3 536.2L446.4 536.2L447.0 536.2L447.6 536.2L448.2 536.2L448.8 536.2L449.3 536.2L449.9 539.0L450.8 539.0L451.1 547.7L451.8 547.7L451.7 559.5L452.5 559.5L452.3 548.2L452.8 548.2L452.9 565.5L453.6 565.5L453.5 561.5"/><path d="M455.9 502.2L456.2 498.2L457.1 498.2L456.5 518.5L457.2 518.5L456.9 527.6L457.5 527.6L457.2 517.0L457.9 517.0L457.6 508.5L458.1 508.5L457.9 522.0L458.6 522.0L458.2 526.9L458.9 526.9L458.6 528.0L459.0 528.0L458.9 525.0L459.8 525.0L459.3 535.0L460.1 535.0L459.6 540.5L460.3 540.5L459.9 536.5L460.7 536.5L460.3 546.6L461.1 546.6L460.6 564.7L461.1 564.7L461.2 562.3L461.9 562.3L461.8 565.5L462.7 565.5L462.4 565.5L463.0 565.5L463.0 560.8L463.6 560.8L464.2 567.5L464.7 567.5L465.3 564.2L466.2 564.2L466.5 568.8L467.1 568.8L467.7 575.2L468.3 575.2L468.9 571.3L469.7 571.3L470.1 577.4L470.9 577.4L471.3 571.1L472.2 571.1L472.5 563.1L473.3 563.1L473.6 577.4L474.4 577.4L474.8 577.4L475.7 577.4L476.0 557.5L476.7 557.5L477.2 563.9L477.9 563.9L478.4 552.9L478.9 552.9L479.6 556.3L480.3 556.3L480.2 565.5L480.9 565.5L480.8 565.5L481.6 565.5L481.4 545.7L481.9 545.7L481.9 549.7"/><path d="M138.2 685.0L138.8 684.1L139.6 684.1L139.4 681.1L140.2 681.1L140.0 671.2L140.8 671.2L140.6 673.9L141.4 673.9L141.7 687.8L142.6 687.8L142.9 669.6L143.7 669.6L144.1 672.5L144.8 672.5L144.7 674.8L145.2 674.8L145.3 685.2L146.2 685.2L145.9 681.6L146.6 681.6L146.5 685.0"/><path d="M152.4 685.0L152.8 680.8L153.4 680.8L153.2 672.3L154.0 672.3L153.6 674.3L154.4 674.3L154.0 664.7L154.8 664.7L154.4 676.1L155.0 676.1L154.8 676.4L155.5 676.4L156.0 671.9L156.8 671.9L157.2 660.1L157.9 660.1L158.3 670.7L159.0 670.7L159.5 656.6L160.3 656.6L160.4 669.1L161.2 669.1L161.3 666.4L162.1 666.4L162.2 662.4L162.7 662.4L163.1 659.4L163.6 659.4L164.3 651.8L164.9 651.8L165.5 654.7L166.0 654.7L166.6 663.4L167.3 663.4L167.8 648.3L168.7 648.3L169.0 651.7L169.5 651.7L170.2 660.3L170.9 660.3L171.1 648.3L171.9 648.3L172.0 659.0L172.5 659.0L172.9 651.7L173.8 651.7L173.8 668.1L174.6 668.1L174.1 657.0L174.8 657.0L174.5 671.0L175.2 671.0L174.9 681.7L175.4 681.7L175.3 678.7L176.2 678.7L175.7 681.3L176.6 681.3L176.1 685.0"/><path d="M179.7 685.0L179.8 683.5L180.5 683.5L179.9 689.0L180.6 689.0L180.1 676.6L180.6 676.6L180.2 669.6L180.7 669.6L180.3 662.5L181.1 662.5L180.5 666.3L181.2 666.3L180.6 674.4L181.4 674.4L180.7 659.5L181.4 659.5L180.9 664.8L181.7 664.8L181.3 664.1L182.0 664.1L181.8 664.1L182.6 664.1L182.2 636.6L182.8 636.6L182.6 631.1L183.5 631.1L183.1 646.7L184.0 646.7L183.5 626.1L184.1 626.1L184.0 631.4L184.9 631.4L184.4 629.3L184.9 629.3L184.9 633.3L185.7 633.3L185.4 648.4L186.0 648.4L185.8 628.4L186.6 628.4L186.3 640.1L187.0 640.1L186.8 634.6L187.4 634.6L188.0 627.4L188.5 627.4L189.2 643.0L190.0 643.0L190.3 653.9L190.9 653.9L191.5 638.6L192.0 638.6L192.4 639.5L192.9 639.5L193.3 653.9L193.8 653.9L194.2 634.4L194.9 634.4L195.1 656.3L195.8 656.3L196.3 644.4L196.9 644.4L197.5 645.9L198.0 645.9L198.6 656.3L199.3 656.3L199.8 665.5L200.4 665.5L201.0 649.8L201.7 649.8L202.2 658.4L202.8 658.4L203.4 660.2L204.0 660.2L204.6 666.1L205.1 666.1L205.2 646.1L205.8 646.1L205.8 649.0L206.6 649.0L206.4 653.3L207.0 653.3L206.9 649.4L207.6 649.4L207.5 663.3L208.4 663.3L208.1 650.6L208.8 650.6L208.7 642.2L209.2 642.2L209.3 638.9L210.0 638.9L210.2 648.8L210.9 648.8L211.1 653.9L211.6 653.9L212.0 646.9L212.7 646.9L212.9 648.8L213.4 648.8L213.6 664.8L214.4 664.8L214.3 649.8L215.1 649.8L215.0 666.7L215.7 666.7L215.7 662.4L216.6 662.4L216.4 677.6L217.0 677.6L217.6 668.2L218.3 668.2L218.8 662.5L219.5 662.5L220.0 662.5L220.5 662.5L221.2 677.6L221.7 677.6L221.6 655.2L222.4 655.2L222.1 667.4L223.0 667.4L222.6 665.6L223.2 665.6L223.1 660.3L223.8 660.3L223.5 656.9L224.2 656.9L224.0 668.4L224.9 668.4L224.5 640.6L225.2 640.6L225.0 639.8L225.5 639.8L225.4 642.6L226.0 642.6L225.9 646.5L226.6 646.5L226.5 644.0L227.4 644.0L227.1 649.0L228.0 649.0L227.7 658.7L228.5 658.7L228.3 667.5L229.0 667.5L229.2 646.5L229.8 646.5L230.2 645.8L230.9 645.8L231.1 663.2L232.0 663.2L232.1 666.2L232.7 666.2L233.0 677.6L233.8 677.6L234.2 677.6L234.9 677.6L235.4 671.2L235.9 671.2L236.6 677.6L237.4 677.6L237.8 674.9L238.3 674.9L238.9 676.4L239.8 676.4L240.1 669.6L240.7 669.6L241.3 675.7L241.9 675.7L242.5 680.3L243.4 680.3L243.0 659.8L243.6 659.8L243.6 673.1L244.3 673.1L244.1 655.8L244.9 655.8L244.6 680.1L245.1 680.1L245.1 668.5L245.8 668.5L245.7 643.6L246.2 643.6L246.2 668.8L246.7 668.8L246.7 649.2L247.6 649.2L247.2 661.0L247.7 661.0L248.4 648.7L249.3 648.7L249.6 641.2L250.2 641.2L250.8 641.2L251.4 641.2L252.0 651.6L252.9 651.6L252.9 630.2L253.6 630.2L253.9 649.2L254.8 649.2L254.8 648.4L255.6 648.4L255.8 627.0L256.5 627.0L256.7 637.8L257.4 637.8L257.9 628.1L258.5 628.1L259.1 627.0L259.8 627.0L260.3 636.4L261.1 636.4L261.5 634.2L262.3 634.2L262.7 640.1L263.5 640.1L263.8 649.2L264.4 649.2L265.0 649.2L265.8 649.2L266.2 645.0L267.0 645.0L266.6 642.1L267.4 642.1L267.1 640.1L267.9 640.1L267.5 622.2L268.2 622.2L267.9 624.6L268.4 624.6L268.4 614.4L269.0 614.4L268.8 638.8L269.3 638.8L269.2 608.2L270.0 608.2L269.7 624.8L270.2 624.8L270.1 617.0L270.8 617.0L270.5 613.9L271.4 613.9L271.0 620.3L271.6 620.3L272.1 606.8L272.6 606.8L273.3 606.4L274.2 606.4L274.5 603.6L275.4 603.6L275.0 617.0L275.6 617.0L275.4 611.2L276.1 611.2L275.8 612.8L276.5 612.8L276.3 604.2L276.8 604.2L276.7 634.0L277.3 634.0L277.2 625.2L277.7 625.2L277.6 627.8L278.4 627.8L278.1 630.7L278.7 630.7L279.0 635.0L279.5 635.0L280.0 626.2L280.5 626.2L280.9 623.2L281.5 623.2L281.9 631.0L282.4 631.0L282.8 612.7L283.6 612.7L284.0 608.4L284.5 608.4L285.2 611.1L285.8 611.1L286.4 610.1L287.0 610.1L287.6 603.2L288.2 603.2L288.7 618.6L289.3 618.6L289.9 621.7L290.8 621.7L291.1 607.7L291.8 607.7L292.3 618.2L293.1 618.2L292.9 618.7L293.7 618.7L293.5 623.3L294.0 623.3L294.1 615.7L294.7 615.7L294.7 646.9L295.5 646.9L294.9 623.9L295.7 623.9L295.1 622.8L295.8 622.8L295.3 627.2L295.7 627.2L295.5 641.8L296.2 641.8L295.7 638.5L296.2 638.5L295.8 664.2L296.4 664.2L296.0 641.8L296.8 641.8L296.1 661.5L296.6 661.5L296.2 643.4L296.9 643.4L296.3 674.6L297.0 674.6L296.4 674.1L297.1 674.1L296.5 660.5L297.0 660.5L296.6 671.8L297.2 671.8L296.7 669.6L297.3 669.6L296.8 678.5L297.4 678.5L296.9 681.6L297.6 681.6L297.0 685.0"/><path d="M271.0 685.0L272.1 689.0L272.9 689.0L273.3 689.0L274.0 689.0L274.5 679.4L275.1 679.4L275.7 685.0L276.6 685.0L276.9 677.9L277.7 677.9L278.1 668.8L278.9 668.8L279.3 672.5L280.1 672.5L280.4 672.0L281.2 672.0L281.6 674.5L282.5 674.5L282.8 664.9L283.5 664.9L284.0 668.2L284.5 668.2L285.2 675.3L286.0 675.3L286.4 669.9L286.9 669.9L287.6 675.3L288.3 675.3L288.7 671.4L289.3 671.4L289.9 675.3L290.7 675.3L290.9 675.3L291.4 675.3L291.8 650.7L292.3 650.7L292.8 650.7L293.5 650.7L293.7 657.2L294.4 657.2L294.7 656.5L295.3 656.5L295.8 641.2L296.4 641.2L297.0 650.0L297.7 650.0L298.2 656.4L298.9 656.4L299.4 641.2L300.3 641.2L300.6 644.3L301.1 644.3L301.8 639.2L302.3 639.2L303.0 637.4L303.4 637.4L304.1 641.5L305.0 641.5L305.3 624.6L305.9 624.6L306.5 626.9L307.2 626.9L307.7 627.7L308.6 627.7L308.9 632.6L309.5 632.6L310.1 632.6L310.7 632.6L311.3 631.7L311.8 631.7L312.4 626.7L313.3 626.7L313.6 620.2L314.3 620.2L314.8 625.5L315.5 625.5L316.0 625.5L316.8 625.5L317.2 612.7L317.9 612.7L318.4 600.8L319.2 600.8L319.2 620.7L319.9 620.7L320.0 600.4L320.7 600.4L320.7 597.3L321.7 597.3L321.5 605.7L322.4 605.7L322.3 608.5L323.0 608.5L323.1 581.6L323.6 581.6L323.7 581.1L324.6 581.1L324.3 590.5L325.1 590.5L324.9 594.0L325.7 594.0L325.5 586.5L326.1 586.5L326.1 583.1L326.8 583.1L326.7 577.7L327.4 577.7L327.9 581.2L328.7 581.2L329.0 582.5L329.8 582.5L329.6 587.3L330.2 587.3L330.2 597.4L330.7 597.4L330.8 606.5L331.5 606.5L331.4 603.8L332.0 603.8L332.0 601.1L332.8 601.1L332.6 589.8L333.3 589.8L333.5 598.6L334.3 598.6L334.4 596.2L334.8 596.2L335.3 599.6L335.8 599.6L336.2 591.1L336.7 591.1L337.3 592.2L337.8 592.2L338.5 594.8L339.3 594.8L339.7 597.8L340.3 597.8L340.9 599.6L341.5 599.6L342.1 599.5L342.7 599.5L343.3 606.5L344.1 606.5L344.4 606.5L345.3 606.5L345.6 606.5L346.5 606.5L346.8 606.5L347.7 606.5L348.0 606.5L348.8 606.5L349.2 606.5L349.8 606.5L350.4 589.1L350.9 589.1L351.6 587.6L352.2 587.6L352.7 591.2L353.3 591.2L353.9 597.0L354.6 597.0L355.1 579.5L356.0 579.5L356.3 586.2L356.8 586.2L357.5 590.5L358.3 590.5L358.7 577.5L359.6 577.5L359.5 587.5L360.2 587.5L360.3 578.7L361.0 578.7L361.0 586.0L362.0 586.0L362.2 585.8L363.1 585.8L363.4 559.1L364.0 559.1L364.6 578.1L365.2 578.1L365.8 549.3L366.6 549.3L365.9 559.4L366.6 559.4L366.1 550.8L366.7 550.8L366.2 552.4L366.8 552.4L366.3 567.3L367.1 567.3L366.4 549.0L367.2 549.0L366.6 538.5L367.1 538.5L366.7 542.3L367.2 542.3L366.8 538.1L367.7 538.1L367.0 534.7L367.7 534.7L367.1 528.8L367.8 528.8L367.3 543.0L367.9 543.0L367.4 518.4L368.1 518.4L367.6 529.6L368.3 529.6L367.7 528.6L368.3 528.6L367.9 503.7L368.7 503.7L368.0 520.1L368.6 520.1L368.2 507.1L368.7 507.1L369.3 508.6L370.0 508.6L370.5 506.1L371.1 506.1L371.7 503.7L372.6 503.7L372.9 509.1L373.7 509.1L374.1 507.3L374.8 507.3L375.3 509.6L375.8 509.6L376.5 526.2L377.0 526.2L377.6 518.6L378.2 518.6L378.0 514.5L378.5 514.5L378.3 509.2L378.8 509.2L378.7 536.4L379.3 536.4L379.0 513.3L379.7 513.3L379.3 529.5L379.9 529.5L379.7 547.6L380.2 547.6L380.0 545.3L380.6 545.3L380.4 539.6L380.9 539.6L380.8 533.1L381.4 533.1L381.2 545.4L381.8 545.4L381.6 559.1L382.4 559.1L382.0 544.0L382.6 544.0L382.4 556.8L383.0 556.8L383.0 559.1L383.5 559.1L383.7 536.8L384.3 536.8L384.3 545.9L385.0 545.9L385.0 540.9"/><path d="M306.5 685.0L307.0 689.0L307.7 689.0L307.6 662.5L308.4 662.5L308.1 683.2L309.0 683.2L308.6 677.9L309.5 677.9L309.2 654.4L309.7 654.4L309.7 674.9L310.2 674.9L310.2 650.7L310.7 650.7L310.7 658.5L311.3 658.5L311.3 641.3L311.8 641.3L312.4 645.9L313.0 645.9L313.6 650.2L314.4 650.2L314.8 658.7L315.5 658.7L316.0 645.4L316.9 645.4L316.9 648.7L317.7 648.7L317.9 644.9L318.4 644.9L318.8 638.0L319.6 638.0L319.8 634.0L320.3 634.0L320.7 645.8L321.6 645.8L321.9 632.2L322.8 632.2L323.1 638.1L323.7 638.1L324.3 646.8L325.1 646.8L325.5 641.5L326.2 641.5L326.4 638.8L327.1 638.8L327.4 650.9L328.0 650.9L328.3 662.7L329.0 662.7L329.3 656.0L330.0 656.0L330.2 649.2L330.9 649.2L331.4 658.9L332.3 658.9L332.6 659.5L333.2 659.5L333.8 658.2L334.4 658.2L335.0 655.4L335.8 655.4L336.2 655.4L336.9 655.4L337.3 664.2L338.0 664.2L338.5 665.2L339.3 665.2L338.8 647.5L339.4 647.5L339.2 665.2L339.7 665.2L339.5 642.0L340.3 642.0L339.8 654.9L340.3 654.9L340.1 642.1L340.6 642.1L340.5 641.2L341.2 641.2L340.8 637.3L341.5 637.3L341.1 646.8L341.8 646.8L341.4 627.0L342.3 627.0L341.8 627.0L342.6 627.0L342.1 637.4L342.8 637.4L343.3 630.4L344.0 630.4L344.4 624.6L345.1 624.6L345.6 635.0L346.1 635.0L346.8 627.3L347.6 627.3L347.8 632.7L348.4 632.7L348.7 635.3L349.5 635.3L349.7 649.2L350.3 649.2L350.6 642.6L351.2 642.6L351.6 645.5L352.1 645.5L352.7 649.2L353.6 649.2L353.9 642.0L354.5 642.0L355.1 639.5L355.6 639.5L356.3 647.8L356.9 647.8L357.5 644.4L358.2 644.4L358.7 643.5L359.3 643.5L359.9 631.7L360.3 631.7L361.0 627.0L361.8 627.0L362.2 636.9L363.1 636.9L363.4 644.4L363.9 644.4L364.6 627.0L365.5 627.0L365.8 644.4L366.4 644.4L366.5 615.0L367.0 615.0L367.1 611.0L368.0 611.0L367.8 622.0L368.4 622.0L368.5 618.2L369.1 618.2L369.2 613.0L370.0 613.0L369.9 609.2L370.7 609.2L370.5 607.1L371.4 607.1L371.7 597.4L372.3 597.4L372.9 601.1L373.7 601.1L374.1 610.4L374.9 610.4L375.3 610.6L375.8 610.6L375.9 600.1L376.7 600.1L376.5 616.0L377.0 616.0L377.0 608.8L377.5 608.8L377.6 599.0L378.3 599.0L378.4 609.8L379.2 609.8L379.2 633.8L379.9 633.8L380.0 621.5L380.8 621.5L380.8 635.0L381.3 635.0L381.6 626.2L382.1 626.2L382.4 635.0L382.9 635.0L383.0 628.8L383.8 628.8L383.7 633.3L384.3 633.3L384.3 624.0L384.9 624.0L385.0 619.1"/><path d="M112.4 798.0L112.6 801.4L113.5 801.4L113.1 816.5L114.0 816.5L113.6 799.7L114.4 799.7L114.1 821.1L114.8 821.1L114.7 813.8L115.5 813.8L115.2 819.7L116.1 819.7L115.7 820.1L116.3 820.1L116.3 832.6L116.9 832.6L117.0 843.8L117.8 843.8L117.7 817.9L118.6 817.9L118.4 819.1L119.1 819.1L119.1 847.1L119.9 847.1L119.7 825.5L120.6 825.5L120.4 834.2L121.1 834.2L120.8 825.9L121.3 825.9L121.2 847.1L121.8 847.1L121.6 827.1L122.1 827.1L122.0 821.2L122.8 821.2L122.4 827.2L123.1 827.2L122.8 820.1L123.6 820.1L124.0 829.8L124.4 829.8L125.2 808.2L125.8 808.2L126.3 815.9L127.2 815.9L127.5 815.4L128.1 815.4L128.7 816.2L129.6 816.2L129.9 808.2L130.6 808.2L131.1 808.2L131.6 808.2L132.3 808.2L133.0 808.2L133.4 816.2L134.0 816.2L134.6 810.8L135.5 810.8L135.8 813.5L136.4 813.5L137.0 807.5L137.7 807.5L138.2 816.2L138.8 816.2L139.4 810.8L140.2 810.8L140.6 816.2L141.0 816.2L141.7 803.5L142.6 803.5L142.9 811.5L143.5 811.5L144.1 808.8L145.0 808.8L145.3 811.5L146.0 811.5L146.5 807.2L147.4 807.2L147.7 811.5L148.2 811.5L148.9 805.0L149.7 805.0L150.0 809.1L150.9 809.1L151.2 794.0L151.8 794.0L152.4 803.7L153.3 803.7L153.6 809.1L154.1 809.1L154.8 798.9L155.5 798.9L156.0 798.7L156.8 798.7L157.2 795.3L157.9 795.3L158.3 802.0L158.9 802.0L159.5 789.3L160.1 789.3L160.7 796.1L161.5 796.1L161.9 783.9L162.6 783.9L163.1 790.8L163.6 790.8L164.3 782.2L165.1 782.2L165.5 797.3L166.1 797.3L166.6 782.2L167.3 782.2L167.8 779.8L168.5 779.8L169.0 787.7L169.5 787.7L170.2 779.3L171.0 779.3L171.4 767.9L172.0 767.9L172.6 774.0L173.5 774.0L173.8 767.9L174.4 767.9L174.9 775.9L175.6 775.9L176.1 771.7L176.6 771.7L177.3 775.9L177.9 775.9L178.5 775.9L179.3 775.9L179.7 769.1L180.2 769.1L180.9 778.3L181.6 778.3L182.1 765.6L182.6 765.6L183.2 770.1L184.1 770.1L184.4 778.1L184.9 778.1L185.6 774.2L186.3 774.2L186.8 779.1L187.7 779.1L188.0 777.7L188.5 777.7L189.2 776.2L190.1 776.2L190.3 783.1L191.0 783.1L191.5 774.3L192.4 774.3L192.7 777.8L193.3 777.8L193.9 783.5L194.6 783.5L195.1 779.8L196.0 779.8L196.3 775.1L196.8 775.1L197.5 779.6L198.2 779.6L198.6 779.8L199.2 779.8L199.8 777.4L200.7 777.4L201.0 777.0L201.9 777.0L202.2 781.1L202.8 781.1L203.4 781.3L204.3 781.3L204.6 778.1L205.4 778.1L205.8 779.7L206.2 779.7L206.9 775.1L207.8 775.1L207.3 775.4L207.9 775.4L207.6 792.6L208.5 792.6L208.0 805.6L208.6 805.6L208.3 790.8L208.9 790.8L208.6 806.7L209.2 806.7L209.0 792.8L209.9 792.8L209.3 787.0L210.1 787.0L210.0 822.0L210.8 822.0L210.7 802.9L211.4 802.9L211.3 828.8L212.0 828.8L212.0 830.5L212.5 830.5L212.7 826.0L213.6 826.0L213.4 830.5L214.1 830.5L214.1 810.9L214.9 810.9L215.2 825.8L215.7 825.8L216.4 823.9L217.1 823.9L217.6 830.5L218.3 830.5L218.8 810.6L219.5 810.6L220.0 811.5L220.7 811.5L221.2 810.6L221.9 810.6L222.4 810.6L223.2 810.6L223.5 821.0L224.1 821.0L224.7 816.3L225.4 816.3L225.9 810.6L226.4 810.6L227.1 821.0L227.7 821.0L228.3 817.1L229.2 817.1L229.0 801.2L229.7 801.2L229.6 816.1L230.2 816.1L230.3 818.7L230.9 818.7L231.0 803.1L231.5 803.1L231.7 798.3L232.2 798.3L232.3 795.9L232.8 795.9L233.0 791.3L233.6 791.3L233.6 781.5L234.2 781.5L234.2 797.3L235.1 797.3L234.8 791.0L235.7 791.0L235.4 771.2L236.2 771.2L236.0 787.9L236.5 787.9L236.6 786.3L237.1 786.3L237.8 778.0L238.6 778.0L238.9 778.3L239.5 778.3L240.1 753.8L240.8 753.8L241.3 767.3L242.0 767.3L242.5 749.0L243.0 749.0L243.7 757.7L244.5 757.7L244.9 744.2L245.5 744.2L246.1 744.2L246.6 744.2L247.2 750.5L247.9 750.5L248.4 757.0L248.9 757.0L249.6 744.2L250.1 744.2L250.8 753.8L251.5 753.8L252.0 750.2L252.5 750.2L253.2 751.3L253.7 751.3L254.4 761.7L255.1 761.7L255.5 752.1L256.1 752.1L256.7 764.1L257.5 764.1L257.9 759.4L258.6 759.4L259.1 764.1L259.6 764.1L260.3 759.3L261.1 759.3L261.5 753.7L262.0 753.7L262.7 755.3L263.2 755.3L263.8 757.8L264.6 757.8L265.0 758.1L265.9 758.1L266.2 751.3L267.1 751.3L267.4 760.1L268.2 760.1L268.6 759.3L269.2 759.3L269.8 754.2L270.5 754.2L271.0 741.9L271.5 741.9L272.1 747.4L272.6 747.4L273.3 731.9L274.2 731.9L274.3 741.3L274.8 741.3L275.2 729.7L276.0 729.7L276.2 727.6L276.9 727.6L277.1 735.6L278.0 735.6L278.1 727.6L278.6 727.6L279.3 726.1L279.8 726.1L280.4 718.2L281.2 718.2L281.6 735.6L282.3 735.6L282.8 720.3L283.5 720.3L284.0 718.2L284.6 718.2L285.2 708.7L285.9 708.7L286.4 708.7L287.1 708.7L287.6 718.9L288.3 718.9L288.7 714.8L289.3 714.8L289.9 706.5L290.5 706.5L291.1 712.8L291.9 712.8L292.3 711.0L293.0 711.0L293.5 701.6L294.1 701.6L294.7 705.6"/><path d="M294.7 705.6L295.5 708.8L296.3 708.8L296.2 719.5L296.7 719.5L297.0 715.2L297.9 715.2L297.8 708.1L298.4 708.1L298.6 728.5L299.2 728.5L299.4 719.4L300.0 719.4L299.9 744.2L300.8 744.2L300.5 731.6L301.1 731.6L301.0 741.2L301.8 741.2L301.5 738.7L302.2 738.7L302.0 747.5L302.8 747.5L302.6 734.5L303.4 734.5L303.1 746.9L303.7 746.9L303.6 748.7L304.3 748.7L304.1 751.0L304.9 751.0L304.7 754.5L305.5 754.5L305.3 766.3L306.2 766.3L305.9 761.6L306.7 761.6L306.5 775.9L307.1 775.9L307.1 763.1L307.7 763.1L307.7 770.8L308.3 770.8L308.9 771.7L309.6 771.7L310.1 771.2L310.8 771.2L311.3 768.1L312.0 768.1L312.4 759.0L313.2 759.0L313.6 773.6L314.2 773.6L314.8 756.1L315.6 756.1L316.0 749.0L316.9 749.0L317.2 757.1L317.7 757.1L318.4 757.6L319.0 757.6L319.6 749.0L320.4 749.0L320.7 740.4L321.5 740.4L321.7 736.6L322.2 736.6L322.6 737.4L323.3 737.4L323.6 741.8L324.2 741.8L324.5 738.5L325.4 738.5L325.5 735.5L326.2 735.5L326.1 718.4L326.9 718.4L326.7 735.5L327.5 735.5L327.3 717.5L327.8 717.5L327.9 732.7L328.5 732.7L328.4 728.9L329.0 728.9L329.0 710.0L329.6 710.0L329.6 714.0L330.1 714.0L330.2 706.3L331.1 706.3L330.9 719.1L331.5 719.1L331.6 706.3L332.3 706.3L332.4 707.5L333.0 707.5L333.1 713.5L333.7 713.5L333.8 719.6L334.3 719.6L335.0 739.0L335.8 739.0L336.2 722.9L336.7 722.9L337.3 723.1L337.9 723.1L338.5 738.2L339.4 738.2L339.7 750.0L340.5 750.0L340.9 752.0L341.5 752.0L342.1 752.2L342.6 752.2L343.3 752.2L344.1 752.2L344.4 752.2L345.4 752.2L345.6 742.7L346.5 742.7L346.8 735.2L347.4 735.2L348.0 742.8L348.6 742.8L349.2 734.8L349.9 734.8L350.4 734.8L351.3 734.8L351.6 739.1L352.4 739.1L352.7 731.9L353.3 731.9L353.9 742.8L354.8 742.8L355.1 742.8L356.0 742.8L356.3 740.7L356.9 740.7L357.5 745.1L358.0 745.1L358.7 745.1L359.4 745.1L359.9 745.1L360.5 745.1L361.0 727.9L361.7 727.9L362.2 737.1L363.1 737.1L363.4 743.9L363.9 743.9L364.6 748.4L365.1 748.4L365.8 738.4L366.4 738.4L367.0 746.6L367.7 746.6L368.2 750.5L368.8 750.5L369.3 757.0L370.0 757.0L370.5 758.9L371.3 758.9L371.7 757.8L372.4 757.8L372.9 749.0L373.8 749.0L374.1 767.4L374.7 767.4L375.3 749.6L376.0 749.6L376.5 767.0L377.3 767.0L377.6 760.8L378.1 760.8L378.8 760.8L379.4 760.8L380.0 768.1L380.9 768.1L381.3 767.6L382.0 767.6L382.5 773.6L383.2 773.6L383.7 766.5L384.7 766.5L385.0 764.8"/><path d="M338.5 783.8L339.7 787.3L340.5 787.3L340.9 780.9L341.7 780.9L342.1 789.0L342.6 789.0L343.3 792.3L344.1 792.3L344.4 804.4L345.2 804.4L345.6 797.2L346.5 797.2L346.8 800.4L347.5 800.4L348.0 789.3L348.8 789.3L349.2 797.6L349.9 797.6L350.4 789.3L351.2 789.3L351.6 804.4L352.2 804.4L352.7 797.3L353.6 797.3L353.9 784.5L354.5 784.5L355.1 784.5L355.9 784.5L356.3 787.3L357.2 787.3L357.5 783.8L358.0 783.8L358.7 781.9L359.6 781.9L359.9 784.9L360.6 784.9L361.0 771.1L361.5 771.1L362.0 774.7L362.8 774.7L362.9 756.6L363.8 756.6L363.9 760.6L364.6 760.6L364.8 763.2L365.3 763.2L365.8 760.1L366.3 760.1L367.0 758.8L367.7 758.8L368.2 764.1L368.8 764.1L369.3 756.1L370.2 756.1L370.5 756.1L371.0 756.1L371.2 756.1L372.1 756.1L371.9 773.6L372.8 773.6L372.6 771.2L373.4 771.2L373.2 758.5L374.2 758.5L373.9 766.0L374.5 766.0L374.6 771.7L375.2 771.7L375.3 793.2L375.9 793.2L375.8 803.3L376.6 803.3L376.3 798.4L377.0 798.4L376.9 781.4L377.6 781.4L377.4 791.2L377.9 791.2L377.9 805.7L378.7 805.7L378.4 801.5L379.1 801.5L379.0 813.3L379.7 813.3L379.5 801.7L380.0 801.7L380.0 816.2L380.7 816.2L380.4 807.6L381.1 807.6L380.8 816.2L381.3 816.2L381.2 792.9L381.9 792.9L381.5 812.9L382.4 812.9L381.9 808.6L382.6 808.6L382.3 792.6L382.9 792.6L382.7 774.4L383.3 774.4L383.1 787.7L383.9 787.7L383.5 769.1L384.3 769.1L383.8 785.5L384.5 785.5L384.2 776.9L384.7 776.9L384.6 765.6L385.2 765.6L385.0 769.6"/><path d="M1055.2 260.0L1055.4 274.3L1056.3 274.3L1055.6 271.6L1056.2 271.6L1055.8 271.2L1056.7 271.2L1056.1 271.5L1056.8 271.5L1056.3 269.0L1057.1 269.0L1056.8 293.8L1057.3 293.8L1057.3 291.0L1058.1 291.0L1057.8 287.9L1058.6 287.9L1058.3 283.3L1058.9 283.3L1058.9 287.7L1059.8 287.7L1059.6 282.8L1060.2 282.8L1060.3 273.9L1060.9 273.9L1060.7 291.1L1061.4 291.1L1061.1 285.0L1061.8 285.0L1061.5 284.1L1062.1 284.1L1061.9 292.6L1062.7 292.6L1062.3 285.9L1063.1 285.9L1062.6 286.8L1063.2 286.8L1062.8 311.4L1063.4 311.4L1063.1 308.4L1063.8 308.4L1063.3 301.9L1064.1 301.9L1064.0 314.5L1064.8 314.5L1064.7 310.9L1065.3 310.9L1065.3 300.1L1066.0 300.1L1065.7 289.8L1066.2 289.8L1066.0 293.2L1066.5 293.2L1066.3 289.4L1066.9 289.4L1066.7 288.4L1067.4 288.4L1067.0 291.4L1067.7 291.4L1067.4 278.6L1068.0 278.6L1067.9 269.4L1068.7 269.4L1068.4 283.0L1068.9 283.0L1068.9 256.5L1069.6 256.5L1069.4 277.2L1070.1 277.2L1069.9 274.5L1070.6 274.5L1070.4 260.0"/><path d="M1068.4 290.3L1068.7 292.0L1069.2 292.0L1068.9 302.3L1069.5 302.3L1069.2 292.0L1069.8 292.0L1069.5 301.3L1070.3 301.3L1069.8 305.5L1070.6 305.5L1070.1 318.3L1070.8 318.3L1070.4 313.3L1071.3 313.3L1070.9 308.7L1071.6 308.7L1071.4 312.9L1072.3 312.9L1071.6 323.2L1072.5 323.2L1071.7 315.3L1072.6 315.3L1071.9 345.2L1072.8 345.2L1072.1 323.2L1072.8 323.2L1072.2 323.4L1072.8 323.4L1072.4 340.7L1073.3 340.7L1072.6 332.8L1073.4 332.8L1072.7 348.6L1073.3 348.6L1072.9 340.5L1073.5 340.5L1073.1 366.3L1073.7 366.3L1073.2 355.8L1073.8 355.8L1073.4 350.0L1074.3 350.0L1073.3 359.1L1074.2 359.1L1073.2 368.5L1073.7 368.5L1073.1 356.3L1073.7 356.3L1073.0 359.7L1073.6 359.7L1072.9 379.1L1073.6 379.1L1072.8 380.4L1073.3 380.4L1073.3 371.5L1074.2 371.5L1073.9 389.0L1074.8 389.0L1074.4 391.3"/><path d="M1065.3 340.8L1066.3 334.8L1066.9 334.8L1067.4 334.8L1068.1 334.8L1067.9 337.2L1068.8 337.2L1068.4 349.4L1068.9 349.4L1068.9 340.1L1069.7 340.1L1069.4 342.2L1070.1 342.2L1070.1 340.9L1070.5 340.9L1070.7 358.4L1071.2 358.4L1071.4 362.4L1072.2 362.4L1071.7 373.3L1072.4 373.3L1072.1 374.3L1072.9 374.3L1072.4 362.8L1073.1 362.8L1072.7 375.4L1073.6 375.4L1073.1 379.6L1073.9 379.6L1073.4 379.8L1074.1 379.8L1074.4 383.4L1075.1 383.4L1075.4 385.2"/><path d="M1073.4 356.9L1073.8 344.9L1074.7 344.9L1074.2 360.9L1074.8 360.9L1074.6 348.8L1075.4 348.8L1075.0 344.2L1075.7 344.2L1075.4 341.7L1076.1 341.7L1076.1 337.2L1076.8 337.2L1076.8 332.5L1077.6 332.5L1077.5 337.0L1078.0 337.0L1077.8 332.2L1078.7 332.2L1078.1 312.9L1078.7 312.9L1078.5 329.4L1079.0 329.4L1078.8 332.1L1079.6 332.1L1079.1 326.0L1079.8 326.0L1079.5 300.4L1080.1 300.4L1079.7 305.8L1080.4 305.8L1080.0 294.7L1080.7 294.7L1080.2 294.5L1080.8 294.5L1080.5 306.4L1081.3 306.4L1081.0 307.6L1081.7 307.6L1081.5 294.4L1082.3 294.4L1082.0 300.0L1082.7 300.0L1082.5 324.3L1083.2 324.3L1083.2 324.6L1083.7 324.6L1083.9 318.7L1084.6 318.7L1084.5 324.6L1085.0 324.6L1085.2 319.0L1085.7 319.0L1085.9 305.6L1086.7 305.6L1086.5 312.1L1087.4 312.1L1086.7 323.8L1087.3 323.8L1086.9 313.2L1087.4 313.2L1087.1 290.3L1087.9 290.3L1087.4 288.3L1087.9 288.3L1087.6 297.5L1088.2 297.5L1088.6 288.3L1089.1 288.3L1089.6 302.2L1090.5 302.2L1090.6 294.0L1091.2 294.0L1091.6 303.3L1092.2 303.3L1091.8 296.4L1092.5 296.4L1092.0 310.8L1092.5 310.8L1092.2 289.1L1092.7 289.1L1092.4 296.7L1093.2 296.7L1092.6 297.1L1093.2 297.1L1092.8 300.5L1093.6 300.5L1092.9 321.8L1093.7 321.8L1093.1 326.0L1093.9 326.0L1093.3 325.1L1093.9 325.1L1093.4 326.7L1094.0 326.7L1093.6 329.8L1094.4 329.8L1093.9 345.0L1094.8 345.0L1094.1 324.6L1094.6 324.6L1094.4 347.9L1095.3 347.9L1094.6 345.6L1095.1 345.6L1095.3 336.8L1096.1 336.8L1096.0 341.9L1096.6 341.9L1096.6 356.7L1097.2 356.7L1097.0 369.0L1097.8 369.0L1097.3 372.6L1097.9 372.6L1097.6 369.6L1098.4 369.6L1098.3 354.2L1099.0 354.2L1099.0 384.3L1099.5 384.3L1099.7 374.7L1100.4 374.7L1100.3 388.5L1101.2 388.5L1101.0 389.6L1101.6 389.6L1101.7 380.6L1102.6 380.6L1102.7 384.5L1103.3 384.5L1103.7 378.4L1104.6 378.4L1104.7 388.5L1105.3 388.5L1105.4 390.6L1106.1 390.6L1106.1 382.8L1106.5 382.8L1106.7 403.3L1107.6 403.3L1107.7 386.0L1108.7 386.0L1108.8 410.9L1109.3 410.9L1109.8 412.6L1110.3 412.6L1110.8 406.6L1111.3 406.6L1111.8 401.4L1112.6 401.4L1112.8 412.1L1113.6 412.1L1113.8 421.3L1114.5 421.3L1114.8 411.2L1115.7 411.2L1115.8 418.9L1116.7 418.9L1116.8 430.3L1117.7 430.3L1117.8 423.0L1118.6 423.0L1118.9 435.6L1119.7 435.6L1119.9 428.6L1120.5 428.6L1120.9 430.7L1121.4 430.7L1121.9 435.9L1122.5 435.9L1122.9 427.6L1123.7 427.6L1123.9 444.0L1124.4 444.0L1124.9 441.0L1125.4 441.0L1125.9 449.7L1126.7 449.7L1126.9 453.1L1127.6 453.1L1127.9 450.2L1128.6 450.2L1128.9 461.0L1129.5 461.0L1129.6 448.4L1130.4 448.4L1130.3 464.1L1131.0 464.1L1131.0 460.1"/><path d="M1096.6 260.0L1097.3 262.8L1097.9 262.8L1098.0 256.0L1098.8 256.0L1098.7 261.0L1099.6 261.0L1099.0 284.5L1099.8 284.5L1099.3 290.6L1100.0 290.6L1099.7 290.7L1100.2 290.7L1099.9 283.5L1100.5 283.5L1100.2 275.2L1101.0 275.2L1100.4 289.1L1101.3 289.1L1100.7 287.5L1101.2 287.5L1101.2 295.8L1102.0 295.8L1101.7 305.0L1102.2 305.0L1101.9 301.9L1102.7 301.9L1102.1 292.7L1102.8 292.7L1102.3 309.1L1103.0 309.1L1102.5 312.5L1103.1 312.5L1102.7 303.4L1103.4 303.4L1103.0 318.8L1103.7 318.8L1103.4 317.7L1104.1 317.7L1103.7 336.8L1104.4 336.8L1104.0 318.1L1104.9 318.1L1104.4 334.0L1105.1 334.0L1104.7 346.5L1105.6 346.5L1105.2 327.5L1105.8 327.5L1105.7 337.9L1106.4 337.9L1106.0 359.6L1106.6 359.6L1106.2 352.5L1106.8 352.5L1106.5 354.9L1107.3 354.9L1106.7 350.2L1107.5 350.2L1107.4 357.8L1108.1 357.8L1108.1 363.5L1108.8 363.5L1108.8 360.1L1109.4 360.1L1109.4 379.2L1110.3 379.2L1110.1 359.9L1111.0 359.9L1110.8 359.0L1111.3 359.0L1111.4 364.6L1112.2 364.6L1112.1 377.6L1112.7 377.6L1112.8 367.4L1113.4 367.4L1113.5 390.8L1114.2 390.8L1114.1 395.0L1114.7 395.0L1114.8 389.4L1115.6 389.4L1115.5 387.1L1116.3 387.1L1116.2 407.8L1117.0 407.8L1116.8 392.7L1117.6 392.7L1117.5 408.0L1118.1 408.0L1118.2 402.6L1118.9 402.6L1118.9 405.5L1119.6 405.5L1119.5 399.7L1120.0 399.7L1120.2 425.4L1121.0 425.4L1120.9 425.4L1121.5 425.4L1121.5 407.7L1122.2 407.7L1122.2 404.4L1122.9 404.4L1122.9 421.6"/><path d="M1106.7 320.6L1107.4 315.9L1108.1 315.9L1108.1 301.7L1108.9 301.7L1108.8 316.8L1109.4 316.8L1109.3 305.7L1110.1 305.7L1109.8 305.6L1110.4 305.6L1110.3 302.4L1110.9 302.4L1110.8 297.7L1111.4 297.7L1111.8 305.8L1112.7 305.8L1112.8 294.4L1113.6 294.4L1113.3 304.7L1114.0 304.7L1113.8 299.9L1114.5 299.9L1114.3 310.1L1114.8 310.1L1114.8 311.0L1115.4 311.0L1115.3 302.0L1115.9 302.0L1115.8 311.7L1116.5 311.7L1116.3 321.6L1117.2 321.6L1116.8 333.1L1117.4 333.1L1117.8 315.1L1118.7 315.1L1118.9 326.7L1119.7 326.7L1119.9 331.0L1120.7 331.0L1120.9 340.6L1121.7 340.6L1121.4 348.5L1122.0 348.5L1121.9 354.7L1122.6 354.7L1122.1 352.9L1122.9 352.9L1122.4 347.8L1122.9 347.8L1122.6 342.4L1123.3 342.4L1122.9 354.6L1123.7 354.6L1123.4 356.1L1124.0 356.1L1123.9 369.6L1124.4 369.6L1124.4 375.0L1124.9 375.0L1124.9 363.6L1125.5 363.6L1125.6 366.7L1126.1 366.7L1126.3 378.3L1126.7 378.3L1126.9 361.1L1127.8 361.1L1127.4 382.9L1128.2 382.9L1127.9 377.9L1128.6 377.9L1128.4 381.9L1129.1 381.9L1128.9 371.2L1129.8 371.2L1129.5 388.0L1130.3 388.0L1130.0 380.4L1130.8 380.4L1130.5 407.1L1131.3 407.1L1131.0 392.0L1131.5 392.0L1132.0 385.1L1132.5 385.1L1133.0 408.8L1133.5 408.8L1134.0 393.3L1134.6 393.3L1135.0 404.5L1135.5 404.5L1136.0 398.5L1136.8 398.5L1137.0 419.9L1137.5 419.9L1138.0 425.6L1139.0 425.6L1139.0 409.2L1139.7 409.2L1140.1 426.0L1140.7 426.0L1141.1 413.1L1142.0 413.1L1142.1 429.6L1142.9 429.6L1143.1 435.6L1143.9 435.6L1144.1 427.2L1145.0 427.2L1145.1 418.2L1145.9 418.2L1146.1 435.6L1146.9 435.6L1147.1 432.3L1147.8 432.3L1148.1 433.0L1148.8 433.0L1149.1 433.0L1149.7 433.0L1150.2 441.7L1150.6 441.7L1151.2 428.2L1152.0 428.2L1152.2 439.1L1153.0 439.1L1153.2 433.7L1154.1 433.7L1154.2 445.3L1154.7 445.3L1155.2 434.2L1155.7 434.2L1156.2 441.8L1156.9 441.8L1157.2 447.0L1158.0 447.0L1158.2 441.8L1159.1 441.8L1159.2 450.3L1160.0 450.3L1160.3 451.5L1160.8 451.5L1161.3 446.4L1162.0 446.4L1162.3 452.4L1162.9 452.4L1163.3 447.2L1163.9 447.2L1164.5 457.9L1165.2 457.9L1165.7 453.5L1166.4 453.5L1166.9 450.1L1167.8 450.1L1168.1 457.9L1168.7 457.9L1169.3 449.8"/><path d="M1135.0 401.4L1136.0 405.4L1136.5 405.4L1137.0 389.3L1137.9 389.3L1138.0 389.3L1138.8 389.3L1139.0 405.4L1139.8 405.4L1140.1 392.4L1140.6 392.4L1141.1 388.0L1141.6 388.0L1142.1 387.7L1142.9 387.7L1143.1 384.7L1143.7 384.7L1143.8 370.0L1144.4 370.0L1144.4 389.2L1144.9 389.2L1145.1 381.9L1145.6 381.9L1145.5 383.5L1146.3 383.5L1145.9 361.6L1146.7 361.6L1146.3 368.5L1147.2 368.5L1146.7 364.8L1147.6 364.8L1147.1 366.5L1148.0 366.5L1147.8 370.1L1148.7 370.1L1148.5 360.3L1149.1 360.3L1149.1 340.8L1150.0 340.8L1150.2 362.8L1150.8 362.8L1151.2 340.8L1151.8 340.8L1152.2 358.9L1152.7 358.9L1153.2 340.8L1153.7 340.8L1154.2 353.3L1154.8 353.3L1155.2 351.9L1155.8 351.9L1156.2 344.9L1156.8 344.9L1156.9 345.9L1157.5 345.9L1157.6 359.0L1158.4 359.0L1158.2 358.6L1158.7 358.6L1158.9 358.6L1159.7 358.6L1159.6 351.2L1160.2 351.2L1160.3 366.2L1160.8 366.2L1160.9 368.8L1161.7 368.8L1161.6 361.3L1162.3 361.3L1162.3 379.3L1163.0 379.3L1162.9 376.9L1163.8 376.9L1163.6 371.1L1164.1 371.1L1164.3 388.0L1164.9 388.0L1165.0 382.4L1165.4 382.4L1165.6 393.2L1166.4 393.2L1166.3 381.1L1166.9 381.1L1166.8 387.1L1167.6 387.1L1167.3 381.5L1168.2 381.5L1167.8 384.7L1168.3 384.7L1168.3 377.6L1169.2 377.6L1169.3 367.1L1170.0 367.1L1170.2 371.1"/><path d="M1139.0 441.7L1140.1 445.7L1140.8 445.7L1141.1 429.7L1141.8 429.7L1142.1 445.7L1142.8 445.7L1143.1 445.7L1143.6 445.7L1144.1 437.7L1144.8 437.7L1145.1 437.7L1145.7 437.7L1146.1 423.6L1146.8 423.6L1147.1 427.9L1147.8 427.9L1148.1 427.6L1148.9 427.6L1149.1 431.6L1149.7 431.6L1150.2 417.6L1151.0 417.6L1151.2 422.5L1152.1 422.5L1152.2 410.6L1152.9 410.6L1153.2 409.5L1154.0 409.5L1154.2 414.2L1154.7 414.2L1155.2 401.4L1155.7 401.4L1156.2 401.4L1157.1 401.4L1157.2 408.9L1158.1 408.9L1158.2 401.4L1159.0 401.4L1159.2 401.4L1159.9 401.4L1160.3 401.4L1160.9 401.4L1161.3 408.2L1161.9 408.2L1161.9 401.4L1162.7 401.4L1162.6 414.5L1163.3 414.5L1163.3 418.3L1163.9 418.3L1164.0 413.3L1164.6 413.3L1164.6 430.0L1165.1 430.0L1165.3 425.9L1165.8 425.9L1166.0 441.7L1166.5 441.7L1166.6 430.3L1167.2 430.3L1167.3 433.8L1168.1 433.8L1168.0 443.7L1168.8 443.7L1168.7 440.1L1169.4 440.1L1169.3 434.1L1170.0 434.1L1169.8 450.9L1170.2 450.9L1170.2 449.8"/><path d="M1030.0 441.7L1031.0 444.5L1031.8 444.5L1032.0 449.8L1032.7 449.8L1033.0 449.8L1033.7 449.8L1034.0 439.2L1034.8 439.2L1035.0 441.8L1035.5 441.8L1036.1 447.7L1036.9 447.7L1037.1 441.8L1037.8 441.8L1038.1 441.8L1038.6 441.8L1039.1 448.1L1039.9 448.1L1040.1 445.1L1040.9 445.1L1041.1 450.6L1041.9 450.6L1042.1 445.0L1042.7 445.0L1043.1 445.8L1043.7 445.8L1044.1 449.7L1044.8 449.7L1045.1 455.8L1045.6 455.8L1046.2 440.8L1046.9 440.8L1047.2 440.6L1047.7 440.6L1048.2 435.0L1049.0 435.0L1049.2 437.7L1050.0 437.7L1050.2 447.4L1050.8 447.4L1050.7 431.3L1051.4 431.3L1051.2 419.8L1052.0 419.8L1051.7 419.0L1052.3 419.0L1052.2 423.1L1053.0 423.1L1052.9 417.6L1053.6 417.6L1053.6 414.9L1054.2 414.9L1054.2 405.4L1055.1 405.4L1055.2 405.4L1055.9 405.4L1056.3 422.3L1057.1 422.3L1057.3 416.9L1058.1 416.9L1058.3 417.5L1058.9 417.5L1058.9 412.3L1059.8 412.3L1059.6 392.8L1060.1 392.8L1060.3 401.3L1060.9 401.3L1061.3 400.5L1061.9 400.5L1062.3 391.8L1062.8 391.8L1062.6 404.5L1063.2 404.5L1062.8 382.7L1063.5 382.7L1063.1 399.4L1063.5 399.4L1063.3 397.6L1064.0 397.6L1063.6 370.9L1064.1 370.9L1063.8 388.6L1064.6 388.6L1064.1 378.1L1064.8 378.1L1064.3 373.0L1065.1 373.0L1064.8 369.2L1065.4 369.2L1065.3 367.1L1065.9 367.1L1065.8 365.1L1066.4 365.1L1066.3 348.9L1067.0 348.9L1067.0 350.6L1067.5 350.6L1067.7 360.6L1068.2 360.6L1068.4 353.4L1069.0 353.4L1069.4 365.0L1069.9 365.0L1070.4 356.9"/><path d="M1078.5 385.2L1079.5 403.0L1080.2 403.0L1080.5 392.4L1081.1 392.4L1081.2 407.5L1082.1 407.5L1081.8 399.4L1082.4 399.4L1082.5 388.2L1083.3 388.2L1083.5 404.5L1084.2 404.5L1084.5 416.2L1085.3 416.2L1085.5 409.3L1086.4 409.3L1086.5 412.3L1087.4 412.3L1087.0 417.1L1087.6 417.1L1087.6 430.8L1088.4 430.8L1088.1 421.2L1088.9 421.2L1088.6 426.1L1089.3 426.1L1089.0 427.1L1089.7 427.1L1089.4 431.7L1090.1 431.7L1089.8 436.2L1090.4 436.2L1090.2 438.5L1090.9 438.5L1090.6 435.5L1091.2 435.5L1091.3 455.7L1091.8 455.7L1091.9 441.5L1092.7 441.5L1092.6 460.2L1093.4 460.2L1093.3 456.1L1094.0 456.1L1093.9 459.1L1094.6 459.1L1094.6 460.1"/><path d="M1078.5 460.1L1078.7 443.2L1079.4 443.2L1079.0 453.7L1079.9 453.7L1079.2 437.8L1079.9 437.8L1079.5 460.2L1080.1 460.2L1080.5 447.7L1081.1 447.7L1081.5 432.9L1082.0 432.9L1081.7 452.6L1082.3 452.6L1081.9 447.9L1082.5 447.9L1082.2 435.3L1083.0 435.3L1082.4 432.7L1083.3 432.7L1082.6 420.8L1083.2 420.8L1082.8 426.9L1083.6 426.9L1083.1 429.6L1083.8 429.6L1083.3 419.7L1084.0 419.7L1083.5 418.7L1084.0 418.7L1083.9 404.1L1084.4 404.1L1084.3 411.9L1084.9 411.9L1084.7 399.5L1085.4 399.5L1085.1 413.4L1085.8 413.4L1085.5 402.5L1086.2 402.5L1086.5 393.3L1087.2 393.3L1087.6 396.9L1088.2 396.9L1088.6 405.4L1089.2 405.4L1089.6 405.4L1090.2 405.4L1090.6 393.3L1091.2 393.3L1091.6 405.4L1092.1 405.4L1092.6 399.9L1093.2 399.9L1093.6 404.9L1094.2 404.9L1093.9 395.2L1094.6 395.2L1094.1 398.2L1094.9 398.2L1094.4 391.2L1095.2 391.2L1094.6 394.2L1095.3 394.2L1094.9 377.1L1095.4 377.1L1095.1 385.1L1096.0 385.1L1095.4 377.3L1095.9 377.3L1095.6 373.2L1096.5 373.2L1095.8 378.0L1096.6 378.0L1096.0 371.4L1096.5 371.4L1096.2 371.0L1096.9 371.0L1096.4 366.6L1096.9 366.6L1096.6 356.9"/><path d="M1110.8 460.1L1111.4 461.2L1112.2 461.2L1112.1 444.2L1113.0 444.2L1112.8 438.9L1113.6 438.9L1113.5 437.7L1114.0 437.7L1114.1 444.7L1115.0 444.7L1114.8 433.7L1115.7 433.7L1115.8 433.7L1116.6 433.7L1116.8 449.2L1117.5 449.2L1117.8 433.7L1118.5 433.7L1118.9 445.7L1119.5 445.7L1119.9 437.1L1120.7 437.1L1120.9 445.7L1121.6 445.7L1121.9 442.5L1122.4 442.5L1122.9 443.5L1123.8 443.5L1123.9 437.7L1124.7 437.7L1124.9 444.1L1125.6 444.1L1125.9 449.0L1126.5 449.0L1126.9 448.9L1127.8 448.9L1127.9 450.3L1128.8 450.3L1128.9 453.3L1129.9 453.3L1130.0 452.7L1130.7 452.7L1131.0 454.3L1131.5 454.3L1132.0 453.3L1132.6 453.3L1133.0 443.8L1133.7 443.8L1134.0 457.9L1134.8 457.9L1135.0 437.7L1135.6 437.7L1136.0 437.7L1136.8 437.7L1137.0 437.7L1137.6 437.7L1138.0 451.8L1138.8 451.8L1139.0 441.7"/><path d="M773.2 644.4L774.3 640.4L775.0 640.4L775.4 652.8L776.2 652.8L776.5 652.8L777.2 652.8L777.7 647.6L778.3 647.6L778.8 657.3L779.3 657.3L779.9 652.7L780.7 652.7L781.0 644.8L781.5 644.8L782.1 653.1L782.8 653.1L783.2 656.6L784.1 656.6L784.3 659.0L784.9 659.0L785.4 663.0L786.0 663.0L786.5 659.2L787.2 659.2L787.6 660.4L788.2 660.4L788.8 674.3L789.6 674.3L789.9 668.5L790.8 668.5L791.0 663.8L791.5 663.8L791.7 684.3L792.3 684.3L792.5 678.4L793.3 678.4L793.2 685.6L793.8 685.6L793.9 669.4L794.6 669.4L794.7 685.5L795.3 685.5L795.4 692.4L796.1 692.4L796.2 708.5L796.7 708.5L796.9 711.3L797.5 711.3L797.6 700.8L798.3 700.8L798.5 712.8L799.2 712.8L799.4 710.5L800.3 710.5L800.3 691.6L800.8 691.6L801.2 701.0L802.1 701.0L802.1 688.2L802.6 688.2L802.9 693.9L803.5 693.9L803.7 692.0L804.6 692.0L804.6 689.1L805.4 689.1L805.4 682.6L806.3 682.6L806.5 695.0L807.4 695.0L807.6 685.1L808.5 685.1L808.7 674.3L809.5 674.3L809.6 660.4L810.2 660.4L810.4 669.3L810.9 669.3L811.2 667.8L812.0 667.8L812.1 660.4L812.5 660.4L813.2 660.4L814.0 660.4L814.3 660.4L815.1 660.4L815.4 660.4L815.9 660.4L816.5 660.4L817.1 660.4L817.6 664.0L818.4 664.0L818.7 660.4L819.6 660.4L819.8 677.3L820.7 677.3L820.6 681.6L821.1 681.6L821.3 664.9L822.1 664.9L822.1 670.7L822.6 670.7L822.6 693.8L823.5 693.8L823.2 686.6L823.7 686.6L823.7 690.9L824.4 690.9L824.3 693.5L824.8 693.5L825.4 706.1L826.1 706.1L826.5 684.8L827.4 684.8L827.6 690.4L828.2 690.4L828.7 702.1L829.3 702.1L829.5 700.1L830.1 700.1L830.2 706.1L831.0 706.1L830.9 686.8L831.8 686.8L831.7 700.2L832.6 700.2L832.4 672.4L832.9 672.4L833.2 681.5L834.0 681.5L833.5 670.4L834.4 670.4L833.8 683.9L834.6 683.9L834.1 678.6L835.0 678.6L834.4 656.2L835.3 656.2L834.7 658.9L835.5 658.9L835.1 662.5L835.7 662.5L835.4 653.7L836.1 653.7L836.5 657.7L837.3 657.7L837.6 658.5L838.2 658.5L837.9 660.1L838.5 660.1L838.2 664.5L839.1 664.5L838.6 676.6L839.2 676.6L838.9 662.4L839.6 662.4L839.2 674.2L839.8 674.2L839.5 667.2L840.3 667.2L839.8 683.9L840.5 683.9L840.1 675.7L840.8 675.7L840.3 660.6L840.8 660.6L840.6 655.2L841.3 655.2L840.8 665.4L841.7 665.4L841.1 657.2L842.0 657.2L841.3 660.6L842.2 660.6L841.5 656.8L842.3 656.8L841.8 653.1L842.3 653.1L842.0 649.7L842.8 649.7L842.3 644.3L842.9 644.3L842.5 631.8L843.4 631.8L842.8 627.1L843.6 627.1L843.0 645.1L843.5 645.1L843.3 643.4L844.2 643.4L843.5 639.4L844.1 639.4L843.8 634.2L844.4 634.2L844.0 627.9L844.8 627.9L844.3 619.9"/><path d="M527.2 365.3L528.6 355.9L529.2 355.9L529.6 363.6L530.5 363.6L530.6 355.9L531.4 355.9L531.6 360.3L532.4 360.3L532.7 361.8L533.3 361.8L533.3 358.3L533.8 358.3L533.8 359.9L534.7 359.9L534.4 362.0L535.1 362.0L535.0 348.8L535.8 348.8L535.6 342.4L536.1 342.4L536.2 340.0L536.8 340.0L536.8 340.0L537.2 340.0L537.2 333.7L538.1 333.7L537.7 332.0L538.4 332.0L538.1 344.1L538.8 344.1L538.9 331.3L539.7 331.3L539.8 336.0L540.6 336.0L540.6 338.1L541.1 338.1L541.4 350.2L542.2 350.2L542.2 350.2L542.8 350.2L543.0 327.0L543.9 327.0L543.8 349.4L544.6 349.4L544.7 335.4L545.4 335.4L545.5 334.8L546.0 334.8L546.3 325.9L547.1 325.9L547.3 325.9L548.1 325.9L548.3 334.4L549.2 334.4L549.4 339.3L550.3 339.3L550.4 334.9L551.2 334.9L551.4 334.8L552.0 334.8L552.4 327.4L553.2 327.4L553.5 338.8L554.1 338.8L554.5 342.1L555.3 342.1L554.7 329.9L555.3 329.9L554.9 334.4L555.5 334.4L555.1 337.9L555.9 337.9L555.3 326.0L556.1 326.0L555.4 335.7L556.2 335.7L555.6 332.4L556.2 332.4L555.8 316.0L556.7 316.0L556.9 321.0L557.4 321.0L557.9 315.0L558.6 315.0L558.9 321.9L559.6 321.9L559.9 313.2L560.5 313.2L561.0 304.8L561.8 304.8L562.1 301.4L563.0 301.4L563.2 322.0L563.9 322.0L564.3 301.4L565.1 301.4L565.4 315.1L566.3 315.1L565.6 301.4L566.2 301.4L565.9 311.0L566.4 311.0L566.1 308.3L566.6 308.3L566.4 319.4L566.9 319.4L566.6 309.0L567.3 309.0L566.9 324.9L567.6 324.9L567.1 326.3L568.0 326.3L567.4 326.0L568.0 326.0L567.6 335.7L568.4 335.7L567.9 336.8L568.6 336.8L568.1 327.4L569.0 327.4L568.6 344.8L569.1 344.8L569.2 334.7L570.0 334.7L569.7 329.4L570.6 329.4L570.3 314.9L570.9 314.9L570.8 324.4L571.6 324.4L571.2 311.9L571.9 311.9L571.5 329.2L572.2 329.2L571.8 298.9L572.7 298.9L572.2 300.3L572.7 300.3L572.5 296.7L573.1 296.7L572.9 305.1L573.5 305.1L573.2 286.6L574.1 286.6L573.6 299.4L574.4 299.4L573.9 305.4L574.7 305.4L574.3 295.5L575.1 295.5L574.7 300.4L575.5 300.4L575.1 288.9L575.7 288.9L575.5 282.9L576.2 282.9L575.9 282.7L576.8 282.7L576.3 293.1L577.0 293.1L577.3 280.8L578.0 280.8L578.3 281.4L579.1 281.4L579.3 278.3L579.9 278.3L580.4 284.8L581.2 284.8L580.6 284.8L581.4 284.8L580.9 284.8L581.5 284.8L581.2 258.1L582.1 258.1L581.5 261.0L582.1 261.0L581.7 262.6L582.2 262.6L581.9 260.7L582.8 260.7L582.0 258.7L582.5 258.7L582.2 265.8L583.0 265.8L582.3 265.3L583.2 265.3L582.5 235.5L583.2 235.5L582.6 229.7L583.3 229.7L582.8 229.8L583.6 229.8L582.9 238.2L583.8 238.2L583.1 224.7L583.6 224.7L584.0 215.5L584.9 215.5L584.9 222.0L585.5 222.0L585.8 225.4L586.6 225.4L586.0 204.7L586.7 204.7L586.3 206.2L586.8 206.2L586.5 228.1L587.3 228.1L586.7 210.0L587.4 210.0L587.0 209.1L587.6 209.1L587.2 204.5"/><path d="M521.8 387.1L522.9 377.7L523.6 377.7L523.9 385.7L524.9 385.7L525.0 391.1L525.8 391.1L526.1 377.7L526.7 377.7L527.2 377.7L528.1 377.7L528.4 382.1L529.2 382.1L529.5 383.4L530.0 383.4L530.6 391.1L531.2 391.1L531.8 378.2L532.3 378.2L532.9 386.3L533.7 386.3L534.0 391.1L534.7 391.1L535.1 383.9L536.0 383.9L536.2 375.5L537.0 375.5L537.3 391.1L537.8 391.1L538.4 380.0L539.2 380.0L539.5 379.4L540.0 379.4L540.5 372.3L541.3 372.3L541.5 377.3L542.1 377.3L542.5 376.8L543.1 376.8L543.6 372.3L544.3 372.3L544.5 382.9L545.3 382.9L545.4 377.5L546.3 377.5L546.3 368.8L547.1 368.8L547.4 361.1L548.0 361.1L548.5 373.3L549.0 373.3L549.6 353.1L550.4 353.1L550.7 353.1L551.2 353.1L551.7 353.1L552.2 353.1L552.4 360.6L553.3 360.6L553.1 353.1L553.9 353.1L553.8 365.2L554.6 365.2L554.5 382.4L555.1 382.4L555.2 383.8L555.9 383.8L555.8 385.7L556.5 385.7L556.5 377.3L557.0 377.3L557.2 381.6L557.9 381.6L558.2 381.7L558.9 381.7L559.2 377.7L560.1 377.7L560.3 388.4L561.0 388.4L561.3 378.2L562.0 378.2L561.6 374.7L562.4 374.7L561.9 376.1L562.5 376.1L562.2 373.7L563.1 373.7L562.5 354.9L563.3 354.9L562.9 361.8L563.3 361.8L563.2 362.6L564.0 362.6L563.5 349.6L564.3 349.6L563.8 349.9L564.7 349.9L564.1 364.7L564.8 364.7L564.4 359.9L565.2 359.9L564.7 340.2L565.3 340.2L565.1 352.7L565.9 352.7L565.4 331.3L565.8 331.3L566.4 344.8L567.3 344.8L567.4 331.3L568.1 331.3L568.4 336.6L569.1 336.6L569.5 331.3L570.2 331.3L569.9 352.5L570.6 352.5L570.3 340.1L570.8 340.1L570.7 333.0L571.2 333.0L571.1 360.1L571.7 360.1L571.5 342.2L572.0 342.2L571.9 345.5L572.7 345.5L572.3 357.8L573.2 357.8L572.7 354.8L573.4 354.8L573.1 364.4L573.9 364.4L573.6 372.0L574.5 372.0L573.9 354.6L574.4 354.6L574.2 349.4L575.1 349.4L574.6 356.3L575.1 356.3L574.9 346.0L575.8 346.0L575.3 351.5L576.0 351.5L575.6 336.8L576.3 336.8L575.9 353.5L576.7 353.5L576.3 341.0L576.9 341.0L577.4 339.2L578.2 339.2L578.5 328.1L578.9 328.1L579.5 325.5L580.3 325.5L580.6 339.0L581.1 339.0L581.7 315.0L582.5 315.0L583.1 321.4L583.6 321.4L584.5 315.0L585.1 315.0L584.7 315.0L585.2 315.0L585.0 326.5L585.9 326.5L585.3 329.8L585.9 329.8L585.5 339.8L586.3 339.8L585.8 323.1L586.3 323.1L586.1 326.1L586.9 326.1L586.4 343.1L587.1 343.1L586.6 343.9L587.4 343.9L586.9 356.1L587.7 356.1L587.2 364.8L587.7 364.8L587.5 348.3L587.9 348.3L587.7 358.5L588.6 358.5L588.0 369.0L588.5 369.0L588.3 351.7L589.1 351.7L588.5 353.4L589.0 353.4L589.6 359.0L590.1 359.0L590.6 347.7L591.2 347.7L591.6 354.3L592.2 354.3L592.6 366.0L593.2 366.0L592.9 337.5L593.5 337.5L593.2 357.0L593.7 357.0L593.4 353.9L594.1 353.9L593.7 349.4L594.4 349.4L594.0 339.7L594.6 339.7L594.3 338.2L595.1 338.2L594.5 335.0L595.2 335.0L594.8 324.7L595.3 324.7L595.1 319.1L595.7 319.1L595.4 338.2L595.9 338.2L595.7 322.1L596.5 322.1L596.0 319.6L596.7 319.6L596.3 313.2L597.0 313.2L596.6 324.0L597.2 324.0L596.9 306.3L597.6 306.3L597.2 304.5L598.1 304.5L597.5 302.9L598.2 302.9L597.8 306.5L598.4 306.5L598.1 283.0L598.5 283.0L599.1 292.0L599.6 292.0L600.1 291.9L600.7 291.9L601.1 282.2L601.8 282.2L602.2 298.5L602.8 298.5L603.1 296.6L603.7 296.6L604.0 277.5L604.7 277.5L604.9 263.2L605.4 263.2L605.8 285.8L606.3 285.8L606.7 281.9L607.5 281.9L607.6 269.0L608.1 269.0L608.2 256.6L608.9 256.6L608.7 266.5L609.2 266.5L609.3 273.4L610.2 273.4L609.8 252.8L610.7 252.8L610.3 265.6L611.1 265.6L610.5 247.3L611.4 247.3L610.7 230.6L611.4 230.6L610.9 233.6L611.5 233.6L611.1 237.0L612.0 237.0L611.3 233.4L612.2 233.4L611.5 213.9L612.2 213.9L611.7 224.6L612.4 224.6L612.1 217.5L612.9 217.5L612.5 228.0L613.4 228.0L612.9 224.4L613.5 224.4L613.3 208.5L614.0 208.5L613.7 211.3L614.6 211.3L614.0 200.5L614.9 200.5L614.4 202.7L614.9 202.7L615.3 207.1L615.9 207.1L616.3 216.2L617.0 216.2L617.2 222.1L618.0 222.1L617.6 217.8L618.1 217.8L618.1 217.7L619.0 217.7L618.5 209.4L619.4 209.4L619.0 238.0L619.5 238.0L619.4 237.7L620.1 237.7L619.9 247.3L620.6 247.3L620.6 224.3L621.2 224.3L621.2 236.7L621.7 236.7L621.9 242.2L622.5 242.2L622.6 243.9L623.1 243.9L623.4 255.9L624.1 255.9L624.2 250.3L624.9 250.3L624.9 267.4L625.8 267.4L625.7 257.8L626.3 257.8L626.5 261.1L627.3 261.1L627.3 263.5L628.2 263.5L628.1 263.2L628.7 263.2L628.3 271.4L629.2 271.4L628.6 268.5L629.4 268.5L628.8 263.6L629.7 263.6L629.1 278.5L629.9 278.5L629.3 284.0L630.0 284.0L629.5 277.6L630.1 277.6L629.8 278.8L630.3 278.8L630.0 292.3L630.8 292.3L630.3 306.6L630.9 306.6L630.5 300.1L631.4 300.1L630.8 301.1L631.5 301.1L631.3 306.6L632.0 306.6L631.9 290.3L632.8 290.3L632.4 277.3L632.9 277.3L633.0 305.7L633.6 305.7L633.5 298.9L634.0 298.9L634.4 284.3L634.9 284.3L635.3 294.2L636.2 294.2L636.2 276.6L636.8 276.6L637.1 280.6L637.8 280.6L638.1 276.9L638.8 276.9L639.0 280.3L639.7 280.3L639.9 265.2L640.6 265.2L640.8 255.0L641.3 255.0L641.7 257.3L642.4 257.3L642.8 263.0L643.5 263.0L643.9 245.6L644.6 245.6L645.0 257.7L645.7 257.7L646.1 241.4L646.5 241.4L647.1 245.4"/><path d="M112.4 797.0L112.4 794.1L113.3 794.1L112.6 792.1L113.3 792.1L113.0 775.0L113.8 775.0L113.5 783.7L114.2 783.7L114.0 770.2L114.6 770.2L114.5 777.7L115.1 777.7L115.0 766.0L115.8 766.0L115.5 783.2L116.2 783.2L116.0 757.1L116.9 757.1L116.5 756.0L117.1 756.0L117.0 756.0L117.7 756.0L118.0 777.8L118.7 777.8L119.0 756.0L119.7 756.0L119.2 761.4L120.1 761.4L119.5 781.0L120.0 781.0L119.8 761.5L120.3 761.5L120.0 791.5L120.5 791.5L120.2 799.5L121.0 799.5L120.5 801.5L121.0 801.5L120.8 784.7L121.5 784.7L121.0 773.7L121.7 773.7L122.0 783.1L122.5 783.1L123.0 779.2L123.9 779.2L124.0 801.9L124.6 801.9L124.3 796.9L125.2 796.9L124.7 782.9L125.2 782.9L125.0 798.1L125.7 798.1L125.3 786.3L126.0 786.3L125.7 783.4L126.5 783.4L126.0 773.4L126.7 773.4L126.3 778.4L127.0 778.4L126.7 782.2L127.2 782.2L127.0 769.9L127.9 769.9L127.4 753.6L128.1 753.6L127.8 755.4L128.3 755.4L128.2 761.5L128.8 761.5L128.6 764.0L129.3 764.0L129.0 772.6L129.9 772.6L129.3 735.0L130.2 735.0L129.7 766.8L130.5 766.8L130.0 744.5L130.6 744.5L130.3 727.5L130.9 727.5L130.7 739.2L131.2 739.2L131.0 717.4L131.9 717.4L131.4 729.8L132.0 729.8L131.8 746.1L132.4 746.1L132.2 738.0L133.1 738.0L132.6 716.7L133.1 716.7L133.0 708.0L133.6 708.0L133.3 718.6L134.2 718.6L133.7 713.6L134.6 713.6L134.0 728.7L134.6 728.7L134.3 708.7L135.0 708.7L134.7 705.1L135.2 705.1L135.0 699.4L135.8 699.4L135.7 698.6L136.3 698.6L136.3 692.6L137.2 692.6L137.0 672.0L137.5 672.0L137.5 672.0L138.3 672.0L138.0 693.0L138.8 693.0L138.5 691.0L139.1 691.0L139.0 676.5L139.8 676.5L140.3 675.1L141.1 675.1L141.7 674.1L142.3 674.1L143.0 681.0L143.6 681.0L144.3 670.0L145.2 670.0L145.7 682.7L146.5 682.7L147.0 670.0L147.8 670.0L147.8 694.0L148.7 694.0L148.5 696.3L149.4 696.3L149.2 686.6L149.8 686.6L150.0 704.0L150.6 704.0L151.0 703.3L151.5 703.3L152.0 677.3L152.5 677.3L153.0 700.3L153.5 700.3L154.0 686.0L154.8 686.0L155.0 704.0L155.8 704.0L156.0 704.0L156.8 704.0L157.0 699.2L157.7 699.2L158.0 686.0L158.6 686.0L159.0 686.0L159.9 686.0L160.0 695.0L160.5 695.0L161.0 704.0L161.5 704.0L162.0 686.0L162.7 686.0L163.0 686.0L163.5 686.0L164.0 691.7L164.7 691.7L165.0 691.1L165.6 691.1L166.0 694.4L166.6 694.4L167.0 695.4L167.8 695.4L168.0 698.5L168.6 698.5L168.6 713.1L169.4 713.1L169.2 714.6L169.7 714.6L169.8 699.8L170.6 699.8L170.4 711.0L170.9 711.0L171.0 719.0L171.6 719.0L172.0 711.9L172.6 711.9L173.0 708.7L173.6 708.7L174.0 717.1L174.8 717.1L174.6 688.2L175.5 688.2L175.2 696.8L175.8 696.8L175.8 714.6L176.6 714.6L176.4 677.7L176.9 677.7L177.0 674.5L177.7 674.5L177.6 671.0L178.4 671.0L178.2 683.0L178.9 683.0L178.8 693.9L179.3 693.9L179.4 680.0L180.1 680.0L180.0 692.7L180.5 692.7L180.4 673.2L181.2 673.2L180.8 681.9L181.6 681.9L181.1 679.3L182.0 679.3L181.5 672.3L182.1 672.3L181.9 665.8L182.6 665.8L182.2 643.3L183.0 643.3L182.6 670.8L183.4 670.8L183.0 633.4L183.8 633.4L183.3 647.7L184.1 647.7L183.7 633.1L184.3 633.1L184.0 642.1L184.8 642.1L184.3 647.9L185.0 647.9L184.7 626.0L185.2 626.0L185.0 643.0L185.9 643.0L186.0 626.0L186.5 626.0L187.0 637.0L187.8 637.0L188.0 632.2L188.8 632.2L188.5 657.1L189.0 657.1L189.0 627.2L189.8 627.2L189.5 650.9L190.1 650.9L190.0 639.7L190.5 639.7L190.5 657.7L191.2 657.7L191.0 659.1L191.5 659.1L191.7 644.7L192.2 644.7L192.3 682.9L192.8 682.9L193.0 668.6L193.6 668.6L193.7 684.0L194.3 684.0L194.3 677.8L194.9 677.8L195.0 694.0L195.9 694.0L196.3 676.0L196.9 676.0L197.7 676.0L198.5 676.0L199.0 694.0L199.9 694.0L200.3 694.0L201.2 694.0L201.7 684.6L202.3 684.6L203.0 694.0L203.6 694.0L203.7 675.8L204.3 675.8L204.3 672.9L205.2 672.9L205.0 670.2L205.8 670.2L205.7 668.1L206.2 668.1L206.3 664.0L207.0 664.0L207.0 669.7L207.8 669.7L207.3 663.0L207.9 663.0L207.7 666.9L208.4 666.9L208.0 664.6L208.9 664.6L208.3 646.0L208.9 646.0L208.7 646.8L209.3 646.8L209.0 652.4L209.8 652.4L210.0 638.0L210.7 638.0L211.0 665.0L211.9 665.0L212.0 648.9L212.6 648.9L212.8 652.3L213.6 652.3L213.6 657.8L214.4 657.8L214.4 659.0L215.1 659.0L215.2 662.9L216.1 662.9L216.0 672.0L216.8 672.0L217.3 672.0L217.9 672.0L218.7 672.0L219.2 672.0L220.0 668.2L220.8 668.2L220.6 651.9L221.5 651.9L221.1 660.6L222.0 660.6L221.7 656.1L222.2 656.1L222.3 655.1L222.8 655.1L222.9 660.9L223.6 660.9L223.4 663.3L224.1 663.3L224.0 644.4L224.5 644.4L225.3 649.0L226.2 649.0L226.7 654.0L227.3 654.0L228.0 661.4L228.5 661.4L228.6 672.2L229.3 672.2L229.1 656.6L229.8 656.6L229.7 648.6L230.6 648.6L230.3 662.8L231.2 662.8L230.9 665.4L231.6 665.4L231.4 682.0L232.0 682.0L232.0 682.0L232.6 682.0L233.3 682.0L234.1 682.0L234.7 677.4L235.3 677.4L236.0 679.9L236.6 679.9L237.3 674.0L238.2 674.0L238.7 673.8L239.4 673.8L240.0 668.6L240.8 668.6L241.0 661.1L241.7 661.1L242.0 674.0L242.9 674.0L243.0 660.4L243.8 660.4L244.0 656.4L244.8 656.4L245.0 646.0L245.6 646.0L246.2 646.3L247.0 646.3L247.5 642.0L248.4 642.0L248.8 635.6L249.4 635.6L250.0 644.4L250.6 644.4L250.5 624.6L251.2 624.6L251.0 650.0L251.7 650.0L251.5 636.4L252.3 636.4L252.0 650.0L252.5 650.0L252.5 633.3L253.1 633.3L253.0 622.0L253.6 622.0L254.2 628.2L254.8 628.2L255.5 627.6L256.4 627.6L256.8 632.0L257.6 632.0L258.0 626.0"/><path d="M112.4 797.0L112.7 804.0L113.6 804.0L113.9 786.0L114.7 786.0L115.0 804.0L115.7 804.0L116.0 796.6L116.5 796.6L117.0 786.0L117.8 786.0L118.0 788.4L118.7 788.4L118.6 794.3L119.5 794.3L119.2 786.0L119.7 786.0L119.8 786.2L120.7 786.2L120.4 786.2L121.2 786.2L121.0 792.1L121.9 792.1L122.0 801.5L122.6 801.5L123.0 798.6L123.5 798.6L124.0 797.3L124.7 797.3L124.6 799.5L125.3 799.5L125.2 787.6L126.1 787.6L125.8 771.1L126.3 771.1L126.4 783.8L127.3 783.8L127.0 778.3L127.8 778.3L128.0 786.1L128.9 786.1L129.0 792.9L129.6 792.9L130.0 766.0L130.7 766.0L131.0 756.0L131.8 756.0L132.0 772.5L132.9 772.5L133.0 779.0L133.5 779.0L134.0 776.2L134.6 776.2L135.0 765.6L135.5 765.6L136.0 751.0L136.8 751.0L137.3 771.2L138.1 771.2L138.7 764.0L139.2 764.0L140.0 754.6L140.8 754.6L141.0 750.8L141.5 750.8L142.0 748.3L142.7 748.3L143.0 746.2L143.9 746.2L144.0 746.9L144.8 746.9L145.0 737.7L145.5 737.7L146.0 745.7L146.5 745.7L146.8 759.0L147.3 759.0L147.6 736.0L148.3 736.0L148.4 739.0L149.3 739.0L149.2 727.5L149.7 727.5L150.0 723.9L150.9 723.9L150.5 721.1L151.4 721.1L151.0 723.0L151.7 723.0L151.5 711.3L152.3 711.3L152.0 735.0L152.5 735.0L152.5 714.6L153.3 714.6L153.0 726.5L153.6 726.5L153.4 718.3L154.0 718.3L153.8 723.7L154.4 723.7L154.2 711.5L154.7 711.5L154.6 722.0L155.5 722.0L155.0 703.0L155.7 703.0L155.4 702.8L156.0 702.8L155.8 687.2L156.4 687.2L156.2 707.6L157.0 707.6L156.6 702.3L157.2 702.3L157.0 689.2L157.5 689.2L157.4 689.0L158.1 689.0L157.8 682.0L158.4 682.0L158.2 666.9L158.7 666.9L158.6 684.2L159.1 684.2L159.0 682.8L159.7 682.8L159.7 670.0L160.1 670.0L160.3 682.3L161.0 682.3L161.0 667.1L161.5 667.1L162.0 663.8L162.6 663.8L163.0 659.7L163.9 659.7L164.0 655.2L164.5 655.2L165.0 648.0L165.9 648.0L166.0 659.1L166.7 659.1L167.0 648.0L167.5 648.0L168.0 648.0L168.9 648.0L169.0 648.0L169.5 648.0L170.0 654.3L170.5 654.3L171.0 668.3L171.7 668.3L172.0 650.0L172.5 650.0L172.8 650.7L173.4 650.7L173.5 650.0L174.1 650.0L174.2 662.9L174.7 662.9L175.0 668.8L175.6 668.8L176.0 670.3L176.8 670.3L177.0 675.4L177.7 675.4L178.0 664.0L178.9 664.0L178.8 671.9L179.3 671.9L179.5 682.5L180.3 682.5L180.2 680.7L181.1 680.7L181.0 681.7L181.8 681.7L182.0 694.0L182.9 694.0L183.0 690.0L183.5 690.0L184.0 706.7L184.9 706.7L185.3 705.6L185.9 705.6L186.7 708.1L187.5 708.1L188.0 699.1L188.6 699.1L189.3 708.3L190.0 708.3L190.7 714.0L191.4 714.0L192.0 706.6L192.8 706.6L193.3 701.7L194.0 701.7L194.7 702.1L195.2 702.1L196.0 709.0L196.8 709.0L197.3 686.0L198.2 686.0L198.7 704.0L199.2 704.0L200.0 686.0L200.9 686.0L201.3 692.0L201.8 692.0L202.7 686.0L203.4 686.0L204.0 701.6L204.9 701.6L204.7 691.7L205.3 691.7L205.3 696.0L206.1 696.0L206.0 721.8L206.9 721.8L206.7 719.3L207.3 719.3L207.3 717.6L208.2 717.6L208.0 729.8L208.7 729.8L208.7 710.1L209.6 710.1L209.3 716.0L210.0 716.0L210.0 730.3L210.6 730.3L210.7 733.8L211.3 733.8L211.3 749.0L211.9 749.0L212.0 749.0L212.5 749.0L213.3 743.2L213.9 743.2L214.7 744.2L215.5 744.2L216.0 747.0L216.6 747.0L216.5 739.7L217.4 739.7L217.0 730.5L217.9 730.5L217.5 734.3L218.0 734.3L218.0 733.3L218.8 733.3L218.5 728.5L219.0 728.5L219.0 728.4L219.8 728.4L219.5 715.0L220.0 715.0L220.0 718.7L220.8 718.7L221.3 717.8L222.0 717.8L222.7 724.0L223.4 724.0L224.0 733.7L224.6 733.7L224.8 725.9L225.4 725.9L225.6 720.0L226.3 720.0L226.4 734.0L227.3 734.0L227.2 728.9L228.0 728.9L228.0 742.5L228.5 742.5L228.8 715.1L229.7 715.1L229.6 746.4L230.3 746.4L230.4 737.7L231.1 737.7L231.2 726.0L231.9 726.0L232.0 726.3L232.7 726.3L232.8 749.6L233.3 749.6L233.6 751.4L234.3 751.4L234.4 741.0L234.9 741.0L235.2 757.4L236.0 757.4L236.0 764.0L236.7 764.0L237.3 754.4L237.9 754.4L238.7 764.0L239.4 764.0L240.0 736.1L240.8 736.1L240.7 746.1L241.2 746.1L241.3 732.6L242.1 732.6L242.0 740.4L242.9 740.4L242.7 737.9L243.4 737.9L243.3 717.6L244.1 717.6L244.0 728.7L244.5 728.7L245.3 734.0L246.1 734.0L246.7 733.1L247.3 733.1L248.0 734.0L248.9 734.0L249.3 724.0L249.9 724.0L250.7 711.0L251.4 711.0L252.0 713.9L252.5 713.9L253.2 712.2L254.0 712.2L254.4 712.4L255.3 712.4L255.6 719.0L256.3 719.0L256.8 706.0L257.4 706.0L258.0 710.0"/><path d="M112.4 797.0L112.4 800.4L113.2 800.4L112.8 814.0L113.3 814.0L113.4 795.2L114.1 795.2L114.0 793.0L114.6 793.0L115.0 793.0L115.6 793.0L116.0 793.0L116.8 793.0L117.0 806.0L117.6 806.0L118.0 805.1L118.7 805.1L119.0 808.9L119.5 808.9L120.0 804.9L120.7 804.9L121.0 796.0L121.5 796.0L122.0 796.0L122.8 796.0L123.0 796.0L123.5 796.0L124.0 796.0L124.9 796.0L125.3 802.7L126.0 802.7L126.7 802.4L127.3 802.4L128.0 791.0L128.8 791.0L129.3 791.0L129.9 791.0L130.7 809.0L131.4 809.0L132.0 807.2L132.8 807.2L133.3 804.0L133.9 804.0L134.7 800.6L135.4 800.6L136.0 801.3L136.7 801.3L137.3 796.4L137.9 796.4L138.7 801.1L139.4 801.1L140.0 799.1L140.6 799.1L141.3 786.0L142.1 786.0L142.7 799.0L143.3 799.0L144.0 795.4L144.9 795.4L144.8 799.0L145.4 799.0L145.6 786.8L146.5 786.8L146.4 776.0L146.9 776.0L147.2 771.0L147.8 771.0L148.0 779.2L148.7 779.2L149.3 771.0L149.8 771.0L150.7 771.0L151.4 771.0L152.0 784.0L152.8 784.0L153.3 773.7L154.0 773.7L154.7 773.7L155.4 773.7L156.0 768.2L156.6 768.2L157.3 774.0L158.2 774.0L158.7 761.7L159.1 761.7L160.0 770.0L160.8 770.0L161.3 764.0L161.9 764.0L162.7 751.0L163.6 751.0L164.0 741.0L164.5 741.0L165.3 749.9L166.1 749.9L166.7 741.3L167.4 741.3L168.0 736.0L168.7 736.0L169.3 743.6L169.9 743.6L170.7 736.0L171.5 736.0L172.0 733.2L172.6 733.2L173.3 731.0L174.2 731.0L174.7 735.3L175.5 735.3L176.0 737.0L176.5 737.0L177.3 739.0L178.0 739.0L178.7 729.4L179.5 729.4L180.0 720.3L180.8 720.3L181.3 727.3L181.9 727.3L182.7 723.2L183.3 723.2L184.0 717.9L184.6 717.9L185.3 717.3L186.0 717.3L186.7 724.0L187.5 724.0L188.0 714.4L188.7 714.4L189.3 712.6L190.0 712.6L190.7 706.0L191.2 706.0L192.0 719.0L192.8 719.0L193.3 709.8L193.9 709.8L194.7 714.0L195.4 714.0L196.0 718.2L196.7 718.2L197.3 717.5L197.9 717.5L198.7 717.7L199.3 717.7L200.0 716.2L200.7 716.2L201.3 720.7L201.9 720.7L202.7 723.4L203.2 723.4L204.0 711.0L204.9 711.0L205.3 722.9L206.1 722.9L206.7 729.0L207.3 729.0L208.0 729.0L208.9 729.0L209.3 711.0L210.0 711.0L210.7 715.8L211.4 715.8L212.0 724.0L212.8 724.0L212.8 696.0L213.4 696.0L213.6 719.0L214.1 719.0L214.4 696.0L215.0 696.0L215.2 714.4L215.9 714.4L216.0 702.2L216.6 702.2L217.3 698.5L218.1 698.5L218.7 704.0L219.4 704.0L220.0 690.9L220.9 690.9L221.3 684.8L222.2 684.8L222.7 689.5L223.3 689.5L224.0 681.1L224.6 681.1L225.3 684.1L225.8 684.1L226.7 688.9L227.2 688.9L228.0 677.4L228.8 677.4L229.3 686.0L229.9 686.0L230.7 704.0L231.3 704.0L232.0 704.0L232.9 704.0L233.3 686.0L234.0 686.0L234.7 686.0L235.1 686.0L236.0 686.0L236.7 686.0L237.3 691.1L238.2 691.1L238.7 698.1L239.5 698.1L240.0 690.9L240.5 690.9L241.3 714.0L242.1 714.0L242.7 706.5L243.5 706.5L244.0 696.0L244.5 696.0L245.3 705.4L245.9 705.4L246.7 705.2L247.5 705.2L248.0 706.2L248.5 706.2L249.3 704.0L249.9 704.0L250.7 693.7L251.3 693.7L252.0 686.0L252.7 686.0L253.2 688.7L254.0 688.7L254.4 686.0L255.1 686.0L255.6 685.6L256.2 685.6L256.8 691.0L257.5 691.0L258.0 680.0"/><path d="M112.4 797.0L112.4 793.0L113.3 793.0L112.4 793.0L112.9 793.0L112.4 816.6L113.2 816.6L112.7 821.4L113.3 821.4L113.0 814.8L113.9 814.8L113.7 801.3L114.2 801.3L114.3 821.2L115.0 821.2L115.0 823.8L115.9 823.8L115.5 837.0L116.1 837.0L116.0 833.3L116.5 833.3L116.5 823.5L117.4 823.5L117.0 849.0L117.7 849.0L118.0 849.0L118.7 849.0L119.0 828.8L119.7 828.8L119.5 842.7L120.0 842.7L120.0 837.2L120.5 837.2L120.5 849.0L121.4 849.0L121.0 822.0L121.7 822.0L122.0 839.0L122.6 839.0L123.0 828.0L123.9 828.0L124.0 834.5L124.6 834.5L125.0 835.0L125.8 835.0L126.0 821.7L126.9 821.7L127.0 818.0L127.5 818.0L128.3 830.0L128.9 830.0L129.7 818.0L130.4 818.0L131.0 820.1L131.8 820.1L132.3 820.8L132.9 820.8L133.7 820.7L134.2 820.7L135.0 815.0L135.7 815.0L136.3 820.8L136.8 820.8L137.7 825.0L138.3 825.0L139.0 812.0L139.7 812.0L140.3 812.0L141.0 812.0L141.7 823.0L142.3 823.0L143.0 815.5L143.8 815.5L144.3 814.1L145.1 814.1L145.7 814.3L146.1 814.3L147.0 814.1L147.7 814.1L148.0 814.9L148.5 814.9L149.0 813.8L149.7 813.8L150.0 806.0L150.9 806.0L151.3 819.0L151.9 819.0L152.7 809.8L153.2 809.8L154.0 802.0L154.7 802.0L155.0 817.0L155.9 817.0L156.0 806.8L156.6 806.8L157.0 814.0L157.6 814.0L158.0 791.0L158.7 791.0L159.0 800.3L159.9 800.3L160.0 799.3L160.9 799.3L161.0 800.4L161.9 800.4L162.0 790.0L162.6 790.0L163.0 795.3L163.8 795.3L164.0 784.3L164.9 784.3L165.0 804.0L165.8 804.0L166.0 795.1L166.8 795.1L166.7 791.7L167.4 791.7L167.3 799.0L167.9 799.0L168.0 793.0L168.6 793.0L168.7 771.0L169.3 771.0L169.3 771.0L169.8 771.0L170.0 787.5L170.7 787.5L171.0 773.1L171.5 773.1L172.0 771.0L172.9 771.0L173.0 782.2L173.5 782.2L174.0 778.3L174.5 778.3L175.0 787.7L175.5 787.7L176.0 772.0L176.7 772.0L177.0 772.4L177.7 772.4L178.0 792.0L178.9 792.0L179.0 785.0L179.7 785.0L180.0 788.0L180.9 788.0L181.0 787.9L181.8 787.9L182.0 785.8L182.9 785.8L183.3 789.7L183.9 789.7L184.7 793.0L185.5 793.0L186.0 791.3L186.5 791.3L187.3 785.0L187.9 785.0L188.7 791.3L189.5 791.3L190.0 785.0L190.6 785.0L191.3 789.9L191.8 789.9L192.7 787.1L193.4 787.1L194.0 789.1L194.5 789.1L195.3 793.0L196.2 793.0L196.7 786.7L197.1 786.7L198.0 788.7L198.8 788.7L199.3 785.4L199.9 785.4L200.7 783.0L201.2 783.0L202.0 786.7L202.9 786.7L203.0 787.6L203.9 787.6L204.0 795.7L204.9 795.7L205.0 788.1L205.9 788.1L205.7 804.1L206.6 804.1L206.3 790.1L207.0 790.1L207.0 788.6L207.7 788.6L207.7 805.9L208.2 805.9L208.3 802.0L208.9 802.0L209.0 786.6L209.9 786.6L209.5 811.3L210.3 811.3L210.0 802.3L210.9 802.3L210.5 813.3L211.3 813.3L211.0 817.9L211.5 817.9L211.7 819.5L212.2 819.5L212.3 805.2L212.8 805.2L213.0 818.5L213.9 818.5L214.0 812.2L214.6 812.2L215.0 834.0L215.5 834.0L215.7 814.9L216.4 814.9L216.3 810.9L217.2 810.9L217.0 823.0L217.6 823.0L218.0 810.0L218.8 810.0L219.0 816.4L219.5 816.4L220.0 827.1L220.9 827.1L221.3 810.0L222.1 810.0L222.7 816.8L223.3 816.8L224.0 814.7L224.7 814.7L225.3 822.0L225.9 822.0L226.7 822.0L227.3 822.0L228.0 819.4L228.5 819.4L229.0 814.6L229.9 814.6L230.0 822.0L230.7 822.0L230.7 816.6L231.2 816.6L231.3 815.6L231.9 815.6L232.0 822.0L232.6 822.0L232.5 798.4L233.2 798.4L233.0 797.3L233.6 797.3L233.5 786.9L234.2 786.9L234.0 788.7L234.6 788.7L234.4 788.3L235.2 788.3L234.8 784.8L235.3 784.8L235.2 782.8L236.1 782.8L235.6 780.3L236.1 780.3L236.0 774.3L236.8 774.3L236.5 764.2L237.3 764.2L237.0 761.2L237.8 761.2L237.5 754.0L238.4 754.0L238.0 754.0L238.7 754.0L239.0 752.0L239.6 752.0L240.0 761.1L240.7 761.1L241.0 752.0L241.9 752.0L242.0 752.0L242.5 752.0L243.0 752.0L243.8 752.0L244.0 762.0L244.9 762.0L245.3 757.0L246.2 757.0L246.7 754.4L247.4 754.4L248.0 757.4L248.6 757.4L249.3 760.0L250.0 760.0L250.7 755.7L251.2 755.7L252.0 760.0L252.9 760.0L253.2 760.0L254.0 760.0L254.4 757.3L255.2 757.3L255.6 754.0L256.4 754.0L256.8 760.0L257.4 760.0L258.0 756.0"/><path d="M112.4 797.0L112.4 792.6L113.2 792.6L112.8 790.7L113.4 790.7L113.4 786.0L114.1 786.0L114.0 783.9L114.7 783.9L115.0 776.0L115.5 776.0L116.0 776.0L116.7 776.0L117.0 790.1L117.9 790.1L118.0 786.5L118.9 786.5L119.0 776.0L119.5 776.0L120.0 794.0L120.8 794.0L121.0 771.0L121.7 771.0L122.0 773.4L122.6 773.4L123.0 783.0L123.5 783.0L124.0 772.4L124.7 772.4L125.0 777.9L125.9 777.9L126.0 773.8L126.6 773.8L126.8 773.0L127.4 773.0L127.6 770.8L128.3 770.8L128.4 756.0L129.3 756.0L129.2 755.8L129.9 755.8L130.0 777.6L130.9 777.6L130.8 763.1L131.7 763.1L131.6 762.3L132.2 762.3L132.4 750.0L133.0 750.0L133.2 748.8L134.1 748.8L134.0 762.6L134.8 762.6L134.8 740.1L135.5 740.1L135.6 749.0L136.5 749.0L136.4 736.1L136.9 736.1L137.2 730.8L137.9 730.8L138.0 730.6L138.6 730.6L139.3 716.0L140.2 716.0L140.7 716.0L141.2 716.0L142.0 728.8L142.7 728.8L143.3 724.0L144.1 724.0L144.7 714.3L145.4 714.3L146.0 711.3L146.7 711.3L147.3 713.8L148.0 713.8L148.7 714.0L149.2 714.0L150.0 696.0L150.6 696.0L151.3 703.7L152.2 703.7L152.7 696.0L153.4 696.0L154.0 708.2L154.5 708.2L155.3 724.0L156.2 724.0L156.7 706.0L157.3 706.0L158.0 721.6L158.7 721.6L159.3 716.5L159.8 716.5L160.7 734.0L161.3 734.0L162.0 729.9L162.8 729.9L163.3 716.0L164.1 716.0L164.7 729.9L165.4 729.9L166.0 709.8L166.6 709.8L166.8 729.0L167.6 729.0L167.6 724.0L168.2 724.0L168.4 721.3L169.3 721.3L169.2 713.9L169.9 713.9L170.0 703.5L170.9 703.5L170.8 721.1L171.5 721.1L171.6 698.7L172.5 698.7L172.4 686.0L173.2 686.0L173.2 700.7L173.8 700.7L174.0 686.0L174.9 686.0L175.3 694.9L176.1 694.9L176.7 695.0L177.5 695.0L178.0 709.7L178.8 709.7L178.8 716.8L179.6 716.8L179.6 704.9L180.4 704.9L180.4 716.0L181.0 716.0L181.2 711.3L181.9 711.3L182.0 713.3L182.7 713.3L183.3 711.0L184.1 711.0L184.7 711.0L185.4 711.0L186.0 726.9L186.5 726.9L187.3 721.4L188.0 721.4L188.7 716.0L189.3 716.0L190.0 734.0L190.7 734.0L191.3 716.2L191.9 716.2L192.7 722.0L193.2 722.0L194.0 728.6L194.9 728.6L195.3 706.0L196.1 706.0L196.7 706.0L197.1 706.0L198.0 710.0L198.6 710.0L199.3 696.0L199.9 696.0L200.7 696.0L201.4 696.0L202.0 707.9L202.8 707.9L203.3 686.0L203.9 686.0L204.7 704.0L205.4 704.0L206.0 699.3L206.8 699.3L207.3 693.4L207.9 693.4L208.7 688.0L209.2 688.0L210.0 714.0L210.8 714.0L211.3 696.0L211.8 696.0L212.7 714.0L213.4 714.0L214.0 718.1L214.5 718.1L215.3 706.0L216.1 706.0L216.7 706.0L217.5 706.0L218.0 719.0L218.5 719.0L218.8 719.0L219.6 719.0L219.6 696.6L220.3 696.6L220.4 719.0L221.0 719.0L221.2 716.6L222.0 716.6L222.0 716.3L222.8 716.3L223.3 686.0L224.3 686.0L224.7 686.0L225.4 686.0L226.0 676.6L226.7 676.6L227.3 686.0L228.1 686.0L228.7 694.0L229.5 694.0L230.0 691.9L230.6 691.9L231.3 694.0L232.2 694.0L232.7 694.0L233.4 694.0L234.0 698.9L234.7 698.9L235.3 693.2L236.2 693.2L236.7 704.0L237.3 704.0L238.0 687.3L238.5 687.3L239.3 697.0L240.1 697.0L240.7 699.7L241.3 699.7L242.0 688.2L242.5 688.2L243.3 694.0L243.8 694.0L244.7 690.2L245.4 690.2L246.0 679.2L246.6 679.2L247.3 666.0L248.0 666.0L248.7 673.9L249.5 673.9L250.0 656.2L250.5 656.2L251.3 667.8L252.0 667.8L252.7 664.7L253.3 664.7L254.0 666.4L254.9 666.4L255.3 651.0L256.1 651.0L256.7 651.0L257.4 651.0L258.0 655.0"/><path d="M245.0 652.0L246.2 645.6L246.8 645.6L247.4 656.0L248.2 656.0L248.6 640.7L249.2 640.7L249.8 656.0L250.5 656.0L251.1 628.6L251.9 628.6L252.3 637.3L252.8 637.3L253.5 639.0L254.0 639.0L254.7 626.3L255.4 626.3L255.9 636.6L256.4 636.6L257.1 636.6L257.9 636.6L258.3 623.9L259.0 623.9L259.1 637.3L259.7 637.3L259.9 628.5L260.5 628.5L260.6 620.4L261.6 620.4L261.4 646.0L262.1 646.0L262.2 646.0L263.0 646.0L263.0 646.0L263.5 646.0L264.0 640.2L264.5 640.2L265.0 638.0L265.9 638.0L266.0 644.7L266.8 644.7L267.0 630.8L267.7 630.8L268.0 640.2L268.8 640.2L268.6 631.8L269.1 631.8L269.2 631.8L270.1 631.8L269.8 617.8L270.3 617.8L270.4 611.3L271.2 611.3L271.6 608.8L272.4 608.8L272.8 602.0L273.4 602.0L273.6 608.0L274.2 608.0L274.5 613.5L275.1 613.5L275.3 614.3L275.9 614.3L275.8 607.8L276.7 607.8L276.3 635.9L277.1 635.9L276.7 613.9L277.6 613.9L277.2 617.4L277.8 617.4L277.7 632.2L278.2 632.2L278.5 631.2L279.3 631.2L279.2 623.9L279.7 623.9L280.0 622.2L280.9 622.2L281.2 619.4L281.7 619.4L282.5 616.7L283.3 616.7L283.7 615.8L284.2 615.8L284.9 604.4L285.7 604.4L286.2 613.1L286.7 613.1L287.4 620.2L288.1 620.2L288.6 604.4L289.3 604.4L289.8 604.4L290.5 604.4L290.4 629.7L291.1 629.7L291.0 604.4L291.6 604.4L291.6 604.4L292.3 604.4L292.2 624.0L292.9 624.0L293.0 636.6L293.7 636.6L293.8 630.6L294.4 630.6L294.6 648.8L295.1 648.8L295.6 634.1L296.3 634.1L296.6 636.3L297.2 636.3L297.5 651.0L298.1 651.0L298.5 642.3L299.2 642.3L299.5 630.7L300.1 630.7L300.7 645.2L301.3 645.2L301.9 631.5L302.7 631.5L303.1 649.5L303.9 649.5L304.3 642.4L305.1 642.4L304.9 646.3L305.6 646.3L305.5 629.7L306.1 629.7L306.1 632.9L306.8 632.9L306.7 628.8L307.4 628.8L307.9 630.1L308.7 630.1L309.1 635.6L310.0 635.6L310.4 627.6L311.1 627.6L311.6 618.9L312.1 618.9L312.4 614.0L313.2 614.0L313.2 622.8L313.8 622.8L314.0 631.8L314.5 631.8L315.2 623.9L315.7 623.9L316.4 605.3L316.9 605.3L317.6 614.2L318.3 614.2L318.8 597.6L319.6 597.6L320.1 614.8L320.6 614.8L321.3 614.8L322.0 614.8L322.1 614.8L322.8 614.8L322.9 598.9L323.6 598.9L323.7 589.8L324.6 589.8L324.2 605.6L324.9 605.6L324.6 581.6L325.4 581.6L325.1 586.4L325.9 586.4L325.5 600.3L326.3 600.3L326.0 575.4L326.9 575.4L327.2 592.1L327.8 592.1L328.5 589.4L329.2 589.4L329.1 576.4L329.8 576.4L329.8 580.5L330.2 580.5L330.4 593.0L331.0 593.0L331.0 598.0L331.6 598.0L332.2 593.7L333.1 593.7L333.4 585.3L334.3 585.3L334.6 585.0L335.3 585.0L335.8 602.7L336.4 602.7L336.6 602.7L337.2 602.7L337.4 602.7L338.3 602.7L338.2 600.5L339.1 600.5L339.4 597.0L339.9 597.0L340.6 585.0L341.5 585.0L341.8 602.7L342.7 602.7L343.0 602.7L343.7 602.7L344.2 592.0L345.0 592.0L345.4 582.6L346.1 582.6L346.7 593.5L347.2 593.5L347.9 600.3L348.4 600.3L348.5 599.5L349.4 599.5L349.1 600.3L349.9 600.3L349.7 580.2L350.4 580.2L350.3 586.0L351.2 586.0L351.5 575.4L352.4 575.4L352.6 580.0L353.2 580.0L353.8 579.0L354.7 579.0L355.0 570.5L355.8 570.5L356.3 575.0L356.9 575.0L357.6 570.5L358.2 570.5L358.8 577.3L359.6 577.3L360.0 560.8L360.8 560.8L361.2 576.5L361.7 576.5L362.4 567.9L363.0 567.9L363.0 574.3L363.7 574.3L363.6 560.0L364.2 560.0L364.2 581.0L364.9 581.0L364.8 581.0L365.3 581.0L365.4 577.4L366.2 577.4L366.0 572.9L366.6 572.9L367.2 552.0L367.9 552.0L368.4 568.8L369.2 568.8L369.6 568.8L370.2 568.8L370.8 555.7L371.5 555.7L372.0 560.0L372.5 560.0L373.1 556.4L373.7 556.4L374.3 553.9L375.2 553.9L375.4 550.0L376.3 550.0L376.6 556.3L377.3 556.3L377.7 558.6L378.2 558.6L378.9 558.3L379.4 558.3L380.0 554.0"/><path d="M245.0 673.8L246.2 677.8L247.0 677.8L247.4 677.8L248.3 677.8L248.6 657.7L249.3 657.7L249.8 675.5L250.6 675.5L251.0 665.7L251.8 665.7L252.2 652.8L253.0 652.8L253.5 665.7L254.4 665.7L254.7 665.7L255.4 665.7L255.9 648.0L256.4 648.0L257.1 653.4L257.8 653.4L258.3 660.8L259.1 660.8L259.5 648.0L260.0 648.0L260.7 662.0L261.4 662.0L261.9 665.7L262.7 665.7L263.2 648.0L264.0 648.0L264.4 648.0L264.9 648.0L265.6 657.7L266.3 657.7L266.8 667.5L267.5 667.5L268.0 675.4L268.6 675.4L269.2 657.7L270.1 657.7L270.4 675.4L271.3 675.4L271.6 667.1L272.3 667.1L272.8 664.7L273.4 664.7L274.0 666.1L274.9 666.1L275.2 652.8L275.7 652.8L276.4 658.9L277.2 658.9L277.7 658.5L278.2 658.5L278.9 657.3L279.7 657.3L280.1 650.4L280.6 650.4L281.3 650.4L282.1 650.4L282.5 650.4L283.0 650.4L283.7 643.0L284.2 643.0L284.9 643.0L285.6 643.0L286.1 643.0L287.0 643.0L287.4 658.4L288.0 658.4L288.6 646.0L289.1 646.0L289.8 639.1L290.6 639.1L291.0 645.2L291.6 645.2L292.2 651.0L292.7 651.0L293.4 651.0L294.2 651.0L294.6 646.3L295.3 646.3L295.9 646.3L296.5 646.3L297.1 646.3L297.9 646.3L298.3 646.3L298.9 646.3L299.5 639.9L300.1 639.9L300.7 639.8L301.2 639.8L301.9 639.3L302.5 639.3L303.1 646.3L303.7 646.3L304.3 646.3L304.9 646.3L305.6 645.5L306.2 645.5L306.8 643.4L307.5 643.4L308.0 643.5L308.8 643.5L309.2 636.6L310.0 636.6L310.4 636.6L311.3 636.6L311.6 631.5L312.5 631.5L312.8 636.6L313.3 636.6L314.0 619.0L314.9 619.0L315.2 631.8L316.0 631.8L316.4 631.8L317.1 631.8L317.6 628.4L318.1 628.4L318.8 631.1L319.7 631.1L320.1 641.5L320.5 641.5L321.3 641.5L321.7 641.5L322.5 635.2L323.2 635.2L323.5 633.5L324.0 633.5L324.4 645.3L325.2 645.3L325.4 652.9L326.0 652.9L326.3 651.2L327.1 651.2L327.3 641.5L327.9 641.5L328.5 648.0L329.3 648.0L329.7 648.0L330.5 648.0L330.9 648.0L331.8 648.0L332.1 658.0L332.8 658.0L333.3 665.3L333.9 665.3L334.6 652.8L335.4 652.8L335.8 661.4L336.6 661.4L337.0 660.0L337.5 660.0L338.2 670.5L339.0 670.5L339.4 665.7L340.1 665.7L340.2 662.4L340.7 662.4L341.0 652.8L341.5 652.8L341.8 664.3L342.3 664.3L342.8 655.8L343.4 655.8L343.8 649.4L344.6 649.4L344.7 647.6L345.4 647.6L345.7 647.2L346.3 647.2L346.7 655.8L347.2 655.8L347.9 641.5L348.4 641.5L349.1 633.5L350.0 633.5L350.3 633.5L350.9 633.5L351.5 633.5L352.2 633.5L352.5 640.7L353.4 640.7L353.5 636.2L354.3 636.2L354.4 656.0L355.1 656.0L355.4 633.5L356.3 633.5L356.4 653.7L357.3 653.7L357.6 638.3L358.2 638.3L358.8 648.6L359.6 648.6L360.0 638.3L360.5 638.3L361.2 656.0L361.8 656.0L362.0 646.3L362.7 646.3L362.8 644.2L363.5 644.2L363.6 630.5L364.4 630.5L364.4 644.8L365.3 644.8L365.2 624.1L366.0 624.1L366.0 614.0L366.7 614.0L367.2 620.5L367.9 620.5L368.4 620.9L368.9 620.9L369.7 620.6L370.3 620.6L370.9 620.1L371.6 620.1L372.1 622.0L372.6 622.0L373.3 612.9L374.0 612.9L374.5 622.0L375.0 622.0L375.7 602.0L376.5 602.0L376.9 602.0L377.8 602.0L378.1 607.0L378.9 607.0L379.4 612.4L380.3 612.4L380.6 606.5L381.1 606.5L381.8 606.2L382.5 606.2L383.0 603.2L383.8 603.2L384.2 617.3L384.7 617.3L385.4 615.5L386.3 615.5L386.6 616.2L387.3 616.2L387.8 608.9L388.3 608.9L389.0 605.1L389.5 605.1L390.2 593.5L391.1 593.5L391.4 605.0L392.1 605.0L392.6 600.2L393.5 600.2L393.8 595.4L394.3 595.4L395.0 595.0L395.7 595.0L396.2 596.1L396.9 596.1L397.5 587.5L398.4 587.5L398.8 593.2L399.3 593.2L400.0 585.0L400.6 585.0L401.2 595.5L402.0 595.5L402.5 589.0L403.4 589.0L403.8 590.1L404.7 590.1L405.0 589.0"/><path d="M385.4 590.0L386.6 591.7L387.1 591.7L387.8 586.0L388.6 586.0L389.0 601.2L389.8 601.2L390.2 609.9L391.1 609.9L390.8 592.3L391.4 592.3L391.4 617.9L391.9 617.9L392.1 599.3L392.6 599.3L392.7 609.8L393.3 609.8L393.3 598.8L393.8 598.8L393.9 615.3L394.4 615.3L394.4 620.8L395.2 620.8L395.0 609.4L395.5 609.4L395.2 640.6L395.7 640.6L395.4 630.3L396.0 630.3L395.6 646.4L396.3 646.4L395.7 633.7L396.6 633.7L395.9 645.2L396.4 645.2L396.1 642.3L397.0 642.3L396.3 633.4L396.9 633.4L396.6 656.5L397.3 656.5L396.9 652.4L397.5 652.4L397.2 654.1L397.9 654.1L397.5 665.5L398.1 665.5L398.7 658.3L399.4 658.3L399.8 655.5L400.3 655.5L401.0 676.0L401.8 676.0L402.3 670.7L403.0 670.7L403.6 674.3L404.5 674.3L405.0 676.0"/><path d="M245.0 715.0L246.2 711.2L247.0 711.2L247.4 719.0L248.1 719.0L248.7 708.2L249.5 708.2L249.9 719.0L250.5 719.0L251.1 701.2L251.8 701.2L252.3 709.2L253.1 709.2L253.5 705.4L254.0 705.4L254.7 691.6L255.5 691.6L255.9 699.8L256.6 699.8L257.1 691.9L257.7 691.9L258.3 691.6L258.9 691.6L259.5 691.6L260.1 691.6L260.7 690.0L261.6 690.0L261.9 693.4L262.5 693.4L263.1 683.0L264.0 683.0L264.4 688.2L264.9 688.2L265.6 689.3L266.1 689.3L266.8 690.0L267.6 690.0L268.0 690.0L268.6 690.0L269.2 682.4L270.0 682.4L270.4 672.2L271.2 672.2L271.6 690.0L272.4 690.0L272.8 679.3L273.6 679.3L274.0 672.2L274.6 672.2L275.2 671.8L276.0 671.8L276.4 680.2L276.9 680.2L277.6 680.2L278.3 680.2L278.9 673.0L279.6 673.0L280.1 669.8L280.9 669.8L281.3 677.8L281.8 677.8L282.5 669.8L283.3 669.8L283.7 684.9L284.5 684.9L285.0 679.6L285.6 679.6L286.2 669.8L286.9 669.8L287.4 675.8L288.1 675.8L288.6 677.0L289.1 677.0L289.8 693.3L290.6 693.3L291.0 679.6L291.6 679.6L292.2 694.7L293.1 694.7L293.4 680.7L294.1 680.7L294.4 694.6L295.0 694.6L295.4 697.0L295.9 697.0L296.3 697.7L296.9 697.7L297.3 700.0L298.2 700.0L298.3 718.5L298.8 718.5L299.5 721.3L300.3 721.3L300.7 701.2L301.5 701.2L301.9 715.7L302.5 715.7L303.1 708.7L303.9 708.7L304.3 714.2L305.2 714.2L305.6 709.1L306.0 709.1L306.8 707.0L307.5 707.0L308.0 715.8L308.7 715.8L308.6 702.6L309.5 702.6L309.2 698.2L309.7 698.2L309.8 705.4L310.6 705.4L310.4 700.6L311.1 700.6L311.6 700.7L312.2 700.7L312.8 685.2L313.3 685.2L314.0 694.5L314.6 694.5L315.2 694.7L316.0 694.7L316.4 679.5L317.3 679.5L317.6 684.1L318.5 684.1L318.3 687.1L318.8 687.1L319.0 703.6L319.9 703.6L319.7 704.9L320.6 704.9L320.4 711.5L321.1 711.5L321.1 685.9L322.0 685.9L321.8 714.0L322.3 714.0L322.5 712.1L323.3 712.1L323.7 714.0L324.4 714.0L324.9 706.0L325.8 706.0L326.1 714.0L326.7 714.0L327.3 710.7L328.2 710.7L328.5 725.5L329.2 725.5L329.8 703.7L330.5 703.7L331.0 727.1L331.5 727.1L331.2 719.3L332.0 719.3L331.4 724.3L332.1 724.3L331.7 708.6L332.4 708.6L331.9 728.6L332.7 728.6L332.1 723.2L332.8 723.2L333.3 725.4L334.2 725.4L334.6 709.4L335.4 709.4L335.8 733.5L336.5 733.5L337.0 729.5L337.6 729.5L338.2 738.3L339.0 738.3L339.4 732.5L340.2 732.5L340.6 738.3L341.3 738.3L341.8 734.4L342.6 734.4L343.0 736.7L343.6 736.7L344.2 748.0L344.9 748.0L345.5 748.0L346.3 748.0L346.7 748.0L347.6 748.0L347.9 743.4L348.4 743.4L349.1 748.0L349.7 748.0L350.3 748.0L351.0 748.0L351.5 730.3L352.1 730.3L352.7 739.0L353.5 739.0L353.9 738.9L354.5 738.9L355.2 730.3L355.9 730.3L356.4 748.0L357.1 748.0L357.6 748.0L358.2 748.0L358.8 730.3L359.3 730.3L360.0 748.0L360.6 748.0L361.2 742.6L361.9 742.6L362.4 752.8L363.2 752.8L363.6 740.0L364.3 740.0L364.8 740.0L365.5 740.0L366.0 757.7L366.6 757.7L367.2 752.2L368.0 752.2L368.4 757.7L369.0 757.7L369.7 744.8L370.5 744.8L370.9 744.8L371.4 744.8L372.1 754.7L372.9 754.7L373.3 749.7L373.8 749.7L374.5 749.7L375.2 749.7L375.7 769.8L376.6 769.8L376.9 754.5L377.8 754.5L378.1 769.8L378.9 769.8L379.4 769.8L380.3 769.8L380.6 764.5L381.2 764.5L381.8 761.8L382.5 761.8L383.0 772.2L383.6 772.2L384.2 761.8L385.0 761.8L385.4 766.0L386.2 766.0L386.6 767.7L387.1 767.7L387.8 772.2L388.6 772.2L389.0 761.9L389.5 761.9L390.2 772.2L390.7 772.2L391.2 745.9L391.8 745.9L392.1 755.0L393.0 755.0L393.1 749.2L393.8 749.2L394.0 733.0L395.0 733.0L395.0 742.5L395.5 742.5L395.8 725.5L396.4 725.5L396.7 748.0L397.4 748.0L397.5 732.7L398.4 732.7L398.3 731.4L398.8 731.4L399.2 726.6L400.0 726.6L400.0 732.2L400.7 732.2L400.4 721.8L401.0 721.8L400.8 718.4L401.3 718.4L401.1 731.1L402.1 731.1L401.5 697.4L402.3 697.4L401.9 719.6L402.5 719.6L402.3 721.5L402.8 721.5L403.2 701.0L403.7 701.0L404.1 699.6L404.6 699.6L405.0 695.6"/><path d="M245.0 753.7L246.2 757.7L246.7 757.7L247.4 753.5L247.9 753.5L248.6 746.1L249.3 746.1L249.8 757.7L250.5 757.7L251.1 751.6L251.7 751.6L252.3 740.0L252.8 740.0L253.5 740.0L254.2 740.0L254.7 748.0L255.2 748.0L255.9 746.8L256.8 746.8L257.1 750.4L257.9 750.4L258.3 749.2L258.8 749.2L259.5 756.0L260.3 756.0L260.8 746.1L261.6 746.1L262.0 749.6L262.5 749.6L263.2 757.7L263.9 757.7L264.4 755.0L265.0 755.0L265.6 752.9L266.4 752.9L266.8 758.9L267.4 758.9L268.0 749.7L268.5 749.7L269.2 757.7L269.9 757.7L270.4 757.6L271.1 757.6L271.6 753.3L272.4 753.3L272.8 753.9L273.7 753.9L274.0 762.5L274.6 762.5L275.2 757.7L275.8 757.7L276.4 750.9L277.2 750.9L277.6 750.9L278.2 750.9L278.9 743.9L279.4 743.9L280.1 753.4L280.8 753.4L281.3 748.8L282.2 748.8L282.5 744.1L283.2 744.1L283.7 743.3L284.6 743.3L284.9 748.0L285.5 748.0L286.1 742.1L287.0 742.1L287.3 748.0L287.9 748.0L288.5 737.4L289.0 737.4L289.8 739.9L290.6 739.9L291.0 736.8L291.6 736.8L292.2 730.3L292.8 730.3L293.4 738.3L294.3 738.3L294.6 730.3L295.3 730.3L295.8 733.5L296.7 733.5L297.0 730.3L297.7 730.3L298.2 743.0L298.9 743.0L299.5 743.0L300.2 743.0L300.7 738.6L301.2 738.6L301.9 739.8L302.4 739.8L303.1 741.2L303.7 741.2L303.6 741.4L304.2 741.4L304.1 739.0L304.8 739.0L304.5 765.6L305.4 765.6L305.0 751.7L305.8 751.7L305.5 755.4L306.3 755.4L305.9 746.1L306.8 746.1L306.3 773.0L307.2 773.0L306.8 772.2L307.6 772.2L307.2 764.8L307.7 764.8L307.6 761.0L308.4 761.0L308.0 774.6L308.6 774.6L309.2 781.9L310.0 781.9L310.4 757.2L311.0 757.2L311.6 781.9L312.3 781.9L312.8 761.8L313.5 761.8L314.0 761.8L314.6 761.8L315.2 771.5L315.8 771.5L316.4 769.0L317.3 769.0L317.6 764.5L318.3 764.5L318.8 754.5L319.7 754.5L320.1 769.8L320.8 769.8L321.3 762.1L321.8 762.1L322.5 754.5L323.3 754.5L323.7 754.5L324.2 754.5L324.9 760.0L325.7 760.0L326.1 758.3L326.9 758.3L327.3 761.6L328.1 761.6L328.5 760.2L329.3 760.2L329.7 765.0L330.4 765.0L330.9 756.6L331.8 756.6L332.1 751.5L332.7 751.5L333.3 769.8L334.2 769.8L334.6 758.2L335.5 758.2L335.8 749.7L336.4 749.7L337.0 779.1L337.7 779.1L338.0 776.8L338.5 776.8L338.9 772.2L339.7 772.2L339.9 777.7L340.4 777.7L340.8 785.2L341.5 785.2L341.8 783.9L342.6 783.9L343.0 795.9L343.7 795.9L344.2 778.7L344.8 778.7L345.5 789.5L346.0 789.5L346.7 781.0L347.6 781.0L347.9 788.4L348.8 788.4L349.1 801.2L349.9 801.2L350.3 798.1L351.1 798.1L351.5 795.4L352.0 795.4L352.7 796.6L353.4 796.6L353.9 786.0L354.7 786.0L355.2 791.9L355.7 791.9L356.4 781.0L357.2 781.0L357.6 786.8L358.2 786.8L358.8 794.0L359.4 794.0L360.0 781.0L360.6 781.0L361.2 776.0L362.0 776.0L362.4 783.2L363.0 783.2L363.6 780.8L364.2 780.8L364.8 789.0L365.4 789.0L366.0 769.0L366.6 769.0L367.2 781.9L367.8 781.9L368.4 781.7L369.2 781.7L369.7 781.9L370.2 781.9L370.9 769.0L371.7 769.0L372.1 779.7L372.7 779.7L373.3 773.9L373.8 773.9L374.5 786.7L375.3 786.7L375.7 784.7L376.6 784.7L376.9 786.9L377.6 786.9L378.1 789.1L378.8 789.1L379.4 778.7L380.2 778.7L380.6 792.1L381.1 792.1L381.8 789.2L382.5 789.2L383.0 788.8L383.7 788.8L384.2 796.4L385.1 796.4L385.4 786.6L386.0 786.6L386.6 789.0L387.2 789.0L387.8 779.5L388.7 779.5L389.0 779.9L389.7 779.9L390.2 767.5L390.9 767.5L391.4 781.9L392.1 781.9L392.6 762.5L393.2 762.5L393.8 766.5L394.6 766.5L395.0 765.8"/><path d="M245.0 695.6L246.2 697.0L246.7 697.0L247.4 691.6L247.9 691.6L248.6 702.2L249.2 702.2L249.8 706.7L250.4 706.7L251.0 701.2L251.7 701.2L252.2 711.5L253.1 711.5L253.5 703.9L254.3 703.9L254.7 717.8L255.3 717.8L255.9 713.3L256.4 713.3L257.1 731.4L257.7 731.4L258.3 720.5L258.8 720.5L259.5 719.1L260.0 719.1L260.7 728.6L261.5 728.6L261.9 725.3L262.6 725.3L263.2 727.0L263.9 727.0L264.4 724.5L265.1 724.5L265.6 728.6L266.2 728.6L266.8 718.3L267.6 718.3L268.0 715.3L268.7 715.3L269.2 715.5L269.8 715.5L270.4 719.0L271.3 719.0L271.6 719.0L272.2 719.0L272.8 705.5L273.5 705.5L274.0 704.9L274.6 704.9L275.2 696.3L275.8 696.3L276.4 701.1L277.2 701.1L277.7 703.9L278.4 703.9L278.9 709.2L279.5 709.2L280.1 698.7L280.9 698.7L281.3 702.0L281.9 702.0L282.5 691.6L283.4 691.6L283.7 692.0L284.3 692.0L284.9 701.2L285.8 701.2L286.1 701.2L286.9 701.2L287.4 719.0L288.3 719.0L288.6 717.0L289.1 717.0L289.8 723.8L290.4 723.8L291.0 715.1L291.9 715.1L292.2 717.3L292.8 717.3L293.4 718.9L294.3 718.9L294.6 722.3L295.1 722.3L295.9 733.5L296.4 733.5L297.1 728.4L297.9 728.4L298.3 733.5L298.8 733.5L299.5 733.5L300.3 733.5L300.7 733.5L301.4 733.5L301.9 725.5L302.8 725.5L303.1 729.5"/><path d="M245.0 734.3L246.2 730.3L247.0 730.3L247.4 748.0L248.3 748.0L248.6 739.6L249.4 739.6L249.8 735.2L250.3 735.2L251.0 740.0L251.7 740.0L252.2 748.6L253.1 748.6L253.5 751.0L254.3 751.0L254.7 763.7L255.4 763.7L255.9 767.3L256.7 767.3L257.1 749.7L257.8 749.7L258.3 767.3L259.0 767.3L259.5 762.2L260.3 762.2L260.7 758.6L261.4 758.6L261.9 760.6L262.8 760.6L263.2 767.3L263.7 767.3L264.4 753.0L265.0 753.0L265.6 751.8L266.1 751.8L266.8 751.7L267.6 751.7L268.0 757.7L268.6 757.7L269.2 737.4L269.7 737.4L270.2 752.8L270.9 752.8L271.1 752.8L272.0 752.8L272.1 732.2L272.7 732.2L273.0 746.8L273.5 746.8L274.0 720.6L274.8 720.6L275.2 738.3L275.8 738.3L276.4 727.9L277.0 727.9L277.7 727.3L278.2 727.3L278.9 725.4L279.7 725.4L280.1 725.3L280.6 725.3L281.3 733.5L282.2 733.5L282.5 726.3L283.0 726.3L283.7 736.4L284.3 736.4L284.9 732.6L285.5 732.6L286.1 733.2L286.7 733.2L287.4 743.0L288.2 743.0L288.6 748.0L289.2 748.0L289.8 735.0L290.6 735.0L291.0 739.7L291.7 739.7L292.2 735.0L292.8 735.0L293.4 736.5L294.3 736.5L294.6 746.7L295.4 746.7L295.9 749.0L296.6 749.0L297.1 749.0L297.7 749.0L298.3 757.7L298.8 757.7L299.5 740.0L300.1 740.0L300.7 757.7L301.5 757.7L301.9 757.7L302.8 757.7L303.1 744.0"/><path d="M1150.5 715.0L1150.8 712.1L1151.6 712.1L1151.1 701.4L1151.6 701.4L1151.4 708.0L1152.2 708.0L1151.7 708.8L1152.4 708.8L1152.0 685.9L1152.8 685.9L1152.4 694.5L1152.9 694.5L1152.8 688.8L1153.7 688.8L1153.3 685.9L1154.2 685.9L1153.7 677.3L1154.3 677.3L1154.5 670.9L1155.3 670.9L1155.3 688.6L1156.0 688.6L1155.4 683.7L1155.9 683.7L1155.5 663.7L1156.1 663.7L1155.5 667.1L1156.3 667.1L1155.6 666.3L1156.3 666.3L1155.7 657.5L1156.4 657.5L1155.8 659.7L1156.5 659.7L1155.8 645.0L1156.5 645.0L1155.9 653.5L1156.8 653.5L1156.0 644.6L1156.7 644.6L1156.8 637.8L1157.6 637.8L1157.7 636.8L1158.4 636.8L1158.5 640.8L1159.2 640.8L1160.0 643.7L1160.7 643.7L1160.3 656.2L1161.0 656.2L1160.6 652.3L1161.1 652.3L1160.9 643.3L1161.8 643.3L1161.2 648.0L1161.7 648.0L1161.5 660.8L1162.0 660.8L1161.8 666.3L1162.7 666.3L1162.6 660.9L1163.3 660.9L1163.4 645.2L1164.1 645.2L1163.8 653.4L1164.5 653.4L1164.2 651.6L1165.1 651.6L1164.6 642.1L1165.4 642.1L1165.0 655.8L1165.6 655.8L1166.6 640.4L1167.4 640.4L1166.8 637.1L1167.7 637.1L1166.9 657.0L1167.5 657.0L1167.1 660.1L1167.6 660.1L1167.2 665.0L1167.8 665.0L1167.4 655.8L1168.2 655.8L1167.5 658.8L1168.1 658.8L1167.6 663.5L1168.2 663.5L1167.7 677.1L1168.6 677.1L1167.9 669.9L1168.4 669.9L1168.0 664.5L1168.9 664.5L1168.1 683.5L1169.0 683.5L1168.2 680.2L1169.0 680.2L1168.5 681.0L1169.4 681.0L1168.8 672.3L1169.6 672.3L1169.1 677.9L1169.9 677.9L1169.3 666.2L1170.2 666.2L1169.6 665.9L1170.2 665.9L1169.9 646.6L1170.2 646.6L1170.2 660.0"/><path d="M112.4 797.0L112.7 809.0L113.3 809.0L113.9 809.0L114.3 809.0L115.0 819.0L115.7 819.0L116.3 815.7L117.2 815.7L117.7 813.2L118.5 813.2L119.0 816.3L119.6 816.3L120.3 805.0L121.1 805.0L121.7 804.0L122.2 804.0L123.0 804.0L123.9 804.0L124.3 822.0L124.8 822.0L125.7 813.6L126.1 813.6L127.0 819.7L127.7 819.7L128.3 813.6L128.9 813.6L129.7 808.0L130.3 808.0L131.0 801.0L131.7 801.0L132.3 801.0L132.8 801.0L133.7 816.0L134.3 816.0L135.0 815.6L135.5 815.6L136.3 805.0L137.1 805.0L137.7 801.4L138.5 801.4L139.0 799.3L139.6 799.3L140.0 807.5L140.5 807.5L141.0 807.7L141.5 807.7L142.0 796.0L142.7 796.0L143.0 816.0L143.5 816.0L144.3 801.8L145.2 801.8L145.7 809.0L146.5 809.0L147.0 803.7L147.8 803.7L148.3 809.0L148.9 809.0L149.7 805.8L150.2 805.8L151.0 791.0L151.8 791.0L152.3 804.0L153.1 804.0L153.7 791.0L154.2 791.0L155.0 804.0L155.6 804.0L156.3 795.2L157.1 795.2L157.7 804.0L158.3 804.0L159.0 781.0L159.8 781.0L160.3 781.0L161.2 781.0L161.7 786.6L162.4 786.6L163.0 794.0L163.5 794.0L164.3 794.0L165.1 794.0L165.7 794.0L166.2 794.0L167.0 789.2L167.5 789.2L168.3 776.0L168.8 776.0L169.7 782.1L170.3 782.1L171.0 780.0"/><path d="M112.4 797.0L112.8 801.0L113.5 801.0L114.0 804.0L114.7 804.0L115.3 804.0L115.9 804.0L116.7 798.8L117.3 798.8L118.0 800.6L118.8 800.6L119.3 791.0L119.8 791.0L120.7 804.0L121.3 804.0L122.0 804.0L122.5 804.0L123.3 799.0L124.2 799.0L124.7 791.3L125.2 791.3L126.0 790.7L126.5 790.7L127.3 791.1L128.1 791.1L128.7 799.0L129.3 799.0L130.0 786.0L130.5 786.0L131.3 797.1L131.8 797.1L132.7 794.3L133.5 794.3L134.0 804.0L134.5 804.0L135.3 790.7L136.0 790.7L136.7 786.6L137.1 786.6L138.0 781.0L138.7 781.0L139.3 781.0L140.1 781.0L140.7 781.0L141.3 781.0L142.0 790.2L142.6 790.2L143.3 784.8L144.2 784.8L144.7 794.0L145.5 794.0L146.0 787.6L146.7 787.6L147.3 776.0L148.0 776.0L148.7 789.0L149.4 789.0L150.0 785.4L150.7 785.4L151.3 773.1L152.0 773.1L152.7 771.0L153.4 771.0L154.0 775.9L154.5 775.9L155.3 772.9L156.2 772.9L156.7 779.0L157.5 779.0L158.0 766.0L158.6 766.0L159.3 779.0L160.0 779.0L160.7 775.5L161.3 775.5L162.0 779.0L162.8 779.0L163.3 761.0L164.1 761.0L164.7 769.5L165.2 769.5L166.0 764.5L166.8 764.5L167.3 769.0L168.2 769.0L168.7 769.0L169.5 769.0L170.0 760.0"/><path d="M112.4 797.0L112.4 819.1L113.3 819.1L112.9 793.0L113.8 793.0L113.5 800.2L114.2 800.2L114.1 821.6L114.6 821.6L114.7 814.2L115.7 814.2L115.4 798.1L116.1 798.1L116.0 821.9L116.6 821.9L117.3 832.0L118.0 832.0L118.7 825.9L119.2 825.9L120.0 816.0L120.9 816.0L121.3 832.0L122.0 832.0L122.7 821.0L123.2 821.0L124.0 811.0L124.8 811.0L125.3 819.5L126.1 819.5L126.7 815.3L127.4 815.3L128.0 826.0L128.5 826.0L129.3 824.8L130.2 824.8L130.7 811.0L131.3 811.0L132.0 811.0L132.7 811.0L133.3 821.7L133.9 821.7L134.7 811.0L135.3 811.0L136.0 813.2L136.6 813.2L137.3 819.0L138.1 819.0L138.7 804.0L139.3 804.0L140.0 807.9L140.9 807.9L141.3 804.0L142.0 804.0L142.7 804.0L143.5 804.0L144.0 813.1L144.5 813.1L145.3 801.6L145.9 801.6L146.7 807.1L147.3 807.1L148.0 802.9L148.7 802.9L149.3 805.0L150.0 805.0L150.7 801.0L151.6 801.0L152.0 812.0L152.6 812.0L153.3 806.1L153.8 806.1L154.7 796.0L155.2 796.0L156.0 808.7L156.8 808.7L157.3 791.0L157.8 791.0L158.7 804.0L159.4 804.0L160.0 795.0"/><path d="M112.4 799.0L112.8 794.0L113.7 794.0L114.0 803.0L114.5 803.0L115.2 794.7L115.8 794.7L116.4 794.8L117.1 794.8L117.6 795.9L118.2 795.9L118.8 788.0L119.6 788.0L120.0 796.0L120.6 796.0L121.1 796.0L121.7 796.0L122.2 786.9L122.9 786.9L123.3 796.0L123.9 796.0L124.4 785.8L125.1 785.8L125.6 787.9L126.1 787.9L126.7 792.7L127.1 792.7L127.8 788.2L128.6 788.2L128.9 791.6L129.5 791.6L130.0 783.0L130.6 783.0L131.1 782.2L131.7 782.2L132.2 787.3L132.9 787.3L133.3 780.7L134.0 780.7L134.4 779.9L135.0 779.9L135.6 776.0L136.4 776.0L136.7 786.3L137.5 786.3L137.8 776.0L138.4 776.0L138.9 781.3L139.8 781.3L140.0 778.4L140.8 778.4L141.1 779.7L141.8 779.7L142.2 778.5L142.8 778.5L143.3 774.0L144.1 774.0L144.4 773.3L145.0 773.3L145.6 775.7L146.3 775.7L146.7 770.0L147.2 770.0L147.8 779.3L148.4 779.3L148.9 775.7L149.6 775.7L150.0 770.0L150.7 770.0L151.1 769.3L151.9 769.3L152.2 778.0L153.0 778.0L153.3 768.0L154.0 768.0L154.4 778.0L155.1 778.0L155.6 770.0L156.2 770.0L156.7 771.9L157.6 771.9L157.8 773.3L158.3 773.3L158.9 769.2L159.7 769.2L160.0 764.0L160.8 764.0L161.1 767.0L161.7 767.0L162.2 765.1L163.1 765.1L163.3 772.0L164.2 772.0L164.4 760.9L165.1 760.9L165.6 765.0L166.4 765.0L166.7 762.1L167.3 762.1L167.8 764.3L168.4 764.3L168.9 761.0L169.6 761.0L170.0 757.0L170.8 757.0L171.1 756.2L171.7 756.2L172.2 761.1L172.9 761.1L173.3 760.5L174.0 760.5L174.4 763.5L174.9 763.5L175.6 758.2L176.3 758.2L176.7 757.6L177.4 757.6L177.8 750.0L178.6 750.0L178.9 756.2L179.4 756.2L180.0 754.0L180.8 754.0L181.1 752.1L181.8 752.1L182.2 758.0L183.1 758.0L183.3 750.6L184.1 750.6L184.4 758.0L185.1 758.0L185.6 749.8L186.3 749.8L186.7 744.0L187.4 744.0L187.8 749.7L188.4 749.7L188.9 744.0L189.5 744.0L190.0 749.0L190.6 749.0L191.1 743.3L191.7 743.3L192.2 752.0L193.0 752.0L193.3 744.2L194.2 744.2L194.4 744.3L195.0 744.3L195.6 738.0L196.1 738.0L196.7 748.0L197.3 748.0L197.8 738.0L198.6 738.0L198.9 746.7L199.4 746.7L200.0 746.0L200.8 746.0L201.1 737.4L201.6 737.4L202.2 741.4L202.9 741.4L203.3 740.2L204.0 740.2L204.4 739.8L205.2 739.8L205.6 743.2L206.2 743.2L206.7 740.2L207.2 740.2L207.8 739.4L208.5 739.4L208.9 733.0L209.6 733.0L210.0 741.0L210.7 741.0L211.1 732.3L211.7 732.3L212.2 734.3L212.8 734.3L213.3 734.4L214.2 734.4L214.4 730.3L215.3 730.3L215.6 737.7L216.1 737.7L216.7 737.0L217.5 737.0L217.8 732.1L218.6 732.1L218.9 735.7L219.4 735.7L220.0 735.0L220.6 735.0L221.1 730.7L221.9 730.7L222.2 729.1L222.7 729.1L223.3 727.5L224.2 727.5L224.4 727.4L225.0 727.4L225.6 721.0L226.4 721.0L226.7 731.0L227.5 731.0L227.8 725.6L228.6 725.6L228.9 724.7L229.6 724.7L230.0 725.2L230.5 725.2L231.1 720.2L231.9 720.2L232.2 719.4L233.0 719.4L233.3 721.1L234.1 721.1L234.4 724.0L234.9 724.0L235.6 721.4L236.1 721.4L236.7 724.3L237.5 724.3L237.8 723.6L238.4 723.6L238.9 722.8L239.8 722.8L240.0 714.0L240.8 714.0L241.1 717.8L241.8 717.8L242.2 717.2L243.0 717.2L243.3 714.5L244.2 714.5L244.4 716.0L245.3 716.0L245.6 714.1L246.1 714.1L246.7 713.1L247.3 713.1L247.8 714.9L248.7 714.9L248.9 716.7L249.4 716.7L250.0 710.5L250.6 710.5L251.1 712.5L251.7 712.5L252.2 706.2L252.8 706.2L253.3 705.3L254.2 705.3L254.4 715.3L254.9 715.3L255.6 708.8L256.1 708.8L256.7 707.0L257.4 707.0L257.8 705.2L258.5 705.2L258.9 703.7L259.5 703.7L260.0 700.0L260.5 700.0L261.1 708.0L261.9 708.0L262.2 705.2L262.8 705.2L263.3 698.7L264.1 698.7L264.4 700.5L265.2 700.5L265.6 705.8L266.2 705.8L266.7 696.0L267.2 696.0L267.8 704.9L268.3 704.9L268.9 704.4L269.7 704.4L270.0 699.6L270.9 699.6L271.1 698.5L271.7 698.5L272.2 696.9L273.1 696.9L273.3 694.0L274.1 694.0L274.4 693.3L275.3 693.3L275.6 700.7L276.1 700.7L276.7 700.0L277.4 700.0L277.8 690.0L278.6 690.0L278.9 696.7L279.6 696.7L280.0 694.0"/><path d="M112.4 801.0L112.8 806.0L113.4 806.0L114.0 807.0L114.8 807.0L115.2 802.8L115.7 802.8L116.4 812.0L117.2 812.0L117.6 812.0L118.4 812.0L118.8 812.0L119.4 812.0L120.0 812.0L120.7 812.0L121.1 812.0L121.8 812.0L122.2 808.2L123.1 808.2L123.3 802.3L124.1 802.3L124.4 801.8L125.1 801.8L125.6 799.0L126.4 799.0L126.7 803.7L127.4 803.7L127.8 804.6L128.6 804.6L128.9 799.0L129.7 799.0L130.0 807.0L130.8 807.0L131.1 807.0L131.9 807.0L132.2 797.9L133.0 797.9L133.3 801.1L133.9 801.1L134.4 796.8L134.9 796.8L135.6 798.7L136.2 798.7L136.7 794.0L137.6 794.0L137.8 800.4L138.3 800.4L138.9 802.6L139.5 802.6L140.0 799.8L140.5 799.8L141.1 793.4L141.8 793.4L142.2 796.6L142.7 796.6L143.3 802.0L143.9 802.0L144.4 793.6L145.2 793.6L145.6 789.0L146.0 789.0L146.7 796.7L147.2 796.7L147.8 789.0L148.6 789.0L148.9 795.4L149.5 795.4L150.0 789.0L150.5 789.0L151.1 797.0L151.6 797.0L152.2 787.7L152.8 787.7L153.3 789.2L154.2 789.2L154.4 788.9L155.3 788.9L155.6 793.7L156.1 793.7L156.7 787.1L157.2 787.1L157.8 792.3L158.5 792.3L158.9 791.7L159.7 791.7L160.0 785.8L160.6 785.8L161.1 784.4L161.6 784.4L162.2 781.0L163.1 781.0L163.3 791.0L164.1 791.0L164.4 791.0L165.4 791.0L165.6 782.6L166.3 782.6L166.7 775.0L167.4 775.0L167.8 779.5L168.3 779.5L168.9 774.0L169.8 774.0L170.0 779.6L170.8 779.6L171.1 772.9L172.0 772.9L172.2 771.8L173.1 771.8L173.3 775.8L174.0 775.8L174.4 782.0L175.3 782.0L175.6 764.0L176.5 764.0L176.7 764.0L177.2 764.0L177.8 774.2L178.2 774.2L178.9 764.0L179.7 764.0L180.0 764.0L180.9 764.0L181.1 763.3L182.0 763.3L182.2 772.0L182.8 772.0L183.3 772.0L184.2 772.0L184.4 764.0L185.1 764.0L185.6 758.0L186.3 758.0L186.7 762.7L187.3 762.7L187.8 767.3L188.3 767.3L188.9 766.7L189.5 766.7L190.0 758.0L190.6 758.0L191.1 760.8L191.8 760.8L192.2 766.0L193.0 766.0L193.3 761.2L193.9 761.2L194.4 754.9L195.0 754.9L195.6 757.1L196.3 757.1L196.7 751.0L197.4 751.0L197.8 760.6L198.4 760.6L198.9 754.9L199.8 754.9L200.0 759.0L200.8 759.0L201.1 752.9L202.0 752.9L202.2 759.0L202.8 759.0L203.3 751.3L204.2 751.3L204.4 750.3L205.2 750.3L205.6 744.0L206.1 744.0L206.7 754.3L207.5 754.3L207.8 744.0L208.6 744.0L208.9 744.0L209.8 744.0L210.0 752.0L210.8 752.0L211.1 752.0L211.9 752.0L212.2 744.9L212.7 744.9L213.3 744.5L213.9 744.5L214.4 740.9L215.2 740.9L215.6 742.2L216.3 742.2L216.7 737.0L217.5 737.0L217.8 737.0L218.3 737.0L218.9 737.0L219.8 737.0L220.0 737.0L220.8 737.0L221.1 741.0L221.6 741.0L222.2 745.0L223.0 745.0L223.3 745.0L223.9 745.0L224.4 733.4L225.3 733.4L225.6 737.8L226.0 737.8L226.7 729.0L227.6 729.0L227.8 738.8L228.7 738.8L228.9 729.0L229.5 729.0L230.0 732.1L230.7 732.1L231.1 728.1L231.9 728.1L232.2 737.0L232.8 737.0L233.3 737.0L234.0 737.0L234.4 731.1L235.0 731.1L235.6 721.0L236.4 721.0L236.7 727.3L237.2 727.3L237.8 730.8L238.6 730.8L238.9 721.0L239.6 721.0L240.0 725.0L240.9 725.0L241.1 722.7L241.6 722.7L242.2 722.1L243.0 722.1L243.3 723.4L244.0 723.4L244.4 720.2L245.2 720.2L245.6 725.1L246.1 725.1L246.7 714.2L247.2 714.2L247.8 718.0L248.4 718.0L248.9 714.0L249.7 714.0L250.0 722.0L250.8 722.0L251.1 718.0L251.9 718.0L252.2 712.7L253.0 712.7L253.3 722.0L254.2 722.0L254.4 714.0L255.1 714.0L255.6 715.3L256.3 715.3L256.7 718.0L257.5 718.0L257.8 713.0L258.5 713.0L258.9 712.1L259.6 712.1L260.0 716.0L260.7 716.0L261.1 707.6L261.6 707.6L262.2 707.1L263.1 707.1L263.3 710.5L264.0 710.5L264.4 712.0L265.1 712.0L265.6 710.7L266.4 710.7L266.7 713.3L267.4 713.3L267.8 712.9L268.5 712.9L268.9 712.4L269.4 712.4L270.0 708.0"/><path d="M111.6 777.5V829.5" stroke-width="2.8"/></g><path d="M111.6 794.0L113.9 794.0L121.1 786.1L123.1 786.1L128.5 780.4L131.0 780.4L136.4 774.7L138.7 774.7L145.9 766.8L148.0 766.8L151.6 763.2L154.1 763.2L157.7 759.8L160.6 759.8L162.4 757.9L165.2 757.9L174.2 748.2L175.8 748.2L177.6 748.2L182.1 743.3L183.8 743.3L185.8 743.3L190.3 738.4L193.1 738.4L197.6 733.7L200.0 733.7L204.5 729.1L206.0 729.1L208.5 729.1L214.8 722.3L216.5 722.3L221.0 717.6L223.6 717.6L227.2 713.6L228.9 713.6L233.4 708.7L235.4 708.7L237.2 708.7L247.1 698.1L249.2 698.1L251.9 695.1L253.9 695.1L256.6 692.4L258.3 692.4L261.9 688.8L264.1 688.8L267.7 685.0L270.8 685.0L276.2 679.0L278.1 679.0L281.7 675.2L284.7 675.2L290.1 669.4L292.9 669.4L298.3 663.6L301.1 663.6L306.5 657.6L308.5 657.6L310.3 657.6L317.5 650.0L319.1 650.0L321.6 650.0L330.6 640.0L333.6 640.0L341.7 631.2L344.0 631.2L348.5 626.3L350.4 626.3L352.5 626.3L357.0 621.5L359.7 621.5L364.2 616.8L367.2 616.8L370.8 612.9L372.8 612.9L377.3 608.1L379.6 608.1L384.1 603.3L386.5 603.3L391.0 598.5L393.6 598.5L397.2 594.8L400.3 594.8L407.5 586.8L409.9 586.8L416.2 580.0L418.6 580.0L424.0 574.2L426.9 574.2L433.2 567.5L435.3 567.5L438.0 564.6L440.8 564.6L445.3 559.7L448.4 559.7L452.9 554.9L456.0 554.9L460.5 550.1L462.6 550.1L466.2 546.4L467.7 546.4L470.2 546.4L475.6 540.8L478.7 540.8L481.4 537.9L484.1 537.9L486.8 535.0L488.3 535.0L489.9 535.0L493.5 531.5L495.5 531.5L497.3 531.5L499.1 531.5L501.8 531.5L508.1 524.7L510.2 524.7L514.7 520.0L516.2 520.0L519.8 516.2L521.8 516.2L527.2 510.5L530.1 510.5L535.5 504.9L537.1 504.9L539.0 504.9L543.5 499.9L546.5 499.9L551.0 495.0L554.2 495.0L557.8 491.1L559.5 491.1L562.5 491.1L567.0 486.1L569.9 486.1L574.4 481.4L577.5 481.4L582.0 476.6L583.8 476.6L586.9 476.6L591.4 471.9L593.0 471.9L596.2 471.9L598.9 469.2L602.0 469.2L607.4 463.6L609.9 463.6L615.3 457.6L617.8 457.6L623.2 451.8L624.8 451.8L627.9 451.8L635.1 444.1L637.8 444.1L644.1 437.5L647.2 437.5L651.7 432.5L654.2 432.5L661.4 424.7L663.9 424.7L669.3 418.8L672.1 418.8L675.7 415.1L677.6 415.1L681.2 411.4L683.4 411.4L687.0 407.4L689.7 407.4L694.2 402.5L696.6 402.5L699.1 402.5L705.4 395.7L708.0 395.7L711.6 392.0L713.8 392.0L716.0 392.0L720.5 387.0L723.6 387.0L727.2 383.3L730.0 383.3L732.7 380.4L734.6 380.4L737.3 377.4L739.2 377.4L742.1 377.4L747.5 371.7L749.3 371.7L750.9 371.7L757.2 364.9L758.9 364.9L761.3 364.9L768.5 357.3L770.6 357.3L772.3 357.3L776.8 352.6L778.9 352.6L780.8 352.6L784.4 348.8L787.2 348.8L791.7 343.8L793.4 343.8L794.9 343.8L798.5 339.9L800.3 339.9L802.5 339.9L807.0 335.2L809.7 335.2L812.4 332.3L814.7 332.3L817.4 329.8L819.4 329.8L822.4 329.8L826.0 325.9L828.1 325.9L830.5 325.9L834.1 322.1L836.8 322.1L839.8 322.1L846.1 315.5L847.6 315.5L850.5 315.5L855.9 309.5L857.7 309.5L864.9 301.6L867.3 301.6L874.5 293.9L876.8 293.9L881.3 289.1L884.1 289.1L889.5 283.3L891.9 283.3L893.4 283.3L895.2 281.5L897.5 281.5L899.6 281.5L905.9 274.9L908.7 274.9L912.3 270.9L915.0 270.9L919.5 266.2L921.0 266.2L923.6 266.2L929.0 260.4L931.7 260.4L935.3 256.5L937.7 256.5L942.2 251.8L944.6 251.8L946.4 251.8L952.7 245.0L955.3 245.0L960.7 239.2L962.9 239.2L965.6 236.5L967.6 236.5L969.4 237.9L972.4 237.9L974.7 237.9L981.0 230.9L983.9 230.9L990.2 224.1L991.8 224.1L996.3 219.2L998.8 219.2L1004.2 213.3L1005.9 213.3L1007.8 213.3L1011.4 209.7L1014.4 209.7L1017.1 207.2L1018.9 207.2L1022.0 207.2L1027.4 201.2L1029.1 201.2L1032.7 197.5L1035.3 197.5L1040.7 191.8L1042.7 191.8L1046.3 188.1L1049.2 188.1L1055.5 181.4L1057.4 181.4L1060.3 181.4L1065.7 175.8L1068.3 175.8L1070.0 175.8L1072.7 173.1L1074.6 173.1L1077.8 173.1L1080.5 170.6L1082.6 170.6L1088.0 164.6L1090.1 164.6L1093.0 164.6L1100.2 156.8L1103.2 156.8L1106.8 153.1L1109.4 153.1L1113.0 149.6L1114.8 149.6L1116.5 149.6L1120.1 145.8L1121.8 145.8L1124.2 145.8L1127.8 141.9L1129.5 141.9L1132.2 141.9L1135.8 138.2L1138.1 138.2L1140.8 135.6L1143.9 135.6L1156.5 121.7L1158.7 121.7L1162.0 117.7L1163.2 116.2L1171.0 116.2" fill="none" stroke="#000" stroke-width="1.8" stroke-linejoin="round"/><path d="M265.2 162.4L583.5 464.8" stroke="#000" stroke-width="1.6" fill="none"/><path d="M599.8 477.5L582.6 448.2L582.7 465.1L565.6 465.4Z" fill="#000" stroke="#000" stroke-width="0.8" stroke-linejoin="miter"/><text transform="translate(313.3 165.3) scale(1 1.035)" font-size="31.7">Mean</text>
<g font-size="32.7">
<text transform="translate(111.90 929.6) scale(1 1.03)" text-anchor="middle">0</text><text transform="translate(217.84 929.6) scale(1 1.03)" text-anchor="middle">0.1</text><text transform="translate(323.78 929.6) scale(1 1.03)" text-anchor="middle">0.2</text><text transform="translate(429.72 929.6) scale(1 1.03)" text-anchor="middle">0.3</text><text transform="translate(535.66 929.6) scale(1 1.03)" text-anchor="middle">0.4</text><text transform="translate(641.60 929.6) scale(1 1.03)" text-anchor="middle">0.5</text><text transform="translate(747.54 929.6) scale(1 1.03)" text-anchor="middle">0.6</text><text transform="translate(853.48 929.6) scale(1 1.03)" text-anchor="middle">0.7</text><text transform="translate(959.42 929.6) scale(1 1.03)" text-anchor="middle">0.8</text><text transform="translate(1065.36 929.6) scale(1 1.03)" text-anchor="middle">0.9</text><text transform="translate(1171.30 929.6) scale(1 1.03)" text-anchor="middle">1</text><text transform="translate(103.3 903.05) scale(1 1.03)" text-anchor="end">4.5</text><text transform="translate(103.3 810.25) scale(1 1.03)" text-anchor="end">5</text><text transform="translate(103.3 717.45) scale(1 1.03)" text-anchor="end">5.5</text><text transform="translate(103.3 624.65) scale(1 1.03)" text-anchor="end">6</text><text transform="translate(103.3 531.85) scale(1 1.03)" text-anchor="end">6.5</text><text transform="translate(103.3 439.05) scale(1 1.03)" text-anchor="end">7</text><text transform="translate(103.3 346.25) scale(1 1.03)" text-anchor="end">7.5</text><text transform="translate(103.3 253.45) scale(1 1.03)" text-anchor="end">8</text><text transform="translate(103.3 160.65) scale(1 1.03)" text-anchor="end">8.5</text><text transform="translate(103.3 67.85) scale(1 1.03)" text-anchor="end">9</text>
</g>
<text transform="translate(636.2 31.5) scale(1 1.055)" font-size="35.45" text-anchor="middle">Evolution of inventory</text>
<text transform="translate(639.8 979) scale(1 1)" font-size="43" text-anchor="middle">t</text>
<text transform="translate(34.4 475.1) rotate(-90) scale(1 1.06)" font-size="38.3" text-anchor="middle">x(t)</text>
</svg>
</body></html>
